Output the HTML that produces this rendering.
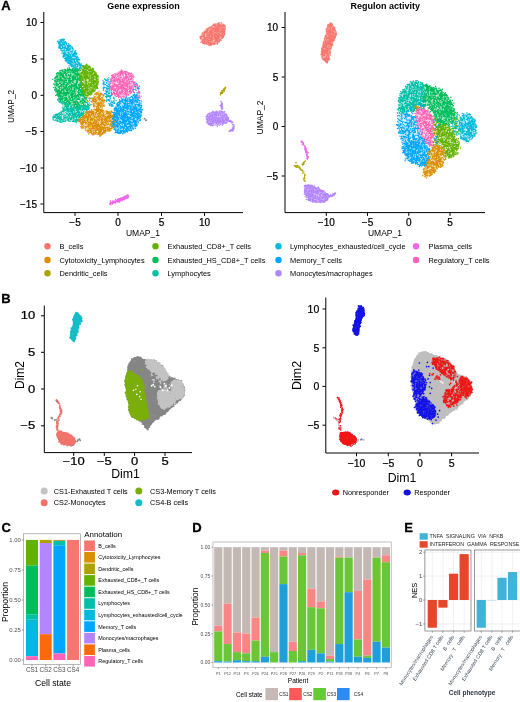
<!DOCTYPE html>
<html><head><meta charset="utf-8"><title>Figure</title>
<style>
html,body{margin:0;padding:0;background:#fff}
svg{display:block;font-family:"Liberation Sans",Arial,sans-serif}
svg text{white-space:pre}
</style></head><body>
<svg width="520" height="702" viewBox="0 0 520 702">
<rect width="520" height="702" fill="#fff"/>
<!-- Panel A -->
<text x="1.2" y="10.4" font-size="13" font-weight="bold" stroke="#000" stroke-width="0.3">A</text>
<text x="143.5" y="8.7" font-size="9" text-anchor="middle" font-weight="bold">Gene expression</text>
<text x="385.3" y="8.7" font-size="9" text-anchor="middle" font-weight="bold">Regulon activity</text>
<path d="M43.8 12V212.6H243" stroke="#000" stroke-width="1" fill="none"/>
<path d="M40.5 22.5h3M40.5 59h3M40.5 95.3h3M40.5 131.5h3M40.5 168h3M40.5 204h3M75 212.6v3.3M118 212.6v3.3M161.5 212.6v3.3M204.5 212.6v3.3" stroke="#000" stroke-width="1" fill="none"/>
<g stroke="#000" stroke-width="0.22">
<text x="37.0" y="26.1" font-size="10" text-anchor="end">10</text>
<text x="37.0" y="62.6" font-size="10" text-anchor="end">5</text>
<text x="37.0" y="98.9" font-size="10" text-anchor="end">0</text>
<text x="37.0" y="135.1" font-size="10" text-anchor="end">−5</text>
<text x="37.0" y="171.6" font-size="10" text-anchor="end">−10</text>
<text x="37.0" y="207.6" font-size="10" text-anchor="end">−15</text>
<text x="75" y="226.1" font-size="10" text-anchor="middle">−5</text>
<text x="118" y="226.1" font-size="10" text-anchor="middle">0</text>
<text x="161.5" y="226.1" font-size="10" text-anchor="middle">5</text>
<text x="204.5" y="226.1" font-size="10" text-anchor="middle">10</text>
</g>
<text font-size="8.3" text-anchor="middle" transform="translate(14.3 106.5) rotate(-90)">UMAP_2</text>
<text x="143" y="235.5" font-size="8.5" text-anchor="middle">UMAP_1</text>
<path d="M58.1 39.7L60.0 38.8L62.3 39.1L64.8 40.7L67.1 42.6L69.0 44.7L71.3 46.7L74.0 48.7L76.0 51.7L77.3 55.7L78.6 59.3L79.8 62.5L81.4 64.8L83.4 66.1L83.3 67.9L81.3 69.9L78.7 70.6L75.5 70.0L72.2 68.0L69.0 64.7L66.3 61.0L64.3 57.0L62.3 53.4L60.5 50.1L59.0 46.4L57.8 42.2Z" fill="#00BADE" fill-opacity="0.38"/>
<path d="M57.5 72.5L60.7 70.5L64.5 69.2L69.0 68.6L73.3 68.6L77.4 69.2L79.8 71.4L80.5 75.2L81.2 79.7L81.9 84.9L82.9 89.4L84.1 93.3L85.3 96.5L86.5 99.1L86.5 102.0L85.2 105.5L82.2 107.5L77.4 108.2L72.5 107.5L67.4 105.7L62.9 102.7L59.0 98.5L56.1 93.9L54.2 88.8L53.9 83.0L55.2 76.6Z" fill="#00BD5C" fill-opacity="0.38"/>
<path d="M59.1 98.7L62.9 101.7L67.5 104.3L72.8 106.2L77.6 106.9L82.0 106.4L85.4 105.5L87.8 104.2L88.7 105.5L88.2 109.3L86.9 112.9L84.6 116.1L81.7 119.1L78.3 121.8L75.3 122.6L72.7 121.3L69.1 121.0L64.5 121.6L60.3 121.9L56.5 121.8L53.8 120.8L52.1 118.7L52.0 116.6L53.3 114.6L56.0 113.3L60.0 112.6L62.3 110.9L63.0 108.1L62.1 105.2L59.7 102.3L58.1 99.9L57.5 98.1Z" fill="#00C1A7" fill-opacity="0.38"/>
<path d="M81.1 67.2L84.5 64.9L88.2 65.2L92.2 68.1L95.5 71.5L98.2 75.4L99.3 79.6L98.9 84.2L97.2 88.2L94.4 91.5L91.2 94.2L87.9 96.1L85.1 95.7L83.0 93.0L81.5 88.7L80.5 82.9L79.9 77.1L79.6 71.3Z" fill="#64B200" fill-opacity="0.38"/>
<path d="M94.2 94.4L96.8 92.1L99.2 91.8L101.8 93.4L103.6 95.8L104.7 98.9L104.9 101.9L104.3 104.8L103.1 107.2L101.4 109.1L99.1 109.9L96.4 109.6L94.2 108.1L92.8 105.4L92.2 101.9L92.8 97.6Z" fill="#DB8E00" fill-opacity="0.38"/>
<path d="M80.9 118.0L84.2 114.1L88.1 111.3L92.7 109.6L97.5 109.0L102.7 109.6L107.3 110.7L111.2 112.4L113.7 116.2L114.7 122.1L113.8 126.8L110.9 130.1L106.4 132.9L100.5 135.1L95.2 135.3L90.7 133.5L86.5 131.1L82.5 128.0L80.2 124.8L79.6 121.6Z" fill="#DB8E00" fill-opacity="0.38"/>
<path d="M116.1 104.1L119.4 100.6L124.6 98.3L131.7 97.3L136.9 98.1L140.2 100.8L141.7 106.0L141.4 113.7L140.1 119.9L137.9 124.5L134.5 128.1L129.9 130.7L125.0 132.6L119.9 133.8L116.2 132.8L114.2 129.5L113.0 124.6L112.7 118.2L113.0 112.7L113.9 108.2Z" fill="#00A6FF" fill-opacity="0.38"/>
<path d="M108.0 99.7h0M105.7 93.7h0M106.7 83.1h0M109.7 85.1h0M107.4 91.4h0M106.5 94.9h0M109.9 97.3h0M103.6 90.3h0M109.3 100.2h0M110.2 85.2h0M103.9 83.8h0M110.4 102.9h0M111.0 92.1h0M108.9 99.4h0M111.3 104.2h0M103.0 83.8h0M106.5 80.7h0M103.2 87.9h0M106.8 97.5h0M107.0 89.0h0M106.8 82.7h0M103.5 83.0h0M110.3 85.8h0M112.4 105.0h0M112.0 105.7h0M106.7 91.7h0M106.7 85.8h0M106.3 100.4h0M104.3 82.1h0M107.9 86.0h0M110.3 83.2h0M111.3 90.2h0M107.0 94.2h0M106.2 80.1h0M103.4 88.8h0M113.9 103.5h0M112.0 102.8h0M109.2 92.0h0M108.9 88.5h0M110.5 96.4h0M109.8 101.3h0M107.8 96.0h0M107.3 88.4h0M110.3 81.2h0M108.9 84.4h0M110.0 95.4h0M109.2 90.3h0M111.4 93.8h0M111.6 94.8h0M111.7 95.2h0M104.4 93.8h0M108.9 103.6h0M105.5 84.5h0M108.1 84.0h0M111.1 105.5h0M114.0 98.6h0M107.8 88.5h0M106.8 94.4h0M105.2 87.6h0M108.2 100.6h0M108.6 93.8h0M104.8 87.4h0" stroke="#00A6FF" stroke-width="1.45" stroke-linecap="round" fill="none"/>
<path d="M106.6 92.5h0M108.1 79.5h0M106.5 82.6h0M106.2 91.0h0M103.7 82.1h0M106.9 87.8h0M108.0 80.4h0M105.5 91.0h0M108.1 81.7h0M107.3 78.9h0M112.3 102.5h0M111.5 101.0h0M112.8 102.4h0M113.1 105.9h0M108.8 96.0h0M113.5 98.0h0M104.3 87.7h0M111.1 95.4h0M107.7 91.2h0M110.7 84.0h0M110.9 87.2h0M109.3 87.7h0M110.8 105.1h0M107.4 96.2h0M114.5 103.2h0M107.8 80.8h0M110.3 98.7h0M106.4 92.5h0M104.6 84.6h0M105.5 96.4h0M105.7 80.6h0M103.0 80.8h0M111.5 92.2h0M108.6 95.5h0M109.6 96.4h0M106.6 99.1h0M113.3 101.1h0M113.9 97.3h0M103.8 86.9h0M112.2 105.2h0M103.9 84.7h0" stroke="#00BADE" stroke-width="1.45" stroke-linecap="round" fill="none"/>
<path d="M106.3 96.4h0M105.5 79.4h0M103.6 95.2h0M110.6 83.1h0M116.0 100.5h0M114.3 102.3h0M109.3 89.3h0M107.5 90.1h0M108.3 86.7h0M109.5 105.5h0M108.0 88.6h0M107.6 86.2h0M108.0 92.2h0M108.6 96.0h0M106.8 101.3h0M113.9 101.7h0M109.5 93.4h0M109.5 104.4h0M108.5 96.5h0M108.8 77.6h0M106.4 88.9h0M109.3 86.6h0M104.6 79.0h0M111.8 106.2h0M114.2 100.0h0" stroke="#00C1A7" stroke-width="1.45" stroke-linecap="round" fill="none"/>
<path d="M133.2 91.1h0M134.8 100.2h0M139.3 86.3h0M139.1 92.6h0M139.2 88.6h0M133.2 95.2h0M134.2 95.9h0M136.1 99.2h0M136.4 83.4h0M135.5 97.0h0M137.5 88.7h0M134.4 92.8h0M138.3 87.6h0M137.1 92.7h0M138.2 92.8h0M133.0 98.5h0M134.5 97.5h0M137.0 85.0h0M137.2 99.2h0M133.0 89.2h0M132.1 87.4h0M137.3 95.9h0M139.0 91.5h0M135.3 95.1h0M134.8 86.4h0M134.8 94.8h0M138.5 89.0h0M133.3 94.9h0M139.2 91.9h0M139.2 97.3h0M131.6 89.3h0M134.1 84.2h0M132.2 90.3h0M139.0 95.9h0M137.1 85.7h0M134.5 84.8h0M136.2 90.6h0M134.0 89.6h0M132.7 87.2h0M137.3 87.6h0M136.1 95.5h0M135.5 86.8h0M133.8 92.3h0M137.2 98.7h0M136.9 94.5h0M135.2 82.1h0M134.5 96.2h0M134.5 94.5h0M132.7 97.2h0" stroke="#00A6FF" stroke-width="1.45" stroke-linecap="round" fill="none"/>
<path d="M141.2 96.3h0M138.0 93.0h0M140.0 97.6h0M137.9 86.4h0M137.8 97.2h0M136.4 99.0h0M137.3 84.2h0M136.1 90.1h0M136.0 88.0h0M135.5 83.9h0M139.4 97.0h0M133.2 87.7h0M138.4 97.9h0M139.5 92.7h0M133.3 87.2h0M135.5 89.2h0M137.1 84.9h0M138.7 90.9h0M134.3 92.5h0M138.9 91.9h0M139.8 93.3h0M135.5 84.9h0M136.2 85.8h0M137.6 86.0h0M133.1 84.3h0M139.2 95.2h0M137.7 94.7h0M139.8 97.9h0M136.5 96.5h0M139.2 92.0h0" stroke="#FF63B6" stroke-width="1.45" stroke-linecap="round" fill="none"/>
<path d="M111.0 77.9L113.5 74.2L117.3 71.8L122.5 70.8L127.1 71.4L131.1 73.6L133.5 77.3L134.3 82.4L133.8 87.4L132.0 92.0L128.6 95.3L123.7 97.3L119.3 97.6L115.4 96.3L112.4 93.7L110.3 89.6L109.4 85.7L109.7 81.8Z" fill="#FF63B6" fill-opacity="0.38"/>
<path d="M88.4 104.9h0M89.1 94.4h0M87.8 104.7h0M87.0 102.9h0M86.3 98.6h0M83.4 96.2h0M90.3 98.1h0M88.6 104.9h0M90.0 105.1h0M84.4 100.5h0M84.4 101.2h0M91.1 104.4h0M89.1 98.6h0M87.5 103.0h0M84.7 97.9h0M89.7 100.3h0M88.7 106.7h0M85.1 97.2h0M91.3 101.5h0" stroke="#00C1A7" stroke-width="1.45" stroke-linecap="round" fill="none"/>
<path d="M85.5 101.6h0M84.8 99.2h0M87.9 96.9h0M86.4 97.4h0M88.0 101.5h0M88.3 105.2h0M87.6 100.7h0M86.9 95.5h0M89.5 103.0h0M89.5 98.0h0M89.6 103.1h0M87.5 97.1h0M90.9 98.6h0" stroke="#DB8E00" stroke-width="1.45" stroke-linecap="round" fill="none"/>
<path d="M144.2 119.0h0M145.6 120.2h0M146.0 120.1h0M146.5 120.3h0M145.9 120.0h0M145.9 120.5h0M144.7 118.4h0M144.8 118.8h0" stroke="#7f8f7a" stroke-width="1.45" stroke-linecap="round" fill="none"/>
<path d="M201.5 35.1L202.5 33.4L203.7 31.8L205.1 30.3L206.6 28.8L208.4 27.2L210.2 26.0L212.2 24.9L214.4 24.0L216.6 23.3L218.7 23.0L220.6 23.0L222.2 23.3L223.8 24.0L224.8 25.1L225.4 26.5L225.6 28.4L225.4 30.6L224.9 32.8L224.3 34.8L223.5 36.6L222.5 38.4L221.3 40.0L219.9 41.5L218.4 42.8L216.6 44.0L214.8 44.8L212.8 45.3L210.6 45.4L208.4 45.2L206.4 44.7L204.7 44.1L203.2 43.4L202.1 42.4L201.2 41.5L200.5 40.6L200.2 39.7L200.1 38.8L200.3 37.8L200.8 36.5Z" fill="#F8766D" fill-opacity="0.5"/>
<path d="M222.9 92.2h0M221.4 93.4h0M224.5 89.2h0M221.0 92.9h0M221.8 93.5h0M223.9 89.9h0M224.8 89.3h0M225.0 87.8h0M225.3 88.4h0M223.4 89.3h0M224.5 88.7h0M220.7 92.8h0M223.0 90.7h0M224.6 90.9h0M223.9 89.0h0M220.5 92.8h0M224.0 88.8h0M223.6 89.6h0M224.0 89.7h0M222.1 91.4h0M221.7 93.4h0M224.3 89.4h0M222.7 92.2h0M223.6 89.8h0M223.5 90.7h0M222.3 93.3h0M220.3 94.6h0M221.9 91.9h0M222.2 92.1h0M223.5 89.9h0M224.6 89.6h0M220.7 93.3h0M223.0 90.5h0M225.4 87.9h0M220.5 94.0h0M221.8 92.1h0M225.7 87.6h0M225.2 87.1h0M221.7 92.4h0M224.9 88.4h0M221.8 92.5h0M221.8 90.8h0M221.6 92.5h0M220.5 94.7h0M223.9 90.0h0" stroke="#AEA200" stroke-width="1.45" stroke-linecap="round" fill="none"/>
<path d="M220.9 104.6h0M221.7 107.1h0M222.5 108.8h0M222.5 106.3h0M221.4 101.9h0M222.0 107.8h0M221.6 102.1h0M221.3 103.6h0M221.7 103.7h0M221.6 109.0h0M222.2 109.1h0M221.3 101.9h0M221.9 106.5h0M221.6 107.4h0M221.7 107.6h0M222.3 107.8h0M222.4 104.3h0M222.3 108.6h0M221.2 106.3h0M221.0 104.9h0M221.3 105.7h0M221.2 107.9h0M220.2 105.8h0M221.3 104.6h0M221.7 105.3h0M220.9 101.4h0M221.8 108.8h0M222.8 108.3h0M222.2 103.4h0M221.4 104.2h0" stroke="#B385FF" stroke-width="1.45" stroke-linecap="round" fill="none"/>
<path d="M207.2 114.5L208.8 113.5L210.4 112.6L212.3 111.9L214.4 111.2L216.6 110.8L218.6 110.5L220.4 110.5L221.9 110.8L223.1 111.2L224.3 112.0L225.4 113.0L226.5 114.2L227.5 115.8L228.2 117.2L228.6 118.6L228.6 119.9L228.4 121.1L227.8 122.2L226.9 123.1L225.8 123.8L224.2 124.2L222.6 124.7L220.9 125.2L219.0 125.6L217.0 125.9L215.1 126.1L213.2 125.9L211.4 125.6L209.6 124.9L208.2 124.0L207.1 122.7L206.2 121.0L205.8 119.0L205.8 117.2L206.2 115.8Z" fill="#B385FF" fill-opacity="0.5"/>
<path d="M232.9 124.8h0M230.3 121.0h0M232.6 131.0h0M229.8 121.4h0M233.3 127.8h0M227.9 120.0h0M232.3 129.5h0M234.0 128.3h0M232.3 130.7h0M228.1 119.7h0M230.9 121.0h0M232.5 122.7h0M232.8 125.0h0M228.1 118.9h0M227.4 119.9h0M230.1 130.6h0M233.7 128.1h0M229.3 121.5h0M234.1 126.6h0M228.5 119.8h0M232.6 127.9h0M230.8 129.5h0M230.3 120.8h0M234.0 126.8h0M231.7 121.4h0M231.0 121.7h0M232.6 128.8h0M233.4 124.7h0M233.3 128.8h0M231.8 130.0h0M233.9 124.8h0M232.5 122.2h0M225.7 119.0h0M233.4 128.0h0M232.5 122.7h0M227.9 118.3h0M232.7 129.4h0M233.2 124.7h0M233.5 126.8h0M233.0 125.1h0M230.6 131.2h0M229.9 130.6h0M232.9 122.6h0M229.3 120.7h0M233.1 127.0h0M231.8 123.1h0M229.1 131.1h0M231.1 121.2h0M228.9 131.5h0M230.5 130.5h0M232.1 122.3h0M233.0 128.4h0M230.2 120.4h0M234.4 126.1h0M230.4 121.4h0M233.6 130.0h0M231.2 130.7h0M231.0 121.3h0M233.1 129.4h0M230.8 121.5h0" stroke="#B385FF" stroke-width="1.45" stroke-linecap="round" fill="none"/>
<path d="M123.2 198.8h0M116.0 201.3h0M124.5 196.8h0M121.0 198.9h0M119.0 198.7h0M121.0 200.7h0M113.7 202.8h0M120.6 199.6h0M118.6 200.6h0M118.7 199.8h0M118.1 199.8h0M114.5 202.1h0M124.4 196.8h0M126.0 198.2h0M125.9 197.6h0M119.8 199.2h0M118.0 200.4h0M126.3 196.7h0M123.5 197.2h0M109.7 203.4h0M115.0 201.7h0M112.7 203.4h0M124.8 197.7h0M122.9 199.8h0M123.2 199.2h0M122.3 198.9h0M115.1 201.5h0M112.5 202.6h0M124.1 198.2h0M124.8 199.5h0M118.9 201.9h0M128.3 196.8h0M127.0 196.8h0M118.2 200.5h0M123.6 198.5h0M122.2 198.0h0M121.9 198.5h0M115.6 203.0h0M111.8 202.8h0M112.7 201.3h0M123.2 197.5h0M121.0 198.7h0M118.4 201.4h0M121.9 198.0h0M122.9 199.5h0M109.9 204.2h0M118.0 200.7h0M126.3 197.3h0M115.2 201.5h0M123.5 199.6h0M122.6 198.3h0M120.6 198.6h0M120.7 199.4h0M116.3 200.4h0M114.3 202.6h0M115.7 199.3h0M117.6 199.5h0M119.0 199.8h0M115.2 201.7h0M111.0 203.5h0M126.1 198.1h0M110.9 204.7h0M127.0 196.5h0M127.9 196.0h0M117.4 200.1h0M127.0 195.0h0M112.6 203.9h0M117.5 200.8h0M110.8 203.0h0M127.6 197.4h0M128.0 194.9h0M123.3 198.4h0M124.6 197.2h0M110.9 203.2h0M110.4 201.0h0M119.4 198.8h0M122.1 200.7h0M114.9 201.1h0M117.7 201.8h0M117.4 199.9h0M112.4 201.2h0M120.7 198.9h0M123.2 198.2h0M118.9 202.0h0M128.4 196.9h0M121.0 200.2h0M121.9 199.6h0M127.3 198.0h0M114.4 202.6h0M121.8 199.3h0M112.8 201.9h0M123.7 198.1h0M118.4 198.9h0M112.2 202.4h0M126.6 195.9h0M127.3 197.6h0M123.5 197.2h0M117.4 200.1h0M122.9 198.5h0M116.4 201.5h0M124.0 198.6h0M120.3 199.1h0M112.3 202.9h0M116.4 201.5h0M119.8 202.1h0M126.1 198.0h0M120.7 198.0h0M117.8 201.9h0M124.3 198.6h0M127.1 195.8h0M119.5 200.4h0M128.0 197.9h0M128.8 196.3h0M111.9 202.4h0M122.5 197.5h0M121.6 200.2h0M121.2 198.7h0M114.4 202.4h0M124.4 199.8h0M127.0 197.4h0M118.1 201.2h0M125.3 196.0h0M113.1 202.1h0M113.7 200.9h0M115.4 201.2h0M116.2 200.9h0M121.4 198.9h0M123.7 198.9h0M122.0 199.7h0M115.8 201.3h0M121.7 199.9h0M118.8 201.8h0M114.5 201.9h0M119.2 201.1h0M110.6 201.9h0M115.5 201.9h0M124.5 197.5h0M122.0 198.3h0M114.9 202.0h0M120.4 200.7h0M126.5 196.8h0M120.6 200.7h0M118.8 199.9h0M120.8 199.0h0M126.3 198.4h0M124.9 199.0h0M121.3 200.3h0M122.2 200.3h0M111.2 202.4h0M125.3 196.9h0" stroke="#EF67EB" stroke-width="1.45" stroke-linecap="round" fill="none"/>
<path d="M72.7 66.4h0M65.2 47.3h0M64.3 53.7h0M70.4 56.8h0M63.7 43.1h0M74.0 54.5h0M71.2 47.0h0M70.8 64.8h0M74.2 61.9h0M71.3 66.4h0M66.4 58.5h0M66.5 43.1h0M74.1 58.9h0M68.8 46.5h0M81.4 67.3h0M72.2 51.8h0M69.3 46.2h0M70.9 56.2h0M58.8 43.3h0M68.9 57.1h0M73.1 59.7h0M67.8 55.0h0M77.1 65.6h0M63.5 50.9h0M62.9 50.5h0M67.7 47.4h0M77.4 56.7h0M74.8 62.4h0M66.6 50.5h0M63.2 40.3h0M72.7 54.3h0M72.7 58.7h0M68.9 60.0h0M76.3 64.9h0M64.7 47.1h0M77.7 59.5h0M78.4 69.9h0M66.0 48.1h0M80.6 64.9h0M72.7 58.7h0M75.0 59.0h0M79.4 63.5h0M80.1 67.1h0M61.1 39.8h0M67.5 46.5h0M69.7 58.7h0M67.2 56.3h0M63.5 47.4h0M65.4 52.3h0M72.8 48.6h0M62.6 43.4h0M60.5 41.9h0M66.8 60.4h0M79.5 65.3h0M75.5 51.0h0M65.8 56.1h0M77.8 66.6h0M60.0 45.6h0M79.3 59.7h0M82.0 65.7h0M76.7 64.0h0M76.7 53.3h0M67.7 52.9h0M72.0 51.6h0M71.0 62.1h0M77.5 64.7h0M60.7 45.0h0M73.2 53.4h0M64.7 49.1h0M75.4 52.7h0M80.9 67.8h0M64.6 53.5h0M64.1 43.3h0M60.3 43.9h0M63.8 55.2h0M64.2 54.8h0M73.7 55.2h0M60.3 41.4h0M64.1 53.6h0M79.7 63.7h0M75.6 66.3h0M74.2 63.8h0M66.3 44.0h0M71.7 64.6h0M74.5 58.7h0M68.9 60.9h0M71.5 63.9h0M69.0 52.0h0M75.9 54.8h0M72.5 55.9h0M70.7 58.5h0M64.2 52.5h0M77.4 60.5h0M71.0 64.6h0M70.2 57.6h0M79.6 59.8h0M74.3 52.0h0M72.5 50.1h0M70.8 63.2h0M70.4 48.8h0M78.2 62.8h0M69.6 61.2h0M71.3 59.6h0M76.2 57.1h0M68.1 45.6h0M65.6 48.1h0M66.4 51.9h0M66.5 57.0h0M81.9 67.3h0M67.8 47.4h0M67.5 55.5h0M61.4 48.5h0M75.2 62.9h0M67.2 58.2h0M63.6 53.9h0M71.3 58.4h0M65.5 48.4h0M63.6 40.9h0M69.9 62.9h0M62.1 50.0h0M74.7 62.7h0M65.8 52.8h0M68.9 59.0h0M61.7 43.2h0M62.1 48.7h0M62.0 43.3h0M68.7 52.6h0M82.2 66.5h0M75.5 58.2h0M83.4 66.1h0M60.8 48.6h0M72.3 59.5h0M75.9 56.6h0M65.9 55.7h0M76.2 52.9h0M79.0 62.8h0M61.9 44.2h0M65.0 53.6h0M65.1 42.5h0M76.4 59.6h0M62.5 47.2h0M72.3 65.6h0M59.4 47.6h0M76.7 58.1h0M65.3 60.7h0M74.6 61.8h0M66.8 61.6h0M68.1 47.4h0M62.9 48.0h0M61.9 40.2h0M68.8 44.8h0M76.6 68.0h0M65.5 56.6h0M70.6 64.6h0M79.9 65.0h0M58.7 47.7h0M68.8 43.8h0M72.9 62.5h0M72.6 63.9h0M73.4 54.7h0M71.6 61.9h0M68.5 47.6h0M66.7 57.2h0M75.5 56.6h0M65.2 45.0h0M79.4 68.1h0M61.9 53.3h0M69.6 63.4h0M68.1 60.3h0M60.7 47.2h0M59.0 45.9h0M67.3 58.7h0M64.6 52.3h0M80.1 68.5h0M64.4 42.9h0M68.9 57.9h0M76.1 54.2h0M69.2 56.2h0M77.2 59.2h0M77.4 68.3h0M67.9 52.6h0M68.1 51.4h0M63.2 38.9h0M78.1 57.8h0M75.6 64.2h0M63.9 45.6h0M65.4 47.7h0M65.8 59.7h0M61.8 41.9h0M75.7 61.9h0M66.2 59.3h0M65.6 58.2h0M63.7 44.7h0M71.2 57.4h0M60.4 44.7h0M69.6 45.3h0M60.7 48.5h0M58.1 42.0h0M66.8 50.0h0M76.6 57.1h0M74.3 55.2h0M59.7 42.9h0M76.5 65.3h0M61.7 39.4h0M80.5 70.1h0M67.9 49.5h0M68.8 44.9h0M75.7 53.4h0M80.6 66.5h0M65.5 47.2h0M60.7 40.2h0M70.7 51.5h0M82.1 68.0h0M61.2 43.9h0M73.7 63.5h0M69.1 60.2h0M59.3 46.7h0M68.2 55.6h0M65.4 58.7h0M67.8 50.6h0M59.9 46.1h0M74.1 70.7h0M83.1 66.1h0M80.3 66.5h0M72.4 53.8h0M64.1 43.0h0M61.2 44.6h0M72.9 52.6h0M67.3 45.1h0M67.4 52.7h0M61.5 45.5h0M72.7 47.9h0M73.5 53.8h0M71.5 62.0h0M68.8 52.4h0M74.5 60.9h0M71.7 66.0h0M69.0 53.2h0M62.4 51.0h0M66.0 57.9h0M79.5 68.7h0M66.8 55.9h0M58.8 43.1h0M64.4 56.1h0M76.7 65.7h0M80.2 64.8h0M62.8 49.7h0M74.5 58.8h0M62.7 50.8h0M72.2 62.2h0M67.7 57.2h0M66.8 51.9h0M73.9 66.7h0M75.9 53.3h0M72.9 54.9h0M70.4 45.8h0M69.3 59.1h0M63.5 57.3h0M59.4 45.7h0M80.6 68.8h0M75.9 67.6h0M79.9 67.0h0M70.5 55.4h0M67.4 48.5h0M74.0 63.6h0M58.6 43.2h0M71.1 62.3h0M74.9 58.9h0M59.8 46.6h0M68.4 56.3h0M77.1 69.2h0M68.8 55.0h0M75.6 50.8h0M75.8 53.0h0M68.2 50.7h0M71.1 47.7h0M65.4 43.4h0M71.3 48.8h0M79.5 65.4h0M64.6 58.4h0M72.1 54.2h0M73.5 70.7h0M74.6 64.6h0M72.3 66.6h0M64.3 55.5h0M78.5 59.2h0M66.7 60.2h0M72.9 59.1h0M70.0 45.9h0M75.4 52.6h0M74.7 68.6h0M66.1 54.0h0M71.4 60.9h0M73.9 59.9h0M69.1 60.5h0M66.2 57.2h0M69.0 57.2h0M63.9 50.9h0M60.9 50.1h0M65.2 48.5h0M69.1 49.7h0M78.3 62.5h0M61.8 47.9h0M77.8 69.7h0M73.5 66.8h0M67.2 59.3h0M76.3 53.1h0M74.7 60.0h0M68.5 63.2h0M62.7 42.0h0M69.4 45.3h0M77.6 65.3h0M82.3 66.6h0M78.9 62.6h0M77.8 61.7h0M74.6 55.1h0M66.5 48.5h0M67.5 52.9h0M63.0 56.3h0M77.0 66.2h0M70.6 63.7h0M69.4 50.0h0M66.8 48.9h0M69.1 44.9h0M59.5 42.0h0M66.1 52.4h0M61.8 41.2h0M63.1 42.6h0M74.6 53.6h0M70.7 56.5h0M69.0 60.7h0M65.6 42.0h0M62.6 46.2h0M64.8 52.1h0M69.1 48.3h0M69.8 65.1h0M59.1 48.3h0M70.5 60.6h0M74.6 61.9h0M61.6 45.0h0M65.9 48.6h0M67.3 50.4h0M74.2 67.5h0M66.9 44.8h0M67.4 58.8h0M74.6 53.2h0M69.9 60.2h0M63.8 41.2h0M62.8 44.5h0M69.3 48.5h0M57.5 41.3h0M69.0 48.0h0M80.6 65.2h0M73.8 65.7h0M77.6 66.1h0M69.0 65.7h0M70.0 47.1h0M70.4 48.8h0M76.4 64.8h0M62.2 44.7h0M67.3 54.4h0M82.0 69.8h0M81.1 65.7h0M74.4 56.0h0M61.2 44.6h0M67.7 49.3h0M69.2 47.6h0M68.6 49.1h0M66.9 59.4h0M70.5 61.7h0M75.8 65.4h0M79.0 60.1h0M65.5 41.6h0M75.1 62.2h0M75.1 65.4h0M59.4 44.5h0M63.6 52.7h0M66.1 58.9h0M72.2 61.6h0M76.8 61.0h0M68.8 54.8h0M72.0 46.9h0M64.9 50.1h0M70.1 49.6h0M67.7 50.9h0M77.9 62.4h0M63.4 56.3h0M62.9 39.6h0M68.3 59.0h0M70.2 54.4h0M71.7 53.0h0M69.4 51.7h0M61.8 48.0h0M64.3 47.4h0M65.4 46.3h0M67.3 54.8h0M74.9 70.4h0M69.3 52.1h0M59.5 44.6h0M74.1 56.8h0M68.4 57.3h0M79.7 69.0h0M81.3 63.9h0M67.3 45.3h0M79.2 64.9h0M72.3 48.2h0M64.3 39.4h0M63.3 54.0h0M72.2 56.4h0M67.9 48.1h0M64.6 44.3h0M81.4 67.1h0M66.1 61.1h0M70.4 48.0h0M67.3 57.9h0M76.8 64.7h0M78.4 69.7h0M76.1 69.6h0M65.0 54.8h0M64.3 42.9h0M68.7 62.0h0M66.1 54.4h0M78.7 63.7h0M67.5 62.8h0M73.4 49.8h0" stroke="#00BADE" stroke-width="1.45" stroke-linecap="round" fill="none"/>
<path d="M74.3 78.5h0M62.5 87.1h0M74.6 85.1h0M78.0 105.9h0M59.8 77.9h0M74.3 84.8h0M65.1 89.0h0M77.1 105.7h0M84.1 102.0h0M65.3 102.5h0M77.4 75.3h0M77.4 95.7h0M83.6 95.1h0M71.3 85.7h0M55.9 77.6h0M74.0 84.5h0M77.7 87.2h0M82.7 99.1h0M69.8 81.9h0M60.8 79.5h0M66.8 82.4h0M59.3 87.3h0M71.0 72.0h0M64.5 78.3h0M58.8 88.5h0M60.2 73.6h0M76.5 86.1h0M75.4 87.2h0M70.3 81.3h0M67.7 87.5h0M64.5 101.5h0M61.3 78.5h0M65.1 99.5h0M82.1 90.9h0M65.7 94.2h0M80.3 77.5h0M75.2 97.5h0M66.2 74.0h0M73.4 77.4h0M67.3 89.5h0M56.7 90.0h0M74.6 70.0h0M71.0 73.9h0M75.6 82.1h0M76.4 79.4h0M57.2 74.7h0M62.6 74.7h0M60.8 91.1h0M66.8 101.3h0M70.0 90.6h0M77.0 101.4h0M72.8 69.3h0M68.3 69.9h0M73.3 71.3h0M70.4 76.2h0M76.3 97.0h0M62.0 90.5h0M64.1 78.7h0M77.5 72.4h0M60.0 72.9h0M81.0 89.5h0M70.0 91.9h0M79.8 92.4h0M70.6 81.7h0M71.5 86.3h0M73.1 72.1h0M73.5 94.5h0M62.7 91.8h0M64.4 81.4h0M69.5 78.9h0M65.5 75.2h0M65.6 97.2h0M82.3 92.7h0M57.3 94.7h0M77.9 104.1h0M71.5 80.3h0M64.7 77.9h0M75.5 106.1h0M56.0 83.4h0M65.3 72.0h0M73.1 106.4h0M62.4 97.7h0M84.5 97.2h0M74.7 75.1h0M62.6 75.1h0M83.2 100.4h0M56.3 88.7h0M59.5 98.9h0M72.4 107.1h0M76.5 72.9h0M67.0 90.0h0M60.5 78.6h0M62.4 75.7h0M65.1 78.6h0M70.1 104.2h0M73.3 95.1h0M58.8 89.9h0M61.0 81.8h0M64.5 100.3h0M61.9 90.7h0M73.2 82.6h0M63.8 95.7h0M69.1 97.3h0M59.0 74.3h0M77.0 83.9h0M65.4 73.4h0M60.9 99.9h0M62.7 89.2h0M81.0 91.7h0M79.2 108.3h0M71.9 76.9h0M57.2 79.9h0M71.7 70.1h0M81.5 92.2h0M68.6 74.6h0M70.3 105.5h0M72.7 86.8h0M74.2 89.6h0M75.2 77.1h0M62.1 91.3h0M72.9 104.9h0M61.5 74.4h0M59.8 88.4h0M63.9 86.0h0M76.9 80.2h0M75.9 69.8h0M70.6 105.9h0M62.8 87.1h0M70.1 101.2h0M68.0 72.3h0M77.5 78.7h0M64.1 74.5h0M63.9 92.2h0M63.1 70.6h0M72.9 96.7h0M57.3 85.8h0M65.8 80.2h0M74.9 96.9h0M66.9 87.9h0M61.8 78.4h0M78.3 85.9h0M69.2 80.7h0M57.6 80.2h0M80.3 81.4h0M71.6 90.6h0M70.3 99.9h0M55.0 89.7h0M71.4 87.2h0M68.2 89.4h0M75.1 96.3h0M84.0 94.4h0M63.4 74.3h0M56.0 79.2h0M57.9 95.2h0M75.4 94.0h0M66.1 85.7h0M52.8 79.3h0M72.2 76.7h0M80.6 87.4h0M64.7 71.9h0M63.4 92.2h0M64.1 71.6h0M73.6 80.2h0M80.6 95.2h0M76.2 105.1h0M80.2 81.7h0M72.6 80.3h0M60.1 77.6h0M57.8 78.0h0M59.9 95.9h0M61.6 70.1h0M67.9 76.6h0M77.2 76.9h0M72.2 75.8h0M69.7 103.4h0M63.6 90.3h0M67.7 70.3h0M65.0 96.6h0M67.0 101.3h0M60.0 87.9h0M71.7 100.2h0M53.7 84.0h0M69.9 91.3h0M59.5 90.4h0M77.6 96.8h0M62.5 86.1h0M62.2 84.5h0M60.4 79.2h0M81.8 100.5h0M78.2 88.0h0M83.4 104.3h0M55.5 87.8h0M61.1 86.0h0M56.9 82.5h0M68.7 104.7h0M69.9 76.9h0M69.7 82.6h0M60.9 78.5h0M69.7 92.8h0M63.8 88.7h0M70.9 81.0h0M61.4 84.5h0M77.9 74.5h0M63.1 72.1h0M67.8 84.0h0M75.9 104.5h0M62.4 102.0h0M63.5 83.8h0M64.6 96.1h0M60.2 86.4h0M76.2 75.0h0M70.5 102.5h0M59.1 87.3h0M60.6 73.3h0M69.3 88.5h0M74.8 101.8h0M76.8 81.5h0M68.9 95.0h0M81.3 95.6h0M70.7 72.6h0M66.1 104.2h0M61.1 72.9h0M70.9 99.1h0M67.4 101.2h0M67.1 101.8h0M59.1 79.8h0M69.8 94.8h0M62.3 95.9h0M64.1 103.2h0M82.1 102.6h0M61.9 91.7h0M56.8 85.5h0M72.5 78.9h0M68.6 84.2h0M85.8 99.0h0M63.8 76.5h0M83.8 99.2h0M81.0 81.7h0M58.0 73.2h0M66.8 101.6h0M56.7 85.3h0M65.2 104.9h0M58.6 94.7h0M64.2 93.6h0M79.7 100.9h0M62.3 74.1h0M61.4 73.0h0M79.5 107.1h0M66.8 71.0h0M79.1 79.6h0M75.6 91.8h0M71.2 92.6h0M66.5 90.0h0M62.1 76.0h0M68.3 85.7h0M70.2 78.7h0M64.9 69.5h0M57.8 94.0h0M78.9 79.5h0M77.1 106.3h0M57.4 90.8h0M69.3 81.1h0M64.6 71.4h0M75.3 76.9h0M67.8 105.2h0M64.6 80.7h0M73.0 78.4h0M74.4 83.9h0M72.0 85.1h0M76.7 106.9h0M64.6 78.9h0M58.4 79.4h0M63.1 75.3h0M61.5 80.6h0M82.6 86.1h0M70.7 79.9h0M60.1 92.8h0M74.0 75.7h0M71.0 86.2h0M62.1 90.7h0M80.2 78.3h0M69.9 69.3h0M72.0 93.7h0M67.9 103.6h0M78.6 85.7h0M63.4 73.9h0M65.4 83.2h0M62.6 88.8h0M56.3 90.1h0M75.3 72.4h0M62.0 97.9h0M65.5 103.4h0M61.5 80.3h0M76.0 101.8h0M71.9 84.9h0M75.1 77.6h0M80.4 94.5h0M60.5 81.9h0M67.8 92.5h0M76.7 83.4h0M80.5 89.3h0M76.1 82.2h0M73.2 96.1h0M65.7 88.0h0M80.3 106.4h0M64.1 71.2h0M81.6 86.6h0M85.7 99.7h0M65.1 102.2h0M71.9 96.5h0M82.4 92.5h0M65.8 93.6h0M66.9 96.5h0M71.4 97.8h0M81.1 91.2h0M84.1 100.5h0M64.2 104.3h0M66.4 98.5h0M62.1 93.3h0M81.9 103.8h0M65.3 87.1h0M72.1 82.3h0M77.6 107.3h0M66.2 102.4h0M80.5 102.8h0M74.7 72.3h0M73.2 96.8h0M77.2 103.1h0M64.4 72.3h0M61.6 79.0h0M79.5 85.4h0M80.6 95.6h0M82.7 99.0h0M65.5 92.9h0M72.7 99.6h0M80.3 80.2h0M77.8 79.4h0M61.9 80.2h0M60.7 70.4h0M60.1 81.7h0M57.5 77.5h0M68.7 102.0h0M58.0 78.1h0M75.8 84.9h0M73.1 97.9h0M75.1 102.0h0M56.7 80.4h0M55.9 89.2h0M73.6 78.6h0M55.4 86.8h0M57.9 75.2h0M64.8 97.0h0M66.0 84.7h0M59.3 75.2h0M79.8 85.8h0M67.6 92.1h0M58.4 84.7h0M63.0 100.9h0M61.5 80.2h0M70.9 84.0h0M75.4 82.8h0M80.8 78.4h0M75.3 84.7h0M71.2 89.5h0M74.1 71.4h0M61.9 82.3h0M62.8 94.5h0M64.2 81.9h0M55.6 81.8h0M72.4 77.8h0M58.4 73.2h0M82.0 79.0h0M64.5 91.9h0M63.0 81.8h0M84.0 105.3h0M58.8 97.0h0M59.5 80.9h0M77.3 99.4h0M78.3 84.5h0M68.1 105.9h0M68.4 92.4h0M84.0 101.8h0M78.4 91.8h0M62.1 97.9h0M67.1 96.8h0M83.0 92.7h0M73.7 79.1h0M63.6 77.3h0M68.8 93.7h0M77.2 97.7h0M64.6 81.3h0M77.2 106.4h0M60.3 86.1h0M79.8 80.8h0M77.5 83.7h0M74.6 86.0h0M80.7 90.9h0M84.7 101.6h0M73.8 93.0h0M80.3 99.9h0M81.2 86.6h0M74.9 72.3h0M77.1 82.6h0M67.0 76.1h0M79.4 77.8h0M82.5 87.8h0M67.8 93.2h0M70.3 94.4h0M77.5 80.2h0M74.0 91.1h0M70.5 105.7h0M58.2 95.5h0M79.8 80.2h0M56.0 85.4h0M76.4 79.4h0M62.0 80.8h0M66.1 80.1h0M62.3 96.4h0M66.6 96.7h0M68.7 81.0h0M59.8 77.8h0M64.0 77.6h0M83.5 96.1h0M75.9 101.9h0M61.8 98.6h0M64.0 95.0h0M60.9 83.0h0M75.6 105.3h0M66.1 75.5h0M56.6 95.0h0M64.5 74.4h0M86.1 98.9h0M57.7 84.2h0M69.6 103.8h0M79.1 70.0h0M69.1 99.7h0M71.3 95.2h0M80.7 90.9h0M63.2 75.2h0M60.3 93.5h0M79.9 101.1h0M64.2 75.6h0M72.8 105.6h0M79.2 84.4h0M83.2 99.4h0M63.4 82.1h0M73.1 105.5h0M62.7 85.5h0M60.7 100.5h0M76.6 86.9h0M67.7 78.7h0M79.0 88.4h0M55.7 95.4h0M77.5 93.1h0M66.4 99.6h0M74.4 76.5h0M68.8 96.9h0M74.1 88.2h0M76.5 73.7h0M74.1 86.2h0M80.3 107.4h0M57.3 83.2h0M67.5 90.9h0M84.0 92.9h0M63.4 94.6h0M63.8 90.2h0M56.8 90.6h0M70.0 94.4h0M72.9 91.3h0M78.7 73.9h0M79.1 93.6h0M76.9 84.3h0M80.0 106.2h0M70.3 103.9h0M82.6 90.2h0M83.0 102.8h0M56.5 73.8h0M67.2 88.9h0M74.3 90.4h0M82.2 99.9h0M57.8 81.2h0M83.1 99.5h0M58.7 87.7h0M78.7 88.3h0M86.2 102.2h0M77.8 78.4h0M60.7 81.0h0M61.8 85.1h0M69.4 96.7h0M75.6 74.4h0M82.8 92.7h0M70.4 87.5h0M70.7 102.6h0M66.2 90.3h0M73.9 102.7h0M62.7 98.7h0M73.6 85.6h0M79.7 105.5h0M74.1 95.2h0M59.7 81.3h0M70.9 73.9h0M68.2 84.1h0M57.5 92.8h0M68.6 75.3h0M80.5 85.4h0M68.0 72.4h0M63.9 79.5h0M55.2 80.8h0M60.6 77.4h0M75.6 75.0h0M63.4 73.9h0M73.3 102.4h0M81.1 87.1h0M80.3 99.8h0M74.9 100.1h0M66.0 97.2h0M71.6 97.9h0M77.6 71.3h0M67.6 91.5h0M76.0 83.1h0M55.1 80.7h0M74.4 73.1h0M61.1 82.5h0M85.3 104.9h0M64.8 78.9h0M76.1 73.4h0M65.4 100.4h0M67.6 72.2h0M69.6 75.7h0M68.5 78.8h0M80.8 96.1h0M60.9 97.1h0M77.1 88.2h0M62.7 77.4h0M67.4 78.7h0M76.0 104.1h0M75.0 74.4h0M55.1 77.3h0M73.9 102.0h0M79.5 96.4h0M76.3 83.2h0M73.6 72.6h0M77.5 102.3h0M79.8 89.4h0M82.8 95.2h0M72.5 76.3h0M79.7 98.1h0M62.6 77.0h0M78.0 105.8h0M56.2 81.3h0M63.1 101.5h0M69.3 102.3h0M73.8 99.1h0M65.9 103.0h0M83.9 96.3h0M72.5 70.0h0M84.3 94.8h0M74.7 100.7h0M61.5 93.4h0M75.5 98.7h0M83.1 92.7h0M58.0 76.7h0M82.5 91.6h0M64.2 99.8h0M74.5 72.7h0M61.7 99.4h0M71.8 97.4h0M65.5 70.4h0M65.9 105.2h0M77.6 77.2h0M81.1 94.9h0M63.5 78.1h0M61.0 83.8h0M65.8 80.6h0M81.9 98.7h0M77.0 106.1h0M81.5 93.9h0M76.7 99.8h0M78.5 103.0h0M65.7 83.2h0M67.3 73.0h0M70.7 99.1h0M83.5 102.3h0M64.8 88.2h0M80.4 90.4h0M68.2 84.0h0M70.3 102.7h0M65.3 99.3h0M64.0 79.0h0M64.1 84.5h0M69.6 89.1h0M76.8 100.7h0M61.7 92.0h0M69.2 77.6h0M64.6 77.8h0M71.1 71.0h0M72.2 85.0h0M56.0 91.1h0M77.9 73.5h0M67.1 76.3h0M71.2 101.2h0M61.5 74.5h0M58.5 91.9h0M54.6 90.1h0M79.9 100.0h0M75.8 68.5h0M68.4 78.0h0M70.7 73.9h0M77.3 84.5h0M60.3 75.5h0M74.1 90.8h0M79.0 104.6h0M79.7 74.1h0M59.7 70.9h0M65.0 98.9h0M58.7 86.6h0M73.3 76.0h0M75.9 82.2h0M71.3 90.1h0M62.6 84.8h0M79.6 103.5h0M81.8 91.4h0M82.2 99.7h0M67.2 99.3h0M75.3 70.3h0M76.6 69.3h0M66.6 103.3h0M70.1 76.1h0M74.0 106.1h0M60.7 88.1h0M63.1 80.6h0M64.5 76.5h0M66.0 94.7h0M72.8 86.6h0M78.7 90.4h0M81.9 91.8h0M81.7 101.9h0M76.2 82.2h0M69.6 72.4h0M77.5 93.9h0M58.5 94.6h0M77.9 70.8h0M54.6 80.6h0M64.8 70.7h0M58.1 77.6h0M55.2 83.9h0M78.5 96.7h0M74.7 88.9h0M80.7 91.4h0M74.6 98.2h0M80.9 77.4h0M80.7 94.3h0M63.5 79.8h0M58.3 90.6h0M86.3 98.9h0M58.7 73.1h0M62.9 73.9h0M59.8 98.3h0M63.7 89.7h0M73.5 75.5h0M79.8 80.9h0M68.1 80.1h0M68.8 82.1h0M64.8 73.3h0M61.8 85.2h0M57.8 77.4h0M67.6 93.1h0M71.7 81.9h0M75.9 97.2h0M62.0 78.3h0M74.2 84.1h0M71.6 81.8h0M61.4 99.6h0M82.0 106.7h0M58.2 74.7h0M56.6 80.9h0M83.6 92.8h0M60.8 72.3h0M78.4 92.9h0M59.8 80.5h0M68.4 92.7h0M59.6 82.8h0M74.2 99.4h0M60.8 83.8h0M64.1 102.0h0M64.8 82.3h0M70.4 91.1h0M76.9 71.8h0M61.6 90.3h0M69.5 85.5h0M57.5 79.9h0M84.2 105.7h0M54.9 84.8h0M66.9 86.1h0M78.2 73.1h0M56.3 76.7h0M58.7 94.1h0M66.8 92.2h0M69.8 85.4h0M81.1 105.8h0M76.5 82.2h0M67.6 69.5h0M62.7 99.8h0M69.5 103.2h0M75.3 90.7h0M79.4 89.1h0M76.4 87.6h0M65.2 98.9h0M85.4 102.0h0M69.2 86.6h0M66.0 86.5h0M59.9 101.4h0M82.9 107.6h0M76.5 108.1h0M78.2 94.9h0M69.2 69.3h0M59.2 94.9h0M59.1 98.7h0M68.8 102.6h0M58.9 79.6h0M83.7 100.0h0M75.6 106.0h0M75.6 71.0h0M66.2 93.1h0M73.8 90.2h0M70.8 69.8h0M65.1 98.9h0M60.3 98.9h0M61.2 85.3h0M63.6 72.0h0M78.6 103.8h0M70.1 78.8h0M77.2 69.4h0M61.8 75.2h0M81.3 91.2h0M75.7 72.4h0M73.4 97.4h0M70.0 75.9h0M59.5 94.4h0M76.8 83.8h0M71.4 89.0h0M59.6 83.5h0M74.2 88.2h0M60.4 98.9h0M79.9 95.0h0M76.2 77.8h0M82.5 92.3h0M59.9 96.3h0M75.2 90.9h0M69.7 98.7h0M78.1 91.7h0M57.8 77.5h0M74.9 74.1h0M72.3 93.3h0M78.7 106.6h0M68.8 80.4h0M59.9 82.2h0M71.2 94.3h0M61.7 89.4h0M78.5 96.1h0M58.6 73.1h0M82.2 88.0h0M65.5 95.7h0M75.9 107.6h0M68.3 78.4h0M69.3 67.8h0M57.3 72.7h0M77.8 96.1h0M61.0 79.3h0M78.8 83.7h0M71.7 88.8h0M73.3 68.6h0M67.0 98.7h0M73.2 104.6h0M64.4 87.6h0M61.8 75.2h0M57.6 75.7h0M60.6 86.1h0M66.0 99.4h0M80.6 89.8h0M76.0 86.9h0M63.6 86.7h0M75.3 106.0h0M75.0 71.3h0M73.5 103.0h0M76.4 73.0h0M66.8 76.4h0M76.0 96.4h0M77.8 81.8h0M74.4 76.4h0M84.1 106.9h0M77.1 76.6h0M65.8 99.9h0M69.2 84.1h0M69.5 83.1h0M82.9 94.5h0M67.5 73.9h0M65.8 85.5h0M67.2 74.0h0M59.8 91.4h0M77.5 96.2h0M76.2 95.4h0M65.5 78.5h0M67.5 84.0h0M82.2 105.6h0M73.4 79.5h0M68.1 104.4h0M73.3 96.3h0M77.3 107.9h0M76.0 73.0h0M70.0 103.9h0M73.2 97.0h0M70.8 83.7h0M78.2 75.5h0M66.0 84.8h0M77.9 98.7h0M71.8 93.9h0M62.5 91.0h0M80.7 85.5h0M78.4 88.9h0M69.5 92.9h0M60.0 76.6h0M59.5 90.2h0M76.6 96.1h0M60.0 81.1h0M59.4 95.1h0M66.1 77.8h0M63.5 76.0h0M77.5 104.8h0M74.4 104.9h0M68.5 86.9h0M61.3 86.7h0M78.5 73.5h0M68.4 90.0h0M60.9 93.6h0M62.3 91.0h0M72.6 98.8h0M83.8 106.0h0M70.9 79.6h0M60.4 98.4h0M79.2 99.6h0M80.6 90.4h0M82.2 94.4h0M74.0 101.2h0M75.5 98.1h0M79.2 78.8h0M71.5 102.2h0M79.0 102.8h0M82.7 93.2h0M78.6 97.4h0M78.0 92.3h0M75.0 95.8h0M70.8 94.9h0M61.4 90.5h0M74.8 91.4h0M60.9 75.2h0M75.3 73.6h0M79.5 75.7h0M79.1 83.8h0M60.1 95.7h0M80.5 82.1h0M69.7 94.4h0M64.4 84.0h0M73.1 81.8h0M80.0 87.8h0M72.5 82.3h0M61.8 89.2h0M82.4 100.2h0M57.0 81.9h0M69.6 97.7h0M82.2 107.9h0M60.3 77.5h0M80.0 88.1h0M60.8 95.3h0M76.9 82.3h0M71.3 83.9h0M66.9 82.1h0M81.8 87.3h0M61.6 85.7h0M85.3 94.2h0M56.8 84.2h0M68.7 70.7h0M84.8 106.9h0M57.2 90.3h0M65.0 76.8h0M63.1 69.9h0M75.5 82.6h0M76.9 100.4h0M71.2 82.5h0M58.4 94.2h0M75.5 97.9h0M83.7 92.2h0M72.4 97.9h0M79.7 81.1h0M77.3 95.0h0M75.7 77.7h0M65.9 74.6h0M66.7 84.7h0M58.3 93.8h0M80.7 91.5h0M56.6 76.3h0M70.9 106.2h0M75.6 97.1h0M73.3 81.1h0M73.4 69.9h0M67.5 100.4h0M61.1 93.3h0M77.5 74.7h0M73.8 105.3h0M81.4 89.0h0M59.3 93.0h0M73.5 72.7h0M70.8 75.1h0M74.9 88.0h0M65.7 82.6h0M75.5 104.6h0M67.7 79.2h0M77.3 77.3h0M60.1 79.4h0M58.3 96.4h0M62.7 83.8h0M62.9 83.5h0M65.1 83.0h0M75.9 75.8h0M77.3 82.5h0M57.3 76.9h0M63.2 101.0h0M58.4 90.0h0M80.1 89.6h0M68.9 86.3h0M67.0 94.0h0M73.2 106.6h0M61.2 74.9h0M75.1 93.7h0M80.9 101.2h0M79.2 94.3h0M72.5 72.5h0M82.1 92.7h0M68.8 106.4h0M60.0 75.9h0M80.1 76.3h0M80.5 84.8h0M75.1 91.4h0M67.1 90.3h0M76.1 73.7h0M83.3 100.8h0M60.9 77.6h0M67.0 99.6h0M70.0 80.2h0M78.1 75.4h0M76.9 98.6h0M59.1 91.5h0M73.3 108.0h0M63.1 87.0h0M67.3 78.9h0M61.0 95.9h0M73.8 77.9h0M69.6 80.4h0M81.1 83.1h0M72.8 105.4h0M69.1 92.8h0M61.8 95.6h0M78.3 92.5h0M81.2 87.3h0M72.4 91.8h0M72.7 68.7h0M62.7 70.2h0M74.5 101.7h0M74.9 100.2h0M65.6 69.6h0M67.4 75.8h0M64.5 78.5h0M59.4 95.0h0M72.8 100.8h0M84.5 98.9h0M73.1 107.0h0M71.9 70.4h0M57.6 81.6h0M74.6 92.0h0M76.5 69.6h0M60.8 92.3h0M75.1 85.6h0M61.8 80.7h0M78.1 97.5h0M54.6 78.4h0M68.3 101.2h0M71.5 96.2h0M60.0 86.2h0M71.8 75.2h0M66.7 87.1h0M80.4 108.0h0M77.2 73.8h0M67.8 68.1h0M68.2 89.4h0M80.6 81.9h0M75.2 95.0h0M70.7 93.7h0M69.0 92.9h0M67.9 104.9h0M76.9 82.6h0M71.2 88.3h0M77.7 88.3h0M75.5 76.9h0M75.4 79.3h0M75.6 84.3h0M78.5 80.0h0M64.8 92.4h0M73.3 106.8h0M59.5 96.6h0M62.1 71.3h0M68.5 86.7h0M71.7 86.4h0M60.1 95.2h0M62.8 80.2h0M78.8 96.9h0M76.8 105.3h0M73.7 79.1h0M67.5 91.7h0M65.5 94.6h0M78.8 93.1h0M56.0 91.8h0M64.9 97.6h0M76.7 88.9h0M77.0 74.0h0M79.9 106.4h0M83.4 100.6h0M72.4 78.0h0M71.5 100.9h0M75.8 101.6h0M66.5 76.0h0M76.4 104.7h0M79.4 89.7h0M72.1 70.5h0M66.5 95.3h0M73.3 71.5h0M78.8 94.1h0M71.1 86.3h0M62.1 79.9h0M56.9 79.3h0M75.3 90.3h0M71.6 88.7h0M84.3 102.0h0M61.7 89.8h0M76.6 94.7h0M75.6 91.1h0M78.8 84.0h0M64.6 93.6h0M74.9 104.5h0M75.0 88.5h0M66.4 86.4h0M63.0 93.8h0M81.0 91.3h0M76.1 106.0h0M84.5 94.8h0M60.3 90.2h0M66.3 103.7h0M63.0 96.9h0M76.8 70.7h0M80.4 101.8h0M67.0 80.2h0M59.6 83.1h0M69.0 89.1h0M74.5 102.2h0M67.6 83.0h0M81.9 86.9h0M75.0 79.4h0M77.0 83.7h0M79.4 86.9h0M82.4 86.6h0M75.7 78.2h0M73.3 95.6h0M58.8 90.5h0M68.5 101.8h0M69.1 69.8h0M71.4 86.6h0M84.2 96.5h0M80.2 82.9h0M82.9 101.4h0M58.4 94.9h0M84.2 94.1h0M72.2 90.6h0M63.5 98.9h0M67.5 93.8h0M79.0 96.3h0M81.5 94.6h0M59.4 73.5h0M70.4 75.7h0M85.5 97.5h0M72.3 94.7h0M75.6 79.3h0M69.4 70.8h0M80.8 99.6h0M57.5 91.8h0M76.5 84.7h0M66.4 98.1h0M53.5 87.6h0M62.1 87.0h0M72.9 85.4h0M83.0 103.5h0M78.4 99.2h0M70.5 79.3h0M73.0 93.6h0M57.3 75.9h0M75.5 103.3h0M66.5 90.6h0M76.2 90.6h0M69.1 94.4h0M76.6 100.7h0M72.9 95.5h0M60.2 74.9h0" stroke="#00BD5C" stroke-width="1.45" stroke-linecap="round" fill="none"/>
<path d="M81.9 118.0h0M84.3 107.5h0M71.8 117.5h0M78.3 111.7h0M69.1 115.7h0M71.1 117.4h0M74.1 118.7h0M72.1 109.1h0M64.9 114.9h0M73.3 111.9h0M77.4 109.9h0M78.5 109.8h0M65.8 105.9h0M83.6 111.7h0M86.4 111.9h0M89.4 105.4h0M80.8 113.8h0M71.7 111.3h0M79.7 119.7h0M69.1 116.7h0M77.5 120.3h0M61.4 102.2h0M87.4 106.3h0M57.0 118.0h0M59.6 100.0h0M70.2 107.9h0M63.2 111.3h0M61.3 114.6h0M67.4 105.3h0M65.8 106.5h0M83.3 113.7h0M82.3 114.3h0M83.2 107.8h0M63.0 114.4h0M76.6 116.9h0M79.0 113.1h0M69.0 114.9h0M64.6 117.2h0M69.7 113.4h0M76.4 110.3h0M63.0 109.1h0M81.2 108.0h0M76.5 122.6h0M60.6 119.1h0M78.0 114.4h0M77.3 120.8h0M57.6 121.1h0M82.1 108.0h0M78.8 107.9h0M65.2 107.3h0M85.6 108.6h0M64.4 109.8h0M68.1 108.1h0M70.4 114.7h0M87.2 106.6h0M67.8 110.4h0M83.1 114.7h0M72.5 106.4h0M72.2 114.8h0M68.5 120.5h0M72.8 109.8h0M85.2 109.0h0M57.0 115.0h0M77.3 109.2h0M75.8 114.8h0M71.1 110.0h0M79.2 114.1h0M76.2 116.7h0M60.0 116.9h0M63.1 118.4h0M67.4 119.5h0M69.3 113.0h0M81.1 117.8h0M75.2 121.1h0M64.0 119.1h0M62.7 119.2h0M58.2 99.1h0M66.5 117.8h0M67.0 119.4h0M65.8 102.5h0M70.5 108.4h0M81.8 107.3h0M66.5 113.4h0M62.7 112.4h0M61.8 122.3h0M55.5 114.9h0M71.7 118.5h0M74.1 111.6h0M67.3 117.2h0M77.3 110.9h0M53.2 119.7h0M78.3 109.2h0M88.1 107.3h0M65.0 106.6h0M73.3 120.3h0M71.6 106.6h0M58.3 119.3h0M82.0 110.3h0M75.6 120.0h0M67.7 111.6h0M68.1 106.4h0M88.8 109.5h0M57.7 114.1h0M71.9 116.0h0M66.6 103.3h0M69.3 113.9h0M77.8 108.9h0M72.6 107.4h0M77.7 112.1h0M86.2 114.1h0M70.8 108.6h0M84.6 107.3h0M61.7 120.5h0M59.1 119.2h0M66.7 107.5h0M64.6 103.4h0M68.9 109.1h0M83.0 115.9h0M75.3 113.4h0M70.8 114.3h0M73.0 113.9h0M58.1 120.2h0M57.4 115.9h0M55.8 119.9h0M68.7 111.3h0M85.6 106.6h0M84.1 107.9h0M82.9 109.6h0M74.4 113.7h0M78.8 111.8h0M73.7 110.9h0M75.5 116.5h0M55.4 116.4h0M69.9 114.1h0M80.0 115.9h0M72.5 111.2h0M67.3 110.2h0M80.1 117.7h0M86.3 110.3h0M70.3 119.3h0M74.1 117.4h0M74.5 110.3h0M70.9 117.5h0M55.4 114.6h0M67.8 119.9h0M65.5 119.9h0M63.7 120.5h0M75.0 114.1h0M69.0 109.2h0M69.5 116.2h0M59.3 119.0h0M78.6 107.2h0M71.4 110.9h0M65.2 110.5h0M64.9 115.1h0M71.4 109.6h0M79.4 121.4h0M80.9 109.1h0M61.4 119.3h0M78.6 115.6h0M74.5 108.2h0M60.6 101.7h0M75.6 121.3h0M60.2 122.3h0M62.2 112.2h0M82.1 114.2h0M71.4 111.3h0M69.9 114.7h0M62.1 119.2h0M55.5 117.4h0M83.8 115.9h0M68.4 118.7h0M66.5 110.5h0M57.7 117.8h0M62.8 119.9h0M86.6 108.8h0M54.4 120.1h0M65.3 121.1h0M77.0 118.7h0M63.7 116.1h0M83.0 114.7h0M72.3 121.6h0M76.8 120.5h0M76.0 122.1h0M74.1 121.7h0M81.5 112.9h0M85.5 106.2h0M79.2 112.1h0M82.3 110.6h0M70.1 121.4h0M81.6 107.4h0M61.2 121.2h0M83.4 113.2h0M69.1 111.3h0M75.7 108.4h0M66.9 104.0h0M68.1 104.8h0M86.7 111.5h0M69.1 109.4h0M76.7 118.8h0M73.3 109.5h0M82.2 113.7h0M60.1 117.7h0M56.6 114.1h0M67.4 108.9h0M88.0 109.1h0M79.7 112.7h0M78.9 117.8h0M66.5 109.1h0M66.3 117.8h0M71.5 113.1h0M76.9 112.7h0M80.3 106.4h0M71.3 107.9h0M65.3 108.7h0M73.3 121.2h0M77.8 112.2h0M77.8 119.8h0M60.6 112.0h0M76.3 111.1h0M77.7 112.6h0M73.0 112.8h0M63.6 103.5h0M65.8 106.2h0M62.3 107.6h0M82.3 107.2h0M88.8 107.6h0M75.7 114.2h0M79.1 108.8h0M72.4 113.1h0M64.2 121.2h0M61.0 115.8h0M73.4 116.0h0M75.6 107.8h0M68.0 104.7h0M58.1 118.8h0M71.3 108.5h0M82.9 116.7h0M83.0 117.3h0M78.0 111.0h0M71.3 105.1h0M58.0 120.1h0M57.7 99.4h0M88.0 104.7h0M60.5 118.3h0M83.1 108.5h0M56.0 118.3h0M60.7 119.8h0M62.0 111.3h0M71.8 115.4h0M89.3 108.0h0M64.5 107.4h0M67.4 113.9h0M78.8 115.7h0M62.1 121.9h0M75.3 116.7h0M77.4 114.9h0M84.7 108.9h0M81.5 115.6h0M63.3 110.6h0M79.7 116.1h0M79.9 115.1h0M62.1 121.6h0M69.9 113.6h0M76.4 113.1h0M83.2 115.6h0M57.7 118.5h0M76.5 112.6h0M77.3 114.1h0M76.4 119.1h0M81.0 119.2h0M61.1 117.7h0M61.5 120.2h0M68.1 109.9h0M58.8 119.4h0M80.4 107.5h0M73.1 106.6h0M86.6 109.6h0M68.4 117.1h0M70.0 114.7h0M79.0 109.4h0M72.2 110.7h0M54.1 116.2h0M81.1 115.4h0M69.2 109.2h0M73.7 114.9h0M82.7 105.3h0M58.5 116.7h0M82.6 116.6h0M78.5 119.9h0M57.4 121.2h0M83.8 108.4h0M66.5 116.7h0M77.2 105.9h0M80.1 110.5h0M62.9 110.9h0M64.6 110.8h0M72.4 114.4h0M57.2 120.6h0M57.9 114.4h0M81.3 110.7h0M73.5 115.7h0M63.4 108.4h0M58.1 119.5h0M67.3 119.2h0M84.0 107.3h0M69.1 105.3h0M74.1 114.9h0M68.9 121.1h0M63.8 109.6h0M68.1 116.2h0M79.6 106.5h0M61.4 114.2h0M86.8 107.3h0M68.0 111.8h0M56.9 114.1h0M62.6 103.8h0M63.8 120.7h0M77.7 113.0h0M88.1 107.8h0M79.8 111.8h0M64.4 117.5h0M78.2 120.0h0M58.8 113.4h0M78.6 108.9h0M84.7 109.5h0M61.4 113.3h0M79.4 109.8h0M77.4 116.4h0M57.5 116.1h0M76.9 109.0h0M68.4 111.6h0M73.9 120.1h0M55.8 115.3h0M64.7 109.4h0M87.1 106.5h0M86.0 109.7h0M73.5 113.9h0M84.9 109.4h0M87.9 103.1h0M77.6 119.9h0M86.8 110.9h0M59.5 113.0h0M80.3 105.9h0M82.4 113.5h0M79.8 109.8h0M59.4 102.1h0M60.1 114.4h0M63.6 120.4h0M70.7 106.4h0M80.1 117.3h0M60.5 119.1h0M81.0 111.8h0M78.4 113.0h0M80.6 117.7h0M68.4 111.0h0M55.1 116.5h0M67.0 106.4h0M61.3 102.9h0M74.5 111.9h0M79.6 111.0h0M85.0 114.1h0M80.4 117.9h0M73.4 115.2h0M78.7 117.6h0M76.1 117.8h0M80.5 114.8h0M56.3 116.1h0M69.4 116.2h0M63.2 109.4h0M55.4 116.2h0M79.9 117.1h0M70.5 109.3h0M63.2 116.4h0M78.2 114.0h0M75.4 114.7h0M66.7 116.4h0M85.0 108.2h0M82.4 119.5h0M77.2 109.0h0M81.7 114.6h0M72.2 112.3h0M74.1 106.4h0M85.2 108.6h0M73.2 110.4h0M57.6 100.0h0M54.4 117.2h0M60.0 117.3h0M68.4 111.9h0M87.7 107.1h0M67.1 114.1h0M75.5 120.0h0M74.5 114.3h0M67.7 106.1h0M77.8 116.0h0M72.8 108.6h0M79.4 108.8h0M85.9 108.6h0M60.2 119.9h0M68.6 114.9h0M59.8 115.2h0M63.7 111.2h0M82.4 109.5h0M73.5 118.2h0M80.1 107.3h0M87.5 109.1h0M69.3 111.7h0M66.6 108.6h0M83.1 117.0h0M77.4 118.4h0M67.8 108.0h0M80.9 106.4h0M69.3 117.9h0M82.7 114.2h0M81.4 110.6h0M87.9 106.6h0M87.3 106.1h0M56.7 118.3h0M77.4 114.0h0M65.7 111.9h0M79.5 114.8h0M79.6 116.7h0M70.6 110.6h0M66.7 114.0h0M79.9 115.8h0M73.9 116.7h0M81.3 111.7h0M55.8 118.7h0M53.3 118.0h0M76.2 116.1h0M65.1 115.3h0M71.7 118.7h0M59.9 102.0h0M66.9 117.7h0M60.6 118.8h0M55.7 119.7h0M68.4 119.0h0M70.0 111.4h0M82.1 112.0h0M64.0 120.0h0M80.4 108.8h0M86.4 106.0h0M60.9 118.4h0M84.3 108.0h0M65.3 111.7h0M66.8 119.5h0M63.2 121.0h0M84.2 109.2h0M60.9 116.8h0M81.4 114.7h0M79.3 115.4h0M78.2 110.6h0M60.3 121.8h0M79.3 105.6h0M74.1 108.3h0M84.7 105.6h0M67.6 110.1h0M70.3 118.1h0M59.3 121.6h0M58.7 101.1h0M73.2 117.3h0M71.0 118.4h0M58.7 117.4h0M68.3 119.0h0M64.6 111.4h0M83.3 115.0h0M67.8 119.3h0M62.3 120.2h0M66.3 110.1h0M74.6 111.9h0M64.7 120.4h0M65.8 117.3h0M69.5 109.6h0M65.7 115.1h0M53.3 117.2h0M74.9 115.3h0M56.1 114.5h0M71.5 115.2h0M71.3 119.3h0M82.1 112.0h0M64.9 117.9h0M59.3 115.7h0M85.7 112.6h0M59.6 115.6h0M70.2 112.1h0M57.8 99.4h0M86.0 114.0h0M87.0 110.3h0M71.9 117.2h0" stroke="#00C1A7" stroke-width="1.45" stroke-linecap="round" fill="none"/>
<path d="M95.5 88.2h0M93.0 88.5h0M82.3 76.3h0M86.6 70.4h0M83.5 74.7h0M95.6 88.3h0M94.4 81.1h0M89.4 70.1h0M98.1 77.0h0M93.6 91.5h0M92.0 76.1h0M94.0 74.9h0M92.4 71.7h0M97.6 79.5h0M86.1 68.3h0M82.9 70.8h0M88.1 94.5h0M86.0 77.8h0M82.1 86.2h0M88.9 67.2h0M93.5 89.1h0M85.3 72.8h0M88.3 92.1h0M96.3 85.4h0M86.6 74.3h0M87.1 77.7h0M88.4 77.6h0M86.9 89.1h0M82.9 83.2h0M83.4 92.1h0M95.9 85.7h0M91.2 75.5h0M87.8 91.0h0M95.7 78.1h0M96.1 74.7h0M95.5 74.5h0M96.0 74.2h0M88.8 70.2h0M80.8 76.5h0M80.4 70.1h0M87.4 88.6h0M87.8 65.5h0M89.3 78.1h0M84.1 76.2h0M89.3 81.1h0M86.8 64.2h0M86.8 73.5h0M92.5 71.0h0M91.6 72.1h0M81.9 66.6h0M89.6 69.3h0M84.2 72.9h0M81.9 88.2h0M87.2 85.7h0M93.3 83.7h0M91.4 91.6h0M80.9 73.1h0M97.2 81.9h0M96.8 84.3h0M93.5 70.1h0M85.1 91.3h0M95.9 86.2h0M97.3 76.5h0M86.9 75.0h0M84.6 72.3h0M83.2 84.4h0M87.9 93.5h0M89.8 66.6h0M89.9 74.0h0M85.6 66.0h0M89.0 91.0h0M84.6 68.7h0M94.9 82.5h0M96.9 83.0h0M88.3 88.3h0M85.6 89.0h0M86.2 68.0h0M90.1 74.1h0M81.2 82.8h0M86.3 68.3h0M84.5 78.3h0M83.3 87.5h0M80.7 78.0h0M85.5 95.3h0M82.8 67.7h0M86.2 95.5h0M87.7 92.7h0M82.8 66.8h0M90.5 92.4h0M96.1 82.4h0M88.5 66.8h0M93.1 88.4h0M90.1 89.1h0M88.6 72.6h0M84.2 71.6h0M92.0 78.3h0M91.1 78.8h0M92.5 68.5h0M86.9 84.1h0M92.1 78.3h0M90.1 95.1h0M87.3 85.4h0M82.3 83.7h0M91.8 86.6h0M89.2 81.3h0M82.1 72.0h0M86.1 81.8h0M85.9 73.5h0M91.9 94.0h0M81.8 72.9h0M89.4 67.4h0M97.2 79.8h0M85.5 71.8h0M95.3 82.6h0M81.2 73.4h0M81.8 83.0h0M97.2 76.4h0M84.9 77.5h0M88.2 77.2h0M94.2 74.9h0M86.3 90.9h0M85.0 90.5h0M86.9 87.0h0M88.8 90.0h0M90.6 84.7h0M83.4 90.3h0M95.5 80.9h0M92.8 74.0h0M85.2 81.5h0M87.6 69.1h0M97.3 87.5h0M91.0 79.6h0M81.0 78.9h0M90.1 93.3h0M95.2 86.6h0M90.6 89.0h0M93.5 69.1h0M93.0 89.0h0M91.7 72.8h0M87.3 71.7h0M85.8 76.2h0M94.2 89.3h0M83.8 89.2h0M93.5 75.4h0M90.4 67.9h0M83.5 73.7h0M85.7 81.2h0M87.9 71.8h0M89.5 93.0h0M89.5 78.9h0M95.6 86.3h0M92.0 92.6h0M81.2 69.2h0M90.5 85.5h0M92.7 91.2h0M82.1 68.6h0M86.9 86.0h0M85.6 86.9h0M91.3 74.0h0M90.9 80.6h0M82.6 72.0h0M96.8 76.3h0M82.1 82.8h0M97.9 82.8h0M88.9 71.1h0M81.6 72.3h0M85.4 80.3h0M91.6 82.0h0M86.3 68.6h0M89.3 93.1h0M97.1 83.3h0M90.0 72.5h0M94.4 83.0h0M87.9 67.5h0M82.9 85.8h0M90.7 88.8h0M82.2 85.7h0M94.1 82.5h0M86.9 75.0h0M81.1 82.0h0M96.0 78.6h0M88.2 89.5h0M80.6 76.0h0M85.0 83.0h0M91.8 86.3h0M91.5 71.9h0M84.2 83.4h0M90.0 93.9h0M85.3 67.5h0M87.0 74.9h0M85.1 89.4h0M87.2 67.6h0M83.1 91.1h0M87.6 72.8h0M88.7 68.2h0M88.9 71.8h0M88.3 92.7h0M89.5 87.5h0M86.9 71.5h0M86.5 70.5h0M90.2 86.6h0M85.3 86.6h0M90.1 89.1h0M86.6 77.6h0M83.7 92.2h0M87.6 85.3h0M92.0 79.1h0M90.6 79.3h0M92.7 91.0h0M90.1 91.8h0M89.7 66.7h0M90.7 74.3h0M95.0 73.6h0M93.1 71.3h0M92.3 83.5h0M89.6 87.7h0M88.1 73.5h0M94.3 85.4h0M88.4 90.3h0M94.5 79.2h0M88.2 91.4h0M91.3 86.0h0M92.1 78.3h0M88.0 95.2h0M82.3 68.9h0M91.7 72.9h0M95.8 81.7h0M83.9 84.1h0M93.6 91.7h0M95.2 72.6h0M91.7 82.0h0M91.7 72.5h0M96.5 87.1h0M91.3 94.6h0M87.0 82.1h0M92.7 83.5h0M86.2 83.8h0M88.2 86.9h0M85.4 79.2h0M91.7 71.9h0M90.7 91.7h0M93.6 80.4h0M81.7 81.8h0M86.5 76.1h0M89.5 70.8h0M93.0 79.1h0M97.7 88.4h0M87.6 90.0h0M89.6 86.6h0M79.6 74.7h0M82.3 77.1h0M82.0 84.4h0M93.7 84.5h0M96.7 75.1h0M81.3 87.1h0M91.6 93.0h0M84.1 70.6h0M88.9 90.7h0M87.1 92.0h0M98.2 81.4h0M83.7 74.4h0M82.9 77.8h0M86.4 74.8h0M86.7 72.3h0M89.8 67.9h0M84.4 85.5h0M81.4 75.2h0M80.8 80.8h0M86.9 78.8h0M85.2 68.7h0M95.4 73.6h0M79.8 70.6h0M94.9 71.6h0M89.1 70.4h0M91.0 84.4h0M83.7 80.0h0M88.9 77.4h0M86.1 92.8h0M93.3 76.9h0M90.9 84.6h0M96.4 80.6h0M93.0 88.6h0M89.8 69.4h0M94.2 74.2h0M81.4 82.1h0M95.1 88.0h0M96.5 86.6h0M88.0 72.1h0M86.4 90.0h0M89.6 93.1h0M87.9 87.7h0M92.0 83.4h0M86.1 85.0h0M93.9 91.1h0M93.5 81.5h0M93.7 88.5h0M91.6 91.7h0M84.0 77.0h0M97.2 83.0h0M82.6 89.3h0M86.2 91.1h0M85.3 67.0h0M90.4 84.6h0M85.1 87.6h0M87.4 91.8h0M90.5 77.7h0M89.5 75.9h0M89.6 87.3h0M86.0 65.0h0M93.9 78.4h0M95.6 74.1h0M95.1 74.8h0M81.5 84.9h0M84.1 89.6h0M90.2 91.4h0M93.1 79.0h0M81.9 73.1h0M89.9 93.3h0M79.8 73.9h0M97.3 82.7h0M83.8 89.7h0M85.8 84.2h0M95.5 75.4h0M84.8 66.2h0M86.6 69.0h0M92.7 71.1h0M88.7 77.1h0M93.0 87.5h0M91.7 79.7h0M93.6 71.4h0M83.5 70.3h0M84.1 77.8h0M95.3 82.1h0M90.1 89.0h0M85.7 90.2h0M88.6 89.4h0M92.1 83.5h0M86.9 96.0h0M84.1 66.8h0M85.9 88.9h0M88.6 78.4h0M82.8 69.4h0M86.1 77.4h0M91.7 84.9h0M91.4 77.5h0M82.4 68.1h0M81.9 88.3h0M82.5 79.7h0M83.6 73.7h0M94.5 90.3h0M90.5 83.7h0M92.1 89.3h0M93.0 89.9h0M83.0 66.1h0M85.2 86.4h0M89.6 91.2h0M84.3 70.2h0M92.3 86.1h0M84.7 71.6h0M94.2 89.3h0M85.3 74.9h0M95.0 89.8h0M82.9 73.5h0M94.6 86.6h0M87.1 90.7h0M92.5 78.9h0M89.2 73.9h0M88.0 68.5h0M89.7 66.2h0M81.9 76.2h0M91.2 80.3h0M91.1 85.3h0M88.7 93.1h0M92.6 68.8h0M84.6 91.2h0M79.6 76.1h0M81.5 83.7h0M87.8 92.3h0M88.0 94.0h0M86.1 71.6h0M91.8 71.1h0M95.1 81.9h0M88.6 83.3h0M87.1 93.1h0M93.9 84.1h0M85.5 85.3h0M87.7 93.3h0M85.8 91.9h0M88.6 83.6h0M93.3 79.7h0M83.9 71.2h0M91.2 76.6h0M82.6 73.4h0M90.8 73.3h0M81.7 81.5h0M86.7 77.3h0M92.5 70.1h0M88.5 94.2h0M86.6 88.4h0M86.5 71.9h0M87.3 67.8h0M84.4 74.2h0M94.3 80.2h0M89.2 90.8h0M89.5 66.3h0M90.4 69.5h0M87.7 68.7h0M96.5 78.2h0M84.8 77.3h0M90.7 83.6h0M86.2 66.8h0M91.9 90.6h0M87.7 77.0h0M85.1 72.2h0M94.0 82.0h0M82.8 73.2h0M92.2 76.9h0M93.3 86.1h0M96.4 84.7h0M89.4 80.7h0M84.8 71.3h0M95.5 84.9h0M91.1 89.5h0M82.4 84.8h0M95.2 82.1h0M91.1 74.6h0M93.8 83.3h0M88.5 90.7h0M94.5 90.9h0M80.4 75.9h0M91.2 80.7h0M89.0 93.7h0M87.0 90.3h0M89.1 94.6h0M84.0 73.2h0M83.3 73.2h0M89.5 80.5h0M84.2 80.5h0M85.7 70.8h0M85.3 78.0h0M96.6 88.1h0M93.8 75.2h0M87.7 68.9h0M82.4 85.3h0M84.3 84.5h0M86.5 84.0h0M93.1 72.6h0M96.9 86.3h0M90.7 84.6h0M93.2 75.9h0M90.8 70.0h0M94.9 87.1h0M96.2 79.1h0M83.9 66.0h0M90.4 70.4h0M88.1 66.4h0M95.3 75.8h0M85.4 91.3h0M85.7 79.1h0M87.2 76.9h0M84.2 83.6h0M85.1 85.9h0M84.2 93.5h0M86.7 64.9h0M85.8 86.7h0M94.8 74.0h0M84.3 67.8h0M91.0 77.9h0M96.5 77.1h0M89.2 76.0h0M85.4 66.6h0M91.4 72.9h0M96.6 84.6h0M91.9 91.8h0M84.2 93.7h0M84.0 66.3h0M89.6 68.6h0M96.3 73.2h0M84.0 93.2h0M85.2 75.6h0M90.0 81.6h0M85.8 85.6h0M82.6 85.8h0M86.2 71.7h0M86.9 73.4h0M95.6 88.3h0M89.2 81.1h0M97.0 78.4h0M93.3 81.4h0M92.5 75.6h0M80.0 79.4h0M94.0 77.3h0M94.5 87.9h0M84.3 77.6h0M97.6 82.0h0M97.5 76.3h0M84.6 92.2h0M93.5 82.5h0M94.8 91.0h0M91.7 84.0h0M80.6 77.3h0M91.3 72.6h0M82.3 80.6h0M92.3 81.1h0M90.5 77.7h0M97.1 79.9h0M82.3 71.6h0M96.0 78.3h0M89.6 84.4h0M82.8 77.9h0M87.1 83.2h0M88.0 71.0h0M95.2 82.8h0M89.1 67.8h0M85.8 68.6h0M87.2 78.2h0M92.4 68.6h0M82.2 69.1h0M95.0 75.6h0M84.6 74.5h0M82.3 93.7h0M92.0 71.8h0M94.1 87.8h0M88.2 85.3h0M84.3 87.2h0M83.6 69.4h0M88.1 85.7h0M93.9 73.3h0M82.4 79.4h0M84.0 77.1h0M83.1 87.8h0M97.0 86.5h0M83.2 84.3h0M87.1 75.3h0M82.7 72.3h0M96.0 77.2h0M97.9 75.6h0M84.2 94.4h0M81.8 80.7h0M91.7 72.2h0M97.5 79.9h0M88.7 69.9h0M86.7 82.6h0M90.6 78.8h0M88.4 94.3h0M82.5 73.0h0M87.6 75.4h0M97.3 88.5h0M93.1 68.5h0M86.1 89.2h0M90.3 70.2h0M93.9 83.0h0M81.7 76.0h0M88.3 83.4h0M91.5 69.7h0M90.8 90.2h0M83.9 67.1h0M86.6 77.3h0M94.0 90.5h0M90.7 90.1h0M95.5 81.5h0M96.0 74.7h0M86.5 82.6h0M87.0 71.6h0M95.1 90.1h0M80.6 86.5h0M82.9 67.0h0M88.0 92.3h0M97.6 84.7h0M92.0 72.5h0" stroke="#64B200" stroke-width="1.45" stroke-linecap="round" fill="none"/>
<path d="M103.0 101.8h0M96.3 100.9h0M100.1 103.9h0M97.9 92.6h0M94.0 95.6h0M97.8 102.4h0M103.5 95.2h0M94.6 106.5h0M100.1 98.5h0M102.9 101.3h0M92.2 99.7h0M98.5 104.5h0M93.0 100.2h0M104.1 105.0h0M100.6 99.3h0M95.2 93.7h0M96.0 98.2h0M98.1 107.4h0M98.0 104.1h0M95.7 99.7h0M97.5 103.7h0M103.4 102.3h0M94.1 106.4h0M101.3 106.0h0M102.0 94.5h0M97.8 105.6h0M96.2 94.6h0M101.4 109.4h0M94.0 101.2h0M97.0 108.7h0M99.3 99.2h0M94.8 109.5h0M95.4 96.1h0M98.0 105.6h0M99.7 102.2h0M99.0 91.3h0M97.0 94.5h0M94.9 106.7h0M96.4 107.2h0M103.4 104.0h0M97.9 92.7h0M96.3 107.0h0M101.5 102.8h0M99.9 108.1h0M102.0 101.1h0M98.9 94.9h0M102.8 105.0h0M100.1 107.3h0M103.5 101.9h0M93.3 101.4h0M99.6 105.0h0M99.0 104.8h0M95.2 99.5h0M99.6 99.3h0M99.7 95.9h0M100.3 109.3h0M100.6 102.5h0M92.9 98.2h0M98.5 104.3h0M98.7 96.6h0M98.4 98.3h0M102.9 99.4h0M99.1 106.2h0M97.5 100.3h0M93.0 100.6h0M103.6 100.7h0M101.7 103.2h0M99.6 95.9h0M95.8 98.1h0M102.0 94.1h0M99.8 103.3h0M100.7 94.6h0M99.1 96.5h0M96.2 98.5h0M93.7 99.0h0M102.7 101.6h0M95.4 101.4h0M104.6 100.0h0M98.4 105.8h0M91.7 98.0h0M97.8 96.8h0M98.8 106.1h0M97.9 106.0h0M97.6 108.3h0M96.5 99.2h0M103.3 99.6h0M97.4 93.0h0M93.0 100.1h0M102.7 104.4h0M98.7 96.0h0M99.9 96.4h0M104.6 106.1h0M98.3 107.3h0M102.0 104.7h0M101.7 109.6h0M97.8 103.9h0M96.8 104.1h0M99.6 106.0h0M98.6 101.6h0M102.8 100.2h0M105.1 100.4h0M93.8 104.9h0M96.2 103.7h0M94.3 97.7h0M95.8 101.4h0M96.4 98.6h0M100.9 97.5h0M101.5 99.9h0M94.2 100.0h0M97.7 97.8h0M99.0 95.2h0M95.6 102.2h0M96.2 99.3h0M100.5 93.3h0M103.6 102.5h0M94.8 96.3h0M101.4 100.6h0M96.3 100.5h0M98.0 104.1h0M98.3 98.6h0M91.8 101.8h0M103.8 95.8h0M95.9 106.1h0M95.0 101.8h0M100.6 106.0h0M94.3 105.7h0M99.3 98.0h0M91.9 102.0h0M97.9 104.7h0M100.3 93.8h0M101.2 93.3h0M93.2 104.6h0M103.7 106.1h0M93.9 100.1h0M95.1 95.4h0M95.5 97.8h0M104.1 100.6h0M98.8 93.9h0M99.1 104.1h0M96.6 100.7h0M95.9 94.0h0M93.6 106.4h0M98.6 106.3h0M99.3 100.3h0M95.5 98.0h0M102.2 97.8h0M96.3 92.8h0M95.1 106.3h0M102.3 107.1h0M97.3 96.3h0M100.3 95.5h0M99.2 103.3h0M94.8 94.9h0M96.8 108.4h0M102.2 97.5h0M93.8 103.5h0M100.3 108.8h0M101.6 97.7h0M99.9 105.4h0M94.2 109.3h0M97.3 106.1h0M99.8 96.8h0" stroke="#DB8E00" stroke-width="1.45" stroke-linecap="round" fill="none"/>
<path d="M88.5 118.5h0M97.6 114.5h0M109.4 117.0h0M100.3 120.5h0M94.6 119.8h0M80.3 119.6h0M105.4 132.7h0M86.5 121.2h0M112.3 117.3h0M85.4 126.9h0M88.1 121.8h0M89.8 119.1h0M93.7 132.5h0M103.6 133.0h0M87.0 117.4h0M88.1 116.6h0M95.0 115.7h0M107.7 127.5h0M112.5 119.2h0M87.7 130.3h0M103.8 119.8h0M101.7 111.5h0M99.6 109.4h0M99.0 131.2h0M83.0 117.2h0M90.8 111.7h0M100.3 129.8h0M100.3 112.8h0M87.3 121.4h0M105.1 118.3h0M114.8 121.4h0M94.1 133.7h0M93.7 130.6h0M105.4 116.6h0M94.1 133.2h0M98.4 133.0h0M98.5 126.4h0M101.9 134.6h0M108.9 123.9h0M101.2 123.3h0M103.7 130.9h0M103.7 112.9h0M85.4 127.8h0M92.4 128.8h0M98.8 110.4h0M108.2 128.9h0M87.8 131.7h0M109.6 130.8h0M94.1 126.6h0M100.0 114.6h0M86.9 116.3h0M103.8 132.8h0M92.9 115.4h0M94.3 126.1h0M110.6 121.3h0M93.4 112.2h0M101.8 118.4h0M111.6 122.3h0M99.4 125.6h0M91.9 114.4h0M99.2 112.5h0M100.4 124.3h0M88.0 115.1h0M111.3 121.8h0M114.7 124.2h0M102.0 133.8h0M96.8 133.0h0M111.0 120.5h0M93.7 113.0h0M91.8 123.6h0M93.8 131.6h0M101.8 115.3h0M86.9 114.1h0M85.3 114.8h0M91.6 109.7h0M88.1 126.0h0M96.7 125.6h0M102.6 129.2h0M85.5 127.5h0M107.7 127.9h0M98.7 110.3h0M86.8 122.5h0M91.2 118.9h0M88.4 120.8h0M107.0 111.4h0M108.6 116.1h0M111.3 123.9h0M105.0 116.9h0M82.2 118.2h0M91.4 117.8h0M101.3 113.9h0M92.8 124.9h0M113.7 124.1h0M103.3 121.9h0M94.5 114.3h0M91.6 116.6h0M105.0 125.4h0M103.0 120.0h0M84.5 115.6h0M98.3 116.1h0M95.4 133.0h0M89.4 112.4h0M99.1 112.3h0M106.9 119.7h0M96.8 112.0h0M95.0 116.9h0M103.9 128.2h0M92.4 127.2h0M90.5 112.5h0M98.4 134.2h0M108.0 112.2h0M82.3 127.1h0M94.5 114.8h0M82.9 116.8h0M95.1 109.6h0M93.5 114.1h0M109.4 129.3h0M86.4 111.7h0M107.0 128.1h0M100.1 131.8h0M96.2 116.8h0M84.8 115.3h0M92.7 125.7h0M84.6 115.8h0M95.0 109.6h0M90.4 123.8h0M93.4 123.2h0M101.8 115.1h0M99.9 135.8h0M100.9 120.0h0M113.9 125.3h0M100.0 130.7h0M91.7 124.1h0M107.8 116.0h0M89.5 128.6h0M109.2 126.9h0M102.5 112.5h0M111.4 122.1h0M84.1 120.3h0M111.9 126.6h0M101.3 129.6h0M83.4 125.0h0M107.3 112.6h0M89.2 132.4h0M99.4 129.6h0M106.2 123.6h0M94.3 128.3h0M92.7 127.2h0M105.6 130.9h0M97.2 130.2h0M111.9 111.3h0M87.6 116.5h0M93.8 114.5h0M88.3 114.4h0M97.8 110.1h0M98.2 113.6h0M105.9 120.5h0M91.5 131.8h0M85.5 122.6h0M105.6 121.6h0M106.5 117.7h0M88.4 122.3h0M113.1 117.1h0M94.7 121.7h0M102.1 110.8h0M87.8 122.9h0M92.1 123.0h0M95.1 115.6h0M82.1 124.0h0M94.1 128.2h0M103.2 111.2h0M83.6 121.3h0M95.0 119.6h0M98.2 120.6h0M109.5 124.8h0M91.3 120.3h0M89.2 124.7h0M110.5 126.6h0M101.3 130.3h0M101.4 128.4h0M107.3 116.3h0M87.5 114.1h0M90.3 111.4h0M87.4 119.2h0M100.8 122.4h0M97.2 134.5h0M110.6 125.2h0M91.0 130.8h0M112.2 122.3h0M85.4 121.9h0M90.9 111.5h0M101.4 125.0h0M100.4 110.5h0M103.3 119.7h0M90.4 116.7h0M95.3 122.7h0M107.4 125.1h0M78.7 121.2h0M106.1 118.7h0M97.6 113.7h0M87.0 126.4h0M111.8 116.5h0M112.0 116.1h0M90.8 123.1h0M107.5 127.2h0M92.4 116.8h0M91.3 131.4h0M89.3 114.5h0M88.8 119.6h0M114.1 121.9h0M100.4 126.6h0M85.1 120.6h0M96.0 129.9h0M109.2 120.7h0M99.8 127.9h0M90.8 125.0h0M99.2 113.9h0M89.0 111.6h0M99.1 125.0h0M88.2 123.5h0M82.1 118.6h0M82.3 124.0h0M91.4 133.0h0M84.2 122.6h0M112.6 116.0h0M82.0 122.7h0M94.0 121.4h0M108.9 131.1h0M88.4 125.3h0M86.7 122.2h0M93.8 115.6h0M89.1 111.9h0M96.6 124.0h0M98.1 125.4h0M100.2 126.5h0M91.7 125.9h0M94.3 133.6h0M97.7 124.1h0M86.1 127.7h0M94.0 113.1h0M97.6 115.0h0M91.8 116.0h0M97.1 124.0h0M106.9 121.6h0M81.3 118.1h0M100.5 111.9h0M112.5 115.4h0M93.8 122.3h0M102.1 111.4h0M86.0 116.7h0M90.7 118.4h0M84.9 128.4h0M85.2 123.5h0M112.6 117.0h0M109.5 124.9h0M103.8 127.4h0M93.2 111.6h0M95.8 123.1h0M99.1 124.0h0M113.4 123.1h0M106.4 128.0h0M99.3 125.7h0M110.4 115.0h0M105.8 119.9h0M95.2 129.7h0M94.6 114.6h0M92.0 133.8h0M96.6 120.9h0M105.7 120.3h0M108.1 118.1h0M85.5 124.3h0M101.5 119.9h0M92.5 134.5h0M85.3 126.1h0M98.7 122.7h0M85.3 123.7h0M110.8 130.5h0M93.3 113.0h0M96.5 110.7h0M101.0 127.3h0M92.4 125.4h0M103.3 132.4h0M95.0 128.4h0M104.8 119.1h0M111.8 112.0h0M92.7 113.3h0M82.1 126.7h0M98.5 124.6h0M92.4 116.2h0M103.9 120.4h0M99.7 133.0h0M104.7 127.6h0M97.1 127.4h0M94.4 121.3h0M109.3 124.3h0M107.9 124.5h0M98.4 130.3h0M90.5 131.4h0M101.2 115.9h0M101.6 131.4h0M87.1 118.7h0M98.8 115.7h0M103.7 130.8h0M95.9 109.1h0M90.7 127.7h0M100.7 122.5h0M97.1 116.9h0M107.6 113.1h0M85.1 127.2h0M88.3 130.2h0M87.8 121.9h0M92.3 113.0h0M88.7 127.1h0M86.8 128.9h0M98.2 116.4h0M108.9 116.2h0M113.7 125.3h0M96.7 126.8h0M84.0 115.2h0M107.7 127.3h0M91.8 111.7h0M89.3 116.3h0M81.5 119.4h0M92.0 111.9h0M107.7 117.9h0M108.1 117.3h0M87.8 117.7h0M102.6 118.9h0M107.8 121.7h0M105.0 119.8h0M104.6 122.1h0M112.6 125.9h0M94.3 125.5h0M90.3 126.2h0M109.2 114.7h0M87.8 123.7h0M102.0 115.8h0M110.9 111.0h0M100.5 120.2h0M85.5 117.4h0M91.2 111.9h0M109.3 130.1h0M83.0 117.3h0M102.0 120.5h0M87.1 128.7h0M105.5 114.0h0M95.7 130.5h0M97.8 109.0h0M115.5 119.7h0M93.1 129.0h0M101.5 124.0h0M90.6 129.4h0M102.2 119.6h0M91.1 112.8h0M80.6 120.9h0M101.9 123.2h0M99.3 116.7h0M103.4 110.6h0M88.1 113.9h0M89.7 130.5h0M96.4 127.3h0M108.6 120.6h0M89.4 110.9h0M95.8 131.9h0M111.9 127.8h0M98.5 132.4h0M90.0 117.3h0M80.8 126.6h0M92.2 116.2h0M104.5 131.1h0M107.4 130.0h0M86.1 121.3h0M100.6 110.3h0M98.2 110.7h0M96.2 117.3h0M101.4 121.0h0M87.4 112.6h0M100.0 122.2h0M82.7 117.7h0M93.3 125.3h0M84.7 123.5h0M102.1 118.5h0M95.0 128.2h0M89.6 118.3h0M100.4 133.7h0M103.2 116.1h0M112.6 115.4h0M96.7 116.0h0M92.0 130.9h0M107.5 121.5h0M101.9 119.5h0M99.5 126.4h0M81.0 122.7h0M97.5 126.4h0M96.8 110.0h0M105.2 131.5h0M99.1 132.5h0M114.1 118.9h0M99.9 136.2h0M95.6 124.2h0M103.8 125.2h0M106.4 119.0h0M99.1 126.0h0M83.2 117.0h0M80.6 118.2h0M97.8 111.4h0M87.0 113.3h0M82.4 119.3h0M93.0 128.8h0M90.0 130.2h0M91.9 125.8h0M96.1 132.4h0M80.4 123.0h0M106.2 129.5h0M106.4 117.5h0M106.9 124.7h0M98.2 109.9h0M100.3 109.5h0M95.1 109.7h0M110.4 114.1h0M80.8 121.2h0M106.4 127.7h0M89.0 125.6h0M100.4 110.1h0M90.1 132.1h0M93.5 123.0h0M94.7 116.6h0M81.3 119.2h0M109.3 129.7h0M109.8 121.8h0M98.3 134.6h0M108.7 112.1h0M108.5 116.3h0M101.2 110.7h0M93.7 117.8h0M99.0 119.7h0M93.0 111.8h0M105.1 128.2h0M100.8 135.7h0M91.3 114.3h0M110.9 115.1h0M100.3 110.5h0M107.8 111.4h0M111.6 122.2h0M101.2 114.3h0M91.9 128.4h0M112.5 123.7h0M96.5 126.3h0M98.0 120.0h0M90.4 123.0h0M98.6 120.2h0M110.7 112.9h0M89.3 124.9h0M106.2 123.5h0M85.0 118.6h0M97.7 126.2h0M95.4 126.2h0M105.5 130.0h0M106.1 121.4h0M109.5 112.0h0M99.5 113.3h0M83.6 122.2h0M100.6 133.0h0M107.0 129.7h0M95.9 120.6h0M106.0 131.1h0M88.1 111.7h0M90.5 119.5h0M109.7 114.8h0M88.8 130.4h0M113.2 119.4h0M91.7 112.4h0M111.1 115.6h0M93.7 118.2h0M104.5 115.5h0M89.3 120.5h0M85.8 130.7h0M100.3 126.5h0M105.7 119.1h0M97.1 121.6h0M96.4 123.4h0M103.3 115.7h0M98.2 118.0h0M90.9 128.1h0M114.0 122.0h0M100.8 122.8h0M99.0 111.6h0M107.9 120.8h0M99.6 118.5h0M86.4 114.9h0M96.2 113.0h0M102.8 116.5h0M111.9 126.0h0M100.7 117.0h0M101.7 117.3h0M100.5 131.6h0M93.7 115.8h0M82.7 118.1h0M105.5 122.6h0M105.9 128.4h0M97.2 125.1h0M109.2 117.4h0M97.5 111.8h0M110.0 113.4h0M107.4 111.4h0M96.6 132.8h0M85.3 113.9h0M95.7 126.0h0M80.3 120.1h0M88.1 115.3h0M87.7 126.3h0M103.1 114.1h0M87.6 130.2h0M113.9 123.5h0M113.2 127.1h0M110.8 117.3h0M95.9 116.8h0M100.4 132.6h0M105.0 125.6h0M107.2 124.9h0M94.7 133.2h0M96.9 125.1h0M89.3 128.7h0M112.8 118.7h0M101.6 120.1h0M92.1 111.4h0M92.0 118.3h0M91.6 119.4h0M88.1 130.8h0M96.7 128.4h0M86.8 116.7h0M103.5 129.7h0M103.8 123.6h0M88.8 111.5h0M89.1 115.6h0M99.5 128.3h0M103.8 116.1h0M98.7 133.2h0M99.7 114.0h0M109.4 118.6h0M112.0 128.7h0M115.8 124.1h0M85.3 122.4h0M110.1 123.9h0M83.1 122.1h0M89.6 131.7h0M84.3 122.4h0M100.5 124.3h0M84.5 127.3h0M112.1 116.2h0M112.8 122.6h0M106.5 127.7h0M97.2 115.1h0M88.0 114.2h0M102.4 116.2h0M92.1 115.0h0M93.2 135.0h0M82.2 128.3h0M83.8 117.1h0M106.2 113.8h0M103.0 127.6h0M85.2 113.8h0M90.9 123.8h0M113.0 116.8h0M99.2 134.3h0M98.1 128.4h0M108.3 115.8h0M103.0 118.6h0M98.8 133.3h0M90.8 131.8h0M85.1 121.5h0M104.8 131.7h0M92.8 119.8h0M98.7 129.5h0M89.7 132.4h0M102.6 115.7h0M104.5 126.1h0M107.2 119.7h0M86.4 125.4h0M105.2 120.1h0M95.0 121.0h0M104.1 126.1h0M93.0 115.4h0M83.3 123.8h0M101.8 127.9h0M103.5 128.7h0M113.1 122.9h0M84.8 120.0h0M104.7 115.0h0M110.4 130.6h0M100.6 116.2h0M102.1 131.4h0M104.2 115.1h0M112.8 123.0h0M109.2 128.7h0M110.0 117.0h0M103.2 116.7h0M89.4 122.6h0M111.7 119.9h0M110.5 115.8h0M105.2 124.9h0M103.1 129.5h0M91.6 115.2h0M103.5 113.0h0M87.8 124.0h0M102.6 122.2h0M84.4 124.0h0M106.6 121.3h0M84.2 114.3h0M107.6 114.0h0M87.7 116.1h0M96.8 118.8h0M83.6 127.1h0M105.3 128.4h0M91.4 128.6h0M104.3 120.2h0M101.9 124.8h0M81.4 124.8h0M99.9 120.2h0M103.8 131.6h0M83.6 119.0h0M103.7 113.3h0M86.2 116.1h0M98.2 133.5h0M102.3 123.6h0M99.3 126.6h0M107.4 121.1h0M100.2 129.0h0M91.7 119.4h0M101.6 131.4h0M94.3 123.5h0M103.1 121.7h0M106.7 112.9h0M96.2 131.4h0M93.4 111.6h0M85.2 117.0h0M90.8 119.3h0M109.1 118.2h0M97.8 130.0h0M96.6 122.7h0M104.2 130.4h0M110.6 126.2h0M96.5 122.5h0M90.9 118.9h0M110.4 115.7h0M99.9 113.7h0M107.1 129.9h0M86.3 121.9h0M97.9 125.6h0M104.8 124.8h0M92.1 125.0h0M99.8 116.7h0M94.7 133.2h0M90.9 122.2h0M91.1 128.7h0M93.4 134.1h0M84.9 117.2h0M114.3 126.4h0M105.3 121.9h0M97.2 129.5h0M91.8 127.6h0M88.1 119.3h0M106.2 121.3h0M98.6 108.7h0M89.2 116.1h0M95.4 114.3h0M106.9 120.3h0M101.6 118.3h0M105.0 130.9h0M102.1 126.6h0M114.5 121.4h0M90.1 115.1h0M113.4 114.1h0M82.4 124.5h0M82.8 121.6h0M90.7 118.4h0M106.1 117.9h0M108.7 115.9h0M91.7 116.4h0M94.2 117.3h0M93.1 124.9h0M99.4 130.0h0M110.4 119.4h0M111.7 119.1h0M87.4 120.3h0M89.7 114.8h0M107.2 129.9h0M112.3 124.1h0M109.6 118.0h0M110.9 128.2h0M84.8 116.9h0M96.4 133.8h0M108.7 115.5h0M105.6 128.3h0M94.2 133.3h0M96.1 133.9h0M95.7 125.1h0M95.7 123.0h0M88.9 113.1h0M97.0 121.6h0M103.4 111.3h0M89.2 111.5h0M99.4 124.7h0M90.4 126.1h0M83.7 125.0h0M86.4 122.8h0M89.4 131.2h0M90.4 126.3h0M88.7 134.0h0M83.5 114.8h0M102.4 109.1h0M105.8 118.4h0M110.0 117.0h0M101.8 122.7h0M107.6 117.4h0M88.8 130.7h0M91.2 118.8h0M88.2 130.4h0M85.8 126.6h0M96.7 122.4h0M103.8 125.0h0M110.7 124.9h0M93.7 126.1h0M96.9 124.3h0M84.1 116.1h0M92.1 118.3h0M110.6 116.1h0M95.6 112.0h0M109.7 124.4h0M108.3 113.4h0M95.4 125.4h0M95.2 131.0h0M92.2 120.5h0M99.3 113.3h0M101.7 129.5h0M101.6 127.8h0M84.5 128.5h0M87.6 121.3h0M110.4 127.5h0M93.5 133.2h0M107.9 119.8h0M82.5 119.9h0M93.7 127.0h0M99.0 133.0h0M102.6 111.8h0M110.5 128.4h0M95.4 126.2h0M90.6 121.1h0M86.3 129.6h0M91.5 127.6h0M110.8 112.9h0M106.1 121.2h0M102.6 133.9h0M108.5 130.8h0M108.0 130.0h0M99.3 134.1h0M106.3 111.2h0M91.6 111.5h0M95.8 127.0h0M94.2 133.6h0M92.8 119.3h0M87.4 131.9h0M101.3 129.2h0M101.5 119.1h0M102.2 127.2h0M82.2 123.4h0M101.0 131.2h0M98.7 109.1h0M98.7 134.2h0M98.8 126.0h0M92.3 111.9h0M110.0 116.5h0M109.9 117.9h0M79.7 120.5h0M101.4 134.4h0M97.7 119.4h0M88.7 116.7h0M90.3 121.6h0M110.3 119.5h0M107.7 122.2h0M82.6 121.1h0M83.3 122.7h0M104.3 125.9h0M85.7 127.2h0M95.9 131.2h0M102.2 126.8h0M81.0 121.9h0M105.5 130.7h0M89.1 112.8h0M108.9 123.7h0M78.7 119.5h0M96.7 128.6h0M103.7 115.3h0M102.7 124.3h0M81.4 127.8h0M102.6 132.4h0M100.7 130.1h0M92.9 127.0h0M97.8 111.3h0M94.4 114.7h0M107.2 120.5h0M97.1 110.7h0M101.8 114.7h0M99.9 128.4h0M85.7 112.7h0M83.1 124.2h0" stroke="#DB8E00" stroke-width="1.45" stroke-linecap="round" fill="none"/>
<path d="M127.3 103.1h0M121.0 101.0h0M132.5 113.9h0M121.7 119.8h0M126.6 107.2h0M127.5 118.0h0M135.2 107.3h0M127.0 128.5h0M129.9 105.9h0M122.8 117.1h0M137.9 110.0h0M118.6 106.1h0M137.2 100.9h0M128.3 124.4h0M133.2 128.5h0M130.4 110.2h0M123.0 128.1h0M125.6 117.6h0M134.6 112.0h0M130.4 115.3h0M140.0 114.1h0M127.8 100.2h0M129.3 122.8h0M130.4 119.6h0M141.6 105.8h0M124.0 116.8h0M119.5 115.2h0M117.9 122.4h0M126.2 97.8h0M114.4 116.1h0M113.4 124.3h0M116.1 115.7h0M123.7 102.1h0M130.3 106.3h0M124.8 119.9h0M140.6 117.2h0M135.1 102.2h0M125.5 120.9h0M135.0 126.0h0M125.7 113.1h0M122.9 102.2h0M115.4 126.1h0M117.8 104.6h0M131.0 116.4h0M123.0 122.5h0M126.7 114.7h0M126.9 101.4h0M121.0 122.0h0M127.2 111.1h0M119.6 123.8h0M132.8 113.3h0M124.7 132.3h0M135.9 99.2h0M120.7 129.5h0M116.5 125.6h0M130.6 100.5h0M140.1 105.4h0M124.8 123.6h0M130.9 126.7h0M118.1 132.7h0M115.2 132.8h0M129.5 101.6h0M112.5 121.8h0M131.5 122.3h0M116.1 109.3h0M117.1 127.4h0M135.3 118.2h0M131.5 116.0h0M114.7 112.5h0M138.2 122.4h0M125.5 117.8h0M128.5 109.0h0M116.2 107.8h0M120.1 129.4h0M128.2 113.7h0M119.6 126.9h0M127.6 131.9h0M124.2 105.2h0M141.5 105.2h0M117.4 105.9h0M124.2 116.0h0M118.5 118.7h0M139.6 118.6h0M130.1 108.0h0M123.9 112.7h0M133.9 123.7h0M138.3 117.8h0M126.5 118.6h0M141.2 112.7h0M125.5 101.8h0M140.1 110.9h0M115.1 113.8h0M123.4 111.7h0M136.3 119.1h0M117.3 131.8h0M130.0 124.2h0M134.5 103.1h0M131.4 98.5h0M133.7 99.5h0M112.7 112.6h0M119.6 113.0h0M134.1 103.6h0M125.8 108.7h0M115.0 112.6h0M134.2 122.6h0M118.4 131.1h0M115.5 130.9h0M130.9 100.1h0M120.1 115.5h0M119.6 119.9h0M134.4 101.2h0M124.7 99.8h0M130.8 97.4h0M120.1 131.1h0M114.4 124.0h0M121.2 110.4h0M121.5 123.7h0M113.3 121.2h0M133.1 123.8h0M129.8 130.4h0M131.6 110.1h0M134.9 101.2h0M131.2 112.4h0M128.5 100.8h0M138.0 106.1h0M133.0 115.8h0M119.7 126.8h0M137.7 113.4h0M132.6 112.2h0M112.4 117.9h0M123.0 119.6h0M131.5 112.7h0M136.9 107.8h0M124.2 122.6h0M115.8 121.0h0M129.2 128.2h0M132.8 123.2h0M135.5 122.7h0M123.8 101.8h0M124.2 120.7h0M141.5 101.1h0M117.0 127.5h0M130.8 102.2h0M125.7 126.1h0M120.9 117.4h0M124.0 103.7h0M138.4 104.9h0M128.9 118.5h0M132.8 119.6h0M123.5 128.9h0M122.4 99.1h0M126.1 113.3h0M133.6 105.6h0M119.6 114.5h0M123.1 120.0h0M122.7 101.8h0M117.6 117.6h0M133.1 116.9h0M124.9 115.0h0M121.6 117.5h0M139.1 111.2h0M123.1 110.1h0M127.5 104.7h0M138.2 109.3h0M113.9 127.8h0M129.3 99.0h0M128.5 118.4h0M123.7 103.8h0M118.8 113.6h0M126.4 115.0h0M123.6 119.5h0M131.8 126.8h0M120.2 111.9h0M117.4 104.7h0M123.3 107.5h0M119.0 133.4h0M121.7 117.1h0M114.3 109.2h0M136.6 125.1h0M137.5 110.7h0M114.6 123.1h0M125.1 120.9h0M118.9 110.4h0M124.5 115.8h0M123.8 106.4h0M125.2 111.8h0M124.7 127.1h0M135.1 107.6h0M139.0 118.4h0M131.9 106.5h0M127.8 105.6h0M129.9 121.4h0M130.9 110.4h0M115.4 127.6h0M135.9 107.2h0M132.6 124.0h0M115.8 109.3h0M131.9 99.8h0M113.9 120.4h0M124.5 124.7h0M128.6 121.4h0M122.8 133.7h0M119.4 101.9h0M112.3 125.9h0M134.7 105.2h0M122.3 124.3h0M135.8 121.2h0M121.9 107.3h0M131.4 110.3h0M135.1 117.3h0M127.9 130.7h0M122.1 100.4h0M130.9 128.3h0M124.5 125.5h0M123.6 114.9h0M130.8 121.8h0M124.9 133.0h0M127.1 126.7h0M136.2 105.6h0M131.9 110.4h0M113.8 115.8h0M126.3 122.0h0M127.0 100.8h0M115.6 130.6h0M131.4 126.3h0M120.7 109.8h0M117.6 113.1h0M135.7 122.6h0M134.5 124.2h0M126.0 101.9h0M129.9 112.6h0M131.3 125.7h0M127.1 108.5h0M134.6 118.1h0M117.3 103.8h0M137.7 117.9h0M134.2 118.4h0M118.3 117.5h0M126.3 115.2h0M124.9 100.2h0M126.7 129.7h0M126.8 108.3h0M121.7 130.7h0M113.4 112.6h0M132.5 101.7h0M126.3 121.8h0M133.3 120.1h0M123.0 118.0h0M135.6 107.1h0M135.9 117.0h0M123.5 109.3h0M131.8 112.1h0M134.0 108.4h0M125.8 128.2h0M118.9 105.0h0M126.6 113.8h0M138.1 97.7h0M116.2 115.0h0M116.9 104.2h0M122.8 100.6h0M113.8 114.4h0M119.4 124.3h0M128.9 127.4h0M132.2 127.7h0M119.8 107.9h0M133.8 115.9h0M117.8 124.6h0M133.4 123.5h0M115.8 116.7h0M135.6 121.1h0M115.7 110.0h0M123.2 99.1h0M122.2 123.6h0M132.0 118.5h0M119.6 123.7h0M130.0 117.6h0M139.8 100.6h0M122.6 121.7h0M131.9 98.8h0M131.0 116.9h0M125.2 104.6h0M124.1 121.5h0M114.6 114.9h0M119.6 102.9h0M124.7 110.1h0M129.5 110.6h0M115.0 124.8h0M117.1 129.9h0M122.7 122.4h0M128.5 101.8h0M132.0 124.7h0M130.8 128.5h0M122.2 117.2h0M124.6 126.1h0M127.9 123.8h0M135.5 124.0h0M121.0 111.0h0M126.3 130.7h0M114.5 120.2h0M135.3 128.2h0M140.5 109.9h0M114.7 110.6h0M127.5 100.1h0M123.6 115.1h0M127.0 116.1h0M137.9 116.3h0M122.3 111.6h0M130.6 111.9h0M117.4 120.3h0M115.5 117.4h0M121.3 130.1h0M140.7 112.2h0M118.9 126.2h0M139.0 117.6h0M122.6 100.5h0M118.2 109.0h0M135.9 125.0h0M126.7 113.1h0M123.3 131.1h0M121.9 123.5h0M131.7 104.3h0M133.3 98.6h0M124.2 119.1h0M129.5 122.1h0M135.6 97.0h0M136.3 109.8h0M121.0 108.9h0M116.0 107.1h0M116.9 111.3h0M128.9 103.0h0M140.9 116.1h0M135.1 121.8h0M119.7 132.5h0M123.1 113.0h0M140.2 108.0h0M127.2 124.0h0M134.8 109.8h0M125.5 115.9h0M121.0 119.5h0M131.5 103.1h0M122.1 109.4h0M119.3 115.2h0M137.8 103.9h0M136.3 97.8h0M127.7 117.5h0M140.8 108.0h0M126.8 109.8h0M117.8 117.7h0M114.8 113.1h0M124.7 121.7h0M117.7 126.0h0M128.6 102.7h0M128.7 123.3h0M126.4 118.7h0M117.5 103.2h0M121.7 109.4h0M132.3 100.8h0M125.7 118.2h0M119.0 128.8h0M135.6 104.2h0M127.1 120.6h0M119.1 120.1h0M115.7 113.1h0M124.9 107.0h0M130.3 125.5h0M125.8 100.7h0M122.9 122.7h0M122.3 124.0h0M136.9 110.5h0M121.7 122.7h0M121.6 129.1h0M133.2 105.8h0M117.4 106.3h0M123.9 119.3h0M133.7 110.9h0M128.3 129.3h0M128.7 117.0h0M134.3 111.4h0M130.5 118.2h0M136.1 120.6h0M118.4 104.8h0M132.4 102.7h0M128.5 126.7h0M115.0 129.4h0M119.7 103.8h0M120.6 111.1h0M126.4 108.2h0M124.7 105.1h0M128.1 104.9h0M121.4 112.9h0M113.8 125.6h0M126.5 125.8h0M125.6 115.1h0M113.6 117.8h0M123.9 114.5h0M119.9 104.3h0M122.7 105.1h0M125.7 102.6h0M139.2 102.7h0M128.8 121.5h0M118.4 102.6h0M140.7 115.6h0M140.1 104.3h0M126.6 130.9h0M132.7 115.4h0M136.5 97.2h0M123.5 127.8h0M131.8 100.8h0M119.7 127.6h0M128.8 124.0h0M126.7 114.0h0M128.3 108.9h0M132.2 100.5h0M134.3 121.0h0M135.5 97.4h0M131.2 111.3h0M137.3 119.6h0M134.3 123.5h0M118.7 113.6h0M132.2 96.8h0M118.4 111.9h0M128.1 111.8h0M123.4 111.8h0M120.6 118.6h0M130.5 101.1h0M130.0 124.9h0M127.7 103.5h0M117.5 123.2h0M132.1 126.0h0M133.9 107.5h0M117.8 109.0h0M119.9 125.3h0M115.8 109.5h0M113.5 118.4h0M133.7 124.6h0M141.4 115.3h0M120.2 103.2h0M127.1 114.8h0M122.1 130.2h0M127.7 100.3h0M124.3 111.0h0M131.7 118.3h0M134.9 106.2h0M131.2 104.4h0M124.1 108.8h0M138.0 106.8h0M130.5 127.3h0M113.8 125.9h0M117.4 116.3h0M116.7 108.8h0M120.1 113.7h0M137.3 102.2h0M127.3 117.3h0M116.1 119.0h0M137.2 117.0h0M114.6 117.8h0M125.4 123.3h0M131.5 111.5h0M139.0 109.7h0M134.2 116.0h0M129.2 104.1h0M126.4 108.4h0M128.6 119.7h0M121.5 125.4h0M138.3 117.0h0M130.1 118.2h0M141.3 111.1h0M135.4 125.6h0M124.5 106.1h0M124.4 130.7h0M129.3 130.1h0M133.2 120.4h0M133.7 106.2h0M137.3 125.6h0M135.4 105.7h0M116.5 121.1h0M132.5 105.7h0M122.5 110.9h0M117.3 113.7h0M116.3 132.5h0M139.7 106.0h0M121.3 131.2h0M136.8 123.8h0M116.2 127.6h0M136.1 101.8h0M125.9 120.2h0M124.3 124.4h0M115.9 114.2h0M129.9 117.7h0M121.4 116.7h0M126.6 126.4h0M122.4 126.1h0M123.2 109.7h0M119.5 123.2h0M116.8 110.2h0M131.6 112.7h0M130.6 126.0h0M128.0 118.4h0M124.8 127.2h0M125.9 120.3h0M119.7 101.1h0M136.6 108.4h0M131.3 109.2h0M126.1 125.2h0M134.0 114.5h0M136.6 110.2h0M128.0 98.2h0M117.2 132.2h0M138.4 102.8h0M137.3 113.3h0M123.7 123.5h0M127.4 107.7h0M125.6 102.9h0M132.6 104.9h0M121.9 118.6h0M125.7 129.5h0M125.7 107.6h0M131.6 130.4h0M116.3 122.4h0M120.9 120.8h0M121.2 130.2h0M129.4 116.3h0M120.9 125.4h0M120.4 120.7h0M127.4 106.5h0M134.7 120.1h0M136.2 107.5h0M117.4 116.6h0M138.0 122.3h0M131.4 122.3h0M121.8 123.5h0M117.8 111.5h0M123.1 112.2h0M115.9 109.7h0M126.6 112.9h0M125.6 114.3h0M120.5 128.4h0M127.2 102.9h0M131.7 104.7h0M120.4 106.4h0M121.7 123.4h0M120.1 114.5h0M136.5 108.7h0M114.0 116.6h0M131.4 114.4h0M118.0 114.4h0M119.5 118.8h0M121.6 132.2h0M121.3 108.6h0M127.3 107.4h0M117.8 110.5h0M130.2 117.8h0M121.6 129.5h0M116.9 122.1h0M136.0 121.9h0M137.7 99.8h0M140.5 107.8h0M137.6 102.4h0M123.8 111.2h0M116.9 124.8h0M129.6 121.1h0M123.4 116.1h0M120.7 122.5h0M125.5 116.2h0M128.8 108.9h0M138.6 113.2h0M127.1 128.6h0M117.9 132.9h0M136.2 100.1h0M126.6 129.7h0M130.2 123.6h0M131.7 118.9h0M128.9 109.6h0M123.9 99.6h0M133.6 112.0h0M125.8 108.1h0M116.8 125.0h0M126.7 114.1h0M135.6 98.7h0M132.5 103.3h0M135.0 115.4h0M134.6 106.3h0M121.3 98.8h0M135.0 99.5h0M139.5 100.7h0M124.9 110.4h0M125.6 104.9h0M125.0 103.0h0M123.1 115.7h0M133.5 128.9h0M120.0 124.0h0M119.5 110.8h0M113.5 125.7h0M122.3 110.4h0M141.2 103.1h0M117.1 120.7h0M117.8 122.4h0M117.6 111.5h0M138.4 100.0h0M122.9 106.7h0M125.3 131.4h0M117.2 118.0h0M138.4 109.7h0M135.5 113.4h0M127.7 117.6h0M129.9 128.1h0M133.8 119.4h0M123.1 130.8h0M137.7 114.1h0M127.1 121.0h0M125.7 102.4h0M127.8 123.9h0M122.4 102.0h0M133.8 113.3h0M118.9 133.1h0M120.0 119.8h0M117.3 130.2h0M139.7 120.6h0M122.8 113.6h0M133.3 105.5h0M121.3 116.7h0M135.3 104.2h0M131.9 128.9h0M118.1 123.7h0M117.7 119.6h0M118.2 113.3h0M129.5 117.6h0M126.2 126.8h0M123.1 110.0h0M120.7 110.7h0M130.6 126.0h0M118.6 132.5h0M140.3 120.6h0M119.6 121.4h0M136.6 110.0h0M130.4 123.9h0M117.2 105.6h0M130.6 110.8h0M128.9 120.7h0M136.4 102.1h0M126.1 107.2h0M125.2 100.7h0M136.9 99.2h0M133.7 119.2h0M138.8 115.2h0M128.6 105.4h0M137.4 110.5h0M124.6 116.6h0M120.8 122.3h0M133.6 110.8h0M126.5 126.2h0M115.0 129.6h0M123.4 131.5h0M137.3 106.3h0M120.0 129.8h0M123.5 112.7h0M120.7 132.0h0M130.7 100.0h0M119.2 132.7h0M122.5 112.4h0M117.1 118.3h0M126.3 113.9h0M132.4 103.1h0M140.0 114.3h0M135.6 98.3h0M137.0 104.5h0M137.0 111.4h0M116.1 107.4h0M122.7 127.7h0M119.2 132.0h0M119.6 119.8h0M130.5 113.0h0M116.0 126.3h0M133.8 104.4h0M123.3 132.9h0M116.6 116.5h0M120.9 132.4h0M135.3 104.5h0M127.4 103.5h0M136.2 121.1h0M116.6 113.0h0M136.5 116.6h0M121.8 119.6h0M118.6 108.1h0M121.6 129.5h0M114.9 122.6h0M125.6 97.9h0M132.7 99.5h0M137.3 115.0h0M120.3 124.0h0M123.0 110.2h0M128.6 106.8h0M122.7 131.4h0M119.2 117.2h0M134.0 102.6h0M122.4 110.5h0M124.5 111.8h0M128.4 98.3h0M139.5 105.2h0M118.2 129.8h0M130.0 99.4h0M120.5 133.6h0M127.3 119.6h0M118.0 123.0h0M124.3 116.4h0M130.0 126.5h0M139.8 109.1h0M121.2 127.2h0M119.8 101.7h0M121.4 101.4h0M132.5 113.8h0M133.8 109.8h0M130.0 103.6h0M136.7 98.3h0M125.7 112.0h0M129.0 114.3h0M128.9 119.9h0M125.8 104.1h0M141.6 110.4h0M119.3 105.6h0M119.8 132.0h0M116.5 115.3h0M128.1 119.5h0M115.2 116.6h0M132.0 116.8h0M127.4 100.5h0M122.2 115.4h0M132.6 121.6h0M127.4 124.5h0M139.4 115.9h0M116.2 116.7h0M138.0 113.0h0M122.9 105.5h0M141.4 109.4h0M114.7 108.2h0M142.3 109.7h0M135.0 121.5h0M121.5 114.7h0M123.9 121.3h0M133.5 118.3h0M125.0 124.9h0M131.1 96.3h0M118.0 114.8h0M123.1 109.5h0M114.0 116.0h0M128.8 122.1h0M115.0 108.1h0M120.3 107.4h0M120.3 118.3h0M124.9 104.5h0M136.8 99.4h0M126.0 108.8h0M128.8 123.9h0M117.7 122.4h0M130.4 110.7h0M125.3 99.4h0M130.9 105.0h0M117.1 126.4h0M123.8 118.5h0M134.4 123.3h0M133.0 106.7h0M129.0 117.2h0M113.7 123.2h0M127.4 100.0h0M128.3 108.4h0M130.6 114.3h0M137.7 118.1h0M122.8 120.5h0M133.6 112.1h0M136.4 110.6h0M118.0 126.8h0M124.9 106.6h0M139.8 105.3h0M133.6 99.7h0M132.4 124.8h0M117.9 124.8h0M119.5 99.8h0M135.0 115.7h0M113.7 119.4h0M126.0 112.7h0M122.4 100.5h0M119.9 108.2h0M118.5 106.3h0M137.7 119.6h0M127.8 117.0h0M125.7 123.6h0M138.9 104.3h0M133.4 121.7h0M118.4 113.6h0M140.3 119.8h0M133.2 119.9h0M134.4 112.8h0M134.4 105.5h0M122.8 100.8h0M134.8 120.1h0M116.6 111.5h0M127.3 108.9h0M120.5 114.6h0M130.2 109.0h0M129.9 122.5h0M123.1 109.3h0M135.2 117.6h0M135.9 111.1h0M137.9 113.4h0M125.3 123.9h0M134.2 118.7h0M122.6 132.1h0M132.9 108.6h0M119.3 132.4h0M132.6 109.2h0M127.6 112.1h0M136.9 118.1h0M123.8 114.4h0M141.5 112.8h0M123.6 113.5h0M121.4 126.2h0M119.2 117.9h0M141.7 111.9h0M137.7 110.3h0M127.6 117.9h0M117.5 113.8h0M126.3 131.6h0M112.3 123.7h0M118.0 105.2h0M126.1 100.1h0M114.4 129.3h0M136.8 114.5h0M129.0 100.4h0M139.6 116.5h0M136.8 119.3h0M136.8 122.8h0M120.9 126.6h0M133.4 100.5h0M123.7 128.1h0M128.4 114.1h0M114.2 129.2h0M135.3 108.7h0M124.7 113.9h0M124.4 131.1h0M126.9 127.2h0M120.0 131.0h0M129.7 101.0h0M121.5 108.8h0M135.0 124.5h0M126.1 117.8h0M136.0 107.8h0M127.6 128.1h0M125.4 120.1h0M130.2 100.8h0M133.3 121.6h0M117.5 132.7h0M113.9 124.5h0M128.6 124.4h0M115.5 119.9h0M116.0 110.3h0M130.2 105.5h0M119.3 121.0h0M129.0 97.8h0M113.2 124.3h0M131.6 115.0h0M131.0 107.9h0M116.6 108.2h0M137.4 112.8h0M130.1 106.1h0M141.3 107.1h0M120.1 118.4h0M122.2 122.5h0M122.1 118.8h0M131.8 101.6h0M122.3 100.4h0M126.5 101.9h0M133.2 118.7h0M124.8 106.5h0M126.9 119.2h0M119.7 103.1h0M135.6 123.9h0M126.6 103.6h0M118.2 105.9h0M136.5 101.3h0M116.8 115.6h0M115.1 114.4h0M122.3 118.8h0M135.3 105.0h0M128.9 111.4h0M126.2 118.6h0M126.4 110.5h0M130.8 116.1h0M124.0 100.5h0M135.6 100.7h0M135.3 126.3h0M136.2 114.8h0M136.5 97.8h0M122.5 127.3h0M126.5 96.8h0M129.8 128.5h0M141.0 105.3h0M127.0 105.5h0M136.9 102.1h0M131.0 106.9h0M124.9 105.8h0M132.0 97.8h0M134.0 99.1h0M135.3 117.8h0M127.0 104.9h0M122.8 105.8h0M125.3 131.2h0M139.2 113.9h0M123.7 108.3h0M112.7 119.1h0M134.7 108.5h0M126.7 130.9h0M131.5 116.2h0M128.8 126.6h0M130.3 98.5h0M115.9 120.3h0M116.2 122.2h0M134.3 121.7h0M136.0 113.4h0M115.7 130.7h0M132.3 115.2h0M136.2 126.0h0M130.7 126.7h0M128.2 104.4h0M132.6 102.4h0M136.0 111.2h0M125.2 99.1h0M124.6 127.8h0M131.5 102.4h0M123.0 126.7h0M133.6 107.6h0M122.5 116.2h0M130.8 130.6h0M134.0 112.7h0M121.4 130.4h0M112.9 118.9h0M124.0 107.4h0M122.1 116.3h0M122.9 109.9h0M126.4 119.5h0M122.7 117.5h0M121.4 109.1h0M125.4 110.4h0M124.8 117.8h0M136.7 118.4h0M119.5 112.3h0M138.9 101.3h0M121.3 131.2h0M121.2 120.3h0M128.4 100.6h0M135.0 119.7h0M120.0 102.0h0M137.8 121.1h0M121.1 107.9h0M132.0 122.8h0M117.9 109.8h0M128.9 100.7h0M120.0 121.3h0M127.9 127.5h0M121.8 108.9h0M117.8 132.0h0M136.7 118.9h0M128.9 102.9h0M117.8 112.4h0M124.5 113.3h0M133.4 125.0h0M117.5 124.6h0" stroke="#00A6FF" stroke-width="1.45" stroke-linecap="round" fill="none"/>
<path d="M134.2 84.2h0M117.3 92.0h0M120.6 84.6h0M110.3 86.0h0M124.9 78.5h0M123.6 72.5h0M129.9 77.0h0M122.5 87.1h0M130.4 86.8h0M116.5 95.5h0M112.0 78.4h0M127.6 87.4h0M120.0 93.3h0M125.9 82.7h0M124.1 84.5h0M114.0 77.5h0M116.9 89.4h0M113.8 85.3h0M112.1 83.3h0M118.5 78.1h0M113.6 86.6h0M113.0 87.1h0M131.0 89.0h0M127.9 91.3h0M127.3 80.6h0M122.9 72.8h0M130.2 73.7h0M126.2 78.9h0M129.4 87.3h0M119.3 79.8h0M115.7 90.7h0M121.1 81.2h0M124.5 74.0h0M117.6 78.6h0M112.8 78.7h0M130.5 75.1h0M118.7 81.7h0M121.7 71.3h0M121.1 75.7h0M117.0 75.8h0M129.0 85.7h0M116.7 90.2h0M126.2 78.9h0M119.4 84.6h0M114.7 77.3h0M128.2 74.3h0M123.0 93.9h0M115.7 84.8h0M126.6 91.0h0M124.6 72.0h0M115.5 95.7h0M121.3 86.0h0M123.0 75.0h0M117.9 91.1h0M112.7 78.6h0M119.5 95.5h0M122.5 76.0h0M121.5 73.5h0M124.6 88.4h0M120.2 94.1h0M125.7 88.6h0M119.8 93.1h0M129.8 88.7h0M114.5 75.8h0M125.5 77.8h0M125.7 91.5h0M115.7 82.1h0M125.7 92.8h0M122.7 90.1h0M114.6 80.0h0M120.8 94.7h0M111.7 78.6h0M122.8 80.7h0M121.6 90.0h0M111.5 84.7h0M117.6 89.7h0M129.2 88.3h0M129.3 82.4h0M122.3 87.7h0M121.4 91.4h0M123.6 80.8h0M123.2 73.7h0M126.1 83.1h0M123.7 85.1h0M125.1 90.4h0M109.8 84.7h0M117.5 95.8h0M127.7 75.5h0M125.5 73.6h0M116.6 96.3h0M122.2 79.8h0M121.8 75.8h0M121.6 91.1h0M123.4 84.5h0M113.5 91.7h0M123.4 72.8h0M116.3 93.9h0M121.4 93.7h0M127.7 93.7h0M124.0 81.9h0M116.4 85.5h0M133.3 91.0h0M114.7 93.0h0M120.1 71.4h0M122.6 91.1h0M112.5 87.9h0M117.6 80.4h0M127.1 89.5h0M123.1 88.7h0M128.5 94.4h0M121.9 90.3h0M115.3 83.5h0M131.9 79.0h0M127.9 73.6h0M115.7 82.3h0M113.4 78.0h0M121.5 71.5h0M115.0 83.1h0M116.2 83.2h0M131.0 83.3h0M128.5 91.1h0M119.1 82.8h0M113.1 86.5h0M131.0 89.3h0M119.0 89.4h0M122.5 86.9h0M127.0 83.9h0M129.5 76.2h0M123.7 88.1h0M125.9 86.2h0M118.2 74.6h0M130.5 76.4h0M117.3 78.2h0M116.6 80.0h0M121.3 77.1h0M125.9 89.8h0M112.8 88.9h0M112.6 92.2h0M125.7 94.5h0M114.5 76.9h0M120.7 80.9h0M123.9 83.2h0M117.1 86.7h0M119.9 87.4h0M132.1 78.5h0M127.0 89.1h0M131.7 88.4h0M128.0 74.1h0M110.5 84.8h0M124.3 78.1h0M116.4 83.6h0M127.1 83.0h0M119.1 77.9h0M129.1 86.0h0M122.4 93.8h0M129.2 86.0h0M125.0 78.8h0M134.3 82.7h0M128.2 89.0h0M128.3 88.2h0M129.4 81.9h0M124.1 97.1h0M119.2 93.8h0M116.4 85.3h0M127.7 90.9h0M118.2 92.8h0M124.0 84.1h0M132.0 90.4h0M118.2 89.1h0M114.7 92.7h0M113.2 88.3h0M134.5 82.8h0M125.0 95.9h0M132.3 85.7h0M113.5 74.4h0M120.9 81.1h0M128.1 80.1h0M131.4 81.4h0M119.9 78.1h0M122.1 72.6h0M122.2 93.0h0M131.2 88.2h0M120.4 71.8h0M128.6 87.3h0M119.7 83.5h0M129.3 91.2h0M124.5 72.7h0M114.1 77.2h0M118.7 96.0h0M124.9 95.2h0M128.2 94.3h0M115.8 93.5h0M118.5 87.9h0M127.8 72.2h0M121.2 82.3h0M120.1 80.1h0M121.5 74.5h0M131.5 74.7h0M117.5 83.2h0M122.0 75.8h0M117.1 80.4h0M124.1 80.3h0M123.6 91.8h0M113.8 90.4h0M133.8 76.9h0M130.2 87.0h0M114.2 89.5h0M127.3 81.4h0M132.4 88.5h0M128.2 74.9h0M123.6 92.0h0M118.6 73.3h0M118.1 82.6h0M119.0 88.4h0M122.0 94.3h0M125.5 74.4h0M122.8 78.2h0M123.4 81.2h0M116.2 83.8h0M118.9 92.6h0M112.8 74.9h0M126.3 84.2h0M118.1 84.7h0M120.2 88.0h0M121.1 71.4h0M126.1 85.1h0M112.2 77.0h0M115.9 74.8h0M115.5 88.7h0M119.6 91.8h0M117.3 78.7h0M113.8 85.8h0M114.4 81.0h0M116.7 84.2h0M125.6 77.2h0M118.2 74.5h0M112.2 86.8h0M117.1 81.1h0M128.1 73.0h0M126.1 90.8h0M112.1 77.5h0M119.9 86.7h0M124.9 76.3h0M116.6 84.2h0M122.9 84.4h0M120.9 93.4h0M117.3 78.4h0M112.3 89.3h0M124.4 79.7h0M115.7 74.1h0M123.0 94.0h0M127.9 80.1h0M126.8 77.7h0M125.7 89.4h0M131.3 89.4h0M118.5 86.4h0M114.1 91.3h0M119.2 82.9h0M112.3 87.9h0M123.9 76.9h0M116.4 92.9h0M120.7 85.1h0M127.1 85.9h0M129.2 83.9h0M133.5 81.8h0M130.6 77.0h0M116.8 84.8h0M131.1 81.7h0M133.9 87.1h0M126.2 83.5h0M120.0 74.4h0M115.1 95.4h0M114.9 76.5h0M117.5 95.4h0M128.3 87.7h0M118.4 78.9h0M122.2 86.5h0M130.5 89.5h0M117.0 83.4h0M115.7 96.1h0M123.3 76.3h0M132.6 87.9h0M112.2 78.1h0M122.4 96.3h0M131.7 88.1h0M126.0 73.9h0M122.7 80.2h0M128.1 86.7h0M132.0 78.2h0M111.5 90.6h0M111.0 89.5h0M115.5 80.2h0M117.8 74.7h0M119.3 92.3h0M125.5 73.0h0M123.1 86.4h0M128.1 84.6h0M117.9 73.9h0M128.4 81.6h0M120.9 77.4h0M123.0 96.1h0M126.6 75.9h0M126.3 88.6h0M133.5 82.9h0M114.7 92.1h0M121.4 97.4h0M115.6 91.3h0M125.7 71.4h0M130.4 77.7h0M115.2 86.2h0M122.0 84.5h0M120.9 74.2h0M130.0 88.7h0M122.9 77.8h0M117.0 95.9h0M122.0 84.2h0M125.5 82.6h0M125.8 92.6h0M113.4 92.8h0M128.4 84.1h0M128.2 83.2h0M131.6 92.5h0M112.8 83.0h0M131.5 76.7h0M118.0 95.4h0M123.6 86.7h0M132.9 81.7h0M129.8 88.4h0M121.0 76.0h0M121.9 87.4h0M114.5 92.8h0M119.9 79.8h0M123.7 87.6h0M121.8 92.6h0M117.1 94.5h0M133.4 86.8h0M115.0 88.7h0M131.4 75.5h0M124.0 92.8h0M123.9 77.2h0M111.3 87.7h0M111.1 86.0h0M128.1 76.9h0M129.3 87.2h0M111.0 79.6h0M112.5 84.1h0M119.8 75.8h0M122.5 88.0h0M131.5 77.8h0M112.9 80.6h0M131.4 86.7h0M118.3 86.8h0M128.1 90.2h0M115.1 84.1h0M120.0 80.4h0M129.6 87.6h0M116.0 88.4h0M124.5 89.3h0M129.0 83.0h0M133.6 81.8h0M131.3 88.1h0M115.7 87.7h0M119.7 72.6h0M129.4 72.9h0M113.9 89.5h0M113.8 77.8h0M127.3 89.5h0M116.6 74.4h0M114.2 84.1h0M132.3 87.9h0M131.8 86.4h0M118.8 94.8h0M116.9 78.3h0M127.1 73.7h0M117.9 94.1h0M118.0 95.7h0M123.5 77.0h0M120.8 81.6h0M122.5 92.4h0M132.2 81.5h0M129.3 73.2h0M121.1 86.5h0M114.3 79.0h0M115.5 93.3h0M124.9 81.9h0M126.7 86.3h0M132.0 85.9h0M109.3 81.7h0M124.5 94.3h0M126.0 77.3h0M115.2 85.1h0M127.5 90.1h0M118.6 97.4h0M111.1 85.9h0M115.3 75.9h0M122.0 76.6h0M126.7 95.8h0M121.4 70.0h0M122.7 85.5h0M128.7 94.9h0M116.5 77.5h0M124.9 88.9h0M131.8 76.1h0M125.1 83.0h0M119.5 81.5h0M112.0 87.2h0M126.9 77.0h0M115.1 90.2h0M118.5 95.9h0M111.7 87.5h0M127.2 76.9h0M115.5 79.9h0M126.6 93.9h0M119.0 96.5h0M118.8 79.7h0M125.7 94.1h0M125.5 91.2h0M123.6 97.3h0M121.2 76.9h0M117.6 86.1h0M129.7 90.6h0M111.5 80.4h0M124.0 87.1h0M121.4 87.1h0M121.3 72.4h0M125.7 92.7h0M112.2 78.0h0M115.3 79.1h0M126.4 83.2h0M121.5 76.5h0M128.0 77.5h0M120.3 96.9h0M112.4 87.7h0M112.8 75.1h0M124.0 77.4h0M127.2 92.9h0M132.1 89.4h0M113.9 91.0h0M121.8 92.1h0M126.7 85.5h0M117.6 84.8h0M122.9 92.6h0M134.3 85.2h0M128.9 87.0h0M110.4 84.4h0M117.1 90.4h0M120.3 72.9h0M126.3 80.6h0M116.1 93.2h0M111.6 75.4h0M123.5 74.0h0M126.8 74.8h0M120.3 75.0h0M113.0 80.8h0M121.0 94.3h0M129.1 92.0h0M119.1 73.8h0M114.8 80.3h0M130.3 91.6h0M117.2 76.5h0M131.9 78.3h0M110.6 85.3h0M130.3 81.6h0M119.2 92.7h0M120.4 77.0h0M115.1 79.6h0M111.6 89.2h0M131.4 73.2h0M131.6 88.5h0M116.0 74.7h0M125.0 85.5h0M112.5 93.5h0M114.8 94.2h0M116.7 83.7h0M116.3 86.2h0M128.4 74.2h0M123.3 81.5h0M121.7 85.1h0M110.8 88.6h0M120.8 92.4h0M123.3 77.2h0M122.0 81.7h0M130.5 74.5h0M122.9 82.2h0M112.9 75.9h0M119.6 83.1h0M128.2 76.7h0M133.0 76.4h0M113.3 75.0h0M112.5 86.6h0M124.0 94.7h0M113.7 87.0h0M123.6 95.0h0M129.9 73.2h0M114.3 93.6h0M133.2 86.6h0M118.8 77.2h0M130.5 78.3h0M123.1 93.9h0M122.0 87.3h0M128.5 85.0h0M117.5 76.9h0M109.8 83.1h0M121.2 88.0h0M113.2 76.2h0M117.7 79.7h0M125.3 92.7h0M118.2 75.3h0M123.8 76.7h0M132.8 74.1h0M117.6 81.6h0M109.7 85.7h0M122.4 90.8h0M118.7 95.3h0M114.1 79.8h0M110.0 79.0h0M119.4 81.8h0M133.2 75.3h0M111.7 89.5h0M120.7 82.7h0M132.6 79.3h0M129.7 84.0h0M126.9 84.2h0M123.8 84.6h0M127.7 91.7h0M125.5 78.4h0M113.5 81.2h0M120.6 81.9h0M114.6 83.3h0M116.0 90.3h0M118.9 77.7h0M119.9 72.9h0M129.5 81.3h0M125.2 92.8h0M124.8 75.6h0M118.6 79.6h0M116.9 85.7h0M125.6 75.1h0M113.5 85.1h0M124.9 78.0h0M117.3 82.5h0M112.2 85.4h0M128.9 79.4h0M132.3 87.9h0M114.0 92.4h0M133.4 83.3h0M117.2 92.1h0M117.0 78.1h0M128.1 85.3h0M128.4 78.8h0M122.9 74.4h0M122.4 74.7h0M111.3 88.3h0M115.4 82.8h0M121.6 90.0h0M112.7 94.5h0M129.0 82.3h0M130.5 93.2h0M111.6 82.0h0M117.1 90.6h0M126.4 71.8h0M116.1 83.7h0M129.6 90.5h0M120.3 71.5h0M129.2 77.5h0M122.2 71.0h0M125.4 88.2h0M133.9 87.1h0M127.9 75.7h0M116.5 90.6h0M124.1 73.3h0M127.7 75.6h0M128.8 83.6h0M132.1 89.1h0M113.8 79.9h0M121.3 97.0h0M115.0 73.6h0M121.4 93.2h0M131.2 92.2h0M111.2 80.1h0M111.9 85.1h0M128.2 76.5h0M124.9 71.4h0M116.8 95.5h0M115.1 81.3h0M120.7 96.8h0M126.8 93.2h0M114.1 84.7h0M115.2 82.7h0M132.6 79.7h0M123.8 89.3h0M122.7 71.3h0M121.3 88.8h0M110.2 83.6h0M123.2 79.9h0M120.8 88.0h0M117.3 89.1h0M130.4 90.9h0M122.1 76.8h0M113.1 79.4h0M130.6 79.4h0M117.1 87.8h0M118.0 75.2h0M125.1 90.9h0M124.2 84.3h0M131.8 91.3h0M117.1 91.6h0M110.1 84.6h0" stroke="#FF63B6" stroke-width="1.45" stroke-linecap="round" fill="none"/>
<path d="M222.6 28.4h0M213.8 32.1h0M205.2 32.4h0M217.5 40.1h0M222.8 25.1h0M214.5 38.7h0M224.9 28.9h0M204.5 37.5h0M212.4 41.0h0M216.1 30.2h0M211.2 44.0h0M216.8 39.8h0M211.3 33.9h0M217.9 26.9h0M213.9 43.7h0M215.2 29.3h0M222.7 27.5h0M224.9 31.8h0M219.5 34.6h0M217.9 25.3h0M216.3 28.3h0M210.6 38.5h0M218.3 36.4h0M202.8 43.3h0M206.4 37.7h0M218.0 37.3h0M206.8 42.8h0M210.7 39.9h0M217.9 33.3h0M208.8 40.5h0M217.7 42.7h0M206.2 37.6h0M211.9 37.1h0M219.5 33.3h0M217.0 43.8h0M223.6 35.6h0M219.0 22.8h0M205.3 40.9h0M223.2 26.6h0M204.6 39.6h0M223.4 37.2h0M216.2 32.5h0M204.4 35.9h0M219.4 34.1h0M206.2 39.3h0M210.2 30.3h0M213.8 36.3h0M207.3 31.9h0M206.9 43.8h0M215.4 40.0h0M218.6 24.9h0M202.2 33.6h0M222.7 37.7h0M219.5 40.3h0M216.7 29.5h0M215.8 30.2h0M223.4 29.2h0M217.3 44.0h0M215.0 26.2h0M220.3 39.4h0M223.5 36.7h0M217.8 28.9h0M218.9 33.1h0M212.7 32.6h0M224.4 34.9h0M220.8 32.2h0M202.1 36.5h0M210.4 30.1h0M216.8 39.4h0M212.4 33.0h0M211.4 34.0h0M216.4 37.5h0M208.6 43.4h0M204.5 37.4h0M203.3 35.7h0M215.3 33.7h0M203.3 35.1h0M214.2 43.0h0M213.6 32.3h0M217.0 38.5h0M214.5 31.4h0M224.5 30.6h0M210.3 32.7h0M204.9 37.8h0M216.9 30.7h0M203.5 36.4h0M207.5 41.6h0M212.1 35.8h0M211.1 43.5h0M216.0 24.9h0M208.7 41.8h0M215.2 26.7h0M210.5 43.1h0M204.7 42.8h0M215.7 35.8h0M212.9 25.4h0M214.4 37.0h0M206.7 30.1h0M211.0 45.1h0M221.4 25.3h0M221.8 29.9h0M218.5 38.3h0M208.0 28.9h0M201.4 36.1h0M220.3 39.2h0M221.6 31.2h0M210.0 30.7h0M211.2 42.2h0M213.1 29.0h0M208.5 38.3h0M208.3 34.8h0M219.9 28.4h0M208.1 35.3h0M208.3 28.3h0M216.1 37.3h0M215.4 31.2h0M215.5 26.3h0M214.8 31.0h0M210.1 30.4h0M212.2 27.7h0M211.7 30.1h0M218.1 35.2h0M210.6 34.2h0M211.5 30.6h0M223.3 28.4h0M222.3 37.3h0M218.3 26.9h0M222.0 36.6h0M214.2 42.7h0M215.6 26.5h0M212.8 34.5h0M217.6 40.0h0M203.3 36.2h0M220.9 34.8h0M221.5 28.8h0M211.6 28.9h0M210.4 43.8h0M204.0 33.0h0M208.3 29.6h0M219.2 31.8h0M222.3 28.4h0M205.0 31.2h0M224.8 33.5h0M205.0 41.8h0M209.3 28.0h0M201.0 38.4h0M215.5 38.5h0M207.1 43.9h0M209.5 38.0h0M222.9 34.4h0M208.3 34.6h0M205.1 38.5h0M224.2 33.4h0M222.7 33.0h0M219.3 40.6h0M209.8 37.3h0M213.4 43.5h0M216.0 38.4h0M222.6 31.4h0M219.4 34.1h0M217.7 23.9h0M211.4 36.1h0M203.9 32.9h0M212.9 39.5h0M206.3 28.9h0M215.1 43.3h0M209.7 31.4h0M210.5 31.7h0M224.5 34.0h0M210.5 31.1h0M217.7 35.4h0M221.6 30.1h0M223.1 24.9h0M205.9 31.9h0M207.7 37.4h0M209.5 42.7h0M218.6 24.1h0M217.6 36.3h0M220.8 25.3h0M214.7 38.6h0M204.6 39.1h0M224.6 30.6h0M222.2 35.4h0M217.0 39.6h0M202.5 41.7h0M209.3 32.3h0M204.3 36.5h0M210.6 41.3h0M215.1 36.4h0M209.9 39.8h0M220.9 40.4h0M218.3 27.8h0M213.4 30.3h0M209.1 34.1h0M216.3 38.4h0M221.7 32.9h0M204.5 38.3h0M211.6 36.0h0M220.5 31.1h0M212.2 43.6h0M224.3 26.2h0M211.2 26.9h0M206.6 40.4h0M212.8 38.5h0M200.1 37.6h0M216.0 40.0h0M218.7 25.6h0M219.2 36.1h0M211.4 32.0h0M209.1 43.2h0M203.7 34.9h0M210.4 40.8h0M209.8 43.0h0M217.9 37.8h0M218.9 28.2h0M215.3 41.5h0M201.0 37.3h0M221.7 38.5h0M209.3 42.5h0M210.4 45.0h0M218.6 33.0h0M205.0 39.8h0M221.1 26.8h0M222.6 36.8h0M221.6 35.3h0M222.6 34.2h0M208.6 38.6h0M215.7 29.8h0M202.1 34.3h0M215.2 37.2h0M219.2 35.5h0M212.0 44.3h0M207.7 29.0h0M214.5 25.4h0M206.3 31.5h0M210.0 35.5h0M212.3 32.0h0M214.7 44.3h0M201.1 38.4h0M219.9 26.0h0M219.1 31.6h0M212.6 35.9h0M206.2 33.3h0M207.9 30.1h0M223.5 28.8h0M212.8 32.6h0M208.0 32.5h0M217.3 31.4h0M213.9 25.1h0M222.4 36.0h0M207.9 40.2h0M215.3 26.9h0M221.8 26.6h0M205.2 31.9h0M216.9 34.0h0M213.4 27.9h0M223.9 31.9h0M218.0 23.4h0M220.5 26.7h0M225.3 29.0h0M204.0 39.2h0M215.8 34.5h0M204.5 32.1h0M214.7 28.4h0M210.9 33.6h0M215.1 27.1h0M214.9 28.8h0M223.2 30.4h0M205.9 37.6h0M217.7 31.6h0M221.8 35.2h0M209.6 32.4h0M212.0 38.1h0M219.3 34.3h0M216.2 41.2h0M212.1 30.0h0M207.6 31.1h0M220.2 35.1h0M209.6 42.4h0M221.2 35.2h0M215.4 37.5h0M208.0 41.0h0M202.0 36.5h0M207.9 36.7h0M207.9 36.4h0M218.4 41.4h0M207.7 29.0h0M221.4 35.6h0M212.1 39.2h0M221.7 26.0h0M223.2 24.5h0M208.0 35.7h0M208.0 33.9h0M217.2 30.0h0M205.0 31.1h0M215.4 23.9h0M223.6 25.8h0M217.7 39.9h0M204.5 36.4h0M214.7 37.7h0M214.1 35.1h0M204.4 40.7h0M213.9 30.7h0M221.0 34.6h0M219.4 24.5h0M206.0 37.7h0M203.5 42.8h0M223.6 28.4h0M221.7 32.8h0M224.9 25.2h0M206.6 43.7h0M210.3 27.2h0M218.9 37.9h0M214.8 29.2h0M220.9 36.6h0M209.0 36.0h0M210.4 43.8h0M215.3 36.8h0M216.1 28.3h0M216.2 35.7h0M217.1 28.2h0M204.5 34.6h0M217.9 28.1h0M221.7 30.7h0M208.6 42.0h0M214.9 41.4h0M207.5 30.0h0M214.3 33.7h0M221.5 25.7h0M211.2 37.5h0M207.3 34.5h0M204.9 44.0h0M212.2 44.0h0M218.2 35.0h0M220.1 29.1h0M223.2 30.3h0M211.9 35.0h0M207.7 39.1h0M206.6 39.5h0M211.3 32.0h0M206.9 40.2h0M221.1 26.4h0M219.3 34.8h0M217.1 40.9h0M210.5 33.4h0M216.9 35.0h0M213.8 25.0h0M211.2 32.9h0M204.4 43.3h0M222.9 27.7h0M211.8 31.9h0M221.6 26.0h0M223.4 32.6h0M221.6 31.4h0M219.2 26.4h0M213.4 24.3h0M210.2 28.1h0M211.4 31.5h0M219.5 41.7h0M217.0 31.1h0M212.0 28.5h0M213.7 25.2h0M215.9 29.7h0M221.4 30.1h0M211.2 30.2h0M221.8 35.3h0M216.9 26.8h0M218.0 35.1h0M210.8 37.3h0M207.2 40.8h0M222.5 31.3h0M213.4 29.0h0M204.3 37.0h0M220.0 27.9h0M207.1 43.6h0M200.8 36.1h0M211.0 38.2h0M215.8 29.4h0M223.8 33.3h0M222.2 32.0h0M212.6 36.3h0M216.7 38.0h0M213.6 43.0h0M203.7 43.4h0M209.7 44.6h0M203.4 40.9h0M204.6 40.1h0M200.5 38.2h0M218.1 28.6h0M209.8 44.4h0M219.1 25.1h0M208.9 45.3h0M211.0 40.6h0M209.7 34.4h0M215.5 33.4h0M204.4 35.2h0M223.2 24.5h0M225.2 26.8h0M222.4 31.6h0M224.9 27.0h0M215.1 25.8h0M207.8 39.6h0M204.2 31.9h0M209.9 31.3h0M216.7 39.0h0M201.0 42.2h0M217.7 41.7h0M218.2 24.5h0M207.2 39.8h0M216.6 32.0h0M219.5 37.3h0M200.6 36.9h0M202.5 40.7h0M211.6 39.8h0M218.5 29.8h0M218.9 28.9h0M209.5 45.5h0M224.1 29.4h0M216.9 31.3h0M222.8 28.4h0M200.1 36.7h0M201.4 38.8h0M223.4 30.2h0M202.4 33.0h0M207.6 28.9h0M204.9 31.4h0M204.9 42.8h0M203.7 39.2h0M219.6 33.6h0M215.0 34.9h0M203.0 39.4h0M204.3 33.6h0M217.3 40.0h0M207.0 35.4h0M218.4 39.3h0M219.4 30.1h0M201.4 36.2h0M217.6 39.6h0M210.4 42.8h0M218.3 34.9h0M223.1 32.2h0M202.1 41.8h0M216.5 26.4h0M217.5 39.4h0M213.7 30.4h0M212.6 38.4h0M211.2 26.9h0M218.5 27.8h0M208.2 42.3h0M218.5 37.2h0M208.4 34.3h0M222.7 29.6h0M221.3 22.7h0M206.0 42.2h0M222.9 26.7h0M208.2 41.4h0M215.4 37.8h0M218.4 30.4h0M215.7 24.3h0M206.4 37.5h0M209.6 45.6h0M215.2 24.1h0M223.7 30.9h0M211.3 31.3h0" stroke="#F8766D" stroke-width="1.45" stroke-linecap="round" fill="none"/>
<path d="M212.9 118.2h0M217.4 122.4h0M226.4 115.2h0M209.7 123.9h0M216.1 116.5h0M210.9 116.5h0M213.6 113.1h0M216.5 121.4h0M208.2 121.6h0M212.9 116.9h0M207.9 122.6h0M212.7 122.5h0M226.3 118.4h0M217.9 122.4h0M215.8 116.1h0M227.0 116.5h0M219.8 121.3h0M210.7 121.6h0M219.9 113.8h0M209.6 124.4h0M216.5 114.0h0M215.7 119.8h0M213.5 122.1h0M211.5 125.2h0M215.1 114.4h0M220.6 114.0h0M218.5 115.7h0M223.7 123.3h0M220.9 114.9h0M226.8 122.0h0M226.7 115.8h0M212.7 123.6h0M222.5 113.6h0M215.8 122.8h0M209.4 118.5h0M211.7 120.7h0M216.0 113.5h0M227.0 118.3h0M206.1 116.4h0M226.7 114.7h0M212.8 123.1h0M216.0 122.7h0M210.4 124.2h0M207.2 114.6h0M207.6 116.2h0M225.8 122.6h0M213.1 116.6h0M216.1 122.6h0M218.6 113.3h0M215.3 120.0h0M212.7 125.8h0M228.4 119.2h0M209.2 120.5h0M206.6 122.5h0M222.8 124.0h0M225.4 117.7h0M210.0 122.4h0M210.5 125.6h0M215.5 115.2h0M228.5 118.0h0M209.5 117.8h0M222.7 111.5h0M226.4 123.1h0M224.4 114.4h0M222.2 118.5h0M214.2 115.5h0M213.7 118.9h0M217.4 118.2h0M214.4 118.7h0M211.7 121.3h0M222.4 125.1h0M223.9 112.4h0M222.0 118.0h0M212.7 120.3h0M221.4 111.6h0M224.9 116.3h0M222.1 122.5h0M218.4 118.2h0M211.5 115.0h0M218.6 115.0h0M212.8 111.1h0M211.0 125.3h0M227.3 117.2h0M215.9 114.6h0M220.1 120.2h0M212.5 121.4h0M219.9 117.6h0M211.3 119.8h0M222.6 118.8h0M217.6 122.4h0M208.6 124.4h0M224.6 121.2h0M216.2 111.4h0M225.2 122.9h0M211.9 113.3h0M223.2 116.7h0M209.4 120.0h0M219.0 113.5h0M209.9 118.4h0M219.3 118.2h0M225.5 113.9h0M208.3 113.8h0M210.2 119.2h0M219.5 125.1h0M217.2 115.1h0M222.7 113.7h0M216.0 112.6h0M216.0 123.1h0M216.8 113.8h0M224.7 111.8h0M216.9 117.6h0M216.2 122.5h0M222.6 119.4h0M224.1 116.4h0M227.2 119.8h0M220.2 120.1h0M225.9 119.3h0M210.7 122.9h0M213.8 112.0h0M213.8 113.4h0M223.4 121.1h0M214.9 117.4h0M209.9 117.0h0M211.5 119.1h0M226.0 120.0h0M209.2 118.5h0M216.1 120.7h0M226.2 114.1h0M225.5 119.6h0M216.0 120.5h0M217.7 121.7h0M209.9 124.8h0M215.3 112.7h0M215.4 114.2h0M218.4 113.9h0M209.7 116.9h0M224.9 121.1h0M207.7 121.0h0M208.1 116.3h0M218.2 121.1h0M217.0 121.2h0M215.1 115.6h0M219.1 120.3h0M216.8 111.5h0M215.3 114.3h0M224.0 122.2h0M221.1 112.6h0M223.8 116.7h0M222.6 113.1h0M218.1 123.4h0M214.0 115.2h0M227.9 119.2h0M225.4 115.1h0M212.5 112.1h0M216.7 113.9h0M223.0 122.9h0M219.6 112.3h0M210.1 119.4h0M222.7 122.3h0M214.7 120.9h0M224.2 117.0h0M211.3 120.5h0M211.7 118.5h0M209.7 118.2h0M216.8 115.6h0M222.7 120.5h0M209.4 113.4h0M218.7 122.9h0M217.2 118.1h0M212.8 117.9h0M211.5 112.5h0M211.7 125.4h0M222.9 117.5h0M224.2 120.4h0M216.6 122.3h0M217.9 124.7h0M209.6 117.1h0M212.6 118.7h0M219.2 122.8h0M214.5 120.2h0M214.4 112.4h0M212.2 117.1h0M223.9 119.3h0M215.3 117.2h0M220.4 124.3h0M211.8 116.9h0M221.4 121.0h0M213.3 121.0h0M213.5 123.8h0M207.7 120.8h0M227.1 117.6h0M207.6 118.6h0M215.7 119.2h0M208.8 116.9h0M219.9 111.1h0M218.6 120.7h0M221.0 118.9h0M217.5 122.3h0M217.5 120.4h0M212.8 122.6h0M210.7 115.0h0M216.6 115.8h0M208.1 117.7h0M220.6 122.6h0M227.1 122.1h0M212.5 116.9h0M217.2 120.6h0M217.3 112.6h0M221.2 115.5h0M208.4 124.2h0M212.1 112.7h0M216.2 120.8h0M214.1 118.0h0M216.3 121.5h0M212.1 123.4h0M214.5 115.4h0M220.1 121.2h0M207.8 119.3h0M211.8 116.0h0M223.4 116.0h0M210.8 122.6h0M210.9 123.9h0M212.3 116.4h0M207.4 115.5h0M218.7 118.6h0M214.1 120.6h0M216.3 113.0h0M209.5 119.8h0M227.2 120.4h0M220.4 115.2h0M209.4 123.5h0M219.3 122.1h0M213.4 121.3h0M214.7 114.5h0M217.0 122.5h0M214.6 115.3h0M206.8 122.1h0M218.7 120.7h0M221.9 120.7h0M207.1 116.7h0M223.7 119.7h0M212.1 117.5h0M224.2 116.1h0M227.1 119.8h0M219.0 119.1h0M219.4 122.4h0M222.2 111.9h0M216.4 118.3h0M221.8 118.1h0M217.4 126.5h0M213.3 117.7h0M219.0 117.6h0M219.6 121.9h0M220.1 117.5h0M221.1 121.2h0M210.5 119.5h0M216.2 123.7h0M215.0 121.1h0M226.9 117.4h0M223.4 123.4h0M212.1 120.8h0M218.8 118.4h0M209.1 123.6h0M215.9 116.5h0M214.9 122.0h0M216.2 116.4h0M209.7 112.9h0M227.3 120.8h0M210.0 116.2h0M226.7 117.7h0M210.2 122.9h0M218.6 119.3h0M228.3 121.1h0M218.0 119.2h0M212.8 115.4h0M221.9 116.6h0M219.2 118.7h0M211.7 116.8h0M213.0 122.0h0M218.2 119.6h0M208.0 123.4h0M219.0 119.5h0M219.9 111.6h0M221.2 111.1h0M218.4 123.2h0M225.9 120.2h0M222.7 120.9h0M225.2 114.5h0M221.5 118.5h0M206.5 118.9h0M221.5 118.0h0M208.1 120.6h0M207.3 119.4h0M209.9 114.2h0M215.3 120.3h0M217.3 119.2h0M219.6 118.4h0M219.0 120.9h0M212.5 114.1h0M211.7 124.5h0M209.6 115.0h0M223.7 120.4h0M223.1 122.9h0M223.0 115.2h0" stroke="#B385FF" stroke-width="1.45" stroke-linecap="round" fill="none"/>
<path d="M78.2 67.3h0M67.4 44.4h0M67.0 53.6h0M73.2 49.8h0M65.6 44.0h0M73.0 63.1h0M71.1 48.0h0M73.7 52.0h0M63.8 51.7h0M80.9 69.2h0M76.6 65.6h0M63.8 46.0h0M62.3 49.5h0M74.9 57.7h0M67.5 51.8h0M71.6 49.4h0M65.2 49.6h0M69.8 47.8h0M66.1 52.3h0M66.9 51.9h0M69.7 65.1h0M66.2 46.1h0M81.3 66.8h0M72.6 53.2h0M75.5 60.7h0M61.4 47.4h0M61.7 43.4h0M69.2 51.6h0M62.9 41.6h0M74.3 63.9h0M66.0 56.3h0M73.3 51.9h0M79.0 66.3h0" stroke="#fff" stroke-width="1.0" stroke-linecap="round" fill="none"/>
<path d="M81.3 97.8h0M63.3 100.6h0M65.1 101.6h0M62.0 83.1h0M62.4 91.7h0M62.3 95.0h0M76.1 98.7h0M68.7 85.5h0M62.4 87.9h0M71.1 79.5h0M72.0 75.6h0M67.7 81.8h0M71.5 99.1h0M55.4 86.0h0M57.6 82.7h0M77.7 93.4h0M77.1 100.5h0M65.5 83.6h0M60.3 81.9h0M73.9 95.1h0M77.1 90.4h0M81.1 102.7h0M55.1 83.7h0M70.1 93.0h0M84.9 99.6h0M69.3 73.0h0M60.4 90.0h0M78.6 81.3h0M77.5 84.0h0M71.3 82.8h0M70.4 101.6h0M78.9 100.8h0M67.4 80.4h0M73.1 105.9h0M76.7 78.0h0M79.8 103.3h0M77.7 97.3h0M75.8 90.9h0M66.9 96.7h0M67.7 75.9h0M82.5 104.4h0M74.1 81.9h0M64.9 75.1h0M68.7 77.2h0M75.7 105.6h0M63.9 79.0h0M71.2 73.3h0M59.0 76.0h0M80.5 88.6h0M79.5 101.1h0M64.4 76.0h0M71.4 101.9h0M75.0 75.7h0M69.8 84.5h0M58.0 74.4h0M76.7 94.5h0M67.6 74.0h0M62.7 86.0h0M77.4 85.1h0M78.4 83.1h0M73.5 98.0h0M67.4 86.7h0M76.1 72.7h0M60.4 87.7h0M78.9 83.3h0M59.8 84.8h0M56.2 80.1h0M76.9 93.1h0M67.6 97.2h0M62.4 78.5h0M83.1 101.5h0M63.8 70.8h0M75.4 82.2h0M65.0 96.5h0M67.6 79.9h0M81.5 99.9h0M79.8 81.7h0M64.3 74.5h0M79.9 96.4h0M62.0 81.8h0M58.3 88.7h0M61.0 71.3h0M65.9 76.8h0M80.4 99.7h0M78.8 100.4h0M69.5 94.6h0M63.9 99.7h0M74.4 100.3h0M78.0 86.1h0M58.1 77.8h0M70.0 105.5h0" stroke="#fff" stroke-width="1.0" stroke-linecap="round" fill="none"/>
<path d="M62.4 118.0h0M65.6 113.9h0M63.8 104.1h0M77.8 113.6h0M54.8 119.3h0M85.8 110.5h0M79.5 110.8h0M66.7 116.0h0M81.9 108.0h0M65.7 111.4h0M65.1 111.1h0M69.2 112.3h0M64.7 120.2h0M61.6 121.1h0M69.5 106.7h0M81.2 118.2h0M54.8 119.1h0M62.5 118.2h0M62.4 112.8h0M81.0 110.5h0M77.4 118.2h0M84.7 114.5h0M66.8 119.3h0M65.2 107.8h0M71.5 114.7h0M72.5 106.8h0M76.2 111.6h0M56.1 113.3h0M85.8 113.2h0M58.7 119.8h0M80.5 111.9h0M75.1 118.2h0M62.5 116.4h0M82.2 111.8h0M73.4 111.8h0M60.3 115.5h0M55.6 118.3h0M68.3 117.1h0M64.1 112.1h0M70.6 116.7h0M62.9 115.8h0M63.0 120.0h0M82.1 111.4h0" stroke="#fff" stroke-width="1.0" stroke-linecap="round" fill="none"/>
<path d="M88.7 90.9h0M87.7 80.0h0M82.8 81.5h0M93.6 73.3h0M82.4 67.8h0M89.1 68.5h0M87.6 83.7h0M81.7 69.2h0M82.4 86.6h0M88.7 71.7h0M90.7 78.1h0M86.8 91.7h0M90.2 90.0h0M84.7 80.9h0M81.0 71.6h0M88.8 88.1h0M94.7 79.4h0M84.6 83.6h0M87.2 70.5h0M94.2 89.1h0" stroke="#fff" stroke-width="1.0" stroke-linecap="round" fill="none"/>
<path d="M104.0 99.3h0M99.2 92.3h0M94.9 108.1h0M95.8 107.8h0M94.6 95.4h0M96.7 99.1h0M97.5 100.7h0M100.3 97.4h0M99.5 101.8h0M99.4 106.9h0M103.1 102.1h0M96.2 105.1h0M97.1 96.5h0M103.2 104.4h0M95.4 95.3h0M104.2 104.0h0M94.2 95.6h0M95.9 95.6h0M97.6 95.6h0M95.7 107.8h0M100.7 108.6h0M101.5 96.7h0M95.1 106.3h0M95.7 97.4h0M101.2 95.8h0M98.5 101.3h0" stroke="#fff" stroke-width="1.0" stroke-linecap="round" fill="none"/>
<path d="M110.4 127.5h0M109.7 122.7h0M110.1 126.5h0M107.7 114.8h0M106.4 129.1h0M87.3 122.8h0M103.0 125.8h0M91.1 127.4h0M91.8 116.7h0M103.2 112.0h0M92.0 117.1h0M93.1 117.1h0M97.9 118.2h0M87.7 129.1h0M97.0 131.4h0M97.0 135.0h0M106.2 132.6h0M100.5 123.0h0M101.8 116.3h0M97.4 112.7h0M89.2 119.8h0M105.7 113.5h0M109.0 125.4h0M107.3 120.1h0M102.5 131.4h0M96.8 133.8h0M107.1 125.9h0M95.3 111.5h0M94.1 131.8h0M101.3 114.0h0M84.7 128.6h0M105.2 115.4h0M96.1 116.2h0M109.4 123.7h0M99.4 122.6h0M99.8 123.8h0M97.7 131.7h0M84.6 124.1h0M86.1 125.3h0M86.9 128.6h0M97.5 131.4h0M89.8 118.3h0M91.3 125.8h0M85.1 125.2h0M91.6 121.2h0M87.4 114.9h0M108.3 125.9h0M84.4 123.4h0M86.6 128.9h0M86.2 121.3h0M110.8 119.1h0M84.8 127.4h0M100.6 120.8h0M86.2 125.7h0M86.8 129.7h0M111.9 120.1h0M92.2 115.3h0M89.0 120.8h0M103.6 120.2h0M94.4 114.8h0M84.7 124.2h0M89.7 131.7h0M83.8 124.4h0M97.0 115.2h0M104.7 113.9h0" stroke="#fff" stroke-width="1.0" stroke-linecap="round" fill="none"/>
<path d="M119.4 126.3h0M128.8 104.7h0M128.3 125.2h0M132.0 105.8h0M140.8 104.6h0M121.4 125.5h0M121.4 120.7h0M128.8 98.3h0M119.0 131.4h0M130.9 116.6h0M132.5 117.9h0M132.4 111.7h0M137.7 103.4h0M131.7 98.6h0M123.8 100.2h0M122.9 112.8h0M120.5 124.7h0M131.8 118.1h0M123.6 105.0h0M133.6 105.1h0M128.9 109.7h0M131.8 128.1h0M127.0 112.7h0M126.7 110.1h0M135.5 103.1h0M121.4 106.9h0M133.8 104.5h0M122.4 132.1h0M120.0 119.9h0M122.2 105.0h0M132.1 121.3h0M120.8 119.9h0M119.9 120.2h0M130.8 104.8h0M129.3 115.8h0M134.1 99.9h0M122.1 129.3h0M131.6 98.0h0M133.7 124.0h0M136.5 105.7h0M130.8 98.5h0M119.6 128.1h0M120.9 104.8h0M138.9 101.4h0M123.5 124.6h0M126.1 119.0h0M131.2 98.2h0M128.8 100.7h0M125.6 109.3h0M130.0 113.5h0M116.2 127.4h0M135.3 119.5h0M141.1 110.2h0M137.2 122.4h0M127.6 125.7h0M137.4 107.0h0M134.3 106.0h0M134.4 103.0h0M128.4 102.6h0M136.2 99.2h0M121.9 123.9h0M120.6 114.2h0M124.5 111.6h0M135.3 118.4h0M125.4 127.6h0M138.5 102.9h0M136.1 119.1h0M121.1 129.6h0M122.8 103.9h0M129.1 128.0h0M126.7 102.8h0M119.9 129.3h0M128.4 115.8h0M123.8 101.6h0M120.2 112.9h0M132.3 124.0h0M119.4 118.2h0M133.7 123.2h0M129.8 110.7h0" stroke="#fff" stroke-width="1.0" stroke-linecap="round" fill="none"/>
<path d="M130.6 77.3h0M115.4 92.7h0M119.1 74.3h0M121.1 76.5h0M117.0 75.3h0M127.2 74.0h0M116.6 82.4h0M115.6 82.9h0M132.4 88.0h0M128.4 85.1h0M110.9 84.8h0M127.8 75.6h0M128.3 90.7h0M131.0 74.6h0M118.9 77.8h0M133.2 86.8h0M130.8 82.1h0M122.5 77.3h0M114.2 75.1h0M124.8 95.4h0M132.8 84.6h0M128.6 90.7h0M115.5 92.3h0M128.0 93.2h0M112.6 91.1h0M112.5 84.3h0M122.0 94.1h0M110.9 84.9h0M123.9 76.8h0M121.1 95.8h0M113.0 79.4h0M117.0 83.5h0M116.7 89.8h0M115.5 87.4h0M121.3 75.4h0M116.4 76.4h0M117.4 77.8h0M111.1 84.8h0M132.6 79.8h0M118.3 92.8h0M123.5 92.5h0M128.7 86.9h0M124.7 75.4h0M117.0 83.8h0M131.4 90.1h0M111.3 82.9h0M116.9 83.2h0M121.8 96.9h0M119.7 94.8h0M124.5 75.9h0M123.7 95.0h0M121.8 76.1h0M128.2 88.7h0M124.1 73.0h0M128.3 81.9h0M111.7 84.8h0M121.8 75.0h0M115.8 83.6h0M114.1 91.5h0M128.9 77.1h0M122.4 76.9h0M116.5 95.3h0M124.5 75.2h0M118.2 81.9h0M112.6 92.3h0M122.2 94.1h0M128.5 90.6h0M124.0 74.3h0" stroke="#fff" stroke-width="1.0" stroke-linecap="round" fill="none"/>
<path d="M285 12V212.6H485" stroke="#000" stroke-width="1" fill="none"/>
<path d="M281.7 27.5h3M281.7 77h3M281.7 126.5h3M281.7 176h3M326.3 212.6v3.3M367.5 212.6v3.3M408.8 212.6v3.3M450 212.6v3.3" stroke="#000" stroke-width="1" fill="none"/>
<g stroke="#000" stroke-width="0.22">
<text x="278.2" y="31.1" font-size="10" text-anchor="end">10</text>
<text x="278.2" y="80.6" font-size="10" text-anchor="end">5</text>
<text x="278.2" y="130.1" font-size="10" text-anchor="end">0</text>
<text x="278.2" y="179.6" font-size="10" text-anchor="end">−5</text>
<text x="326.3" y="226.1" font-size="10" text-anchor="middle">−10</text>
<text x="367.5" y="226.1" font-size="10" text-anchor="middle">−5</text>
<text x="408.8" y="226.1" font-size="10" text-anchor="middle">0</text>
<text x="450" y="226.1" font-size="10" text-anchor="middle">5</text>
</g>
<text font-size="8.5" text-anchor="middle" transform="translate(263 117.5) rotate(-90)">UMAP_2</text>
<text x="385" y="235.5" font-size="8.5" text-anchor="middle">UMAP_1</text>
<path d="M328.8 23.7L329.7 22.8L330.6 22.6L331.6 23.1L332.7 24.3L333.8 26.2L334.8 28.0L335.6 29.7L336.2 31.2L336.6 32.8L336.7 34.3L336.4 36.0L335.7 37.8L334.6 39.7L333.6 41.7L332.8 43.9L332.1 46.2L331.4 48.8L330.8 51.4L330.1 54.1L329.5 57.0L328.8 60.0L328.1 62.0L327.3 63.1L326.4 63.2L325.4 62.3L324.5 61.3L323.5 60.1L322.6 58.8L321.7 57.2L321.2 55.3L321.0 53.0L321.3 50.3L322.0 47.2L322.7 44.2L323.4 41.4L324.1 38.8L324.9 36.2L325.5 33.9L326.1 31.7L326.6 29.7L326.9 27.8L327.4 26.2L328.1 24.8Z" fill="#F8766D" fill-opacity="0.5"/>
<path d="M302.4 142.4h0M307.5 158.9h0M305.4 147.2h0M306.2 149.0h0M308.3 152.8h0M307.8 158.2h0M305.5 151.9h0M306.6 155.1h0M302.3 142.7h0M304.4 145.7h0M307.1 151.3h0M305.6 148.5h0M307.9 156.4h0M305.5 148.3h0M308.1 157.8h0M305.6 147.1h0M302.7 144.2h0M307.2 152.4h0M306.2 148.6h0M307.1 154.4h0M306.0 152.1h0M305.0 146.5h0M305.7 151.3h0M307.1 157.3h0M303.4 142.8h0M307.1 151.7h0M306.0 149.5h0M306.8 158.4h0M307.8 157.9h0M306.1 152.5h0M306.2 151.3h0M306.0 150.2h0M301.7 141.9h0M302.5 144.5h0M308.3 156.8h0M306.9 155.9h0M306.0 148.8h0M302.0 141.7h0M303.6 143.6h0M301.1 141.3h0M302.4 142.0h0M304.8 149.2h0M306.4 154.3h0M306.8 153.7h0M307.4 159.2h0M305.1 146.5h0M303.2 143.7h0M303.7 145.1h0M307.8 158.2h0M302.8 144.2h0M304.7 146.2h0M303.2 144.4h0M306.4 154.3h0M301.5 140.9h0M305.3 150.4h0M307.1 151.6h0M301.5 142.3h0M305.8 151.4h0M307.3 154.8h0M307.1 153.7h0M305.8 150.6h0M304.9 147.3h0M306.0 151.0h0M305.4 149.0h0M307.3 154.6h0M305.7 151.1h0M308.2 156.4h0M307.0 152.1h0M304.8 147.8h0M305.7 148.9h0" stroke="#EF67EB" stroke-width="1.45" stroke-linecap="round" fill="none"/>
<path d="M296.3 167.3h0M304.1 178.2h0M301.5 169.7h0M304.7 178.6h0M303.9 171.9h0M302.9 173.3h0M295.9 166.3h0M304.8 175.3h0M296.3 166.6h0M303.7 178.9h0M305.0 181.3h0M295.7 166.8h0M304.3 178.9h0M304.8 174.5h0M302.7 170.9h0M302.7 173.1h0M304.4 178.1h0M295.4 165.8h0M300.8 169.1h0M302.5 170.3h0M300.1 168.8h0M299.6 166.9h0M302.4 171.0h0M304.0 180.6h0M304.8 175.0h0M301.2 169.8h0M297.6 167.3h0M304.5 176.9h0M304.7 180.7h0M302.4 170.5h0M294.2 165.6h0M300.3 168.3h0M304.9 174.1h0M304.5 176.1h0M304.8 178.1h0M294.6 166.0h0M296.3 165.9h0M295.5 166.5h0M296.1 166.5h0M303.5 178.7h0M299.0 167.7h0M301.4 170.1h0M304.6 180.8h0M300.1 169.8h0M305.1 175.3h0" stroke="#AEA200" stroke-width="1.45" stroke-linecap="round" fill="none"/>
<path d="M303.0 163.6h0M302.8 165.0h0M305.4 161.0h0M302.1 164.3h0M302.8 164.8h0M303.6 164.2h0M302.6 164.9h0M303.3 162.5h0M304.2 163.0h0M304.4 161.6h0" stroke="#AEA200" stroke-width="1.45" stroke-linecap="round" fill="none"/>
<path d="M296.8 165.6h0M297.0 165.9h0M296.0 162.5h0M297.5 165.5h0M296.0 163.1h0M298.4 166.2h0" stroke="#AEA200" stroke-width="1.45" stroke-linecap="round" fill="none"/>
<path d="M306.6 184.5L308.4 184.5L310.1 184.7L311.8 185.1L313.4 185.6L315.1 186.4L316.7 187.2L318.3 188.0L319.9 188.8L321.6 189.7L323.1 190.6L324.5 191.5L325.9 192.5L327.1 193.5L328.1 194.5L328.7 195.5L329.0 196.5L329.0 197.5L328.8 198.5L328.2 199.4L327.5 200.3L326.5 201.2L325.3 201.9L323.8 202.4L322.2 202.8L320.3 203.0L318.4 203.0L316.4 202.9L314.3 202.6L312.2 202.2L310.3 201.5L308.8 200.6L307.5 199.4L306.5 198.1L305.7 196.7L305.0 195.2L304.5 193.8L304.2 192.2L304.0 190.8L303.9 189.3L303.9 187.9L303.9 186.6L304.4 185.5L305.3 184.8Z" fill="#B385FF" fill-opacity="0.5"/>
<path d="M334.9 193.8h0M332.3 196.1h0M331.4 196.3h0M334.7 193.2h0M329.1 196.6h0M329.9 196.5h0M329.1 196.8h0M335.5 193.7h0M333.9 193.8h0M330.7 194.6h0M334.4 193.6h0M328.4 196.2h0M330.5 195.7h0M331.3 195.5h0M327.0 197.6h0M334.1 195.2h0M332.8 195.3h0M329.8 197.1h0M333.6 195.2h0M332.5 196.2h0M327.4 195.4h0M333.2 194.5h0M328.3 195.9h0M332.3 195.2h0M332.6 193.9h0M331.1 196.3h0M335.5 192.9h0M334.1 195.4h0" stroke="#B385FF" stroke-width="1.45" stroke-linecap="round" fill="none"/>
<path d="M398.0 106.3L399.3 99.2L401.5 93.0L404.7 87.6L408.4 83.9L412.5 82.1L416.7 81.8L421.2 83.2L425.0 84.8L428.1 86.8L429.2 89.4L428.1 92.7L426.4 95.7L424.3 98.4L421.6 100.7L418.4 102.6L415.4 104.9L412.7 107.5L410.0 109.9L407.3 112.0L404.4 113.3L401.2 113.7L399.0 112.9L397.9 110.9Z" fill="#00C1A7" fill-opacity="0.32"/>
<path d="M425.1 84.7L429.5 86.4L434.3 88.1L439.6 89.8L444.1 92.3L447.8 95.5L450.5 99.4L452.3 103.9L453.8 107.7L455.1 110.8L455.0 114.3L453.7 118.3L451.7 121.6L449.1 124.4L446.4 125.7L443.6 125.7L440.9 124.4L438.2 121.7L435.9 118.7L434.1 115.2L432.0 111.6L429.8 108.0L427.6 104.8L425.4 102.2L423.7 100.4L422.5 99.5L423.0 97.7L425.2 95.1L425.5 91.3L423.8 86.3Z" fill="#00BD5C" fill-opacity="0.32"/>
<path d="M449.5 121.9h0M455.9 119.3h0M449.3 126.8h0M454.0 115.8h0M459.7 124.8h0M452.1 117.6h0M455.5 124.0h0M452.6 124.0h0M455.7 126.4h0M455.7 128.8h0M462.5 126.4h0M456.0 117.9h0M451.4 117.4h0M458.0 132.0h0M457.0 121.4h0M452.8 126.7h0M460.1 119.1h0M456.8 113.2h0M457.2 119.0h0M455.4 126.8h0M458.9 126.9h0M457.3 112.8h0M455.8 127.3h0M458.8 134.0h0M452.8 122.4h0M456.5 128.2h0M452.7 117.4h0M457.0 116.0h0M453.7 115.6h0M453.2 128.4h0M455.9 125.3h0M452.8 134.2h0M453.4 119.9h0M461.4 123.0h0M459.4 115.1h0M454.3 128.1h0M460.4 131.3h0M452.3 132.5h0M453.1 120.3h0M459.9 130.0h0M460.1 117.3h0M454.9 133.1h0M453.8 120.8h0M451.4 118.9h0M459.1 133.4h0M449.1 121.4h0M451.5 118.7h0M460.0 122.4h0M457.0 131.7h0M451.9 128.7h0M457.0 135.0h0M455.2 117.4h0M457.1 117.9h0M453.2 131.9h0M459.4 121.7h0M457.2 114.9h0M459.3 126.3h0M453.3 131.3h0M452.2 118.4h0" stroke="#00BD5C" stroke-width="1.45" stroke-linecap="round" fill="none"/>
<path d="M454.4 124.6h0M454.6 131.2h0M459.4 129.4h0M458.6 130.2h0M455.5 123.3h0M456.2 126.0h0M457.7 114.5h0M459.7 128.0h0M454.3 123.0h0M451.4 121.1h0M455.1 115.1h0M457.0 122.2h0M453.7 115.5h0M457.4 126.8h0M454.0 131.0h0M454.9 127.2h0M456.9 133.3h0M460.6 118.6h0M454.5 118.0h0M456.1 134.4h0M456.7 126.5h0M459.6 125.4h0M453.2 114.3h0M455.1 131.9h0M456.9 127.1h0M455.8 128.0h0M459.7 122.7h0M454.1 127.1h0M454.8 114.9h0M455.4 121.1h0M451.2 126.5h0M459.7 123.5h0M456.8 116.8h0M453.0 125.7h0M453.5 121.2h0M449.7 118.6h0M453.9 119.4h0M455.5 121.6h0M453.2 133.1h0M458.3 120.8h0M458.5 129.6h0M454.5 123.0h0M454.4 127.3h0" stroke="#00BADE" stroke-width="1.45" stroke-linecap="round" fill="none"/>
<path d="M458.8 130.8h0M453.9 122.7h0M459.5 129.0h0M456.7 125.5h0M454.2 128.0h0M454.0 123.1h0M459.3 120.9h0M456.9 132.5h0M456.7 123.7h0M453.2 130.0h0M455.1 125.7h0M457.8 119.2h0M456.0 119.9h0M455.9 122.9h0M454.1 114.1h0M454.5 117.0h0M457.4 126.0h0M454.4 119.8h0M455.6 131.0h0" stroke="#64B200" stroke-width="1.45" stroke-linecap="round" fill="none"/>
<path d="M462.7 114.3L466.4 113.7L469.8 115.0L473.0 118.1L475.1 121.9L476.0 126.4L475.8 130.9L474.4 135.5L472.4 138.9L469.6 141.2L466.8 141.9L464.0 140.9L462.0 138.9L460.6 135.7L459.6 131.8L459.2 127.3L459.4 122.4L460.4 117.2Z" fill="#00BADE" fill-opacity="0.32"/>
<path d="M440.3 124.8L443.8 124.7L447.2 126.0L450.4 128.7L453.4 132.2L456.1 136.7L457.9 141.2L458.7 145.6L458.3 149.7L456.5 153.3L454.2 156.3L451.4 158.5L448.7 159.0L445.9 157.6L443.8 154.7L442.4 150.2L441.3 145.7L440.4 141.2L439.3 137.1L438.0 133.6L437.7 130.1L438.3 126.6Z" fill="#64B200" fill-opacity="0.32"/>
<path d="M434.3 146.4L437.9 144.6L440.7 145.5L442.5 149.1L443.7 152.6L444.2 156.2L444.0 159.5L443.2 162.8L441.4 165.5L438.7 167.8L435.8 170.5L432.6 173.7L429.7 176.1L426.9 177.8L424.9 177.5L423.4 175.1L422.9 172.2L423.3 168.7L424.4 164.6L426.1 160.1L428.3 155.2L431.1 149.9Z" fill="#DB8E00" fill-opacity="0.32"/>
<path d="M421.7 106.1h0M423.3 102.1h0M413.5 110.2h0M419.7 103.8h0M423.3 105.6h0M420.8 106.7h0M411.5 110.8h0M424.6 105.3h0M411.1 108.1h0M414.6 106.0h0M423.8 107.7h0M419.4 104.4h0M416.5 103.8h0M413.3 105.0h0M410.5 108.7h0M421.7 103.8h0M415.6 100.4h0M424.1 104.8h0M411.5 109.1h0M417.5 104.0h0M413.4 106.3h0M423.1 102.1h0M419.3 107.6h0M412.0 104.4h0M423.4 101.0h0M425.2 105.6h0M413.3 111.5h0M426.9 105.5h0M414.8 104.8h0M416.5 108.4h0M419.2 104.5h0M414.7 102.9h0M411.2 108.5h0M412.2 105.7h0M422.7 106.4h0M414.8 106.6h0M416.6 101.7h0M420.3 102.0h0M414.5 104.0h0M417.3 104.4h0M421.2 105.3h0M417.4 108.4h0M415.1 108.2h0M412.3 104.7h0M418.4 109.4h0M413.4 102.8h0M421.5 100.8h0M419.9 102.8h0M420.7 104.9h0M415.0 110.8h0M413.3 109.7h0M419.0 109.2h0M427.4 104.1h0M421.7 105.3h0M422.8 100.6h0M419.0 104.0h0M412.9 102.8h0M420.5 107.6h0M420.6 106.9h0M425.5 100.6h0M425.3 103.9h0" stroke="#00C1A7" stroke-width="1.45" stroke-linecap="round" fill="none"/>
<path d="M412.6 111.0h0M421.9 104.0h0M425.1 102.1h0M416.9 107.2h0M422.8 106.0h0M414.9 108.7h0M423.6 101.0h0M424.7 105.0h0M415.5 105.2h0M414.4 109.8h0M410.1 111.2h0M408.7 104.7h0M415.6 105.5h0M412.9 104.9h0M416.0 107.8h0M414.8 105.9h0M416.6 101.5h0M423.1 108.4h0M420.1 109.6h0M410.9 110.4h0M425.3 105.9h0M417.5 109.3h0M423.5 104.5h0M419.2 103.8h0M413.3 106.5h0M423.2 101.2h0M415.6 106.8h0M416.4 107.3h0M414.0 108.1h0M421.6 108.4h0M416.9 109.8h0M420.8 107.2h0M412.6 104.3h0M418.0 109.0h0M420.5 104.7h0M414.3 105.5h0M423.7 107.0h0M413.3 106.5h0M420.7 102.8h0M425.7 104.3h0M416.1 107.1h0" stroke="#00BD5C" stroke-width="1.45" stroke-linecap="round" fill="none"/>
<path d="M418.9 110.2h0M410.5 108.7h0M412.2 106.9h0M419.0 109.3h0M419.0 100.8h0M415.4 105.2h0M416.9 107.7h0M412.6 105.2h0M421.9 105.6h0M412.1 106.9h0M411.7 112.3h0M413.3 111.3h0M415.8 107.6h0M413.7 110.9h0M422.4 105.2h0M424.5 106.6h0M420.2 105.5h0M415.1 107.9h0M413.3 109.0h0M420.4 102.8h0M411.8 109.7h0M421.0 103.8h0M411.4 108.4h0M420.6 100.4h0M415.0 105.9h0M422.4 101.4h0M423.6 102.4h0" stroke="#00A6FF" stroke-width="1.45" stroke-linecap="round" fill="none"/>
<path d="M416.7 106.4h0M418.0 107.6h0M415.0 104.2h0M415.9 107.5h0M416.9 110.5h0M414.6 105.8h0M417.3 107.3h0M416.8 109.0h0M413.1 101.4h0M414.4 102.3h0M415.7 106.2h0M415.9 105.4h0M416.0 106.6h0M418.0 109.1h0M413.0 102.0h0M416.7 110.0h0M414.6 102.1h0M412.7 101.4h0M413.6 103.6h0M414.7 106.3h0M414.7 104.1h0M416.0 106.2h0M418.4 106.6h0M414.5 103.0h0M414.0 105.8h0" stroke="#DB8E00" stroke-width="1.45" stroke-linecap="round" fill="none"/>
<path d="M430.1 135.0h0M437.5 136.8h0M435.6 140.5h0M434.7 140.1h0M422.6 112.5h0M429.2 131.5h0M428.5 115.8h0M430.0 130.7h0M426.7 130.0h0M425.5 125.8h0M426.0 128.0h0M432.7 121.9h0M433.4 132.3h0M425.8 121.7h0M434.4 134.6h0M425.0 123.2h0M437.8 139.4h0M440.7 131.9h0M438.4 137.4h0M437.5 136.5h0M435.5 140.7h0M432.4 129.1h0M431.8 131.4h0M423.3 112.2h0M429.2 129.2h0M427.7 119.1h0M426.9 117.8h0M422.0 117.4h0M436.8 136.9h0M426.0 119.0h0M432.0 136.9h0M435.4 144.6h0M424.1 121.3h0M430.8 135.1h0M423.8 119.7h0M425.2 122.4h0M433.8 132.9h0M427.7 117.8h0M434.3 133.0h0M428.9 114.3h0M433.2 120.7h0M428.4 125.7h0M432.3 128.1h0M430.7 131.4h0M432.1 127.4h0M438.2 130.4h0M436.1 134.1h0M436.1 123.5h0M434.8 124.2h0M431.6 116.7h0M435.8 136.5h0M436.0 126.0h0M434.1 128.4h0M428.2 138.2h0M433.8 135.5h0M427.5 124.9h0M434.7 118.4h0M420.4 113.9h0M424.5 125.2h0" stroke="#DB8E00" stroke-width="1.45" stroke-linecap="round" fill="none"/>
<path d="M417.4 108.8L420.6 107.8L424.0 108.4L427.7 110.6L430.4 113.7L432.2 117.7L433.4 122.0L433.9 126.5L433.8 131.0L433.3 135.4L432.6 139.9L431.7 144.3L430.0 146.1L427.7 145.2L425.3 143.0L423.1 139.5L421.1 135.5L419.2 131.0L417.6 126.5L416.4 122.0L415.8 117.1L415.8 111.9Z" fill="#FF63B6" fill-opacity="0.32"/>
<path d="M397.1 120.9L398.0 116.1L400.3 113.1L403.9 112.1L407.5 112.1L411.1 112.9L413.8 115.0L415.6 118.1L417.2 122.0L418.5 126.5L420.1 130.9L421.8 135.3L420.6 138.9L416.6 141.5L411.5 143.3L405.3 144.2L401.7 142.0L400.7 136.7L399.3 131.4L397.5 126.0Z" fill="#00A6FF" fill-opacity="0.2"/>
<path d="M405.1 143.5L411.3 142.3L416.4 140.6L420.4 138.1L423.5 138.7L425.8 142.2L427.6 145.3L429.1 148.0L429.3 151.6L428.4 156.0L427.1 160.5L425.3 165.0L422.8 166.6L419.6 165.3L415.7 164.0L411.3 162.7L407.7 160.2L404.9 156.5L403.2 152.0L402.4 146.7Z" fill="#00A6FF" fill-opacity="0.32"/>
<path d="M437.1 141.3h0M438.5 132.9h0M433.9 144.7h0M435.4 128.4h0M432.4 122.1h0M436.2 139.9h0M433.3 121.9h0M439.4 133.6h0M435.9 124.4h0M439.1 124.3h0M438.1 145.0h0M438.5 127.1h0M435.6 142.8h0M434.4 122.1h0M434.0 122.4h0M439.7 139.8h0M433.6 142.3h0M438.1 122.6h0M435.4 129.6h0M436.3 127.4h0M438.8 142.6h0M434.9 119.0h0M439.8 123.4h0M435.1 139.0h0M440.2 122.5h0M432.2 123.8h0M438.5 130.0h0M436.3 126.7h0M439.5 130.3h0M438.6 139.7h0M437.5 119.1h0M442.3 124.3h0M433.8 129.0h0M438.2 125.2h0M433.5 127.2h0M436.7 141.5h0M434.4 140.0h0M434.0 122.4h0M437.4 137.5h0M433.0 130.6h0M437.9 128.3h0M435.0 138.4h0M437.5 127.8h0M433.0 120.1h0M435.7 130.6h0M436.6 142.6h0M437.9 141.6h0M439.1 125.3h0M439.7 123.7h0M436.2 133.1h0M436.0 129.4h0M436.8 145.0h0M438.9 141.8h0" stroke="#00BD5C" stroke-width="1.45" stroke-linecap="round" fill="none"/>
<path d="M435.4 139.0h0M438.3 126.8h0M440.2 123.5h0M436.8 129.5h0M441.3 128.0h0M434.4 132.3h0M438.1 127.6h0M434.3 133.7h0M438.5 127.0h0M435.8 136.0h0M437.5 135.1h0M436.8 141.6h0M433.0 127.9h0M438.3 133.2h0M435.7 120.9h0M440.5 136.3h0M436.1 132.2h0M437.9 142.1h0M437.0 141.3h0M432.2 120.2h0M435.7 129.7h0M435.4 125.5h0M438.2 132.5h0M436.4 119.3h0M435.0 141.8h0M432.6 126.4h0M438.1 142.2h0M437.5 133.6h0M438.3 127.7h0M435.5 142.2h0M433.6 119.2h0M438.5 132.8h0M436.6 119.7h0M437.7 128.9h0M434.2 117.1h0" stroke="#DB8E00" stroke-width="1.45" stroke-linecap="round" fill="none"/>
<path d="M438.2 139.8h0M436.5 122.5h0M436.9 142.7h0M434.7 130.5h0M438.4 137.9h0M436.6 143.7h0M434.8 124.6h0M432.9 132.8h0M438.3 123.9h0M435.0 145.1h0M432.9 120.2h0M437.1 129.8h0M436.4 133.9h0M439.9 127.3h0M438.6 130.3h0M437.7 134.3h0M433.8 124.9h0M433.5 133.7h0M440.2 127.9h0M437.6 141.2h0M432.9 141.7h0M439.1 128.4h0M434.8 125.2h0M435.5 120.1h0M436.7 137.1h0M434.8 132.9h0" stroke="#64B200" stroke-width="1.45" stroke-linecap="round" fill="none"/>
<path d="M439.2 125.0h0M434.6 120.1h0M433.2 136.1h0M437.3 136.1h0M437.4 143.3h0M436.3 137.0h0M440.6 126.9h0M438.6 125.3h0M439.8 126.2h0M434.3 138.1h0M436.4 138.2h0M435.9 126.0h0M437.6 121.5h0M438.8 126.2h0M431.7 133.6h0M436.1 142.3h0M439.2 132.8h0" stroke="#00A6FF" stroke-width="1.45" stroke-linecap="round" fill="none"/>
<path d="M328.8 56.6h0M328.1 43.5h0M329.5 26.3h0M326.0 57.7h0M330.8 26.7h0M328.0 30.0h0M322.2 49.9h0M324.8 59.7h0M333.8 34.5h0M323.4 53.5h0M323.1 55.4h0M330.6 25.0h0M326.1 48.2h0M329.7 36.5h0M327.3 40.3h0M328.6 37.2h0M331.8 45.8h0M330.1 28.4h0M330.4 42.2h0M321.9 49.3h0M333.4 30.6h0M329.0 37.0h0M325.9 50.5h0M328.9 35.1h0M329.1 38.0h0M320.9 54.5h0M328.0 43.1h0M331.4 39.6h0M332.3 39.3h0M329.6 37.5h0M325.1 49.2h0M324.2 42.1h0M330.3 23.5h0M327.1 31.0h0M328.6 50.8h0M329.7 39.5h0M322.5 54.4h0M332.5 24.2h0M331.1 26.8h0M328.7 41.4h0M330.9 48.4h0M323.8 58.4h0M331.6 44.9h0M334.7 35.7h0M334.0 37.2h0M328.9 43.0h0M327.3 28.0h0M336.1 31.9h0M322.8 51.6h0M327.3 49.9h0M325.7 61.4h0M325.6 42.5h0M325.6 40.6h0M329.5 33.9h0M330.3 32.6h0M330.4 42.1h0M324.8 47.3h0M330.7 39.2h0M327.9 59.8h0M330.4 35.6h0M327.6 52.0h0M328.0 48.3h0M331.1 39.9h0M333.6 29.0h0M327.3 53.5h0M326.9 33.0h0M335.2 37.9h0M327.3 38.6h0M328.0 44.6h0M326.9 28.7h0M334.9 31.1h0M322.2 55.9h0M327.1 43.8h0M324.2 51.5h0M326.8 60.9h0M327.9 27.5h0M330.5 29.5h0M321.6 53.3h0M324.5 46.9h0M330.4 39.1h0M329.8 52.2h0M330.4 45.4h0M327.5 42.5h0M326.2 29.3h0M326.8 37.3h0M329.6 38.2h0M324.1 52.1h0M334.6 29.9h0M324.7 58.1h0M332.9 30.9h0M324.0 41.8h0M330.6 52.3h0M330.7 44.4h0M327.0 48.3h0M325.9 47.4h0M323.7 60.1h0M334.9 38.0h0M322.2 57.8h0M329.0 25.0h0M327.8 31.1h0M326.5 49.9h0M330.7 28.0h0M332.2 28.1h0M333.2 28.7h0M323.7 46.0h0M331.8 39.0h0M330.4 41.6h0M330.2 23.0h0M326.8 33.4h0M329.0 36.4h0M335.1 36.2h0M331.2 24.7h0M329.8 53.5h0M324.5 54.5h0M324.0 54.8h0M329.5 26.2h0M327.4 43.2h0M326.8 47.7h0M328.8 47.7h0M327.8 61.3h0M326.9 44.2h0M325.2 37.0h0M326.6 38.5h0M328.3 34.1h0M324.9 55.0h0M323.9 44.5h0M331.4 32.3h0M328.3 57.0h0M328.0 58.8h0M328.7 44.8h0M325.1 37.1h0M328.7 32.2h0M328.9 34.0h0M328.9 38.5h0M323.9 53.5h0M328.3 35.0h0M327.4 50.6h0M326.5 43.0h0M327.7 43.7h0M328.0 24.7h0M326.5 45.0h0M334.1 35.1h0M327.3 51.6h0M324.9 39.7h0M326.7 35.9h0M331.1 26.6h0M329.5 39.1h0M322.3 56.2h0M333.4 29.9h0M324.2 59.9h0M332.8 32.5h0M329.9 38.4h0M327.9 60.1h0M324.1 41.4h0M324.5 53.9h0M328.8 53.3h0M328.4 30.5h0M324.3 45.7h0M332.0 40.8h0M334.8 29.8h0M326.7 31.3h0M332.6 32.2h0M330.0 40.8h0M326.4 62.1h0M330.5 42.2h0M335.5 33.6h0M330.5 43.3h0M336.6 34.3h0M330.4 42.2h0M327.3 54.1h0M324.4 60.6h0M332.6 30.0h0M327.3 42.0h0M331.1 47.2h0M329.1 49.2h0M328.4 32.1h0M331.0 39.1h0M328.9 57.3h0M327.9 27.3h0M334.3 36.8h0M328.9 26.3h0M326.3 50.3h0M323.1 46.6h0M323.4 47.2h0M328.6 55.1h0M334.6 27.7h0M321.9 56.7h0M329.2 30.1h0M331.8 31.9h0M325.3 53.0h0M325.3 49.6h0M332.7 31.1h0M335.0 37.0h0M331.1 25.1h0M322.9 48.5h0M327.1 50.7h0M323.0 51.0h0M323.8 42.1h0M322.9 45.1h0M327.4 52.6h0M324.1 55.3h0M331.7 25.7h0M332.1 34.9h0M330.3 41.9h0M330.3 25.8h0M330.2 27.4h0M321.6 48.2h0M334.9 35.2h0M330.1 45.9h0M322.3 47.9h0M323.1 45.4h0M326.4 56.7h0M327.1 55.0h0M324.2 54.2h0M329.8 25.7h0M324.4 51.9h0M334.9 27.7h0M330.0 43.4h0M335.6 33.2h0M324.0 43.2h0M327.5 49.0h0M326.9 61.4h0M325.3 60.4h0M322.8 59.3h0M330.7 35.8h0M326.9 52.0h0M334.3 34.2h0M335.3 30.1h0M329.5 36.3h0M329.0 32.4h0M330.8 34.0h0M329.8 32.1h0M332.6 29.8h0M326.6 57.4h0M328.7 32.6h0M329.1 25.9h0M328.0 30.4h0M332.2 28.9h0M331.8 41.0h0M330.5 42.1h0M327.2 42.3h0M325.3 44.8h0M323.4 52.5h0M329.1 59.7h0M333.2 40.8h0M322.2 55.2h0M332.9 33.4h0M330.1 51.9h0M326.9 50.7h0M327.0 58.7h0M332.4 39.2h0M333.2 26.4h0M324.7 51.5h0M334.0 39.5h0M330.2 48.8h0M327.6 27.7h0M336.1 34.9h0M329.2 31.1h0M325.3 45.2h0M326.6 59.7h0M333.0 38.2h0M328.1 56.0h0M325.0 46.3h0M326.2 45.7h0M325.3 52.0h0M328.2 32.9h0M330.7 32.8h0M326.5 50.8h0M331.3 43.5h0M327.6 60.3h0M322.8 51.7h0M331.7 38.4h0M331.4 23.6h0M331.6 23.7h0M329.6 36.0h0M333.8 36.5h0M329.1 48.4h0M324.6 46.7h0M334.0 27.9h0M329.1 59.1h0M332.1 25.4h0M324.4 55.8h0M324.6 49.6h0M327.7 34.8h0M330.5 31.7h0M325.5 40.8h0M333.5 32.9h0M326.2 30.9h0M331.0 30.4h0M321.9 50.4h0M328.8 47.6h0M327.6 42.7h0M325.7 44.0h0M331.1 47.4h0M324.8 37.9h0M331.1 43.6h0M327.0 54.1h0M328.2 34.1h0M328.7 41.0h0M328.9 46.5h0M325.8 42.1h0M329.8 30.1h0M327.0 31.7h0M329.5 59.0h0M326.1 57.0h0M322.8 52.9h0M327.8 37.7h0M325.1 49.6h0M323.9 50.3h0M332.1 44.5h0M330.7 40.5h0M333.6 33.0h0M329.6 40.4h0M331.6 34.3h0M324.3 54.5h0M333.9 39.4h0M331.3 36.9h0M330.3 25.3h0M324.9 46.6h0M332.1 40.9h0M326.9 58.6h0M330.1 32.5h0M326.0 41.2h0M328.3 33.3h0M333.9 33.0h0M334.8 28.0h0M322.5 55.3h0M330.0 24.5h0M327.6 54.2h0M330.5 31.4h0M327.3 50.2h0M333.6 27.3h0M327.1 46.8h0M326.1 52.9h0M329.5 42.6h0M330.3 54.9h0M334.4 40.0h0M325.0 50.1h0M326.6 62.2h0M333.1 27.7h0M322.7 50.9h0M329.5 50.6h0M330.3 41.9h0M328.8 29.9h0M325.5 35.4h0M326.8 38.9h0M324.0 58.9h0M331.2 37.9h0M323.2 58.8h0M330.0 39.8h0M324.9 51.9h0M327.7 42.1h0M325.8 47.7h0M330.2 36.0h0M323.3 46.5h0M330.9 41.1h0M332.9 40.1h0M321.9 52.5h0M329.1 29.9h0M329.8 54.0h0M323.2 49.8h0M335.8 35.5h0M328.9 56.8h0M330.7 38.8h0M325.5 47.2h0M331.7 36.2h0M331.2 36.0h0M327.7 58.7h0M327.6 25.8h0M328.6 28.1h0M329.0 40.8h0M323.1 43.1h0M327.3 62.7h0M326.4 36.5h0M327.2 55.8h0M332.8 33.3h0M330.1 36.6h0M324.2 59.4h0M329.0 44.4h0M332.5 43.9h0M327.5 44.7h0M331.8 24.3h0M332.6 36.0h0M331.0 31.9h0M324.4 38.8h0M332.7 44.9h0M328.8 58.5h0M323.7 44.3h0M332.9 33.2h0M332.8 37.3h0M325.5 58.8h0M326.6 33.6h0M325.4 51.1h0M332.5 36.4h0M327.7 51.7h0M325.9 40.7h0M321.4 51.8h0M328.8 39.1h0M325.2 46.2h0M332.9 41.7h0" stroke="#F8766D" stroke-width="1.45" stroke-linecap="round" fill="none"/>
<path d="M317.7 192.6h0M306.1 193.6h0M325.0 197.6h0M312.8 195.1h0M314.2 201.2h0M312.1 187.1h0M309.4 197.0h0M329.2 196.8h0M304.6 191.2h0M320.5 202.6h0M325.7 194.9h0M316.4 202.5h0M312.7 193.8h0M304.7 188.9h0M318.8 199.6h0M310.1 195.3h0M318.5 188.9h0M310.4 189.5h0M308.1 193.2h0M324.2 195.2h0M309.5 187.0h0M320.4 194.4h0M317.0 190.2h0M307.1 193.6h0M319.1 189.1h0M312.9 198.4h0M316.6 189.7h0M315.5 189.3h0M305.4 187.0h0M310.4 186.3h0M323.1 197.3h0M309.9 194.6h0M312.7 191.9h0M306.9 185.7h0M324.6 201.9h0M307.2 186.8h0M306.7 190.4h0M315.6 201.1h0M305.2 189.8h0M323.5 201.1h0M317.1 193.7h0M311.3 185.3h0M316.0 200.5h0M319.7 200.3h0M318.6 190.3h0M315.1 192.7h0M313.4 192.4h0M314.5 186.0h0M315.5 200.7h0M308.3 193.9h0M320.1 200.5h0M316.3 192.6h0M306.8 193.5h0M305.6 191.3h0M323.6 201.9h0M305.8 185.8h0M307.2 195.5h0M308.0 195.5h0M315.9 195.5h0M319.5 201.7h0M317.2 196.1h0M304.6 185.8h0M310.5 189.9h0M319.1 190.8h0M310.6 201.0h0M311.4 196.4h0M326.3 197.9h0M308.4 196.3h0M317.4 191.2h0M306.6 195.5h0M318.1 198.5h0M319.3 198.7h0M321.4 196.8h0M321.9 193.7h0M318.5 191.3h0M323.6 195.8h0M313.9 200.7h0M316.1 188.7h0M310.2 196.9h0M310.3 199.9h0M310.1 189.6h0M321.2 201.6h0M327.0 194.2h0M309.6 190.4h0M312.3 196.5h0M324.7 200.7h0M311.5 194.4h0M312.3 194.7h0M309.0 186.5h0M323.4 195.2h0M313.1 187.1h0M325.8 193.8h0M314.9 198.2h0M325.3 196.5h0M321.7 197.3h0M322.5 197.3h0M316.3 198.6h0M306.7 193.8h0M327.7 194.5h0M313.7 197.4h0M326.3 195.0h0M316.9 188.1h0M313.4 196.9h0M313.2 188.3h0M310.8 194.1h0M313.9 201.6h0M318.3 193.4h0M316.4 198.2h0M312.4 189.8h0M317.7 201.2h0M309.1 193.1h0M325.0 194.4h0M317.8 192.5h0M328.1 194.0h0M320.4 198.7h0M309.9 200.2h0M322.3 191.6h0M327.3 193.6h0M312.0 185.6h0M308.8 190.9h0M307.2 193.0h0M313.4 190.8h0M327.8 197.4h0M310.7 186.4h0M308.9 186.7h0M311.2 190.2h0M322.9 194.7h0M308.5 196.5h0M306.9 190.1h0M313.4 198.5h0M325.1 198.1h0M326.7 200.4h0M313.9 187.2h0M325.2 195.6h0M313.0 188.0h0M324.1 195.2h0M313.2 189.8h0M307.9 188.6h0M312.0 189.0h0M320.0 193.1h0M305.3 185.3h0M313.8 192.2h0M310.5 201.2h0M304.3 193.9h0M305.1 192.3h0M311.5 195.0h0M318.9 199.3h0M327.2 199.6h0M310.8 188.4h0M326.2 193.7h0M323.0 194.9h0M309.4 200.3h0M314.7 200.7h0M309.6 193.4h0M308.4 193.5h0M306.6 194.6h0M318.4 190.3h0M311.5 194.8h0M324.4 199.6h0M317.7 201.2h0M304.4 185.9h0M308.4 198.7h0M322.3 194.0h0M310.5 187.6h0M318.8 189.3h0M305.6 194.3h0M319.8 196.5h0M318.1 190.0h0M308.7 188.7h0M315.4 202.0h0M319.5 189.0h0M305.1 196.6h0M310.5 201.2h0M316.7 191.9h0M325.9 193.5h0M318.3 192.2h0M310.0 187.6h0M318.0 197.3h0M310.6 195.6h0M310.1 185.4h0M325.4 195.7h0M317.9 187.7h0M310.5 198.6h0M311.3 194.1h0M317.6 187.7h0M313.4 191.4h0M324.9 194.3h0M305.0 190.4h0M308.7 197.9h0M306.2 199.4h0M314.2 201.3h0M319.4 197.7h0M306.6 188.9h0M319.0 188.8h0M308.9 199.5h0M322.4 198.4h0M308.5 199.0h0M321.0 201.1h0M320.3 191.2h0M313.7 190.4h0M310.1 198.8h0M323.4 191.0h0M309.4 187.8h0M329.3 195.5h0M308.6 199.4h0M326.6 196.8h0M309.8 199.8h0M327.8 198.7h0M323.9 191.0h0M313.6 199.5h0M314.7 187.7h0M322.4 191.8h0M318.2 199.1h0M311.3 197.0h0M322.2 201.7h0M317.8 201.8h0M325.7 199.4h0M315.9 191.1h0M310.0 191.5h0M313.7 188.7h0M315.4 189.7h0M323.9 194.4h0M312.1 193.7h0M324.1 197.5h0M306.7 190.9h0M315.2 196.7h0M307.4 186.9h0M320.8 190.0h0M313.0 195.0h0M324.4 194.0h0M308.9 187.9h0M316.0 193.1h0M305.4 192.2h0M313.3 187.0h0M312.9 199.8h0M315.8 198.4h0M322.9 195.1h0M305.8 190.2h0M304.6 192.2h0M320.5 194.7h0M312.1 186.2h0M310.7 191.6h0M311.7 193.6h0M308.1 188.4h0M308.2 191.3h0M315.3 187.7h0M308.8 185.6h0M322.3 197.4h0M311.7 191.3h0M324.2 196.3h0M305.6 185.7h0M327.5 199.8h0M324.6 199.9h0M319.7 195.0h0M313.0 190.2h0M319.8 195.4h0M307.8 195.9h0M321.8 190.8h0M308.2 184.7h0M314.1 200.3h0M322.3 190.6h0M315.8 192.2h0M320.6 193.6h0M321.2 190.8h0M304.4 191.0h0M310.3 188.6h0M309.5 194.9h0M314.9 191.5h0M306.5 197.3h0M319.9 190.3h0M315.3 196.6h0M312.1 195.1h0M311.0 199.4h0M322.9 194.9h0M310.1 195.9h0M312.4 198.9h0M307.1 192.3h0M315.8 196.3h0M314.3 196.6h0M305.3 191.6h0M310.2 187.5h0M324.8 192.3h0M312.7 200.1h0M308.4 199.7h0M312.6 200.8h0M315.2 198.2h0M326.8 193.7h0M312.4 196.7h0M326.8 200.2h0M324.2 195.2h0M321.6 192.6h0M314.1 197.6h0M317.4 196.7h0M326.4 193.7h0M323.0 192.0h0M308.8 191.4h0M312.4 185.7h0M307.9 199.6h0M315.1 195.3h0M308.8 195.1h0M324.3 196.1h0M313.8 188.7h0M308.5 192.0h0M307.5 185.5h0M310.7 191.9h0M320.3 195.5h0M322.4 201.3h0M310.7 192.3h0M316.3 200.3h0M313.3 187.7h0M315.3 187.7h0M317.8 197.2h0M306.2 188.2h0M324.0 202.1h0M306.3 186.6h0M311.3 190.7h0M328.5 196.1h0M320.2 200.8h0M312.7 190.3h0M324.3 196.0h0M325.0 193.2h0M318.5 187.2h0M323.6 194.2h0M314.2 200.1h0M323.0 198.2h0M320.7 191.5h0M324.4 201.5h0M314.2 191.8h0M326.6 199.0h0M307.4 193.6h0M322.8 200.6h0M308.4 200.3h0M321.3 200.0h0M325.7 200.7h0M311.7 185.8h0M318.1 194.0h0M320.0 197.2h0M313.5 191.2h0M317.4 198.8h0M313.5 187.5h0M312.8 196.4h0M328.3 194.9h0M327.0 197.7h0M309.7 187.5h0M309.0 185.3h0M311.8 193.6h0M310.1 186.6h0M326.2 199.0h0M327.4 194.9h0M312.8 201.9h0M315.1 197.9h0M311.6 193.5h0M312.7 201.8h0M306.3 195.2h0M313.7 194.8h0M308.5 198.6h0M321.9 199.8h0M311.8 186.9h0M307.2 188.6h0M311.6 192.4h0" stroke="#B385FF" stroke-width="1.45" stroke-linecap="round" fill="none"/>
<path d="M406.3 94.4h0M401.5 94.1h0M409.4 91.7h0M402.7 92.6h0M421.0 90.0h0M423.1 89.8h0M415.8 98.6h0M412.3 103.6h0M407.3 105.3h0M421.3 89.7h0M401.9 104.7h0M405.7 99.2h0M403.9 97.0h0M399.7 112.2h0M411.0 88.3h0M421.7 91.2h0M408.6 95.9h0M414.2 91.8h0M418.0 96.8h0M404.1 97.8h0M409.5 85.7h0M400.2 110.2h0M411.0 89.8h0M406.4 104.3h0M404.9 95.7h0M417.7 100.8h0M409.6 102.7h0M400.9 91.7h0M413.6 84.7h0M410.1 92.6h0M413.0 90.0h0M415.6 85.0h0M412.0 84.8h0M411.6 107.5h0M413.2 90.5h0M411.1 97.6h0M409.5 89.2h0M421.3 88.3h0M402.1 97.4h0M413.0 97.2h0M416.0 90.3h0M408.6 104.5h0M425.2 87.0h0M404.0 89.8h0M418.9 93.3h0M421.5 97.8h0M420.3 95.9h0M428.2 87.6h0M401.2 102.7h0M419.8 90.5h0M405.1 104.1h0M416.1 104.5h0M422.9 86.9h0M416.9 91.6h0M406.7 97.7h0M413.8 92.9h0M426.1 90.4h0M421.3 93.8h0M402.4 101.1h0M411.7 82.9h0M424.5 86.3h0M420.5 95.4h0M405.0 94.5h0M417.5 83.3h0M414.4 93.8h0M405.4 95.7h0M400.8 102.0h0M400.0 93.6h0M413.5 86.1h0M407.4 95.7h0M407.8 108.5h0M411.3 88.9h0M397.9 109.6h0M401.5 108.6h0M415.8 95.2h0M409.7 88.8h0M401.9 100.3h0M420.3 84.5h0M407.0 93.6h0M419.1 87.7h0M405.3 93.0h0M405.0 109.5h0M405.8 90.1h0M415.3 95.1h0M422.7 85.7h0M400.9 108.7h0M413.1 103.6h0M405.2 98.2h0M399.5 113.2h0M402.5 111.8h0M401.5 97.5h0M424.4 94.7h0M418.3 88.1h0M412.7 95.1h0M402.4 104.2h0M422.9 90.6h0M422.5 100.5h0M412.8 91.4h0M414.6 99.9h0M401.9 113.5h0M409.4 84.1h0M398.9 97.8h0M398.6 99.9h0M407.1 86.6h0M408.1 95.8h0M405.9 109.2h0M401.2 106.9h0M425.5 89.0h0M411.2 100.2h0M412.0 82.3h0M426.6 89.9h0M410.9 99.6h0M426.0 97.9h0M420.5 100.1h0M416.3 96.1h0M408.5 104.1h0M415.8 82.6h0M414.3 103.3h0M404.8 99.1h0M406.3 101.6h0M418.3 89.4h0M401.5 96.7h0M410.4 103.3h0M416.9 90.3h0M412.5 98.7h0M427.0 88.1h0M412.7 106.3h0M407.1 97.6h0M403.8 91.8h0M407.5 86.8h0M416.1 101.5h0M408.3 105.9h0M415.8 93.9h0M420.0 90.1h0M405.3 101.9h0M417.8 95.4h0M402.5 112.7h0M416.7 100.1h0M425.0 94.1h0M408.8 88.9h0M409.4 87.8h0M403.8 100.5h0M399.9 97.4h0M402.2 98.0h0M421.9 83.8h0M410.0 89.0h0M404.1 91.6h0M406.7 103.6h0M403.4 107.9h0M403.6 97.5h0M403.0 104.6h0M419.1 104.6h0M403.9 100.4h0M406.7 88.1h0M410.9 102.4h0M410.8 84.7h0M411.6 96.5h0M408.2 95.9h0M400.9 108.1h0M414.8 92.7h0M402.4 110.0h0M414.7 87.5h0M422.7 85.1h0M403.7 92.4h0M400.0 95.4h0M411.7 88.0h0M401.3 109.0h0M412.4 83.5h0M412.6 94.7h0M402.8 110.7h0M423.6 96.4h0M412.8 84.4h0M411.0 91.2h0M409.6 108.3h0M424.7 97.3h0M407.7 101.8h0M422.0 94.1h0M407.1 96.9h0M411.5 98.4h0M402.9 91.5h0M404.5 98.1h0M420.7 82.4h0M413.0 93.4h0M417.2 85.9h0M409.8 105.5h0M398.4 109.1h0M412.2 100.2h0M407.9 106.1h0M403.6 101.0h0M409.9 84.9h0M397.4 112.9h0M412.0 93.5h0M407.0 105.7h0M407.2 101.3h0M409.4 94.0h0M418.8 90.5h0M400.2 110.4h0M413.8 99.8h0M413.5 102.6h0M410.8 105.6h0M415.3 86.0h0M424.5 88.6h0M413.3 88.3h0M411.1 96.1h0M410.6 109.8h0M407.5 104.3h0M421.8 95.8h0M407.0 84.6h0M402.8 100.8h0M424.8 93.8h0M427.1 94.1h0M418.2 99.2h0M402.8 98.4h0M420.6 91.6h0M418.5 102.8h0M422.1 100.6h0M408.5 108.0h0M401.1 101.8h0M403.7 95.2h0M417.1 85.9h0M410.2 102.8h0M410.1 81.8h0M423.3 97.0h0M418.8 90.2h0M401.2 100.2h0M428.0 87.7h0M423.5 91.9h0M423.2 97.3h0M411.0 105.2h0M404.5 91.5h0M407.4 96.2h0M417.9 88.4h0M406.6 98.6h0M415.9 96.5h0M404.0 95.1h0M406.2 95.9h0M405.9 95.2h0M415.3 93.5h0M399.7 102.6h0M412.4 108.0h0M404.5 108.1h0M415.0 95.8h0M418.3 83.3h0M413.0 91.9h0M417.4 80.6h0M402.0 104.8h0M415.1 97.4h0M421.6 95.2h0M423.0 96.8h0M409.6 107.5h0M406.6 94.1h0M422.1 87.3h0M412.2 85.1h0M413.1 81.7h0M416.7 99.9h0M401.9 93.3h0M415.6 99.5h0M405.9 100.4h0M414.5 93.9h0M424.3 88.7h0M411.6 83.2h0M422.2 86.1h0M399.1 110.7h0M415.3 92.7h0M409.1 92.8h0M399.7 108.9h0M406.7 98.7h0M411.2 90.2h0M404.1 94.6h0M421.0 95.2h0M416.7 97.2h0M409.7 105.3h0M411.6 93.2h0M403.2 105.7h0M424.7 90.5h0M401.6 97.6h0M405.6 91.8h0M404.5 89.8h0M424.3 89.5h0M414.1 98.8h0M408.3 98.0h0M403.5 91.4h0M422.2 97.7h0M416.6 87.9h0M424.9 87.6h0M414.1 106.3h0M413.6 101.7h0M408.0 84.9h0M422.8 93.6h0M413.0 88.2h0M424.7 92.6h0M404.2 111.8h0M404.6 97.2h0M413.4 94.9h0M422.6 88.9h0M404.9 111.0h0M412.4 99.7h0M400.3 108.1h0M411.7 97.5h0M418.2 86.7h0M415.3 90.4h0M400.6 110.9h0M414.6 103.9h0M416.7 88.7h0M420.8 95.3h0M418.0 88.3h0M401.7 99.1h0M419.9 88.6h0M426.1 93.7h0M416.0 88.6h0M403.4 106.9h0M423.4 98.2h0M409.1 84.4h0M426.3 95.2h0M425.7 89.0h0M427.3 93.6h0M416.9 94.6h0M408.4 89.5h0M406.3 101.5h0M425.8 87.1h0M409.3 93.3h0M403.2 109.0h0M411.3 95.8h0M404.2 92.7h0M408.7 104.0h0M428.3 91.8h0M406.7 103.4h0M417.0 88.8h0M405.2 109.2h0M410.6 86.9h0M410.9 100.2h0M403.8 99.4h0M409.8 101.2h0M419.6 94.2h0M408.4 110.6h0M425.4 93.6h0M405.0 100.2h0M408.1 94.1h0M420.2 96.5h0M421.0 93.3h0M423.2 86.7h0M424.9 88.7h0M412.6 91.0h0M411.6 106.8h0M412.0 104.0h0M398.8 105.0h0M418.7 99.5h0M414.0 95.6h0M416.3 80.9h0M415.5 95.4h0M416.8 85.9h0M425.7 87.2h0M409.4 94.1h0M416.1 86.1h0M415.6 81.0h0M414.5 101.6h0M410.7 85.9h0M400.0 99.6h0M398.9 100.8h0M411.6 102.5h0M409.1 108.3h0M414.9 104.6h0M411.8 99.8h0M411.2 94.3h0M404.4 96.8h0M416.4 90.0h0M408.9 105.7h0M405.6 105.0h0M427.0 85.2h0M400.8 101.4h0M413.7 102.9h0M403.9 108.8h0M406.1 99.3h0M400.6 100.4h0M422.9 88.5h0M424.3 86.8h0M427.6 86.7h0M415.9 103.1h0M426.5 93.2h0M409.4 91.0h0M417.8 91.6h0M419.0 97.0h0M413.6 86.2h0M422.2 93.8h0M407.8 99.6h0M407.3 105.7h0M421.5 87.1h0M409.7 85.2h0M406.7 113.3h0M417.1 83.3h0M407.5 99.3h0M414.8 97.2h0M404.5 91.7h0M404.1 109.8h0M410.5 85.5h0M419.1 92.5h0M410.3 100.2h0M399.4 105.3h0M400.8 97.2h0M423.2 99.8h0M411.7 103.2h0M410.1 106.0h0M401.2 112.1h0M424.0 95.3h0M417.9 85.7h0M409.6 104.7h0M425.7 94.8h0M415.6 92.1h0M411.4 104.2h0M400.6 104.9h0M407.3 95.5h0M422.8 97.7h0M412.0 85.2h0M405.7 107.3h0M399.7 98.4h0M399.8 107.8h0M413.1 101.8h0M409.4 101.8h0M404.3 114.1h0M413.5 95.4h0M414.3 101.3h0M417.3 87.4h0M413.2 84.8h0M416.0 105.1h0M400.6 102.5h0M400.9 96.1h0M422.7 93.7h0M419.5 94.9h0M397.7 109.5h0M406.5 91.9h0M404.5 103.6h0M423.0 90.1h0M421.2 93.8h0M401.1 101.0h0M411.1 98.9h0M408.3 96.5h0M413.6 81.3h0M426.5 93.1h0M416.4 98.5h0M412.7 107.5h0M415.9 100.3h0M401.4 103.4h0M412.8 107.8h0M414.3 83.0h0M413.5 99.5h0M428.3 90.9h0M407.4 112.8h0M413.3 88.1h0M415.4 103.7h0M421.9 88.5h0M418.0 84.8h0M405.0 98.2h0M423.4 85.6h0M420.6 99.8h0M405.6 103.4h0M426.1 90.7h0M413.9 107.0h0M419.9 102.8h0M410.7 93.4h0M416.8 94.7h0M406.9 101.3h0M406.2 87.1h0M406.9 107.2h0M401.0 112.4h0M411.0 84.4h0M419.7 87.8h0M424.4 94.6h0M406.2 88.8h0M406.4 98.7h0M408.3 96.2h0M429.0 90.7h0M404.3 99.7h0M418.4 83.0h0M421.7 92.4h0M407.9 99.2h0M401.6 93.4h0M423.0 94.2h0M403.9 106.4h0M404.0 94.2h0M413.2 85.4h0M424.7 87.3h0M414.8 90.3h0M421.9 98.8h0M417.2 86.4h0M417.4 96.3h0M402.3 107.0h0M403.6 96.3h0M412.0 106.8h0M402.7 108.5h0M406.3 104.6h0M416.2 91.5h0M404.2 107.4h0M420.7 97.0h0M425.9 96.1h0M418.6 94.1h0M405.0 89.1h0M410.0 90.3h0M407.1 107.7h0M401.2 112.5h0M420.4 86.9h0M418.0 90.2h0M403.9 107.7h0M405.3 95.5h0M413.5 97.6h0M404.9 96.4h0M411.6 90.0h0M414.3 101.7h0M411.2 108.0h0M418.5 81.7h0M410.4 104.9h0M416.0 86.3h0M413.9 102.4h0M422.0 89.3h0M423.4 94.6h0M411.4 94.4h0M407.0 106.5h0M409.4 90.6h0M417.8 99.9h0M422.7 92.1h0M405.4 86.2h0M422.4 83.9h0M408.3 91.6h0M406.4 108.0h0M409.0 93.6h0M410.4 98.0h0M406.0 103.8h0M400.5 109.0h0M417.0 101.7h0M407.0 110.7h0M413.3 84.7h0M411.4 100.2h0M418.4 104.2h0M425.7 91.1h0M421.4 100.9h0M407.0 96.4h0M410.1 106.4h0M413.7 85.1h0M411.5 104.4h0M405.9 88.9h0M418.3 100.7h0M418.8 89.9h0M420.9 97.5h0M413.2 98.0h0M413.1 99.4h0M423.9 84.9h0M407.0 88.5h0M414.9 94.6h0M402.4 105.8h0M397.7 112.8h0M415.1 100.5h0M411.1 105.4h0M416.5 88.4h0M404.2 106.1h0M402.2 106.2h0M410.4 87.1h0M415.7 84.5h0M417.2 88.7h0M421.0 92.2h0M401.7 112.0h0M409.0 96.9h0M420.5 100.2h0M414.4 91.3h0M410.5 107.3h0M398.7 108.2h0M405.0 109.9h0M410.2 100.3h0M405.0 101.7h0M420.6 90.9h0M405.7 90.9h0M402.5 101.5h0M408.7 98.8h0M418.6 89.7h0M420.6 89.1h0M406.5 98.3h0M421.0 95.9h0M400.6 99.3h0M402.8 107.9h0M409.6 86.0h0M417.5 99.5h0M400.0 93.6h0M404.4 110.8h0M416.6 96.9h0M424.7 88.4h0M426.6 94.6h0M421.3 92.4h0M406.0 93.4h0M417.0 93.5h0M424.4 97.0h0M408.0 84.1h0M408.2 103.9h0M398.3 101.3h0M423.6 86.9h0M408.4 110.9h0M420.8 86.6h0M415.1 99.3h0M402.8 89.8h0M412.0 85.8h0M414.8 84.8h0M410.1 98.0h0M415.8 96.9h0M416.9 92.3h0M401.9 109.1h0M400.6 108.9h0M408.4 108.0h0M416.3 83.1h0M408.5 110.3h0M407.1 107.5h0M402.0 92.6h0M407.4 98.5h0M424.2 100.4h0M414.2 86.6h0M415.0 97.8h0M420.4 98.5h0M420.2 86.6h0M423.9 90.6h0M409.7 86.3h0M409.1 95.0h0M411.1 82.2h0M412.5 101.7h0M407.8 98.9h0M418.8 97.5h0M420.2 84.9h0M416.6 92.9h0M407.8 104.4h0M411.6 92.4h0M426.8 87.3h0M421.4 87.2h0M403.5 93.0h0M401.4 104.8h0M415.3 104.4h0M416.2 96.4h0M408.4 105.9h0M407.6 97.5h0M407.0 88.1h0M408.4 106.1h0M407.6 108.8h0M413.9 102.3h0M415.9 102.1h0M416.9 88.7h0M411.7 99.5h0M417.9 83.4h0M400.9 93.4h0M400.5 102.4h0M415.7 95.3h0M413.5 98.6h0M413.1 105.1h0M408.4 93.9h0M419.4 87.9h0M406.3 109.1h0M422.9 93.9h0M408.3 94.5h0M418.3 87.5h0M405.9 102.6h0M414.0 101.7h0M403.3 109.8h0M421.9 83.1h0M422.6 82.9h0M414.7 82.7h0M404.8 110.2h0M422.0 83.9h0M406.5 112.0h0M407.5 110.5h0M404.7 91.2h0M405.3 105.6h0M402.8 99.0h0M399.5 107.5h0M402.0 101.9h0M418.3 91.3h0M425.0 92.6h0M399.3 102.0h0M414.2 88.6h0M413.3 101.1h0M406.4 105.8h0M415.5 85.3h0M409.1 93.8h0M416.9 83.9h0M420.9 84.1h0M406.3 94.5h0M428.1 88.4h0M405.2 109.2h0M415.1 88.6h0M416.2 90.0h0M402.0 107.7h0M415.0 83.2h0M425.5 87.3h0M409.0 107.6h0M404.5 103.0h0M413.7 105.1h0M405.2 105.9h0M421.3 98.4h0M415.4 97.6h0M425.7 84.9h0M400.9 101.1h0M417.2 90.3h0M417.5 88.2h0M416.8 91.8h0M418.2 105.1h0M427.9 91.4h0M409.1 109.2h0M413.8 92.9h0M415.6 99.8h0M416.4 82.4h0" stroke="#00C1A7" stroke-width="1.45" stroke-linecap="round" fill="none"/>
<path d="M440.7 100.8h0M433.3 91.2h0M426.3 90.2h0M438.0 119.0h0M434.3 112.9h0M441.7 96.7h0M446.3 107.0h0M432.0 105.8h0M447.1 115.9h0M450.0 119.5h0M445.8 94.7h0M443.1 104.6h0M424.5 98.9h0M445.6 115.1h0M430.1 98.9h0M441.4 93.0h0M446.4 94.9h0M438.1 102.2h0M453.4 110.3h0M439.2 113.5h0M445.4 124.2h0M434.7 94.5h0M439.6 98.5h0M442.4 117.9h0M440.2 95.6h0M452.7 111.3h0M430.6 103.6h0M445.9 109.2h0M424.8 87.7h0M449.3 105.3h0M426.0 85.7h0M434.3 92.6h0M451.1 110.8h0M435.1 114.8h0M424.6 101.5h0M440.2 113.5h0M430.7 94.5h0M451.0 113.5h0M441.2 110.5h0M437.6 122.2h0M443.1 104.8h0M436.4 107.7h0M427.5 99.9h0M440.0 99.7h0M446.6 103.9h0M439.5 90.7h0M446.3 116.0h0M453.8 113.8h0M444.7 115.0h0M449.7 101.1h0M435.2 96.5h0M434.9 89.0h0M455.3 112.6h0M443.4 122.8h0M451.1 102.6h0M436.7 106.3h0M449.6 121.2h0M441.9 117.1h0M430.9 99.6h0M448.2 103.9h0M437.9 120.9h0M422.8 97.9h0M446.7 96.3h0M441.1 92.6h0M436.6 117.5h0M430.2 106.9h0M440.9 96.9h0M453.8 103.0h0M429.3 93.6h0M449.1 116.1h0M435.7 110.8h0M446.1 123.4h0M454.1 108.9h0M443.6 102.1h0M440.6 93.9h0M432.0 109.2h0M447.0 106.8h0M424.0 87.2h0M444.1 94.8h0M425.7 89.8h0M430.6 102.9h0M435.0 106.7h0M445.6 115.6h0M442.3 106.4h0M426.9 96.6h0M424.7 85.8h0M447.9 113.3h0M434.4 105.4h0M452.2 120.9h0M430.2 102.8h0M435.8 97.2h0M433.8 93.1h0M449.9 103.0h0M429.7 101.9h0M446.5 123.0h0M434.0 115.8h0M438.1 119.9h0M432.1 103.9h0M428.8 103.9h0M430.0 85.8h0M443.7 111.7h0M430.3 90.8h0M452.0 110.0h0M448.5 99.0h0M429.4 101.2h0M446.3 102.7h0M444.0 122.8h0M444.5 117.0h0M446.8 97.7h0M449.4 101.2h0M447.3 106.4h0M444.3 99.7h0M442.8 120.4h0M432.4 99.2h0M433.1 89.3h0M429.0 108.4h0M439.2 112.7h0M452.0 118.3h0M424.2 101.1h0M425.8 93.7h0M435.2 106.7h0M433.3 104.0h0M445.6 110.5h0M442.6 106.4h0M434.3 100.3h0M442.2 114.3h0M446.4 109.4h0M443.2 94.5h0M444.2 108.6h0M435.8 101.5h0M440.8 122.0h0M443.9 108.0h0M442.0 91.6h0M434.9 114.7h0M439.5 118.7h0M445.2 107.9h0M445.0 94.4h0M428.6 98.0h0M428.2 99.3h0M439.2 96.1h0M443.6 92.9h0M428.0 92.8h0M434.7 91.0h0M451.7 115.0h0M433.8 98.2h0M429.0 104.5h0M429.3 105.0h0M432.3 89.6h0M452.8 113.5h0M424.6 85.9h0M444.0 111.2h0M447.8 121.2h0M432.5 98.4h0M440.4 110.0h0M440.5 90.1h0M452.9 113.1h0M432.9 90.4h0M438.4 102.3h0M440.8 99.4h0M448.8 113.9h0M451.2 112.3h0M452.0 104.0h0M426.3 89.1h0M431.7 88.2h0M433.6 89.8h0M430.7 90.9h0M447.1 95.5h0M444.5 98.3h0M445.7 108.6h0M427.4 88.8h0M443.6 116.2h0M439.6 96.3h0M443.2 115.1h0M428.2 88.7h0M448.6 102.9h0M439.5 99.1h0M427.2 89.3h0M436.7 101.2h0M443.4 103.6h0M449.6 104.2h0M450.5 111.7h0M430.1 102.7h0M426.3 91.5h0M442.0 120.5h0M441.9 115.5h0M449.8 119.8h0M449.6 106.4h0M435.4 95.5h0M438.9 121.5h0M448.1 99.6h0M450.8 121.9h0M441.7 105.3h0M450.4 101.1h0M443.2 95.5h0M426.9 100.8h0M442.4 119.9h0M439.0 99.6h0M446.3 100.8h0M440.7 125.6h0M427.0 91.4h0M437.7 120.6h0M450.0 110.3h0M451.1 123.2h0M430.2 106.6h0M449.4 109.3h0M434.2 93.4h0M440.0 111.3h0M446.9 104.6h0M449.1 113.2h0M440.9 117.7h0M445.8 98.9h0M449.5 116.2h0M428.8 98.2h0M432.3 93.7h0M442.6 104.1h0M445.8 118.1h0M435.5 93.5h0M442.7 126.4h0M451.7 102.7h0M438.5 101.4h0M427.8 96.6h0M434.1 94.3h0M448.7 115.8h0M438.7 92.3h0M430.6 90.3h0M431.2 107.9h0M440.5 100.3h0M446.9 105.5h0M428.6 89.6h0M430.7 109.3h0M441.6 113.5h0M428.7 104.9h0M448.0 99.9h0M432.4 98.1h0M444.4 101.0h0M454.4 112.9h0M438.6 97.5h0M438.7 99.1h0M445.4 97.4h0M426.0 101.6h0M451.7 115.2h0M451.8 117.8h0M434.4 108.0h0M449.3 101.3h0M426.5 86.5h0M427.9 87.7h0M440.3 121.7h0M426.4 94.4h0M441.5 107.4h0M443.3 112.7h0M434.6 98.6h0M431.2 98.1h0M439.1 98.7h0M446.5 107.6h0M444.7 103.2h0M436.7 105.8h0M436.4 103.3h0M450.9 107.0h0M444.3 123.3h0M449.2 112.8h0M450.6 121.1h0M438.2 112.5h0M425.0 97.2h0M430.9 107.1h0M444.3 109.9h0M449.4 119.5h0M427.5 93.1h0M441.8 114.0h0M450.1 114.7h0M446.7 108.8h0M436.4 89.6h0M430.1 87.0h0M427.2 93.7h0M447.7 111.9h0M454.6 115.3h0M445.4 105.6h0M437.2 91.9h0M437.6 104.1h0M448.1 108.8h0M446.0 116.4h0M433.2 93.0h0M430.5 101.3h0M434.7 113.2h0M433.1 94.1h0M441.5 116.9h0M424.1 99.2h0M441.5 97.4h0M446.2 102.8h0M425.1 99.4h0M427.4 99.3h0M433.1 107.1h0M441.0 110.5h0M450.6 121.9h0M427.3 85.8h0M438.9 103.9h0M424.8 85.4h0M435.9 114.5h0M431.4 102.8h0M437.7 119.3h0M427.7 86.6h0M445.6 112.7h0M439.1 97.6h0M433.4 88.2h0M429.8 104.0h0M453.4 105.8h0M437.2 99.3h0M445.2 96.3h0M436.6 107.4h0M444.0 104.4h0M434.1 100.5h0M427.0 96.9h0M438.1 91.7h0M448.2 103.3h0M431.7 99.6h0M435.5 112.7h0M447.9 102.2h0M441.4 120.7h0M442.4 110.3h0M428.9 99.6h0M444.1 115.8h0M432.6 94.1h0M448.1 114.8h0M428.7 95.1h0M449.0 115.4h0M446.0 114.5h0M440.8 124.7h0M438.5 109.7h0M428.0 86.1h0M445.1 97.1h0M440.4 90.5h0M445.5 95.0h0M452.1 108.5h0M448.4 120.0h0M435.5 96.1h0M439.1 91.2h0M425.3 100.7h0M442.5 111.4h0M450.4 121.5h0M441.4 92.2h0M423.7 99.7h0M438.9 96.0h0M454.2 118.5h0M438.8 99.8h0M443.6 106.3h0M428.9 97.2h0M440.6 96.5h0M434.7 112.5h0M451.4 119.6h0M448.1 97.5h0M434.9 107.2h0M442.3 115.0h0M451.0 108.6h0M431.5 103.1h0M450.0 102.5h0M432.8 90.5h0M439.0 118.9h0M439.6 100.5h0M432.0 104.4h0M425.4 100.7h0M435.4 94.5h0M432.9 106.4h0M443.2 118.9h0M438.7 103.1h0M446.5 103.0h0M432.0 91.5h0M426.9 95.5h0M436.3 120.9h0M434.9 106.4h0M434.6 93.6h0M445.4 104.1h0M433.6 96.8h0M436.6 110.0h0M439.3 95.1h0M430.7 111.8h0M427.6 105.1h0M441.4 116.3h0M447.5 105.1h0M439.3 93.4h0M442.4 113.0h0M425.0 94.7h0M443.4 114.5h0M432.6 110.8h0M443.8 111.7h0M439.1 107.5h0M444.7 99.3h0M447.9 114.4h0M442.0 108.0h0M450.9 104.9h0M440.0 114.0h0M436.2 115.0h0M440.7 116.1h0M434.9 92.2h0M433.6 100.4h0M427.2 89.4h0M451.6 113.4h0M430.5 94.1h0M451.0 108.2h0M435.2 104.7h0M447.4 103.0h0M446.5 113.2h0M450.9 113.0h0M440.8 89.4h0M449.3 108.3h0M428.6 97.9h0M435.8 116.6h0M427.4 87.5h0M436.2 94.1h0M454.0 110.6h0M435.5 101.8h0M429.4 90.8h0M431.5 110.3h0M432.6 96.1h0M445.1 121.4h0M445.0 93.5h0M451.2 104.8h0M446.0 105.6h0M444.6 109.9h0M438.9 111.1h0M442.7 107.6h0M447.0 115.2h0M436.5 111.2h0M441.0 114.4h0M443.3 101.1h0M445.2 108.2h0M447.6 111.9h0M444.3 113.1h0M442.5 96.7h0M427.7 89.9h0M431.5 99.1h0M442.0 92.7h0M440.5 114.9h0M439.3 103.0h0M439.1 115.5h0M429.9 97.2h0M439.4 91.9h0M436.2 103.7h0M447.0 109.6h0M452.3 100.4h0M442.9 108.5h0M435.3 94.9h0M439.4 92.6h0M439.0 115.4h0M455.7 117.7h0M432.3 93.6h0M440.5 94.7h0M446.6 94.9h0M451.2 107.1h0M437.0 91.1h0M439.0 117.2h0M428.6 94.0h0M450.5 104.7h0M445.6 106.8h0M440.8 104.7h0M450.2 105.8h0M448.3 99.3h0M431.0 94.2h0M439.6 118.0h0M444.9 121.1h0M423.7 102.4h0M440.6 96.6h0M450.2 111.0h0M453.6 115.7h0M449.2 116.2h0M440.0 114.4h0M450.9 97.2h0M449.4 109.4h0M446.9 124.0h0M440.3 105.6h0M452.4 115.1h0M435.3 112.3h0M431.2 88.7h0M428.0 87.6h0M425.9 101.6h0M437.3 98.2h0M434.0 116.7h0M449.2 111.3h0M451.1 104.4h0M444.6 108.4h0M431.5 105.8h0M426.5 95.4h0M442.3 119.1h0M439.4 120.7h0M438.4 113.7h0M449.9 112.7h0M442.2 98.3h0M453.0 120.7h0M425.5 86.8h0M425.6 98.2h0M447.6 116.6h0M440.6 98.0h0M439.0 116.2h0M440.1 93.2h0M443.0 107.4h0M449.6 101.8h0M450.2 100.3h0M447.2 110.5h0M434.9 114.5h0M436.0 114.9h0M447.4 115.8h0M428.8 102.4h0M448.2 98.8h0M428.8 98.4h0M435.7 114.7h0M449.8 106.0h0M445.6 123.3h0M435.7 113.1h0M438.1 110.0h0M452.4 111.0h0M438.8 105.6h0M436.0 88.1h0M448.6 107.5h0M439.4 91.1h0M433.8 111.7h0M434.4 104.5h0M449.8 118.0h0M448.3 118.9h0M439.0 88.1h0M452.5 104.7h0M426.2 88.6h0M451.3 116.9h0M441.9 109.9h0M426.4 93.7h0M445.6 98.3h0M431.4 89.6h0M436.6 94.3h0M438.5 114.0h0M442.3 108.5h0M449.6 116.1h0M430.6 104.0h0M449.7 117.4h0M436.6 113.8h0M431.0 98.9h0M443.5 123.7h0M429.9 91.1h0M430.8 97.2h0M440.9 118.9h0M429.1 100.3h0M424.3 100.3h0M435.0 88.1h0M449.0 125.9h0M429.8 98.1h0M424.7 96.4h0M444.8 111.8h0M438.1 104.8h0M449.7 120.5h0M429.2 96.7h0M449.7 112.6h0M425.6 91.0h0M454.4 114.9h0M444.2 119.5h0M443.5 105.5h0M443.6 93.8h0M447.7 99.8h0M439.9 116.8h0M442.6 106.1h0M446.4 119.9h0M448.0 113.4h0M430.3 97.8h0M446.0 120.7h0M437.1 110.6h0M433.8 100.3h0M449.5 117.5h0M435.3 98.4h0M434.1 99.2h0M448.2 112.2h0M446.0 103.8h0M438.5 120.3h0M442.0 121.9h0M446.4 111.7h0M431.8 90.4h0M440.7 124.1h0M436.6 99.4h0M446.3 120.6h0M433.5 112.6h0M430.4 107.0h0M433.1 88.2h0M442.3 96.1h0M441.0 107.1h0M440.2 119.0h0M450.3 105.6h0M426.9 87.6h0M448.2 114.3h0M436.7 99.9h0M442.7 115.6h0M432.8 110.3h0M443.6 101.8h0M446.3 120.4h0M435.2 99.1h0M433.0 106.2h0M428.4 94.5h0M432.5 106.7h0M431.7 87.3h0M443.1 114.3h0M443.2 125.1h0M426.7 94.8h0M436.4 107.2h0M441.9 117.4h0M440.6 109.6h0M429.6 93.9h0M430.8 93.6h0M437.1 116.2h0M454.6 113.5h0M434.0 96.3h0M445.6 119.1h0M442.0 115.4h0M432.6 108.0h0M434.0 89.6h0M439.1 121.6h0M447.0 117.6h0M448.8 125.0h0M439.0 117.3h0M439.9 108.4h0M438.3 119.1h0M448.2 104.0h0M436.1 100.0h0M426.8 84.3h0M448.1 113.8h0M438.1 91.6h0M447.3 106.0h0M430.7 92.9h0M439.0 88.8h0M437.0 100.9h0M446.3 110.2h0M438.8 93.1h0M450.9 110.6h0M448.3 101.0h0M439.6 93.7h0M440.3 97.4h0M440.9 103.1h0M448.0 112.6h0M437.4 97.6h0M422.2 96.4h0M442.0 96.9h0M443.4 121.5h0M450.3 104.0h0M436.9 109.2h0M436.0 100.4h0M435.9 117.6h0M445.3 98.1h0M442.4 122.6h0M443.4 107.4h0M447.4 113.7h0M440.6 112.1h0M437.9 101.8h0M446.5 111.1h0M439.1 99.4h0M433.4 101.4h0M440.6 120.9h0M439.5 116.3h0M433.3 92.8h0M433.0 109.4h0M429.1 88.2h0M440.8 102.1h0M446.5 116.6h0M437.8 90.7h0M436.5 113.2h0M439.8 106.8h0M450.0 104.0h0M449.0 113.1h0M433.4 87.7h0M433.4 109.6h0M442.5 119.6h0M431.3 105.7h0M438.2 92.8h0M437.9 102.9h0M436.3 116.1h0M433.3 94.1h0M437.3 112.5h0M432.0 105.4h0M440.1 117.1h0M433.3 102.3h0M442.0 95.6h0M429.5 108.3h0M445.7 119.7h0M433.2 91.2h0M437.4 93.9h0M441.3 102.2h0M454.1 111.3h0M427.8 92.1h0M442.9 114.9h0M439.8 120.1h0M427.0 85.1h0M441.6 98.6h0M448.5 106.2h0M435.0 98.7h0M436.6 88.3h0M431.8 103.3h0M435.5 117.9h0M426.7 85.2h0M450.5 105.6h0M449.8 117.5h0M434.5 110.4h0M452.5 112.9h0M450.9 101.1h0M445.7 106.0h0M440.1 97.5h0M442.5 117.7h0M450.2 101.0h0M442.3 94.7h0M441.8 103.6h0M433.4 100.1h0M448.5 123.3h0M438.3 112.1h0M439.5 96.1h0M448.3 118.0h0M447.3 97.1h0M444.5 95.8h0M437.4 111.4h0M447.6 114.2h0M447.9 124.9h0M432.2 91.0h0M439.5 121.6h0M453.3 117.5h0M450.2 112.7h0M436.6 110.4h0M425.8 89.6h0M452.0 107.3h0M441.2 112.3h0M440.6 98.9h0M430.3 98.4h0M436.6 90.7h0M441.8 111.9h0M449.0 116.1h0M441.2 104.8h0M448.6 101.6h0M433.7 87.8h0M444.8 121.6h0M441.2 96.1h0M444.8 102.2h0M435.9 119.4h0M436.0 94.3h0M442.7 93.9h0M446.0 113.3h0M442.1 117.2h0M425.5 97.5h0M452.6 121.9h0M432.0 105.5h0M437.4 102.6h0M434.5 107.4h0M432.5 89.0h0M451.9 117.6h0M441.9 99.9h0M433.7 90.4h0M442.0 122.6h0M445.8 102.2h0M426.1 98.2h0M429.1 86.4h0M451.3 117.0h0M445.4 111.9h0M438.4 97.9h0M440.4 97.4h0M448.4 122.5h0M437.3 111.5h0M453.6 108.7h0M447.6 111.5h0M449.4 119.7h0M448.5 123.3h0M445.9 99.3h0M443.7 102.6h0M442.3 122.6h0M433.5 108.6h0M452.7 113.8h0M443.9 98.3h0M441.4 93.9h0M436.2 108.5h0M436.6 102.1h0M442.5 89.2h0M431.4 102.9h0M445.0 94.4h0M425.5 87.3h0M451.8 123.2h0M439.0 99.7h0M436.6 110.5h0M436.3 109.6h0M429.1 90.9h0M447.4 101.2h0M453.5 113.7h0M439.2 90.4h0M436.5 108.2h0M440.1 110.4h0M423.0 96.7h0M430.3 98.3h0M446.8 108.5h0M447.3 116.2h0M440.2 124.2h0M449.6 124.5h0M426.1 84.4h0M432.3 105.5h0M447.9 110.5h0M440.1 104.9h0M439.2 102.4h0M429.9 97.5h0M425.9 88.6h0M442.5 100.2h0M451.7 109.1h0M445.5 92.6h0M450.5 113.9h0M450.4 109.8h0M428.4 95.0h0M445.4 107.7h0M437.1 92.0h0M451.1 122.6h0M441.0 105.2h0M435.6 86.5h0M446.1 110.5h0M432.4 90.2h0M428.2 90.3h0M443.5 121.6h0M434.0 101.1h0M442.4 102.1h0M431.7 90.7h0M438.8 97.4h0M441.7 95.7h0M443.8 125.0h0M429.2 112.0h0M430.2 96.2h0M442.0 93.2h0M432.7 95.9h0M436.4 115.4h0M441.4 112.0h0M431.5 95.9h0M433.7 105.4h0M426.6 89.0h0M438.2 114.1h0M434.0 104.3h0M453.2 111.3h0M445.3 116.3h0M437.4 91.1h0M451.3 112.6h0M430.4 94.2h0M440.6 103.6h0M446.1 118.6h0M438.3 106.9h0M433.6 97.6h0M434.7 102.9h0M443.3 103.1h0M431.6 108.2h0M441.2 120.1h0M435.7 109.1h0M447.6 107.1h0M435.9 94.0h0M424.5 88.9h0M437.5 97.0h0M430.3 104.8h0M441.7 90.7h0M440.2 124.6h0M436.8 90.4h0M428.3 88.6h0M444.8 105.0h0M424.8 88.4h0M448.1 101.7h0M442.8 113.8h0M437.0 106.4h0M430.7 88.1h0M428.3 87.4h0M454.4 108.9h0M432.9 98.0h0M426.8 100.0h0M448.5 115.8h0M430.4 89.5h0M439.1 112.8h0M434.5 101.4h0M430.5 93.0h0M436.3 120.7h0M434.8 104.7h0M442.8 107.7h0M449.0 117.2h0M451.1 111.5h0M431.9 88.2h0M435.1 111.6h0M428.7 86.2h0M429.5 100.8h0M430.0 90.2h0M431.5 103.1h0M442.5 103.9h0M448.8 112.4h0M450.1 119.2h0M433.2 104.0h0M431.1 89.4h0M437.0 102.6h0M441.0 105.1h0M446.9 104.6h0M441.2 95.6h0M428.9 91.3h0M437.4 112.8h0M451.1 117.0h0M430.9 90.6h0M440.5 101.3h0M430.3 97.7h0M449.5 102.5h0M429.6 107.0h0M446.0 115.1h0M444.6 112.8h0M440.6 113.0h0M428.1 107.7h0M428.4 101.3h0M432.4 104.8h0M445.9 113.3h0M427.9 92.8h0" stroke="#00BD5C" stroke-width="1.45" stroke-linecap="round" fill="none"/>
<path d="M469.8 139.4h0M469.4 130.4h0M461.9 132.0h0M466.6 128.0h0M466.7 141.6h0M469.4 129.1h0M462.9 123.8h0M476.5 127.5h0M470.4 117.4h0M462.9 119.6h0M463.6 131.8h0M474.8 135.5h0M464.7 123.3h0M460.6 119.9h0M466.7 131.5h0M470.4 125.6h0M471.2 126.2h0M467.6 124.7h0M467.2 119.4h0M471.8 126.6h0M468.2 139.1h0M460.1 129.9h0M467.3 140.9h0M473.6 134.9h0M467.5 127.2h0M461.4 138.1h0M472.8 123.0h0M464.6 119.9h0M470.8 128.6h0M465.6 125.3h0M466.3 141.5h0M470.1 134.3h0M463.0 128.3h0M466.0 119.2h0M467.3 134.8h0M470.6 121.9h0M473.4 123.3h0M469.3 126.6h0M476.6 133.0h0M465.5 123.7h0M473.9 120.9h0M467.9 120.7h0M463.4 132.1h0M465.5 124.7h0M465.1 134.5h0M466.3 140.3h0M472.5 137.8h0M461.6 128.3h0M466.2 141.1h0M458.0 128.6h0M474.5 126.5h0M458.8 125.1h0M462.2 127.2h0M468.7 130.6h0M462.6 129.0h0M460.6 137.7h0M460.9 135.1h0M471.6 121.3h0M466.2 139.7h0M470.8 128.4h0M469.1 113.5h0M476.1 130.7h0M460.9 129.8h0M473.3 124.4h0M472.5 120.0h0M460.1 131.0h0M462.6 132.2h0M466.9 116.8h0M470.1 137.7h0M473.2 136.7h0M464.2 139.6h0M462.4 130.9h0M468.8 134.4h0M462.0 127.7h0M470.9 122.7h0M464.1 126.1h0M468.7 124.3h0M471.1 128.2h0M466.5 117.1h0M464.3 128.0h0M468.3 126.4h0M460.7 136.3h0M472.0 125.0h0M472.4 135.8h0M472.4 120.5h0M469.1 139.8h0M461.0 138.9h0M472.0 124.4h0M474.7 133.2h0M473.2 119.2h0M463.7 136.3h0M462.8 117.0h0M473.7 134.0h0M466.9 138.0h0M469.6 118.6h0M459.4 126.1h0M473.4 127.0h0M471.7 124.9h0M468.7 129.8h0M468.1 136.4h0M473.0 118.1h0M464.7 117.9h0M468.2 134.4h0M469.2 123.5h0M464.8 139.4h0M470.6 128.3h0M466.6 138.4h0M463.5 118.0h0M470.0 132.6h0M469.0 133.8h0M471.3 129.4h0M473.5 129.6h0M463.6 137.1h0M463.4 137.1h0M466.0 126.5h0M466.8 115.8h0M470.7 125.8h0M468.3 122.4h0M465.7 125.3h0M472.7 126.8h0M464.1 117.9h0M471.6 121.5h0M470.3 138.2h0M464.8 134.0h0M467.4 117.9h0M475.1 123.6h0M462.9 126.7h0M467.7 129.5h0M467.6 119.3h0M469.1 133.9h0M470.2 122.8h0M471.5 120.1h0M462.1 138.1h0M460.8 120.2h0M475.2 124.5h0M460.1 129.3h0M470.6 126.6h0M464.0 136.2h0M466.6 135.0h0M464.7 130.1h0M462.1 128.7h0M464.2 126.2h0M461.5 124.1h0M467.0 128.8h0M473.3 125.4h0M471.7 125.8h0M463.2 125.0h0M472.6 130.1h0M464.6 127.9h0M465.9 115.8h0M465.4 125.6h0M469.4 137.5h0M465.2 139.9h0M462.5 115.8h0M472.2 123.9h0M474.2 128.2h0M469.3 131.6h0M472.3 123.6h0M462.6 129.3h0M474.8 134.0h0M472.0 130.4h0M469.8 129.6h0M471.1 121.0h0M468.1 139.4h0M462.4 133.3h0M466.9 123.9h0M460.0 125.2h0M462.4 125.0h0M465.3 124.4h0M468.1 123.0h0M462.5 119.0h0M467.7 141.2h0M464.7 118.2h0M464.6 131.0h0M463.5 131.3h0M461.7 132.9h0M470.9 118.1h0M471.7 132.3h0M466.4 116.8h0M465.1 116.5h0M469.3 119.3h0M465.8 125.7h0M465.2 122.9h0M461.1 117.7h0M475.6 127.8h0M472.9 124.5h0M475.2 129.9h0M468.5 133.7h0M475.3 131.4h0M468.0 123.2h0M472.9 127.8h0M461.0 128.8h0M462.2 113.4h0M461.5 118.8h0M463.8 135.2h0M471.1 130.3h0M466.0 138.5h0M472.9 121.4h0M463.2 129.3h0M469.0 116.6h0M472.5 134.8h0M462.3 131.8h0M462.5 126.5h0M456.9 123.6h0M461.9 119.2h0M469.7 127.8h0M471.2 117.7h0M475.3 129.6h0M469.8 125.2h0M475.0 119.1h0M474.5 129.0h0M474.9 121.7h0M462.8 120.6h0M471.6 136.1h0M474.1 128.5h0M464.8 114.4h0M463.6 114.0h0M464.7 124.1h0M468.3 133.0h0M463.6 115.4h0M471.4 117.2h0M463.0 139.1h0M472.2 127.1h0M463.7 124.2h0M475.5 130.0h0M470.2 124.9h0M469.9 135.5h0M471.5 123.6h0M472.4 127.2h0M469.0 129.9h0M465.4 122.0h0M460.2 134.2h0M470.5 124.3h0M467.9 119.9h0M464.3 134.0h0M463.5 118.4h0M470.5 114.7h0M472.3 126.5h0M471.9 127.6h0M467.7 124.5h0M471.6 128.6h0M476.4 126.9h0M459.7 122.0h0M466.1 137.9h0M463.5 137.9h0M473.6 127.5h0M467.8 130.4h0M473.1 126.1h0M475.2 133.9h0M463.5 139.5h0M464.1 138.4h0M470.4 125.5h0M468.5 141.4h0M464.9 115.3h0M464.5 122.3h0M470.1 136.4h0M462.3 130.4h0M469.8 138.3h0M469.7 121.9h0M467.0 113.0h0M469.0 114.4h0M475.1 126.7h0M461.0 128.4h0M475.5 126.5h0M468.3 130.0h0M470.2 138.1h0M462.8 119.2h0M468.4 131.3h0M463.6 136.6h0M469.2 130.0h0M464.2 138.1h0M474.9 136.6h0M468.2 117.7h0M467.4 132.0h0M468.7 136.7h0M466.4 132.7h0M461.9 117.5h0M464.9 138.8h0M461.9 123.1h0M471.8 138.9h0M467.8 125.1h0M467.3 118.5h0M466.3 123.8h0M472.1 122.3h0M468.3 129.2h0M461.5 136.9h0M465.1 121.9h0M464.9 130.8h0M467.7 137.3h0M473.5 129.6h0M468.7 132.9h0M462.0 128.3h0M472.0 129.7h0M472.9 128.9h0M465.9 133.5h0M469.3 120.8h0M463.5 138.5h0M474.9 119.7h0M461.4 117.3h0M467.6 128.8h0M476.2 125.2h0M465.4 124.7h0M471.2 127.0h0M470.6 132.7h0M468.9 136.0h0M466.2 125.8h0M467.1 134.5h0M460.5 125.8h0M462.9 126.0h0M466.2 126.8h0M471.4 134.9h0M462.9 130.2h0M463.3 135.7h0M469.9 129.2h0M469.6 132.8h0M459.5 123.5h0M466.9 124.0h0M471.6 116.8h0M469.7 128.6h0M471.8 123.8h0M466.8 134.3h0M462.0 136.7h0M463.7 118.6h0M463.1 139.4h0M472.1 117.9h0M466.2 123.5h0M474.1 135.2h0M465.6 125.7h0M469.1 128.5h0M466.5 127.8h0M462.0 126.5h0M465.1 125.4h0M467.6 119.8h0M474.6 127.1h0M466.8 137.6h0M462.3 118.8h0M463.2 118.0h0M469.4 122.4h0M466.5 140.8h0M474.3 126.0h0M468.2 125.8h0M462.1 120.7h0M472.9 129.7h0M475.1 133.3h0M473.2 127.1h0M466.5 137.5h0M462.4 116.6h0M463.4 136.0h0M471.4 133.8h0M468.4 118.7h0M473.4 131.7h0M475.3 120.5h0M461.3 118.8h0M464.9 124.5h0M465.7 138.1h0M470.2 133.5h0M463.1 116.3h0M473.8 124.3h0M466.3 133.0h0M460.4 133.5h0M467.5 114.5h0M460.8 138.5h0M474.1 122.4h0M467.8 120.6h0M461.4 118.4h0M472.2 129.7h0M462.4 117.5h0M461.2 125.3h0M470.7 126.0h0M475.3 127.0h0M461.4 125.2h0M468.4 122.1h0M465.6 137.2h0M460.7 117.6h0M473.2 119.0h0M467.9 126.8h0M464.4 134.1h0M469.2 114.7h0M472.5 122.9h0M468.1 119.6h0M475.3 133.3h0M467.2 134.2h0M463.9 137.5h0" stroke="#00BADE" stroke-width="1.45" stroke-linecap="round" fill="none"/>
<path d="M454.8 140.5h0M449.8 156.1h0M458.4 138.7h0M443.3 124.9h0M441.6 126.1h0M452.6 149.9h0M438.2 132.5h0M443.5 144.4h0M451.9 134.8h0M439.3 131.2h0M458.1 143.8h0M442.9 149.1h0M445.4 140.5h0M441.0 136.6h0M450.3 156.0h0M445.4 124.6h0M442.3 135.9h0M451.5 149.7h0M453.9 154.1h0M442.5 132.2h0M456.5 149.0h0M440.6 135.3h0M446.5 134.0h0M441.6 149.3h0M442.6 144.6h0M452.4 150.0h0M438.6 128.1h0M446.6 146.5h0M443.4 142.0h0M449.8 150.5h0M452.2 131.9h0M449.2 143.8h0M455.5 140.3h0M445.7 126.4h0M453.2 143.2h0M446.3 142.4h0M442.1 130.7h0M444.8 129.4h0M448.1 148.6h0M454.2 137.5h0M454.3 137.9h0M448.8 139.0h0M458.7 146.1h0M457.6 145.4h0M452.7 140.7h0M451.5 140.3h0M451.0 150.8h0M442.0 142.3h0M448.8 136.0h0M443.5 135.4h0M438.2 133.7h0M442.9 128.0h0M451.5 156.2h0M447.5 129.8h0M442.9 140.6h0M450.3 138.4h0M452.4 150.1h0M454.5 144.7h0M441.7 134.7h0M449.4 152.8h0M446.0 156.8h0M454.3 139.4h0M447.7 133.1h0M451.0 135.8h0M448.6 129.9h0M444.2 146.3h0M449.7 132.8h0M447.7 131.9h0M445.9 131.6h0M452.0 140.1h0M452.9 152.4h0M452.0 155.6h0M452.3 139.6h0M442.6 147.6h0M451.5 150.5h0M443.1 141.3h0M441.9 137.4h0M442.3 139.6h0M441.2 135.1h0M442.2 141.1h0M452.4 141.3h0M448.6 141.6h0M452.1 140.2h0M439.7 133.5h0M444.2 133.6h0M457.7 148.2h0M453.3 144.7h0M452.9 148.6h0M452.2 149.9h0M456.0 152.3h0M438.5 126.7h0M445.3 152.1h0M447.3 145.9h0M451.9 155.3h0M458.3 146.1h0M454.6 136.4h0M449.7 135.6h0M451.5 157.1h0M441.1 135.5h0M447.5 132.1h0M454.8 146.3h0M449.1 128.3h0M451.7 151.8h0M448.3 145.9h0M456.7 138.9h0M447.9 131.4h0M458.1 143.7h0M449.7 145.2h0M448.2 148.1h0M446.5 140.8h0M447.7 153.1h0M436.6 133.1h0M454.7 148.7h0M443.5 142.5h0M445.4 154.6h0M458.6 144.9h0M447.1 132.2h0M445.7 156.4h0M452.1 131.2h0M449.3 150.7h0M446.8 132.2h0M453.5 156.2h0M452.7 151.9h0M449.9 146.5h0M447.9 149.4h0M453.1 150.6h0M445.7 129.3h0M449.3 144.5h0M441.6 136.4h0M446.3 141.0h0M454.1 139.5h0M444.4 132.7h0M444.2 128.7h0M442.5 143.0h0M452.1 149.2h0M454.3 148.2h0M446.8 152.9h0M443.9 127.5h0M444.9 137.8h0M454.4 142.8h0M451.5 137.7h0M449.5 130.2h0M454.7 148.8h0M448.5 148.0h0M448.7 156.5h0M459.0 144.4h0M441.3 130.5h0M449.9 129.4h0M446.5 139.8h0M455.2 142.1h0M448.8 157.7h0M444.2 145.7h0M443.7 147.3h0M437.4 135.1h0M448.2 137.8h0M440.1 139.1h0M459.0 141.8h0M447.5 143.4h0M442.1 138.8h0M441.1 135.8h0M449.8 135.9h0M453.6 147.8h0M441.3 134.4h0M450.0 152.3h0M447.5 154.1h0M441.4 147.0h0M457.7 140.7h0M443.2 128.5h0M446.6 127.4h0M446.1 151.0h0M444.0 130.1h0M458.7 146.8h0M437.4 129.1h0M448.1 144.2h0M447.0 143.1h0M437.0 137.5h0M444.6 142.4h0M445.7 127.7h0M449.4 155.3h0M447.2 131.0h0M454.2 151.8h0M445.5 141.9h0M451.3 132.0h0M451.8 149.1h0M452.5 154.0h0M446.1 152.3h0M449.7 154.7h0M445.9 145.0h0M447.0 141.7h0M455.0 149.6h0M453.2 156.5h0M442.7 135.0h0M439.6 135.1h0M454.7 138.9h0M456.0 153.7h0M440.1 145.8h0M454.3 142.6h0M452.6 155.4h0M455.1 147.8h0M443.9 127.4h0M453.0 138.9h0M449.6 138.1h0M440.2 129.7h0M441.0 131.3h0M447.8 136.1h0M452.3 146.4h0M452.8 140.4h0M449.4 138.4h0M441.9 134.1h0M443.0 138.6h0M453.1 149.8h0M456.4 145.3h0M440.0 128.5h0M455.0 137.5h0M448.8 141.9h0M437.4 131.2h0M443.7 138.1h0M455.6 140.0h0M448.9 150.1h0M444.2 130.0h0M449.0 130.3h0M440.7 130.1h0M455.9 141.5h0M452.9 153.4h0M451.2 134.2h0M451.0 134.6h0M456.0 144.5h0M452.2 140.5h0M454.0 147.5h0M442.8 154.0h0M447.8 127.3h0M446.0 133.5h0M445.7 136.2h0M454.7 134.7h0M441.4 135.6h0M438.0 136.3h0M453.4 145.7h0M455.1 141.1h0M444.9 154.5h0M455.9 144.1h0M446.5 148.4h0M446.1 153.2h0M447.3 138.8h0M448.3 154.6h0M446.8 146.6h0M455.8 142.8h0M442.6 129.8h0M445.7 142.2h0M444.6 134.5h0M440.9 135.6h0M449.3 138.3h0M457.1 149.2h0M442.8 147.9h0M449.5 155.0h0M443.8 125.6h0M449.3 156.7h0M449.4 131.4h0M451.3 134.6h0M443.3 152.0h0M453.9 152.9h0M452.5 149.8h0M443.8 141.6h0M451.0 147.9h0M444.6 125.2h0M444.3 150.7h0M453.8 133.4h0M441.0 130.1h0M438.9 132.9h0M445.2 130.1h0M445.9 137.8h0M444.9 147.1h0M451.6 144.4h0M447.6 151.0h0M443.5 127.7h0M440.0 128.3h0M446.3 151.3h0M441.7 127.8h0M454.0 156.1h0M446.6 133.7h0M441.8 133.6h0M452.2 133.8h0M452.3 143.3h0M442.8 143.7h0M445.8 159.2h0M447.9 133.2h0M447.5 146.0h0M438.5 134.5h0M455.8 148.7h0M446.0 156.6h0M454.1 138.4h0M455.0 147.3h0M442.6 134.8h0M447.4 151.6h0M447.8 143.6h0M452.7 145.4h0M452.6 150.7h0M457.7 142.2h0M441.6 140.8h0M457.3 144.6h0M446.8 152.8h0M449.4 144.3h0M449.9 130.7h0M447.5 146.8h0M451.5 138.4h0M442.7 152.7h0M440.6 138.7h0M448.5 130.9h0M454.2 144.1h0M453.1 146.7h0M443.2 139.0h0M443.4 142.1h0M439.7 130.7h0M450.4 144.6h0M455.7 148.3h0M441.6 129.2h0M451.8 137.5h0M452.7 149.5h0M439.5 135.8h0M449.0 143.7h0M441.6 134.3h0M457.1 141.8h0M442.3 132.8h0M448.8 135.5h0M450.6 147.4h0M444.0 150.9h0M451.7 147.9h0M449.2 129.5h0M439.0 126.3h0M444.9 151.3h0M443.7 138.5h0M458.1 152.9h0M441.3 131.3h0M457.1 154.2h0M445.3 134.6h0M441.0 140.8h0M445.6 142.2h0M452.3 150.9h0M450.7 145.5h0M440.6 128.5h0M450.6 152.1h0M446.1 145.3h0M444.6 131.1h0M439.5 131.3h0M445.9 146.1h0M441.5 134.5h0M445.2 152.3h0M451.7 139.3h0M445.1 153.1h0M450.3 155.9h0M448.0 143.3h0M450.7 132.8h0M446.2 139.2h0M446.8 146.8h0M451.9 131.2h0M450.9 134.8h0M457.8 153.0h0M445.4 155.9h0M441.1 142.6h0M457.0 149.5h0M440.3 128.1h0M445.7 158.2h0M452.3 145.5h0M441.8 142.0h0M443.5 146.6h0M452.5 136.2h0M439.9 145.4h0M447.4 155.2h0M443.7 127.0h0M455.5 140.6h0M444.2 124.3h0M449.0 156.6h0M450.2 127.9h0M440.6 141.4h0M454.4 147.6h0M438.5 129.7h0M442.5 138.7h0M447.8 151.3h0M441.1 139.9h0M438.5 127.5h0M439.7 140.6h0M451.3 155.7h0M456.4 146.5h0M442.8 134.6h0M451.7 149.8h0M456.4 144.6h0M452.3 156.6h0M453.0 139.2h0M448.8 134.6h0M449.1 152.8h0M453.2 155.0h0M443.7 128.8h0M446.0 156.0h0M438.6 131.2h0M451.5 150.5h0M454.6 147.1h0M455.3 140.0h0M444.8 144.1h0M460.6 148.0h0M452.0 131.5h0M453.6 139.2h0M451.6 135.6h0M440.0 132.7h0M456.0 145.9h0M450.9 143.4h0M438.1 126.6h0M446.1 133.0h0M445.9 141.1h0M442.9 135.0h0M452.4 131.1h0M441.5 134.5h0M438.6 128.4h0M445.9 142.9h0M449.7 143.4h0M442.5 131.8h0M449.1 149.4h0M449.8 143.9h0M446.6 150.4h0M444.3 129.6h0M447.4 142.8h0M455.9 139.5h0M454.1 148.0h0M445.8 156.5h0M447.3 152.5h0M439.2 131.9h0M454.5 146.7h0M457.6 141.7h0M442.3 126.5h0M456.2 150.2h0M448.2 133.5h0M444.8 145.7h0M453.5 147.2h0M455.2 154.5h0M453.4 137.4h0M453.7 143.0h0M446.2 124.6h0M449.5 132.9h0M451.8 147.9h0M454.1 150.4h0M449.6 155.6h0M450.9 133.3h0M457.6 145.7h0M443.0 151.3h0M447.5 154.8h0M445.0 145.1h0M447.6 146.7h0M447.0 150.5h0M444.9 137.7h0M458.2 148.5h0M459.4 143.0h0M452.4 152.7h0M439.8 136.3h0M437.4 128.3h0M451.3 149.0h0M456.1 140.0h0M448.9 141.0h0M445.8 125.6h0M446.4 146.1h0M445.8 137.8h0M444.5 147.1h0M456.2 142.0h0M448.4 144.2h0M450.0 154.3h0M444.9 145.1h0M449.7 134.5h0M456.3 147.9h0M448.5 132.5h0M448.3 136.4h0M448.9 154.7h0M453.1 148.4h0M442.0 128.9h0M442.1 144.7h0M449.8 152.6h0M442.9 138.7h0M452.2 139.1h0M452.5 134.9h0M451.5 141.5h0M451.4 135.9h0M446.0 139.5h0M449.1 156.3h0M447.2 137.0h0M454.4 136.6h0M450.7 129.9h0M451.3 148.1h0M445.3 145.5h0M452.8 136.3h0M443.2 134.3h0M438.6 127.0h0M445.4 153.0h0M443.8 132.1h0M452.3 143.6h0M454.0 152.1h0M454.2 152.7h0M440.2 126.0h0M450.1 155.0h0M444.7 141.3h0M453.5 138.9h0M452.9 148.3h0M448.8 152.9h0M447.2 154.7h0M446.6 135.0h0M444.8 148.7h0M456.5 146.4h0M454.7 144.8h0M448.5 135.2h0M440.5 135.0h0M442.9 138.7h0M453.9 141.5h0M456.7 144.8h0M440.0 127.4h0M449.0 131.2h0M451.5 137.2h0M444.9 138.3h0M446.6 134.8h0M450.9 156.1h0M458.7 144.5h0M455.7 148.1h0M449.5 133.1h0M452.4 131.4h0M453.3 139.5h0M458.0 143.5h0M447.3 154.6h0M449.0 143.8h0M445.8 146.1h0M450.0 157.2h0M454.9 147.1h0M444.6 138.4h0M445.4 152.3h0M458.4 146.0h0M447.9 145.0h0M439.9 143.5h0M447.1 148.9h0M450.5 148.3h0M450.6 147.3h0M454.2 151.1h0M440.1 125.6h0M444.7 132.4h0M447.6 132.3h0M446.5 145.1h0M447.3 133.2h0M442.1 147.5h0M442.6 125.0h0M439.8 133.8h0M448.5 127.1h0M451.3 143.7h0M452.7 150.6h0M444.5 135.9h0M443.4 142.6h0M437.3 126.2h0M445.5 137.8h0M444.3 132.9h0M442.6 135.1h0M452.9 138.5h0M442.3 133.5h0M451.5 156.1h0M441.8 127.9h0M445.9 128.7h0" stroke="#64B200" stroke-width="1.45" stroke-linecap="round" fill="none"/>
<path d="M427.9 163.6h0M434.1 157.7h0M428.7 161.3h0M427.1 170.6h0M432.1 167.3h0M428.6 163.9h0M434.2 170.9h0M443.6 159.0h0M426.7 171.4h0M435.8 171.2h0M434.8 157.7h0M427.6 171.0h0M425.4 167.9h0M437.4 158.4h0M433.8 148.8h0M427.7 175.4h0M428.0 162.6h0M427.1 166.7h0M426.1 165.1h0M437.1 151.5h0M440.6 164.8h0M429.9 160.5h0M435.5 146.6h0M424.4 171.3h0M433.0 157.4h0M441.2 161.1h0M434.4 172.7h0M437.0 156.1h0M424.6 164.5h0M433.2 150.1h0M432.9 156.5h0M432.0 168.7h0M436.8 159.2h0M431.3 150.6h0M429.4 170.6h0M439.6 162.0h0M426.2 158.2h0M437.0 168.7h0M423.6 168.9h0M433.0 167.3h0M428.1 163.1h0M426.5 171.3h0M429.7 153.1h0M444.0 155.5h0M435.1 155.1h0M434.3 160.9h0M434.4 164.7h0M432.6 168.1h0M432.4 167.8h0M438.3 165.8h0M428.9 158.3h0M433.6 158.2h0M433.4 155.7h0M439.6 146.7h0M433.3 151.4h0M429.9 163.0h0M432.2 147.7h0M425.4 158.2h0M433.1 163.9h0M437.0 161.3h0M431.2 174.5h0M422.7 175.7h0M426.8 168.1h0M432.9 163.7h0M428.0 160.1h0M432.2 169.9h0M436.8 154.0h0M440.2 160.6h0M429.7 175.2h0M442.2 150.1h0M431.6 169.3h0M442.2 157.6h0M433.3 155.7h0M433.6 154.1h0M436.5 154.8h0M438.3 148.8h0M441.2 149.6h0M439.5 153.2h0M439.8 159.3h0M437.1 159.0h0M429.0 162.5h0M442.8 165.8h0M427.0 163.7h0M428.3 155.1h0M433.9 162.6h0M440.5 163.9h0M428.7 163.8h0M440.1 151.4h0M435.8 148.8h0M426.7 160.9h0M432.5 158.8h0M444.2 152.8h0M439.9 149.3h0M435.5 170.7h0M439.4 163.6h0M440.0 163.9h0M434.8 150.4h0M440.2 150.1h0M433.6 168.6h0M441.3 150.4h0M427.6 170.3h0M438.1 147.4h0M433.5 151.1h0M433.7 163.6h0M436.6 158.7h0M432.8 149.0h0M440.6 154.6h0M438.1 166.3h0M438.1 152.1h0M428.3 151.4h0M436.5 152.0h0M434.5 161.7h0M439.1 147.4h0M434.8 157.0h0M429.5 159.6h0M428.2 168.5h0M429.2 166.5h0M434.5 154.3h0M430.0 172.2h0M429.5 174.9h0M430.9 166.0h0M439.3 164.1h0M424.9 160.3h0M434.5 147.5h0M425.5 172.7h0M426.2 165.0h0M441.4 150.7h0M438.1 150.9h0M426.9 160.8h0M432.5 150.0h0M431.0 164.8h0M437.5 153.2h0M437.9 160.6h0M434.7 146.9h0M437.0 156.3h0M434.8 169.0h0M431.9 169.9h0M439.8 165.7h0M441.7 146.9h0M437.4 163.5h0M432.8 163.9h0M438.2 156.0h0M427.8 171.8h0M442.1 151.6h0M433.3 162.6h0M438.7 157.5h0M426.3 164.9h0M427.0 171.9h0M429.8 153.1h0M439.4 153.2h0M427.4 162.6h0M438.3 146.3h0M437.7 159.3h0M442.6 152.2h0M434.5 163.9h0M436.8 148.9h0M433.6 153.7h0M431.3 170.6h0M428.5 173.0h0M436.0 153.2h0M427.8 159.0h0M435.7 171.2h0M436.4 157.2h0M430.2 151.2h0M427.7 161.0h0M432.1 162.3h0M438.3 149.4h0M429.9 163.2h0M434.3 155.1h0M425.1 171.7h0M428.2 166.5h0M442.9 149.4h0M427.3 168.3h0M442.6 153.7h0M429.0 172.7h0M437.7 148.6h0M444.4 156.9h0M426.7 165.5h0M430.2 175.4h0M440.2 155.6h0M440.2 165.7h0M425.4 168.7h0M427.4 171.6h0M435.6 163.3h0M434.2 149.1h0M435.3 171.0h0M441.4 151.1h0M426.1 175.0h0M433.1 161.9h0M427.6 168.5h0M439.2 149.7h0M433.7 165.4h0M442.6 151.6h0M436.3 167.4h0M431.7 153.5h0M437.7 152.7h0M444.1 152.9h0M429.0 154.3h0M438.2 146.9h0M424.9 164.1h0M436.5 163.8h0M423.3 172.3h0M434.6 173.0h0M435.3 148.3h0M442.5 161.9h0M439.7 161.0h0M440.6 151.1h0M436.5 149.0h0M435.8 146.5h0M427.4 166.1h0M438.7 159.9h0M434.3 152.3h0M439.6 148.6h0M439.3 152.3h0M442.4 163.7h0M431.5 160.4h0M434.1 167.6h0M437.2 161.9h0M441.8 158.7h0M437.6 160.2h0M441.5 149.0h0M441.1 152.2h0M431.2 162.0h0M432.8 167.8h0M436.1 152.6h0M427.7 163.0h0M431.7 167.2h0M429.7 156.8h0M427.4 171.1h0M438.9 146.6h0M440.0 164.3h0M430.7 152.0h0M429.6 154.2h0M426.4 168.7h0M429.2 150.9h0M441.2 159.3h0M436.9 145.6h0M440.9 146.7h0M424.9 173.5h0M435.6 157.5h0M425.6 174.1h0M428.6 159.2h0M426.7 171.5h0M429.9 169.6h0M434.9 170.6h0M436.6 162.4h0M428.9 161.1h0M441.6 153.7h0M436.2 161.4h0M428.0 169.5h0M437.2 147.0h0M439.8 162.5h0M432.0 149.2h0M433.5 146.8h0M434.7 155.1h0M431.1 163.1h0M429.2 173.1h0M433.7 162.9h0M438.6 157.9h0M438.4 149.1h0M434.7 158.9h0M433.5 164.8h0M431.5 158.9h0M426.5 171.4h0M443.4 163.3h0M428.0 160.2h0M424.4 163.7h0M436.1 157.4h0M436.0 149.0h0M439.2 161.4h0M433.9 155.8h0M437.2 153.7h0M425.9 169.6h0M440.6 147.4h0M441.7 166.3h0M436.7 166.7h0M433.8 150.4h0M435.4 156.8h0M442.8 151.2h0M438.7 151.0h0M425.6 175.9h0M427.3 168.8h0M433.2 150.8h0M424.1 163.2h0M441.8 161.2h0M431.5 163.8h0M425.0 176.7h0M438.8 154.3h0M444.0 159.2h0M429.9 171.2h0M431.1 172.9h0M429.3 158.8h0M440.6 167.3h0M435.5 159.6h0M431.2 175.1h0M432.2 154.9h0M425.9 166.4h0M426.7 178.1h0M441.9 164.8h0M442.0 150.3h0M424.9 168.8h0M435.3 155.0h0M434.0 161.3h0M436.2 165.5h0M440.1 153.8h0M438.1 162.1h0M436.2 160.7h0M427.1 172.2h0M434.3 158.4h0M435.6 159.8h0M424.5 174.4h0M430.3 161.3h0M426.7 164.9h0M432.7 145.3h0M430.1 156.8h0M440.5 158.5h0M443.1 147.7h0M428.0 169.0h0M429.4 165.5h0M435.9 161.0h0M436.5 166.3h0M443.7 153.8h0M437.0 168.0h0M432.9 172.3h0M437.2 163.8h0M431.5 167.3h0M436.5 155.8h0M430.4 161.1h0M427.9 163.2h0M437.6 164.5h0M435.1 149.3h0M431.1 164.1h0M427.0 162.7h0M438.8 154.7h0M430.4 173.8h0M435.1 146.5h0M443.4 155.6h0M430.0 161.8h0M436.8 165.8h0M424.4 171.9h0M442.2 155.3h0M432.5 170.1h0M438.8 160.1h0M440.7 161.6h0M436.4 157.1h0M439.0 147.9h0M425.3 173.8h0M435.4 157.4h0M434.0 152.5h0M440.3 148.0h0M439.0 167.2h0M434.8 154.4h0M432.4 157.2h0M436.2 163.0h0M436.9 162.5h0M439.8 149.1h0M443.0 148.2h0M436.5 154.9h0M442.1 155.8h0M425.7 161.4h0M437.4 158.6h0M431.0 165.9h0M438.2 147.5h0M435.3 147.2h0M429.1 152.7h0M428.2 167.8h0M432.0 172.1h0M442.8 156.1h0M428.3 166.7h0M433.2 161.2h0M436.5 154.1h0M429.6 153.3h0M433.6 171.8h0M430.2 151.7h0M435.9 158.9h0M430.7 163.9h0M423.7 163.6h0M429.1 166.9h0M440.8 154.0h0M435.6 151.0h0M436.6 158.9h0M431.6 161.8h0M444.0 153.5h0M436.9 152.7h0M439.9 160.2h0M437.2 150.0h0M433.3 158.3h0M432.5 161.8h0M425.6 173.7h0M426.6 172.2h0M425.4 164.5h0M443.8 149.5h0M434.7 161.3h0M429.5 153.8h0M437.6 154.3h0M444.3 150.5h0M430.4 171.4h0M426.9 175.4h0M432.5 174.1h0M440.2 150.7h0M425.3 166.1h0M424.6 162.5h0M440.6 151.6h0M432.7 150.9h0M426.2 173.6h0M429.5 176.1h0M425.1 163.6h0M441.2 158.1h0M439.9 162.0h0M435.7 164.4h0M429.3 153.5h0M435.0 151.2h0M432.9 162.8h0M431.2 166.7h0M432.9 147.3h0M427.2 173.3h0M442.2 156.8h0M434.6 154.2h0M432.7 168.0h0M429.2 171.2h0M433.7 156.7h0M434.6 171.3h0M440.9 155.3h0M439.3 157.5h0M429.3 171.8h0M437.3 155.5h0M426.2 172.6h0M436.3 145.8h0M428.0 167.7h0M427.9 163.6h0M436.4 161.8h0M425.4 172.9h0M438.9 165.9h0M428.8 153.9h0M439.4 149.0h0M427.8 170.7h0M439.3 156.8h0M435.3 170.5h0M431.6 154.7h0M436.5 164.3h0M434.4 162.6h0M431.1 170.1h0M435.8 159.4h0M441.2 153.7h0M436.5 161.5h0M436.6 166.5h0M430.7 157.2h0M432.9 170.4h0M444.6 160.0h0M433.7 145.3h0M438.0 165.2h0M442.0 147.8h0M432.3 168.0h0M441.4 161.8h0M427.5 159.8h0M427.6 173.0h0M431.2 170.7h0M437.9 161.3h0M439.0 157.5h0M440.0 159.7h0M434.8 164.2h0M440.6 147.4h0M436.2 155.2h0M435.1 147.1h0M429.2 165.9h0M443.5 161.9h0M423.4 169.7h0M439.1 151.6h0M438.3 149.7h0M429.0 161.6h0M440.4 159.7h0M429.3 172.0h0M430.3 173.3h0M435.6 159.4h0M431.9 155.0h0M437.4 164.6h0M437.8 149.4h0M429.6 158.4h0M427.3 172.9h0M428.3 172.4h0M440.5 156.1h0M437.3 158.1h0M430.2 153.7h0M442.3 157.2h0M433.6 169.8h0M432.1 174.2h0M433.8 159.0h0M426.5 172.5h0M441.5 155.2h0M435.5 150.6h0M433.6 164.2h0M439.3 149.3h0" stroke="#DB8E00" stroke-width="1.45" stroke-linecap="round" fill="none"/>
<path d="M428.3 112.1h0M422.2 115.6h0M423.0 140.8h0M429.9 137.5h0M429.7 128.2h0M421.3 123.6h0M417.8 127.8h0M425.3 111.4h0M417.3 118.1h0M422.2 129.2h0M431.0 117.7h0M423.1 112.1h0M424.8 129.4h0M431.0 128.1h0M433.1 120.5h0M432.0 120.6h0M428.2 109.1h0M420.3 134.2h0M421.2 118.6h0M427.8 137.8h0M426.8 122.4h0M432.7 126.2h0M426.0 125.8h0M422.7 114.1h0M428.5 127.1h0M418.1 127.8h0M425.4 123.7h0M431.3 129.1h0M424.2 122.4h0M431.5 119.0h0M430.4 137.9h0M423.3 117.7h0M431.5 126.2h0M427.2 129.6h0M415.9 119.0h0M425.5 142.2h0M433.2 123.9h0M426.2 116.6h0M422.9 116.8h0M429.4 113.3h0M418.5 129.8h0M428.9 143.8h0M431.4 144.5h0M430.7 115.9h0M429.5 122.9h0M418.2 121.5h0M420.7 109.4h0M430.7 124.6h0M424.5 113.5h0M428.9 130.8h0M425.4 136.6h0M422.0 110.4h0M425.8 121.9h0M418.0 111.1h0M417.3 108.5h0M429.8 146.2h0M415.9 118.0h0M423.0 111.6h0M426.7 135.4h0M421.8 125.9h0M420.2 122.8h0M431.8 127.3h0M423.3 114.8h0M422.9 136.3h0M426.8 125.0h0M424.1 117.4h0M422.8 118.9h0M425.2 133.4h0M422.5 132.1h0M432.4 134.3h0M426.5 137.9h0M424.1 141.4h0M425.5 123.3h0M423.8 119.7h0M427.8 130.1h0M419.7 120.8h0M429.7 114.6h0M424.9 127.2h0M427.4 121.4h0M422.8 111.0h0M417.7 114.6h0M427.4 112.7h0M432.8 125.0h0M432.4 145.8h0M423.0 120.0h0M430.6 118.2h0M427.4 141.7h0M422.5 129.9h0M424.9 137.6h0M423.7 115.3h0M428.5 131.9h0M425.1 133.5h0M422.6 112.3h0M425.9 138.4h0M432.4 137.0h0M431.3 121.5h0M431.6 137.7h0M432.7 124.0h0M415.4 121.7h0M416.0 117.8h0M424.6 118.4h0M432.9 119.6h0M431.3 133.6h0M422.3 131.8h0M425.3 133.2h0M423.6 142.4h0M425.2 117.5h0M430.8 133.0h0M426.6 111.9h0M431.6 125.6h0M417.4 121.4h0M428.7 115.8h0M426.0 136.1h0M424.4 132.1h0M426.6 127.9h0M424.0 117.9h0M425.3 113.7h0M425.1 112.3h0M422.8 129.7h0M429.7 139.7h0M428.9 117.9h0M421.4 114.9h0M427.8 126.5h0M428.6 119.1h0M420.9 107.5h0M428.0 126.3h0M432.3 142.2h0M430.1 115.4h0M429.4 133.1h0M417.4 110.1h0M428.5 140.5h0M426.8 133.4h0M434.5 121.8h0M421.9 124.3h0M416.4 112.0h0M428.4 131.6h0M429.0 132.2h0M431.8 133.8h0M427.5 127.8h0M425.2 118.2h0M428.9 130.5h0M431.4 138.6h0M431.7 129.2h0M424.1 125.6h0M421.4 124.5h0M422.1 114.1h0M422.8 123.0h0M429.8 140.4h0M422.6 130.1h0M430.6 134.6h0M423.5 116.5h0M429.7 116.9h0M423.9 124.4h0M419.2 114.0h0M424.0 125.2h0M427.1 136.4h0M425.4 137.0h0M415.0 113.5h0M425.7 139.1h0M422.6 123.9h0M430.1 137.0h0M430.2 129.0h0M420.9 134.1h0M417.7 113.9h0M433.5 131.7h0M422.3 118.4h0M432.4 119.2h0M419.7 125.1h0M428.1 134.1h0M424.5 111.1h0M426.5 119.5h0M418.8 123.7h0M425.2 127.3h0M420.6 120.6h0M420.7 113.3h0M420.8 127.8h0M431.2 120.8h0M428.5 124.0h0M430.7 142.3h0M425.8 125.5h0M424.6 119.5h0M421.3 124.7h0M428.9 144.8h0M423.2 123.5h0M423.7 112.5h0M426.9 135.2h0M431.1 122.1h0M426.8 131.3h0M431.1 131.6h0M417.1 125.0h0M420.2 120.2h0M429.2 115.7h0M429.1 116.1h0M422.7 141.6h0M429.3 121.6h0M431.6 138.0h0M432.2 122.5h0M422.9 114.5h0M426.7 115.5h0M433.7 137.9h0M426.4 143.4h0M433.4 132.1h0M432.1 121.0h0M429.9 124.9h0M419.8 131.2h0M419.5 120.1h0M431.6 137.3h0M425.3 114.8h0M417.5 125.3h0M426.8 127.3h0M420.8 109.3h0M427.0 113.9h0M416.3 116.2h0M421.6 109.5h0M423.7 121.2h0M418.8 118.6h0M432.1 136.4h0M429.0 143.1h0M423.6 113.3h0M427.2 115.5h0M425.9 111.8h0M426.1 125.1h0M431.5 115.5h0M418.6 111.2h0M426.5 125.6h0M428.1 130.0h0M424.8 110.1h0M430.4 130.4h0M430.9 141.3h0M421.8 133.5h0M426.8 142.5h0M418.5 112.9h0M428.7 136.6h0M427.7 142.3h0M424.7 117.6h0M428.8 144.0h0M425.4 111.9h0M421.8 121.7h0M424.2 139.4h0M427.4 132.8h0M430.2 119.6h0M425.0 126.7h0M431.1 134.8h0M429.2 125.0h0M426.6 138.7h0M422.7 138.5h0M421.1 121.7h0M429.7 146.0h0M427.6 128.9h0M431.9 136.5h0M430.5 116.6h0M426.9 117.4h0M426.5 123.9h0M434.0 128.3h0M430.0 117.2h0M431.1 121.1h0M431.0 136.3h0M417.5 128.3h0M421.1 123.1h0M418.8 120.3h0M430.9 125.6h0M429.3 114.3h0M426.7 113.0h0M430.1 133.4h0M427.0 115.4h0M433.0 135.2h0M422.0 121.1h0M420.0 117.6h0M426.1 110.5h0M431.7 137.0h0M426.6 140.5h0M431.1 145.7h0M421.6 110.7h0M422.6 128.8h0M417.2 113.5h0M422.0 118.7h0M426.2 143.5h0M428.3 130.4h0M424.3 116.9h0M421.9 110.6h0M429.0 119.9h0M417.8 129.1h0M420.5 120.6h0M428.6 129.3h0M418.5 112.6h0M426.1 135.1h0M428.6 133.6h0M416.1 111.0h0M423.3 109.6h0M429.5 141.9h0M430.4 143.0h0M417.7 112.6h0M427.6 137.0h0M426.2 139.1h0M425.9 125.1h0M424.7 126.8h0M428.7 123.8h0M427.8 141.5h0M428.9 125.1h0M424.1 112.0h0M426.1 136.0h0M431.1 119.4h0M430.0 144.0h0M421.1 123.7h0M429.9 122.9h0M424.5 139.7h0M418.1 126.3h0M425.7 135.6h0M419.1 120.0h0M427.3 118.1h0M430.3 129.2h0M417.0 121.4h0M424.7 128.8h0M429.1 144.0h0M429.4 135.2h0M424.0 140.6h0M423.8 116.5h0M434.2 129.6h0M416.3 124.8h0M429.1 123.8h0M427.0 118.8h0M431.9 127.7h0M424.6 121.0h0M419.4 113.0h0M425.1 121.3h0M426.6 132.9h0M424.6 129.0h0M427.2 127.0h0M432.8 136.1h0M418.0 120.5h0M420.2 121.2h0M421.2 127.4h0M432.4 116.6h0M425.5 138.1h0M430.1 119.3h0M418.4 109.4h0M420.7 126.6h0M430.8 140.2h0M430.0 142.1h0M432.9 123.3h0M423.8 120.2h0M422.2 118.0h0M424.4 109.9h0M422.8 132.9h0M422.5 114.1h0M415.7 115.7h0M427.1 132.4h0M430.1 134.5h0M428.6 122.8h0M427.1 117.9h0M419.9 117.5h0M426.5 127.6h0M425.0 117.1h0M425.6 140.0h0M427.5 130.0h0M431.7 128.5h0M424.4 121.0h0M431.2 133.5h0M420.8 132.3h0M428.5 131.3h0M415.4 113.6h0M427.7 119.0h0M420.9 131.7h0M420.0 110.0h0M426.7 139.3h0M420.4 118.7h0M419.8 119.8h0M419.7 121.8h0M421.9 134.4h0M426.5 124.1h0M421.5 117.5h0M428.1 124.5h0M420.9 117.0h0M429.6 125.6h0M428.1 116.6h0M422.5 117.6h0M418.6 119.9h0M417.0 113.9h0M430.3 136.9h0M419.6 130.6h0M433.4 126.1h0M425.8 121.6h0M420.9 114.1h0M421.8 121.3h0M433.3 127.4h0M425.2 138.1h0M425.3 134.7h0M428.9 113.7h0M424.0 129.0h0M420.4 129.1h0M420.4 123.4h0M426.1 122.0h0M417.9 128.9h0M427.1 139.4h0M419.8 112.4h0M427.8 132.3h0M427.8 140.6h0M426.6 113.2h0M422.1 138.1h0M432.5 119.1h0M423.4 120.6h0M432.2 125.3h0M423.6 129.2h0M425.6 110.1h0M425.7 113.2h0M422.7 129.2h0M429.1 118.6h0M423.5 124.9h0M424.3 138.3h0M420.6 121.1h0M426.2 117.4h0M421.4 130.1h0M426.8 136.3h0M424.8 129.0h0M432.8 141.5h0M426.2 112.9h0M430.4 119.0h0M426.2 115.1h0M417.1 121.4h0M423.9 121.0h0M424.5 115.9h0M426.8 113.2h0M426.6 121.6h0M427.1 114.5h0M420.3 131.5h0M424.6 108.6h0M420.2 132.5h0M426.0 134.8h0M428.6 113.4h0M419.8 124.9h0M417.3 116.8h0M430.2 132.9h0M418.5 128.3h0M431.6 126.7h0M426.0 128.2h0M418.0 113.0h0M425.3 141.0h0M423.5 141.6h0M425.9 130.5h0M432.1 136.7h0M427.8 131.0h0M428.0 138.4h0M426.4 138.1h0M416.2 120.4h0M423.1 136.9h0M419.8 118.5h0M428.9 143.8h0M424.7 129.6h0M428.5 138.0h0M430.9 145.1h0M432.2 126.2h0M427.6 143.2h0M427.0 111.4h0M424.4 139.2h0M424.5 139.4h0M427.1 138.3h0M430.5 144.8h0M425.8 124.1h0M426.6 115.2h0M431.4 121.1h0M426.8 119.4h0M420.6 126.4h0M422.7 118.4h0M431.2 121.5h0M427.5 124.5h0M421.2 121.8h0M427.8 110.4h0M424.3 117.7h0M420.3 125.4h0M425.6 126.8h0M426.4 137.3h0M433.2 143.9h0M430.8 114.7h0" stroke="#FF63B6" stroke-width="1.45" stroke-linecap="round" fill="none"/>
<path d="M415.3 120.8h0M409.4 123.2h0M411.4 126.7h0M401.5 122.0h0M417.8 125.7h0M408.9 134.1h0M405.4 132.2h0M403.1 117.7h0M405.0 122.2h0M406.5 130.0h0M411.2 123.0h0M406.8 122.4h0M398.6 132.9h0M413.5 129.5h0M419.4 138.5h0M412.2 118.8h0M403.2 130.6h0M406.7 120.3h0M412.4 136.8h0M400.5 130.7h0M402.1 135.1h0M403.4 128.6h0M409.9 125.1h0M417.8 135.4h0M409.9 116.1h0M413.0 117.8h0M399.1 126.4h0M408.0 120.1h0M411.5 116.0h0M402.2 130.5h0M406.5 119.8h0M407.5 135.4h0M408.8 134.8h0M399.5 120.2h0M411.7 118.4h0M421.3 131.8h0M407.8 129.9h0M410.8 126.5h0M415.7 124.6h0M401.0 115.0h0M417.4 123.0h0M411.5 120.5h0M403.3 143.2h0M418.0 139.0h0M409.7 126.6h0M402.5 141.5h0M397.7 116.0h0M406.9 117.8h0M403.8 140.9h0M403.1 127.7h0M402.5 118.2h0M405.5 141.6h0M409.9 136.6h0M411.8 123.9h0M403.1 136.7h0M413.8 120.5h0M421.5 134.2h0M414.1 128.4h0M401.4 116.2h0M407.8 123.0h0M400.9 129.9h0M409.4 131.5h0M415.2 132.5h0M411.0 120.0h0M401.4 137.0h0M418.0 127.7h0M404.7 137.7h0M406.3 133.9h0M401.9 123.2h0M403.6 141.2h0M405.5 115.6h0M398.7 122.1h0M408.7 139.9h0M400.6 131.2h0M413.1 139.9h0M408.8 116.5h0M408.9 130.8h0M413.7 124.8h0M405.4 113.9h0M410.2 128.7h0M401.9 138.5h0M405.2 117.1h0M408.8 114.9h0M417.6 125.5h0M400.3 125.7h0M411.3 115.8h0M420.6 137.0h0M411.4 127.9h0M398.6 132.2h0M409.5 132.5h0M408.4 111.1h0M406.5 121.7h0M407.9 114.0h0M412.0 126.2h0M408.6 126.6h0M412.3 125.7h0M397.5 121.8h0M410.5 115.9h0M401.5 136.4h0M399.5 116.1h0M408.3 136.8h0M413.9 116.6h0M410.9 121.1h0M413.1 136.1h0M412.9 130.6h0M400.1 116.1h0M407.1 130.3h0M408.9 137.2h0M409.1 131.1h0M412.9 126.7h0M405.2 125.5h0M409.8 141.4h0M400.2 129.8h0M414.1 142.6h0M401.7 119.6h0M404.1 127.0h0M410.1 134.0h0M397.9 124.5h0M407.8 139.4h0M407.5 115.8h0M408.6 127.8h0M400.9 124.1h0M399.7 131.9h0M409.7 142.2h0M408.1 128.2h0M414.8 121.8h0M406.7 114.4h0M417.7 130.6h0M418.8 133.3h0M414.1 138.0h0M416.3 128.4h0M409.3 140.4h0M412.9 137.4h0M406.2 114.1h0M406.3 134.6h0M412.8 134.2h0M408.9 139.8h0M412.5 131.1h0M410.6 115.2h0M400.8 123.8h0M409.4 138.6h0M416.2 119.9h0M397.8 118.6h0M414.3 129.6h0M422.2 138.6h0M420.3 139.7h0M401.7 122.4h0M400.1 127.1h0M415.5 139.5h0M401.0 118.6h0M411.5 119.7h0M406.5 128.9h0M412.4 128.7h0M406.4 137.1h0M407.9 128.6h0M415.7 141.1h0M413.6 135.2h0M400.8 138.7h0M413.3 136.4h0M408.5 123.1h0M402.0 142.4h0M410.8 125.4h0M405.3 131.4h0M404.6 118.4h0M413.0 122.2h0M419.3 141.0h0M414.7 130.8h0M406.4 126.5h0M405.9 117.8h0M401.4 120.6h0M407.1 130.3h0M396.6 124.7h0M408.9 136.0h0M411.6 142.2h0M402.7 131.5h0M402.2 131.1h0M413.6 124.7h0M409.9 127.1h0M419.6 133.6h0M409.7 140.2h0M404.3 131.9h0M398.9 115.5h0M416.0 125.7h0M413.3 138.0h0M406.8 144.4h0M415.6 143.0h0M402.9 121.4h0M410.8 142.7h0M415.9 125.6h0M399.7 133.1h0M409.3 130.9h0M406.8 136.8h0M416.7 139.4h0M418.7 136.9h0M404.7 118.5h0M414.4 132.4h0M402.7 117.4h0M407.2 124.9h0M407.2 125.2h0M413.9 136.2h0M415.0 134.1h0M409.2 136.4h0M404.5 136.7h0M398.8 119.8h0M417.8 133.4h0M410.7 121.3h0M405.5 125.7h0M417.4 139.3h0M408.1 110.9h0M411.1 117.7h0M401.3 128.9h0M411.9 122.1h0M410.3 132.4h0M413.9 127.9h0M399.0 123.2h0M402.5 122.8h0M413.5 122.8h0M414.8 138.2h0M414.1 128.2h0M411.2 124.2h0M415.0 131.6h0M412.7 116.9h0M405.9 126.8h0M417.9 128.3h0M418.1 131.4h0M417.1 122.1h0M409.3 119.9h0M402.4 127.2h0M408.8 138.3h0M400.6 127.0h0M416.0 128.4h0M411.4 140.7h0M400.2 130.3h0M402.0 114.9h0M411.8 117.7h0M407.5 120.7h0M406.8 137.4h0M410.1 130.4h0M403.5 112.1h0M405.5 140.6h0M401.1 127.3h0M419.3 131.7h0M411.2 128.4h0M400.3 120.8h0M416.4 129.3h0M416.4 122.6h0M413.3 126.4h0M407.4 129.1h0M405.1 117.0h0M406.3 136.9h0M418.4 132.1h0M401.4 127.6h0M413.1 133.4h0M420.0 139.8h0M400.3 124.4h0M418.3 136.1h0M403.2 124.8h0M416.1 135.4h0M404.0 133.1h0M399.9 136.1h0M412.0 128.2h0M413.3 141.9h0M410.7 121.0h0M410.9 120.2h0M404.3 128.3h0M415.3 138.9h0M412.8 132.5h0M416.1 135.1h0M407.5 124.9h0M399.0 126.9h0M409.9 115.1h0M415.1 138.8h0M401.4 121.3h0M414.1 123.7h0M412.4 125.5h0M406.2 125.3h0M397.4 125.4h0M398.4 128.1h0M413.8 119.6h0M404.8 130.0h0M406.4 111.5h0M418.1 132.2h0M412.2 137.9h0M422.9 138.2h0M410.9 116.5h0M409.1 134.8h0M416.6 140.5h0M409.6 114.7h0M397.9 124.1h0M408.3 139.4h0M407.7 135.8h0M417.5 128.4h0M420.5 137.4h0M410.7 138.0h0M409.8 138.6h0M406.5 113.6h0M408.3 125.7h0M412.1 124.9h0M399.5 130.3h0M408.8 123.8h0M418.5 136.6h0M411.6 120.0h0M413.5 123.8h0M397.5 128.4h0M411.0 118.5h0M405.5 134.3h0M410.9 115.4h0M412.9 125.1h0M401.8 116.9h0M403.2 133.4h0M412.3 128.8h0M414.7 139.1h0M413.8 132.4h0M402.7 128.1h0M416.0 125.4h0M404.1 132.5h0M405.4 141.8h0M412.2 132.2h0M411.2 131.9h0M416.7 138.5h0M414.0 130.2h0M413.8 139.5h0M411.8 128.5h0M408.6 134.3h0M419.6 134.1h0M401.4 121.4h0M412.8 142.5h0M411.0 122.3h0M412.5 127.0h0M418.4 135.8h0M402.9 121.4h0M402.9 128.4h0M415.5 127.2h0M403.8 136.1h0M415.5 128.6h0M403.4 131.0h0M401.3 113.7h0M407.1 125.0h0M405.2 115.3h0M416.0 120.0h0M419.4 136.1h0M413.3 134.5h0M410.3 130.2h0M410.0 121.2h0M414.6 116.7h0M414.7 131.1h0M408.6 134.3h0M402.5 122.7h0M418.6 133.0h0M401.9 125.3h0M404.5 132.0h0M412.8 113.4h0M412.0 130.5h0M400.9 123.4h0M401.5 129.3h0M409.7 122.3h0M406.7 122.5h0M417.3 140.8h0M407.3 122.5h0M403.0 117.6h0M415.7 120.3h0M405.3 130.4h0M415.9 128.7h0M415.1 128.9h0M406.8 137.9h0M407.1 135.0h0M411.3 129.4h0M401.1 114.5h0M405.7 131.1h0M415.9 135.4h0M400.7 130.4h0M414.0 124.7h0M402.9 126.6h0M410.7 142.4h0M414.1 138.5h0M419.3 136.2h0M407.7 129.0h0M404.4 114.6h0M415.6 117.4h0M404.1 125.3h0M404.8 125.8h0M413.6 135.9h0M405.1 131.0h0M408.6 141.1h0M406.3 116.8h0M418.4 135.2h0M405.4 117.0h0M413.3 128.1h0M407.6 113.6h0M413.5 135.7h0M401.1 133.6h0M407.2 124.7h0M407.4 123.5h0M411.6 119.9h0M406.9 125.8h0M419.2 132.0h0M408.3 130.2h0M403.8 131.7h0M419.1 128.5h0M405.1 136.4h0M415.5 131.5h0M407.5 135.8h0M400.0 128.2h0M412.4 135.1h0M400.5 125.0h0M402.1 131.6h0M408.5 125.5h0M407.6 126.6h0M409.2 126.5h0M407.6 112.2h0M398.9 125.3h0M403.2 113.4h0M401.7 135.7h0M402.7 138.7h0M404.5 127.8h0M409.3 132.8h0M406.0 131.2h0M398.5 124.2h0M414.7 129.4h0M406.6 121.5h0M401.2 120.5h0M413.5 143.4h0M409.5 134.6h0M402.2 130.4h0M407.8 139.9h0M406.8 113.4h0M408.4 138.3h0M402.8 144.3h0M406.0 114.7h0M403.4 138.3h0M407.6 114.9h0M417.7 133.0h0M413.4 118.7h0M405.7 122.7h0M421.9 132.2h0M408.4 116.0h0M405.6 114.1h0M414.9 122.7h0M401.6 135.9h0M412.2 118.9h0M399.6 126.4h0M407.7 135.3h0M403.6 139.5h0M402.1 132.8h0M420.0 130.3h0M419.0 133.5h0M421.4 137.3h0M411.3 120.2h0M409.8 127.0h0M409.9 115.6h0M405.5 142.1h0M400.2 132.7h0M401.0 115.4h0M408.1 132.0h0M414.5 140.9h0M415.1 124.7h0M419.1 130.6h0M402.5 141.5h0M403.7 112.1h0M402.3 140.6h0M413.8 117.4h0M419.9 135.7h0M410.6 138.1h0M405.2 138.9h0M414.5 136.5h0" stroke="#00A6FF" stroke-width="1.45" stroke-linecap="round" fill="none"/>
<path d="M422.6 163.5h0M422.8 151.7h0M422.9 159.9h0M411.5 160.2h0M413.9 162.1h0M403.5 151.6h0M423.9 155.2h0M409.6 149.1h0M422.1 163.8h0M415.7 152.8h0M421.4 142.9h0M416.0 140.9h0M423.0 150.5h0M408.2 149.2h0M415.5 142.0h0M407.1 146.5h0M404.5 147.9h0M413.0 154.5h0M415.3 144.6h0M422.2 144.3h0M412.6 156.8h0M414.1 152.8h0M415.5 147.3h0M414.7 146.2h0M409.6 160.3h0M418.0 148.8h0M419.1 157.5h0M423.3 154.3h0M417.0 147.2h0M422.2 156.7h0M411.8 160.7h0M419.5 143.8h0M424.3 159.1h0M420.8 163.0h0M426.3 149.3h0M420.6 155.8h0M422.3 162.3h0M421.7 157.7h0M404.2 150.3h0M407.0 153.3h0M417.9 150.4h0M407.2 155.1h0M406.5 154.1h0M427.8 150.1h0M407.0 144.7h0M422.3 156.2h0M404.9 149.4h0M418.5 147.3h0M421.2 162.6h0M414.8 156.7h0M415.2 152.5h0M427.6 160.4h0M408.1 146.5h0M413.4 158.0h0M410.6 151.4h0M416.9 145.7h0M412.4 154.6h0M408.8 152.4h0M417.6 147.1h0M404.8 145.1h0M403.5 150.2h0M409.1 155.2h0M418.0 159.7h0M425.7 162.2h0M416.3 158.0h0M417.0 154.3h0M417.0 153.1h0M414.5 158.6h0M417.3 145.7h0M404.9 151.0h0M425.6 141.5h0M423.8 159.1h0M420.0 151.9h0M408.6 143.3h0M423.4 157.2h0M416.2 143.3h0M416.8 158.9h0M423.2 155.7h0M422.6 158.7h0M418.4 146.2h0M414.6 156.6h0M421.1 147.5h0M418.5 158.3h0M406.9 150.4h0M418.0 145.7h0M410.5 149.0h0M408.6 148.0h0M415.7 160.8h0M416.5 155.4h0M415.7 144.7h0M422.2 154.3h0M425.2 163.1h0M418.8 142.6h0M416.3 143.7h0M417.6 142.7h0M420.1 146.6h0M428.2 149.0h0M412.2 160.9h0M412.0 148.2h0M413.2 150.1h0M416.3 151.3h0M421.3 141.0h0M423.8 151.7h0M425.7 156.3h0M411.5 159.0h0M404.8 148.2h0M404.1 152.8h0M411.4 150.1h0M406.8 143.8h0M417.2 144.9h0M415.8 147.9h0M417.1 159.7h0M418.5 140.1h0M414.0 157.2h0M425.3 146.9h0M428.0 142.7h0M424.3 140.8h0M422.4 154.7h0M420.9 151.9h0M417.6 161.0h0M423.3 157.8h0M406.1 148.7h0M414.5 152.6h0M421.6 148.0h0M419.0 154.4h0M407.7 153.5h0M408.6 156.9h0M412.8 154.5h0M417.0 141.7h0M410.6 159.6h0M417.9 158.2h0M416.1 145.9h0M425.2 148.4h0M419.8 154.9h0M424.5 139.6h0M427.5 147.1h0M402.8 152.8h0M422.8 159.9h0M427.0 154.6h0M413.7 142.1h0M416.4 148.6h0M420.7 155.7h0M408.8 154.0h0M425.7 164.7h0M415.2 145.1h0M412.4 152.0h0M405.3 154.5h0M421.4 150.3h0M425.7 145.4h0M426.2 156.6h0M419.9 153.8h0M402.6 148.4h0M405.4 150.7h0M426.4 159.0h0M420.7 157.5h0M404.3 152.7h0M419.6 154.8h0M422.4 143.7h0M422.9 164.2h0M421.8 143.4h0M423.2 155.3h0M428.4 156.7h0M408.3 142.9h0M426.5 145.8h0M420.2 148.2h0M413.6 146.5h0M419.7 139.3h0M405.1 146.9h0M410.0 145.6h0M415.9 143.0h0M424.1 151.4h0M405.0 144.8h0M413.0 144.6h0M410.4 153.8h0M419.5 165.3h0M427.0 146.9h0M426.5 155.4h0M418.8 145.9h0M416.0 163.2h0M418.3 157.1h0M413.4 148.1h0M412.3 152.5h0M416.0 149.9h0M418.7 141.1h0M424.7 154.0h0M404.4 143.3h0M415.9 152.9h0M420.3 147.8h0M415.5 147.1h0M419.9 139.6h0M424.5 148.0h0M409.8 146.1h0M411.8 142.0h0M424.9 162.6h0M420.5 146.5h0M404.2 150.9h0M412.4 160.1h0M421.8 158.1h0M428.5 157.0h0M423.5 155.0h0M406.4 154.2h0M411.7 146.7h0M426.5 155.9h0M419.5 161.2h0M409.1 147.3h0M421.5 161.0h0M424.9 158.8h0M424.6 155.8h0M424.9 163.4h0M426.1 158.7h0M410.0 144.9h0M427.8 158.6h0M424.3 154.0h0M412.8 151.0h0M413.4 151.1h0M403.6 151.7h0M420.5 163.1h0M426.6 156.1h0M403.3 150.9h0M426.6 156.3h0M421.6 157.9h0M415.5 162.6h0M406.1 141.8h0M407.7 146.7h0M426.4 152.6h0M429.5 151.3h0M422.3 139.0h0M413.2 159.5h0M409.5 144.6h0M413.3 159.5h0M413.8 152.7h0M416.8 149.2h0M417.4 153.3h0M418.7 144.7h0M414.8 141.8h0M408.1 142.7h0M424.7 163.3h0M407.8 154.3h0M423.3 150.2h0M408.6 145.5h0M417.8 160.4h0M408.7 155.7h0M415.4 152.7h0M412.1 157.1h0M421.2 163.7h0M424.5 146.0h0M421.4 147.5h0M413.7 148.0h0M417.5 163.9h0M417.5 143.4h0M422.0 141.6h0M403.3 143.1h0M408.7 148.1h0M409.9 145.4h0M407.8 156.2h0M421.5 138.2h0M419.5 159.0h0M412.4 147.7h0M411.6 157.3h0M416.8 148.4h0M419.0 153.0h0M409.8 161.2h0M419.2 149.9h0M414.8 144.5h0M420.1 151.2h0M405.0 160.8h0M422.1 158.8h0M417.3 144.9h0M406.8 154.5h0M407.1 154.4h0M414.5 159.7h0M419.3 142.5h0M408.5 153.6h0M427.0 149.0h0M414.7 159.3h0M410.8 155.1h0M414.8 153.7h0M414.0 146.4h0M418.3 150.4h0M419.3 145.8h0M428.4 149.8h0M419.2 160.2h0M409.7 144.3h0M420.1 154.6h0M407.0 150.5h0M414.0 161.6h0M413.0 154.6h0M413.4 162.0h0M426.8 153.4h0M408.5 149.4h0M413.5 162.8h0M415.7 164.0h0M424.2 154.0h0M403.5 149.8h0M414.5 150.8h0M423.3 157.0h0M415.9 145.4h0M406.8 158.4h0M414.6 155.6h0M422.2 156.4h0M410.7 143.8h0M417.0 156.9h0M408.8 148.5h0M413.3 159.5h0M424.5 143.2h0M425.8 162.7h0M425.3 155.8h0M415.7 150.5h0M413.1 162.5h0M419.1 151.6h0M414.7 148.4h0M425.5 156.1h0M411.7 141.2h0M418.6 143.4h0M422.4 150.9h0M422.8 154.3h0M422.8 161.1h0M406.3 142.3h0M424.9 148.4h0M416.7 156.5h0M414.1 143.9h0M420.0 154.7h0M415.1 144.0h0M426.9 153.9h0M414.2 141.8h0M409.3 154.2h0M412.4 155.2h0M423.7 160.9h0M405.8 145.0h0M426.8 158.6h0M427.8 153.4h0M411.6 153.9h0M410.3 154.4h0M405.6 151.1h0M411.6 145.9h0M405.6 143.9h0M407.4 156.0h0M417.6 144.2h0M417.7 162.5h0M416.7 162.1h0M420.5 152.2h0M406.3 150.4h0M415.8 149.0h0M413.9 159.3h0M407.9 148.2h0M426.0 161.8h0M407.3 153.9h0M426.3 150.5h0M415.1 153.8h0M415.6 163.4h0M425.4 147.5h0M413.6 145.8h0M412.0 152.9h0M413.7 161.7h0M423.6 145.7h0M408.8 155.0h0M420.4 159.8h0M425.6 157.4h0M420.3 159.2h0M417.4 152.0h0M412.9 156.8h0M421.4 143.9h0M422.4 148.8h0M416.8 157.0h0M421.3 154.7h0M407.8 150.4h0M429.6 149.6h0M415.2 160.2h0M424.5 146.7h0M409.9 160.4h0M407.1 143.6h0M420.7 164.3h0M424.6 165.5h0M422.1 157.9h0M427.3 155.0h0M426.4 160.7h0M424.5 162.5h0M410.1 154.0h0M416.6 157.7h0M417.8 143.7h0M418.9 150.0h0M406.7 145.0h0M411.0 161.5h0M417.4 156.4h0M410.4 146.4h0M409.7 149.6h0M407.6 156.8h0M421.7 154.5h0M410.4 150.7h0M424.2 149.7h0M408.8 151.0h0M407.1 147.7h0M416.5 159.0h0M405.5 146.1h0M421.4 151.2h0M426.5 147.1h0M426.1 152.2h0M412.8 147.8h0M407.9 142.7h0M415.1 146.9h0M411.6 142.8h0M413.3 154.1h0M406.0 155.2h0M405.3 159.0h0M424.2 160.2h0M417.9 161.0h0M425.7 157.8h0M424.8 143.6h0M424.0 160.4h0M406.0 146.2h0M416.3 155.2h0M408.7 146.4h0M429.5 148.5h0M424.2 146.4h0M423.5 141.0h0M422.4 149.9h0M424.3 161.0h0M410.9 159.1h0M403.8 150.3h0M408.0 149.6h0M411.0 147.2h0M415.9 143.3h0M410.7 151.9h0M424.3 144.3h0M413.5 158.7h0M402.1 148.4h0M429.6 150.5h0M407.2 151.5h0M412.9 158.8h0M415.2 150.6h0M417.2 158.8h0M423.4 157.7h0M412.6 150.4h0M416.0 158.0h0M419.4 145.1h0M418.5 149.4h0M416.3 161.5h0M415.0 143.9h0M411.2 143.1h0M417.6 148.9h0M417.5 157.6h0M415.6 163.7h0M413.4 156.9h0M422.3 165.4h0M416.9 147.0h0M420.8 152.1h0M423.6 164.9h0M414.5 152.3h0M424.3 159.1h0M425.5 147.2h0M428.8 149.3h0M411.5 155.8h0M420.1 155.1h0M420.7 151.2h0M411.4 158.8h0M413.6 146.1h0M411.8 149.2h0M412.4 163.3h0M408.9 154.6h0M407.5 158.5h0M417.8 160.9h0M417.5 147.5h0M415.7 146.3h0M418.2 151.9h0M416.5 157.7h0M422.0 155.7h0M427.1 153.7h0M423.2 158.9h0M411.7 162.0h0M407.7 153.5h0M417.2 162.2h0M414.4 151.4h0M409.4 150.6h0M423.6 152.4h0M422.6 141.1h0M405.4 148.2h0M423.2 143.7h0M415.3 144.4h0M423.7 152.6h0M416.6 143.9h0M410.0 145.5h0M410.2 145.2h0M416.9 142.5h0M415.1 142.5h0M415.9 150.0h0M404.9 152.4h0M412.1 152.1h0M417.9 147.8h0M404.1 150.2h0M413.5 158.7h0M408.1 156.5h0M410.1 156.2h0M425.8 165.8h0M409.0 153.5h0M425.0 163.0h0M408.1 145.5h0M417.2 162.3h0M423.7 163.2h0M428.0 157.1h0M412.2 159.6h0M411.6 143.6h0M419.3 152.4h0M413.3 151.6h0M420.8 162.6h0M412.4 152.9h0M419.7 147.9h0M408.6 157.8h0M419.5 160.3h0M419.9 152.2h0M420.6 149.1h0M418.6 164.2h0M413.4 147.3h0M406.8 150.1h0M405.3 143.8h0M416.4 145.2h0M417.4 142.0h0M426.1 154.4h0M411.1 149.3h0M422.4 142.8h0M421.0 155.1h0M420.2 145.3h0M417.4 144.5h0M419.7 137.7h0M420.4 140.1h0M414.3 147.2h0M422.7 147.8h0M427.1 152.1h0M428.4 158.3h0M417.9 156.0h0M412.3 142.8h0M408.5 150.5h0M423.5 162.5h0M412.4 151.2h0M415.2 152.2h0M416.1 151.4h0M408.3 160.5h0M418.9 153.2h0M412.9 141.7h0M417.9 164.4h0M407.5 153.3h0M426.9 141.4h0M421.5 157.6h0M411.6 142.5h0M416.3 162.3h0M422.2 151.8h0M411.4 163.1h0M425.5 157.1h0M426.0 163.7h0M424.8 152.4h0M403.5 148.0h0M416.8 142.1h0M411.4 144.6h0M408.2 145.5h0M419.5 145.5h0M402.1 146.9h0M412.4 147.1h0M414.5 159.0h0M424.7 165.9h0M422.7 151.2h0M418.0 150.4h0M420.6 165.5h0M415.2 148.7h0M412.7 153.1h0M403.4 146.4h0M405.2 153.6h0M420.8 145.6h0M422.0 166.2h0M416.7 160.5h0M419.3 166.4h0M415.7 158.7h0M411.5 147.8h0M426.4 151.2h0M417.1 146.8h0M423.3 143.1h0M421.9 141.7h0M421.8 155.3h0M413.7 146.5h0M421.9 146.0h0M425.0 158.8h0M416.7 144.8h0M423.7 150.5h0M417.2 144.1h0" stroke="#00A6FF" stroke-width="1.45" stroke-linecap="round" fill="none"/>
<path d="M405.4 89.0h0M411.8 105.6h0M403.8 105.1h0M401.1 104.7h0M417.4 94.4h0M423.1 89.8h0M400.7 112.6h0M406.3 101.0h0M415.2 92.4h0M420.3 91.0h0M410.6 84.9h0M404.2 106.0h0M399.5 111.1h0M422.0 97.9h0M405.0 99.3h0M408.5 108.4h0M426.3 91.7h0M417.0 89.1h0M414.8 94.9h0M411.5 101.8h0M420.8 92.0h0M403.9 94.0h0M405.6 109.0h0M412.3 99.8h0M405.8 94.0h0M425.6 88.5h0M408.5 89.0h0M419.3 98.1h0M420.1 95.3h0M408.9 98.4h0M410.7 100.2h0M409.0 107.0h0M418.5 91.2h0M401.7 102.7h0M404.6 102.0h0M416.4 84.4h0M405.8 104.5h0M425.3 87.5h0M411.4 90.7h0M410.7 96.0h0M419.4 98.3h0M412.3 94.7h0M415.1 103.2h0M399.4 109.8h0M410.9 88.7h0M415.7 97.6h0" stroke="#fff" stroke-width="1.0" stroke-linecap="round" fill="none"/>
<path d="M439.5 92.1h0M441.1 102.7h0M439.7 97.3h0M435.0 109.1h0M441.1 108.1h0M445.8 96.7h0M449.0 122.2h0M438.4 101.1h0M440.3 117.2h0M443.1 119.7h0M426.8 98.2h0M426.1 92.9h0M443.7 105.8h0M435.9 101.6h0M430.3 105.1h0M439.9 112.1h0M435.4 106.4h0M436.0 95.8h0M436.6 109.9h0M429.2 99.3h0M429.0 103.2h0M441.1 109.9h0M449.1 118.3h0M442.1 115.2h0M425.2 89.1h0M436.3 113.1h0M452.8 109.1h0M443.5 93.7h0M431.9 103.0h0M429.7 94.7h0M441.1 107.0h0M435.5 100.6h0M441.7 104.1h0M433.1 104.5h0M451.1 105.8h0M443.3 109.1h0M442.9 118.4h0M438.3 96.0h0M445.9 115.7h0M450.6 120.7h0M437.1 108.5h0M427.6 94.3h0M441.1 102.1h0M429.7 91.3h0M442.9 117.7h0M448.4 100.5h0M438.9 117.6h0M437.1 107.5h0M439.4 92.8h0M432.8 99.5h0M446.8 98.1h0M449.4 105.3h0M429.7 93.3h0M440.3 100.7h0M424.5 86.9h0M453.0 117.4h0M445.3 104.9h0M442.4 119.2h0M425.0 88.2h0" stroke="#fff" stroke-width="1.0" stroke-linecap="round" fill="none"/>
<path d="M468.9 136.6h0M460.5 133.9h0M467.2 121.4h0M469.0 139.6h0M464.6 129.8h0M466.3 117.7h0M459.8 125.2h0M468.4 139.6h0M465.2 116.2h0M463.2 124.8h0M461.8 116.8h0M474.2 127.2h0M475.0 128.2h0M466.2 130.1h0M466.8 129.8h0M466.0 136.9h0M464.2 122.4h0M470.6 129.9h0M467.2 138.0h0M466.0 130.1h0M465.6 118.8h0M472.9 134.5h0M470.5 138.5h0M461.3 134.9h0M468.3 120.0h0M471.8 123.2h0M472.9 125.9h0M462.2 136.4h0M464.1 123.4h0M462.2 117.0h0M462.2 118.0h0M474.3 132.8h0M463.1 136.8h0M464.9 114.7h0" stroke="#fff" stroke-width="1.0" stroke-linecap="round" fill="none"/>
<path d="M450.3 149.5h0M455.0 138.1h0M450.9 144.2h0M444.2 151.7h0M446.5 149.4h0M454.3 146.4h0M455.7 137.7h0M443.7 138.8h0M456.8 141.6h0M451.4 131.6h0M440.4 137.6h0M445.4 138.0h0M455.4 150.6h0M448.3 132.0h0M448.3 131.3h0M444.3 137.2h0M445.0 154.7h0M452.5 142.9h0M442.3 137.1h0M457.5 143.5h0M447.7 147.7h0M449.9 147.5h0M446.2 126.7h0M440.3 135.0h0M451.8 152.9h0M451.2 131.0h0M445.2 147.9h0M446.9 157.7h0M452.5 156.3h0M457.1 141.6h0M439.8 128.5h0M451.5 138.3h0M442.5 145.6h0M446.0 131.0h0M454.2 143.4h0M442.0 131.5h0" stroke="#fff" stroke-width="1.0" stroke-linecap="round" fill="none"/>
<path d="M437.2 159.5h0M436.7 150.8h0M435.7 151.1h0M433.6 152.2h0M427.7 169.5h0M440.4 149.9h0M441.9 163.0h0M442.2 149.9h0M434.4 161.6h0M439.4 152.9h0M426.1 168.2h0M439.6 165.3h0M423.8 167.6h0M425.8 166.2h0M428.3 172.9h0M442.3 155.7h0M442.6 156.4h0M435.3 157.5h0M431.5 160.5h0M433.8 157.9h0M434.9 149.2h0M433.9 160.7h0M442.0 158.9h0M433.2 155.1h0M431.2 157.8h0M440.3 146.7h0M429.2 174.1h0M440.7 156.1h0M428.5 169.0h0M425.9 169.0h0M441.7 156.2h0M429.8 161.9h0" stroke="#fff" stroke-width="1.0" stroke-linecap="round" fill="none"/>
<path d="M425.4 113.9h0M422.0 117.7h0M424.3 115.6h0M427.9 132.8h0M426.0 137.9h0M423.2 119.1h0M433.6 131.4h0M421.4 131.1h0M427.7 126.2h0M427.1 136.8h0M430.7 120.9h0M422.9 126.0h0M428.5 113.1h0M429.4 134.5h0M429.6 129.6h0M420.1 113.3h0M426.8 112.4h0M424.6 129.1h0M424.0 134.5h0M426.2 134.3h0M422.2 124.7h0M431.7 124.5h0M430.0 136.6h0M417.9 114.5h0M426.7 137.0h0M432.2 124.5h0M430.8 125.8h0M426.7 131.4h0M430.5 122.3h0M430.0 123.0h0M422.1 112.9h0M428.3 121.0h0M423.9 120.1h0M429.1 120.3h0M423.2 115.5h0M429.5 134.8h0M421.3 122.0h0M432.0 122.0h0M424.4 124.5h0M427.9 119.4h0M433.0 132.5h0M427.7 141.7h0M421.7 128.1h0M421.0 132.6h0M425.0 132.2h0M424.4 135.2h0M425.5 132.9h0M433.3 126.2h0M420.6 122.4h0M427.9 133.9h0M426.8 141.9h0M425.5 140.7h0M428.4 116.8h0M427.2 121.2h0" stroke="#fff" stroke-width="1.0" stroke-linecap="round" fill="none"/>
<path d="M403.6 116.3h0M413.2 126.9h0M398.9 121.3h0M403.4 142.0h0M412.7 125.7h0M418.7 130.2h0M410.0 117.5h0M400.7 129.0h0M404.0 119.3h0M399.2 127.3h0M404.8 121.0h0M420.3 132.9h0M402.0 142.0h0M402.2 125.4h0M414.8 140.9h0M399.0 124.0h0M412.6 127.3h0M399.0 116.7h0M410.7 114.6h0M417.4 137.0h0M411.5 136.1h0M406.2 133.0h0M401.2 120.4h0M415.5 137.0h0M410.6 115.9h0M406.2 124.4h0M415.2 134.0h0M415.7 119.8h0M417.2 123.0h0M414.8 120.2h0M408.2 113.7h0M400.4 115.1h0M419.6 135.8h0M414.5 134.1h0M407.0 126.4h0M415.7 123.7h0M409.5 136.1h0M401.5 122.7h0M420.2 133.1h0M407.8 118.4h0M402.1 113.9h0M419.3 130.5h0M411.3 139.5h0M410.6 127.3h0M411.2 129.8h0M404.0 138.4h0M409.5 128.0h0M404.7 116.9h0M412.3 124.8h0M407.0 136.5h0M405.8 125.9h0M413.0 133.7h0M401.1 125.8h0M418.3 132.0h0M411.5 138.6h0M405.0 127.2h0M401.0 126.5h0M400.2 130.1h0M403.5 125.9h0M413.2 122.7h0M412.5 127.2h0M416.2 129.5h0M417.1 133.7h0M407.2 121.0h0M410.7 131.5h0M397.6 122.9h0M416.0 123.8h0M404.0 126.6h0M407.7 121.9h0M406.8 134.7h0M400.7 116.0h0M404.0 130.1h0M402.5 141.6h0M405.3 125.0h0M411.4 128.3h0M402.1 135.3h0M401.6 122.9h0M413.2 129.4h0M408.9 143.0h0M406.5 121.1h0M399.0 123.0h0M410.7 118.6h0M415.2 133.6h0M398.2 117.2h0M400.4 129.6h0M398.0 123.5h0M415.9 125.1h0M401.4 135.2h0M411.1 127.6h0M411.0 130.1h0M412.3 132.4h0M401.2 122.4h0M405.1 125.1h0M403.9 140.0h0M403.0 128.1h0M417.3 139.4h0M407.0 138.5h0M403.6 118.4h0M407.8 112.7h0M402.4 117.7h0M410.2 125.9h0M411.1 134.1h0M408.7 117.1h0M412.3 120.7h0M406.9 117.7h0M416.5 136.7h0M403.3 119.8h0M419.1 131.4h0M416.4 131.7h0" stroke="#fff" stroke-width="1.0" stroke-linecap="round" fill="none"/>
<path d="M417.7 161.4h0M403.2 149.5h0M423.5 156.5h0M421.7 159.7h0M426.6 144.5h0M421.1 154.3h0M421.1 152.8h0M425.9 146.0h0M426.4 153.4h0M417.4 150.1h0M426.3 153.2h0M425.7 158.2h0M421.6 141.5h0M423.0 149.9h0M409.5 143.8h0M422.5 158.3h0M407.0 152.0h0M422.5 166.4h0M426.0 152.7h0M421.8 150.7h0M405.2 145.7h0M416.5 140.9h0M424.0 149.3h0M420.2 140.5h0M419.6 153.8h0M423.5 161.1h0M427.4 156.2h0M423.3 144.7h0M416.5 150.8h0M418.4 163.0h0M420.7 158.8h0M406.7 150.2h0M409.2 155.2h0M423.4 151.8h0M415.2 156.7h0M414.0 148.5h0M419.8 144.9h0M417.3 154.7h0M410.8 148.3h0M417.2 143.6h0" stroke="#fff" stroke-width="1.0" stroke-linecap="round" fill="none"/>
<circle cx="47.5" cy="246.3" r="3.2" fill="#F8766D"/>
<text x="59.5" y="248.9" font-size="7.4">B_cells</text>
<circle cx="47.5" cy="260" r="3.2" fill="#DB8E00"/>
<text x="59.5" y="262.6" font-size="7.4">Cytotoxicity_Lymphocytes</text>
<circle cx="47.5" cy="273.3" r="3.2" fill="#AEA200"/>
<text x="59.5" y="275.9" font-size="7.4">Dendritic_cells</text>
<circle cx="155.5" cy="246.3" r="3.2" fill="#64B200"/>
<text x="167.5" y="248.9" font-size="7.4">Exhausted_CD8+_T cells</text>
<circle cx="155.5" cy="260" r="3.2" fill="#00BD5C"/>
<text x="167.5" y="262.6" font-size="7.4">Exhausted_HS_CD8+_T cells</text>
<circle cx="155.5" cy="273.3" r="3.2" fill="#00C1A7"/>
<text x="167.5" y="275.9" font-size="7.4">Lymphocytes</text>
<circle cx="278.5" cy="246.3" r="3.2" fill="#00BADE"/>
<text x="290" y="248.9" font-size="7.4">Lymphocytes_exhausted/cell_cycle</text>
<circle cx="278.5" cy="260" r="3.2" fill="#00A6FF"/>
<text x="290" y="262.6" font-size="7.4">Memory_T cells</text>
<circle cx="278.5" cy="273.3" r="3.2" fill="#B385FF"/>
<text x="290" y="275.9" font-size="7.4">Monocytes/macrophages</text>
<circle cx="416" cy="246.3" r="3.2" fill="#EF67EB"/>
<text x="428.5" y="248.9" font-size="7.4">Plasma_cells</text>
<circle cx="416" cy="260" r="3.2" fill="#FF63B6"/>
<text x="428.5" y="262.6" font-size="7.4">Regulatory_T cells</text>
<!-- Panel B -->
<text x="1.2" y="302.9" font-size="13" font-weight="bold" stroke="#000" stroke-width="0.3">B</text>
<path d="M44.3 305.5V452.6H192" stroke="#000" stroke-width="1" fill="none"/>
<path d="M41.0 315.8h3M41.0 352.3h3M41.0 389h3M41.0 425.8h3M73.7 452.6v3.3M104.3 452.6v3.3M134.6 452.6v3.3M165 452.6v3.3" stroke="#000" stroke-width="1" fill="none"/>
<g stroke="#000" stroke-width="0.22">
<text transform="translate(35.3 319.40000000000003) scale(1.3 1)" font-size="10" text-anchor="end">10</text>
<text transform="translate(35.3 355.90000000000003) scale(1.3 1)" font-size="10" text-anchor="end">5</text>
<text transform="translate(35.3 392.6) scale(1.3 1)" font-size="10" text-anchor="end">0</text>
<text transform="translate(35.3 429.40000000000003) scale(1.3 1)" font-size="10" text-anchor="end">−5</text>
<text transform="translate(73.7 464.90000000000003) scale(1.3 1)" font-size="10" text-anchor="middle">−10</text>
<text transform="translate(104.3 464.90000000000003) scale(1.3 1)" font-size="10" text-anchor="middle">−5</text>
<text transform="translate(134.6 464.90000000000003) scale(1.3 1)" font-size="10" text-anchor="middle">0</text>
<text transform="translate(165 464.90000000000003) scale(1.3 1)" font-size="10" text-anchor="middle">5</text>
</g>
<text font-size="12" text-anchor="middle" transform="translate(24 375) rotate(-90)">Dim2</text>
<text x="125.6" y="478.2" font-size="12.3" text-anchor="middle">Dim1</text>
<path d="M74.8 314.2L76.6 312.6L78.5 312.9L80.4 314.9L81.5 317.2L82.0 319.8L81.5 322.2L79.8 324.8L78.5 328.0L77.5 332.0L76.4 336.2L75.1 340.6L73.6 341.9L71.9 339.9L70.7 338.0L70.1 336.0L70.3 333.1L71.5 329.4L72.5 325.6L73.3 321.9L73.8 318.8L73.8 316.2Z" fill="#15BCC6" fill-opacity="0.9"/>
<path d="M60.8 408.5h0M61.3 412.9h0M56.9 425.2h0M59.5 403.7h0M60.7 414.4h0M56.8 421.3h0M57.8 424.9h0M60.6 412.5h0M61.1 412.0h0M60.6 410.4h0M58.1 423.4h0M59.9 408.3h0M56.9 422.4h0M57.0 401.2h0M57.5 425.4h0M57.7 430.7h0M61.3 412.1h0M59.8 414.8h0M57.4 424.3h0M59.0 419.8h0M58.8 416.4h0M57.6 402.1h0M56.4 426.5h0M57.4 427.2h0M57.0 400.8h0M60.8 413.6h0M57.6 426.1h0M56.8 423.3h0M57.4 421.4h0M60.6 412.5h0M57.5 422.6h0M60.7 413.5h0M57.6 422.1h0M60.3 410.8h0M59.6 407.4h0M58.3 402.3h0M58.3 417.7h0M56.9 429.5h0M61.5 411.6h0M60.7 410.2h0M61.0 411.5h0M59.6 415.4h0M57.7 422.1h0M58.1 420.8h0M57.5 425.3h0M58.3 402.4h0M57.0 428.8h0M56.6 426.3h0M58.4 418.1h0M58.6 418.8h0M57.3 425.2h0M58.9 402.8h0M56.1 400.3h0M59.9 416.5h0M56.7 399.9h0M58.5 417.4h0M59.9 406.2h0M59.6 416.4h0M57.7 426.2h0M56.9 401.3h0M60.2 414.4h0M60.4 413.9h0M60.6 408.3h0M57.7 402.5h0M61.7 411.5h0M56.5 400.2h0M60.5 411.6h0M60.3 413.9h0M57.6 401.9h0M61.5 410.1h0M59.8 407.3h0M61.5 410.1h0M57.5 429.9h0M60.0 414.3h0M60.5 408.3h0M59.7 414.5h0M59.4 416.5h0M57.4 428.5h0M57.6 429.7h0M57.0 428.0h0M61.5 410.4h0M60.0 407.3h0M58.0 418.2h0M58.2 401.5h0M60.1 408.8h0M56.6 427.0h0M58.7 403.3h0M61.5 412.9h0M60.5 409.6h0M59.8 405.6h0" stroke="#F0736A" stroke-width="1.7" stroke-linecap="round" fill="none"/>
<path d="M51.9 418.4h0M51.5 418.2h0M54.8 419.9h0M55.3 419.8h0M56.8 419.4h0M56.6 421.2h0M54.6 419.8h0M52.7 417.9h0M52.4 418.8h0M54.7 420.4h0M51.0 417.6h0M51.2 417.2h0" stroke="#858585" stroke-width="1.4" stroke-linecap="round" fill="none"/>
<path d="M57.4 400.7h0M57.5 401.9h0M57.3 401.4h0M56.5 401.3h0" stroke="#858585" stroke-width="1.2" stroke-linecap="round" fill="none"/>
<path d="M60.2 431.4L62.3 431.6L64.3 432.1L66.3 432.7L68.1 433.5L69.9 434.5L71.4 435.5L72.7 436.5L73.8 437.5L74.7 438.5L75.3 439.5L75.6 440.5L75.6 441.5L75.4 442.5L75.0 443.4L74.6 444.1L74.1 444.6L73.4 445.1L72.5 445.4L71.2 445.5L69.7 445.6L67.8 445.4L66.1 445.2L64.5 444.9L63.1 444.4L61.9 443.7L60.8 442.9L59.8 442.0L58.9 440.8L58.1 439.5L57.6 438.1L57.2 436.6L57.0 435.1L57.0 433.4L57.5 432.3L58.6 431.6Z" fill="#F0736A" fill-opacity="0.9"/>
<path d="M78.1 440.2h0M77.5 440.3h0M79.9 439.3h0M80.2 440.6h0M79.1 439.2h0M75.8 441.5h0M79.2 439.4h0M77.9 440.0h0M77.4 441.5h0M79.4 439.3h0" stroke="#858585" stroke-width="1.6" stroke-linecap="round" fill="none"/>
<path d="M71.4 445.4h0M73.8 445.1h0M70.5 445.3h0M71.9 445.5h0M72.6 445.3h0" stroke="#858585" stroke-width="1.4" stroke-linecap="round" fill="none"/>
<path d="M127.7 369.5L128.4 365.5L129.8 362.1L131.8 359.4L134.1 357.6L136.8 356.6L139.5 356.8L142.2 358.4L144.9 359.3L147.6 359.7L150.6 360.2L154.0 360.8L157.2 362.2L160.2 364.2L162.7 366.7L164.8 369.8L166.4 372.6L167.8 375.3L169.6 377.2L172.0 378.2L174.7 378.8L177.7 379.2L180.3 380.7L182.3 383.4L183.7 386.5L184.3 390.0L184.2 393.4L183.3 396.8L181.7 399.4L179.3 401.2L177.0 402.9L174.6 404.6L172.6 406.5L170.9 408.5L168.7 410.5L166.0 412.5L163.3 414.5L160.6 416.6L157.8 418.7L154.8 421.1L152.2 423.5L150.2 425.8L148.5 427.8L147.0 429.5L145.7 429.1L144.7 426.6L142.9 424.1L140.2 421.5L137.3 419.6L134.3 418.2L131.9 416.2L130.1 413.3L129.2 410.2L129.2 406.9L128.5 402.5L127.1 397.1L126.1 391.7L125.5 386.3L125.7 380.6L126.8 374.6Z" fill="#858585" fill-opacity="0.95"/>
<path d="M75.8 312.9h0M75.4 338.5h0M78.0 320.3h0M70.1 337.7h0M77.0 326.4h0M76.7 318.3h0M73.6 331.7h0M77.5 313.2h0M76.1 316.6h0M72.9 328.1h0M72.9 319.8h0M74.4 340.5h0M74.8 315.6h0M73.7 325.4h0M76.6 315.0h0M76.7 313.7h0M76.4 322.0h0M76.7 313.4h0M77.8 328.0h0M78.2 321.0h0M75.4 334.0h0M80.9 318.3h0M73.7 320.2h0M80.2 323.8h0M78.7 320.9h0M73.5 318.8h0M78.0 314.3h0M74.3 324.8h0M72.9 336.6h0M74.3 325.9h0M77.3 325.7h0M72.3 330.8h0M75.0 323.2h0M73.8 328.0h0M75.5 331.0h0M81.6 320.7h0M77.7 330.1h0M79.5 318.9h0M76.4 319.0h0M77.1 315.5h0M78.5 316.0h0M78.2 320.1h0M78.0 316.6h0M75.3 334.6h0M75.1 337.1h0M72.0 339.5h0M72.7 331.1h0M76.0 326.1h0M72.0 330.7h0M73.1 327.8h0M74.1 317.6h0M75.9 331.9h0M73.8 329.2h0M78.7 323.2h0M72.8 335.5h0M74.3 318.4h0M75.9 315.2h0M70.8 337.2h0M75.4 331.5h0M72.3 328.3h0M74.3 316.6h0M79.6 316.9h0M71.4 328.6h0M74.6 335.0h0M77.1 322.7h0M76.1 325.3h0M74.5 339.7h0M73.7 332.0h0M81.7 318.5h0M75.4 332.0h0M80.5 319.9h0M76.8 322.9h0M75.5 320.3h0M71.6 335.2h0M71.4 332.6h0M78.3 320.5h0M76.4 313.1h0M72.8 327.3h0M75.1 321.4h0M78.1 317.0h0M76.5 330.3h0M76.4 317.8h0M75.7 320.6h0M73.9 323.3h0M78.2 326.5h0M72.4 336.4h0M76.6 333.0h0M76.7 329.0h0M75.9 332.6h0M76.0 326.5h0M78.2 319.7h0M79.8 320.5h0M70.7 335.9h0M76.1 326.7h0M73.9 330.0h0M71.5 338.0h0M71.1 335.2h0M73.0 335.9h0M74.0 316.9h0M77.8 327.3h0M73.9 321.0h0M71.0 331.2h0M74.2 332.2h0M73.2 327.8h0M76.1 318.5h0M79.7 318.5h0M80.5 319.7h0M74.1 341.2h0M77.9 331.9h0M73.6 322.0h0M78.7 316.4h0M77.8 325.5h0M76.8 316.6h0M80.3 319.2h0M78.3 319.2h0M75.8 330.7h0M74.5 330.7h0M80.1 318.9h0M73.7 341.1h0M75.1 329.2h0M74.0 324.9h0M71.8 336.3h0M72.8 339.2h0M79.8 317.4h0M78.1 325.8h0M76.4 321.9h0M73.8 323.7h0M74.8 335.6h0M79.7 323.6h0M70.6 337.4h0M75.7 325.4h0M75.1 317.0h0M79.2 323.4h0M78.6 315.7h0M72.3 330.2h0M74.5 330.1h0M74.3 337.9h0M72.4 337.8h0M78.7 323.8h0M75.6 319.2h0M73.7 333.1h0M73.5 335.6h0M81.7 321.3h0M71.8 330.6h0M80.8 316.5h0M77.6 320.3h0M71.1 334.5h0M70.8 336.2h0M76.1 333.7h0M77.5 323.6h0M70.9 334.2h0M72.3 327.9h0M75.1 320.0h0M73.7 334.1h0M76.2 334.0h0M72.7 328.1h0M76.3 331.2h0M75.6 319.4h0M74.8 328.9h0M73.2 340.6h0M72.9 337.9h0M74.9 324.4h0M76.3 312.7h0M73.0 332.4h0M72.7 339.0h0M79.9 317.5h0M78.6 327.8h0M72.0 329.0h0M75.7 317.4h0M76.1 322.6h0M72.3 329.6h0M76.7 326.9h0M75.4 314.7h0M75.9 329.7h0M71.0 332.4h0M77.1 324.4h0M73.9 324.6h0M77.1 320.5h0M79.2 317.7h0M76.7 326.0h0M75.9 335.3h0M76.7 334.9h0M74.5 323.5h0M75.2 326.5h0" stroke="#15BCC6" stroke-width="2.0" stroke-linecap="round" fill="none"/>
<path d="M72.7 441.1h0M74.6 441.7h0M67.9 436.0h0M63.5 439.0h0M71.7 440.8h0M74.3 438.4h0M73.0 438.3h0M62.9 435.0h0M59.7 435.9h0M64.7 440.6h0M70.9 440.4h0M74.2 441.9h0M69.5 443.0h0M70.8 436.9h0M67.8 442.1h0M65.3 434.6h0M71.3 445.5h0M57.6 437.1h0M62.2 435.9h0M65.0 441.2h0M69.3 443.8h0M70.5 440.5h0M63.4 443.3h0M68.7 441.5h0M70.9 435.2h0M67.5 444.8h0M67.9 443.0h0M69.5 437.1h0M65.2 437.2h0M68.1 444.3h0M63.5 433.0h0M68.1 444.6h0M60.0 439.5h0M70.5 436.4h0M71.5 444.3h0M59.7 436.3h0M65.4 436.2h0M74.5 440.6h0M59.3 439.1h0M70.0 445.1h0M68.3 440.6h0M61.7 443.4h0M57.4 436.1h0M59.7 440.8h0M61.0 431.3h0M68.1 438.7h0M66.8 442.6h0M68.4 442.6h0M60.5 434.9h0M63.4 444.1h0M59.4 438.6h0M73.5 441.7h0M69.4 442.3h0M67.6 436.6h0M64.1 443.7h0M59.7 440.0h0M61.0 442.8h0M65.6 441.0h0M61.0 437.9h0M68.6 440.8h0M71.3 435.9h0M69.9 441.4h0M66.1 439.8h0M61.8 433.4h0M60.4 433.4h0M64.5 442.4h0M65.7 434.1h0M64.0 444.8h0M70.1 439.9h0M65.4 432.7h0M69.9 441.9h0M61.9 440.5h0M58.9 432.9h0M71.5 435.4h0M59.9 439.5h0M67.4 437.6h0M68.7 434.3h0M66.7 438.2h0M61.5 435.1h0M70.6 442.1h0M69.0 441.9h0M65.0 435.2h0M70.0 439.4h0M68.6 436.2h0M62.1 440.3h0M72.9 439.7h0M70.7 442.2h0M73.5 438.2h0M64.6 438.8h0M72.2 441.6h0M62.9 435.8h0M67.9 433.5h0M71.0 439.1h0M69.3 444.5h0M59.0 432.4h0M70.2 439.2h0M71.0 439.5h0M58.8 439.3h0M74.1 443.7h0M65.4 433.2h0M61.8 443.4h0M71.6 444.5h0M64.6 434.9h0M73.0 437.6h0M73.7 437.4h0M66.8 439.4h0M59.0 431.2h0M74.6 442.2h0M62.1 433.4h0M59.1 432.5h0M69.8 443.0h0M70.1 440.3h0M57.1 435.0h0M65.9 443.9h0M68.5 435.5h0M64.8 442.0h0M67.1 442.2h0M60.5 434.0h0M65.3 444.0h0M74.4 442.2h0M61.7 439.3h0M69.4 436.1h0M68.2 442.3h0M62.4 440.3h0M66.0 433.0h0M60.5 434.6h0M62.1 443.4h0M67.2 445.4h0M58.3 436.7h0M57.7 435.1h0M58.2 433.0h0M71.3 445.8h0M60.8 433.9h0M67.0 442.5h0M57.7 435.3h0M62.0 432.6h0M67.8 439.9h0M61.5 444.0h0M61.6 440.8h0M64.7 437.2h0M57.8 436.3h0M73.5 440.8h0M67.6 439.2h0M61.1 442.2h0M73.9 439.4h0M66.2 435.7h0M61.8 434.4h0M57.7 436.3h0M69.3 444.7h0M60.1 436.5h0M57.1 435.4h0M71.0 442.8h0M65.1 442.6h0M64.2 433.0h0M59.1 441.7h0M73.6 440.0h0M65.9 436.3h0M62.2 443.0h0M65.4 443.7h0M68.9 440.6h0M69.6 436.2h0M63.0 443.2h0M61.6 432.5h0M72.5 440.5h0M62.5 443.0h0M66.9 436.8h0M73.3 441.3h0M75.1 441.0h0M71.6 444.9h0M65.3 439.0h0M65.6 437.7h0M60.8 432.6h0M63.2 434.5h0M61.7 439.7h0M67.4 444.3h0M56.9 434.4h0M62.3 440.0h0M74.9 442.4h0M70.4 444.0h0M60.9 437.9h0M62.2 437.2h0M64.4 434.7h0M71.7 435.7h0M58.6 438.1h0M68.5 435.3h0M57.4 433.3h0M73.2 442.1h0M69.3 435.3h0M59.8 432.8h0" stroke="#F0736A" stroke-width="2.0" stroke-linecap="round" fill="none"/>
<path d="M134.8 370.4h0M152.7 364.9h0M162.2 397.0h0M142.5 377.0h0M153.5 368.7h0M171.6 380.1h0M154.2 394.6h0M139.8 384.2h0M156.1 401.7h0M129.3 395.2h0M134.8 391.3h0M172.4 395.5h0M155.1 377.9h0M141.2 364.0h0M136.8 406.4h0M171.2 398.4h0M135.6 386.5h0M182.0 395.7h0M145.0 425.1h0M131.5 384.4h0M148.4 359.9h0M152.7 390.2h0M146.9 410.0h0M174.1 388.6h0M156.4 387.0h0M170.1 389.4h0M165.3 375.7h0M174.7 382.5h0M136.8 412.4h0M132.6 392.5h0M151.3 422.8h0M158.9 416.6h0M149.7 424.1h0M154.2 387.6h0M156.3 366.6h0M157.5 393.6h0M134.1 370.8h0M177.2 402.5h0M159.9 406.5h0M140.1 381.5h0M167.3 385.1h0M144.7 412.8h0M142.4 394.1h0M158.2 367.6h0M152.0 374.9h0M155.7 363.0h0M143.2 406.1h0M144.0 373.1h0M148.2 395.9h0M144.9 414.7h0M136.5 374.2h0M155.6 411.9h0M147.8 418.9h0M143.9 378.0h0M143.8 397.3h0M140.1 416.7h0M145.4 420.5h0M148.8 414.5h0M137.7 368.6h0M129.3 410.4h0M172.0 378.3h0M159.4 402.7h0M140.5 399.5h0M144.1 361.3h0M162.3 388.7h0M136.1 358.7h0M142.0 420.2h0M129.8 405.6h0M144.3 418.0h0M168.9 380.0h0M157.8 399.5h0M158.5 411.4h0M135.5 398.7h0M179.7 398.4h0M130.4 369.5h0M138.8 405.6h0M155.6 375.5h0M150.9 392.8h0M176.2 383.8h0M155.7 410.8h0M148.9 421.2h0M136.2 378.8h0M132.6 387.7h0M160.1 371.6h0M131.9 396.9h0M153.9 382.4h0M163.3 378.1h0M130.5 367.6h0M136.5 381.4h0M152.8 378.4h0M159.1 380.0h0M160.6 390.4h0M132.5 408.2h0M134.1 364.4h0M129.5 399.8h0M130.1 405.9h0M163.7 395.0h0M144.0 362.3h0M153.4 394.2h0M128.4 367.1h0M145.0 424.6h0M143.5 409.8h0M144.6 378.3h0M147.8 387.9h0M156.8 381.0h0M147.1 425.8h0M150.5 416.8h0M154.3 377.3h0M152.4 399.1h0M146.4 369.5h0M130.9 373.4h0M148.4 404.2h0M166.5 390.5h0M155.0 370.0h0M158.8 377.3h0M143.7 403.8h0M149.8 380.4h0M166.6 374.4h0M133.9 365.3h0M155.0 399.3h0M147.3 422.7h0M135.8 389.7h0M142.2 420.8h0M181.2 391.1h0M161.3 404.1h0M132.0 414.2h0M164.4 387.2h0M146.4 361.1h0M144.4 424.3h0M132.7 359.9h0M140.6 375.0h0M133.0 368.2h0M141.5 392.8h0M131.0 384.3h0M151.4 376.7h0M167.8 377.6h0M125.8 381.9h0M151.0 397.5h0M141.3 391.9h0M125.4 385.1h0M146.7 399.6h0M138.5 398.6h0M167.9 404.9h0M142.8 416.7h0M137.4 390.5h0M150.9 367.5h0M141.6 383.2h0M158.0 398.8h0M151.9 406.6h0M128.9 378.2h0M164.8 408.9h0M132.3 403.1h0M148.8 365.7h0M149.4 409.3h0M134.4 358.0h0M131.7 369.7h0M135.0 407.6h0M169.5 385.8h0M168.6 377.6h0M148.9 383.1h0M137.4 417.4h0M147.0 389.3h0M165.4 396.0h0M168.1 380.6h0M149.9 363.3h0M131.6 373.0h0M165.8 398.7h0M172.7 380.2h0M165.7 383.1h0M150.8 409.3h0M159.4 404.1h0M155.6 369.3h0M142.9 389.2h0M138.2 400.3h0M156.6 375.4h0M174.9 382.5h0M156.5 388.7h0M160.1 371.8h0M135.3 386.0h0M165.9 386.1h0M162.5 405.7h0M142.1 395.8h0M179.6 384.8h0M162.4 408.1h0M157.1 381.3h0M140.7 358.4h0M148.0 428.0h0M153.9 412.3h0M165.6 390.7h0M139.0 369.0h0M153.3 363.8h0M161.1 372.4h0M140.7 418.9h0M133.0 396.1h0M136.2 392.7h0M134.5 374.0h0M129.5 372.4h0M139.6 407.6h0M132.8 397.0h0M129.9 367.3h0M127.5 377.1h0M143.6 396.3h0M134.9 393.7h0M127.4 387.8h0M139.2 409.9h0M155.0 375.0h0M161.5 399.8h0M150.1 368.0h0M159.7 366.0h0M161.6 403.2h0M166.0 409.3h0M162.3 402.4h0M148.6 422.7h0M134.6 393.0h0M132.0 360.6h0M150.5 401.4h0M134.9 398.1h0M129.6 386.5h0M169.7 379.9h0M175.3 389.2h0M181.8 396.5h0M131.5 395.9h0M132.1 392.8h0M172.2 381.7h0M183.3 395.6h0M153.2 406.2h0M171.7 386.2h0M158.1 377.2h0M129.5 394.5h0M130.6 374.6h0M131.5 399.1h0M148.8 412.0h0M162.6 399.6h0M161.7 382.2h0M157.2 418.2h0M139.2 410.6h0M157.4 380.2h0M154.7 361.2h0M147.3 397.7h0M162.3 402.7h0M157.1 413.2h0M151.0 389.4h0M143.1 391.8h0M171.1 380.6h0M165.1 408.5h0M133.1 409.3h0M144.5 380.8h0M135.0 390.4h0M125.9 380.2h0M153.7 367.1h0M141.7 404.5h0M130.8 376.9h0M174.1 399.1h0M138.2 408.0h0M134.7 380.8h0M167.0 383.5h0M149.4 361.0h0M141.8 380.8h0M153.4 404.0h0M129.0 378.8h0M173.2 390.3h0M166.9 400.1h0M129.1 371.1h0M142.5 386.8h0M139.6 364.9h0M162.5 384.1h0M160.1 371.8h0M173.0 402.8h0M160.1 395.4h0M148.0 363.4h0M134.7 375.2h0M142.1 365.0h0M162.7 409.1h0M153.7 404.7h0M161.3 373.4h0M159.6 406.4h0M130.4 377.9h0M138.6 415.9h0M157.8 400.3h0M157.0 415.9h0M154.0 390.8h0M158.8 417.9h0M128.6 398.5h0M140.9 416.9h0M141.8 404.3h0M153.4 361.7h0M148.2 426.4h0M127.5 383.6h0M159.7 399.0h0M135.4 404.4h0M159.8 371.3h0M156.5 408.4h0M144.6 391.5h0M146.2 366.5h0M139.9 374.3h0M146.2 363.4h0M150.8 404.0h0M129.9 404.1h0M133.6 406.4h0M168.3 402.9h0M151.7 366.0h0M166.9 386.3h0M167.7 377.3h0M164.4 376.9h0M148.2 418.3h0M179.6 391.6h0M139.7 358.6h0M145.3 368.0h0M127.5 377.7h0M170.6 407.7h0M136.6 360.3h0M154.6 418.2h0M129.3 407.0h0M142.7 408.6h0M154.5 405.2h0M147.3 407.8h0M151.0 423.8h0M134.3 379.4h0M157.4 376.5h0M182.6 385.6h0M136.8 370.5h0M169.0 387.9h0M163.9 404.1h0M143.5 422.7h0M161.1 402.6h0M148.2 383.8h0M132.0 394.7h0M158.6 372.4h0M144.2 363.0h0M162.7 376.2h0M132.8 403.7h0M133.2 379.6h0M142.3 410.2h0M178.9 399.8h0M142.7 413.3h0M131.4 395.9h0M181.3 381.1h0M138.9 411.3h0M149.2 375.6h0M176.5 389.3h0M141.0 392.0h0M160.4 414.0h0M142.1 383.8h0M168.7 387.6h0M154.5 369.3h0M144.8 364.8h0M147.6 377.5h0M146.0 373.0h0M146.6 402.0h0M149.5 366.6h0M137.4 403.6h0M149.7 362.3h0M169.2 406.0h0M137.8 356.9h0M149.4 412.5h0M156.2 406.9h0M133.3 388.6h0M158.9 363.8h0M157.5 381.6h0M171.0 405.2h0M127.6 383.2h0M146.6 399.0h0M151.7 374.6h0M146.0 397.8h0M152.1 401.3h0M171.5 405.4h0M167.1 389.1h0M141.1 379.9h0M142.1 405.5h0M131.0 368.0h0M143.0 393.6h0M148.0 415.6h0M130.5 385.7h0M150.5 386.2h0M134.3 407.4h0M142.6 391.1h0M179.1 397.0h0M144.9 391.6h0M159.6 412.5h0M135.2 363.2h0M167.5 380.3h0M152.8 416.9h0M147.5 409.8h0M153.5 381.1h0M139.0 362.5h0M161.7 374.3h0M137.5 383.3h0M172.3 380.1h0M132.4 395.5h0M151.9 372.8h0M128.3 375.9h0M158.1 418.9h0M170.4 382.5h0M173.3 399.2h0M129.3 383.2h0M128.5 365.4h0M146.7 421.8h0M170.4 387.6h0M131.0 380.0h0M168.9 408.1h0M139.4 378.1h0M143.3 408.9h0M140.9 391.2h0M133.6 407.8h0M154.4 409.0h0M150.6 388.4h0M149.9 375.2h0M172.1 382.6h0M150.5 386.2h0M141.7 361.4h0M148.8 386.1h0M159.9 402.8h0M134.2 394.0h0M141.4 366.3h0M141.3 412.0h0M162.4 380.4h0M143.9 367.4h0M146.9 376.7h0M138.9 361.9h0M166.1 408.9h0M138.8 418.9h0M143.5 422.2h0M137.8 398.1h0M161.0 400.6h0M142.9 363.0h0M154.9 399.3h0M164.5 385.7h0M154.7 384.6h0M164.4 368.8h0M155.5 404.0h0M167.9 408.5h0M133.7 367.1h0M144.4 408.5h0M174.5 396.4h0M130.7 382.8h0M179.8 391.2h0M135.4 364.1h0M153.1 381.2h0M136.2 404.4h0M127.4 383.6h0M139.7 416.3h0M156.0 405.9h0M135.3 371.2h0M148.7 373.4h0M174.4 395.9h0M154.4 372.4h0M127.3 398.9h0M141.8 377.7h0M151.2 363.2h0M131.0 366.3h0M150.8 405.7h0M150.4 412.0h0M169.6 376.8h0M149.2 360.7h0M157.0 381.0h0M132.2 368.2h0M128.0 389.9h0M143.9 362.7h0M137.7 415.6h0M128.4 383.7h0M139.7 420.0h0M149.5 384.5h0M135.4 406.8h0M141.5 381.3h0M167.1 404.4h0M141.5 401.0h0M129.9 370.1h0M157.9 369.4h0M141.1 371.8h0M162.6 371.1h0M160.6 371.6h0M169.8 392.0h0M169.4 398.1h0M170.6 388.6h0M164.5 388.7h0M159.2 402.5h0M155.0 406.6h0M147.8 396.6h0M181.7 392.4h0M162.0 371.0h0M164.1 379.9h0M174.2 386.3h0M136.7 415.5h0M128.7 365.6h0M151.2 421.6h0M177.3 391.6h0M157.9 381.9h0M138.8 409.5h0M160.3 390.8h0M163.5 408.5h0M150.6 397.8h0M152.5 375.2h0M130.0 387.2h0M132.9 404.1h0M128.1 373.3h0M144.9 390.2h0M143.4 406.6h0M163.3 384.2h0M149.2 395.2h0M128.0 378.7h0M149.8 384.1h0M157.9 375.0h0M140.6 380.3h0M135.5 403.0h0M179.8 382.9h0M155.4 404.6h0M182.6 393.0h0M146.1 403.2h0M142.9 391.5h0M130.9 361.8h0M134.6 390.2h0M156.9 417.3h0M153.3 376.4h0M152.7 401.8h0M130.4 411.7h0M176.9 384.4h0M147.9 409.8h0M179.7 385.1h0M162.5 397.2h0M156.9 372.1h0M149.0 406.6h0M159.5 400.6h0M175.1 379.3h0M132.8 366.7h0M181.0 388.8h0M157.4 406.2h0M158.2 365.7h0M127.2 390.4h0M145.1 404.7h0M162.3 408.3h0M145.1 386.2h0M149.8 421.5h0M183.7 391.6h0M134.2 368.8h0M157.9 374.8h0M162.1 369.1h0M167.3 410.6h0M136.3 408.9h0M150.6 402.6h0M130.6 362.8h0M144.8 411.9h0M140.0 404.1h0M150.3 424.5h0M160.6 375.5h0M153.7 402.5h0M153.4 368.2h0M159.5 379.8h0M142.4 384.0h0M147.8 422.9h0M169.1 404.0h0M177.1 399.7h0M141.9 412.2h0M161.9 414.0h0M147.6 428.4h0M159.8 388.1h0M143.3 411.0h0M153.9 388.1h0M145.3 360.5h0M148.3 403.4h0M128.0 396.7h0M172.7 401.5h0M176.1 389.8h0M130.4 390.1h0M153.6 385.2h0M157.3 413.9h0M125.9 385.8h0M141.2 358.2h0M152.1 421.9h0M140.9 363.2h0M140.8 410.5h0M172.7 395.2h0M143.5 417.4h0M143.2 395.6h0M153.3 376.9h0M154.3 384.2h0M171.8 384.7h0M148.3 405.7h0M126.0 382.1h0M174.1 378.4h0M168.0 385.1h0M155.9 389.3h0M145.9 424.1h0M180.4 383.7h0M171.6 385.8h0M149.3 426.7h0M147.4 394.4h0M155.5 375.6h0M133.4 407.5h0M133.3 385.7h0M142.6 377.8h0M139.3 399.8h0M161.9 402.6h0M147.5 377.0h0M129.1 375.5h0M142.5 397.0h0M145.9 369.5h0M183.8 388.2h0M128.6 399.4h0M133.7 371.0h0M145.5 394.3h0M145.3 398.6h0M142.7 362.2h0M140.1 415.1h0M156.4 367.7h0M129.4 390.1h0M163.5 384.8h0M166.1 409.7h0M171.7 381.9h0M159.8 388.9h0M147.0 426.2h0M163.5 394.6h0M181.9 395.8h0M146.5 408.4h0M143.0 404.4h0M137.8 396.1h0M135.1 393.2h0M163.7 392.0h0M163.7 376.8h0M139.9 405.5h0M183.7 393.7h0M140.7 407.2h0M146.1 414.9h0M133.7 371.0h0M141.5 385.4h0M172.9 384.1h0M155.7 381.6h0M132.4 382.8h0M143.9 387.5h0M139.9 402.1h0M130.0 384.5h0M147.8 366.1h0M151.9 409.7h0M150.9 378.3h0M141.3 404.9h0M130.8 362.6h0M156.4 409.2h0M157.2 385.3h0M152.7 390.4h0M138.3 395.4h0M163.0 398.0h0M146.1 414.4h0M142.8 402.3h0M152.2 402.4h0M165.3 406.4h0M144.2 414.5h0M152.7 378.9h0M183.8 395.5h0M166.8 388.9h0M132.4 400.5h0M158.0 406.1h0M150.6 368.1h0M139.5 396.6h0M161.9 376.0h0M136.2 382.8h0M149.5 422.7h0M170.6 384.2h0M173.5 403.3h0M145.4 403.1h0M151.5 371.9h0M163.7 402.0h0M147.9 373.3h0M173.5 389.1h0M164.7 402.4h0M135.4 397.7h0M150.4 393.7h0M148.5 379.5h0M163.7 405.6h0M149.5 383.4h0M151.2 361.0h0M175.6 388.0h0M166.2 401.0h0M129.4 373.3h0M126.9 382.4h0M180.2 385.5h0M144.7 391.1h0M129.1 394.1h0M152.8 371.1h0M179.0 393.5h0M170.7 393.5h0M178.4 392.9h0M156.6 402.1h0M155.7 395.4h0M151.7 387.5h0M167.6 394.5h0M129.0 384.9h0M151.1 392.6h0M172.8 402.8h0M151.5 407.0h0M162.5 399.2h0M176.4 396.2h0M141.7 420.5h0M151.0 405.9h0M136.9 389.1h0M132.1 410.6h0M140.3 357.6h0M133.7 379.7h0M143.1 412.9h0M155.7 406.9h0M171.4 389.2h0M126.6 378.4h0M145.8 410.0h0M173.1 387.0h0M148.1 411.6h0M164.9 387.1h0M176.2 390.1h0M160.4 372.3h0M155.1 392.3h0M148.2 381.9h0M171.2 385.5h0M153.6 376.7h0M133.7 414.0h0M152.6 375.1h0M165.2 404.9h0M131.5 364.2h0M144.8 371.5h0M140.3 398.3h0M150.0 407.1h0M165.8 392.3h0M154.5 404.0h0M164.3 396.7h0M143.9 390.9h0M137.7 407.3h0M163.6 392.3h0M132.2 381.8h0M160.3 382.1h0M162.9 405.1h0M135.7 406.7h0M134.6 393.0h0M144.7 390.8h0M133.1 361.8h0M127.9 398.1h0M141.0 371.5h0M150.0 390.4h0M151.1 377.6h0M128.1 367.5h0M143.5 368.7h0M155.8 390.2h0M160.1 397.8h0M154.7 379.2h0M156.9 364.2h0M176.6 393.6h0M151.1 394.6h0M159.7 376.9h0M153.5 411.0h0M148.5 423.3h0M135.1 369.3h0M130.8 414.2h0M127.9 377.0h0M146.2 375.4h0M174.7 400.2h0M130.0 369.9h0M174.6 392.6h0M127.6 384.5h0M149.9 360.8h0M139.5 371.0h0M153.6 386.7h0M173.7 384.8h0M143.8 405.6h0M182.5 394.9h0M142.2 414.6h0M161.1 383.1h0M138.6 387.0h0M136.1 381.5h0M143.5 395.0h0M134.5 368.5h0M137.6 401.1h0M166.5 401.2h0M127.2 392.9h0M149.2 381.6h0M131.1 391.0h0M162.1 389.3h0M147.5 373.2h0M171.1 395.7h0M135.7 367.4h0M139.2 408.8h0M169.9 399.6h0M154.3 373.0h0M148.1 375.8h0M139.4 409.1h0M133.7 358.8h0M159.5 366.1h0M129.7 403.3h0M139.5 364.6h0M174.0 396.9h0M152.5 381.2h0M168.9 386.0h0M153.4 407.6h0M147.1 425.9h0M135.2 413.3h0M153.8 377.4h0M144.1 387.0h0M157.8 418.5h0M140.9 407.8h0M161.1 393.9h0M135.4 363.4h0M144.9 426.9h0M160.1 372.1h0M140.6 366.4h0M166.7 409.5h0M141.2 407.0h0M155.2 409.0h0M169.4 399.5h0M132.0 359.3h0M141.3 380.5h0M165.2 387.4h0M171.1 391.5h0M133.0 365.2h0M145.4 403.4h0M151.3 402.8h0M168.0 394.7h0M159.1 411.5h0M143.8 396.3h0M147.9 404.5h0M144.8 377.6h0M144.8 373.2h0M149.0 397.6h0M167.8 391.5h0M180.3 399.7h0M132.2 413.6h0M161.8 402.1h0M171.7 406.6h0M160.2 411.5h0M173.3 394.8h0M131.2 361.5h0M175.8 393.7h0M157.9 363.9h0M139.7 413.3h0M143.4 403.0h0M175.0 399.2h0M163.7 413.1h0M171.2 382.7h0M169.3 403.4h0M159.2 414.8h0M143.1 385.5h0M167.9 394.0h0M164.9 373.6h0M148.2 397.0h0M158.8 408.4h0M152.5 410.9h0M147.0 424.3h0M131.6 388.2h0M141.1 367.4h0M161.8 415.6h0M144.9 409.8h0M131.0 412.9h0M140.4 362.1h0M131.1 404.6h0M137.3 366.0h0M156.7 377.5h0M146.6 368.6h0M156.0 362.0h0M143.7 410.8h0M147.2 421.4h0M138.9 359.4h0M173.5 401.0h0M131.0 372.6h0M176.1 380.0h0M163.5 387.1h0M170.3 395.5h0M133.3 376.6h0M135.2 393.5h0M137.1 387.6h0M141.7 412.4h0M142.2 373.8h0M159.1 402.2h0M162.4 376.1h0M176.7 387.7h0M129.4 382.7h0M165.7 372.9h0M144.9 414.8h0M168.8 394.7h0M179.6 391.2h0M164.3 383.4h0M145.7 421.1h0M137.2 418.9h0M127.9 384.2h0M135.6 380.9h0M172.7 397.6h0M180.6 393.7h0M144.6 420.5h0M178.8 385.9h0M150.6 382.5h0M133.5 383.4h0M129.1 403.2h0M145.7 380.4h0M175.7 387.2h0M132.9 394.5h0M137.1 395.3h0M128.2 395.9h0M162.2 370.5h0M172.0 380.4h0M160.0 405.1h0M127.3 383.8h0M149.0 408.3h0M171.6 385.9h0M129.1 365.0h0M163.8 386.8h0M173.7 380.7h0M129.9 380.3h0M130.3 388.2h0M179.5 395.3h0M128.7 367.2h0M172.7 391.2h0M146.9 421.9h0M168.7 406.4h0M175.5 403.7h0M128.8 377.2h0M140.7 391.1h0M129.2 402.7h0M169.7 402.5h0M157.3 363.8h0M164.4 382.3h0M165.2 376.6h0M141.5 361.9h0M131.7 416.6h0M146.0 395.4h0M134.6 398.9h0M153.5 413.4h0M163.1 401.3h0M129.4 377.5h0M146.8 367.1h0M161.0 410.4h0M144.9 364.0h0M148.7 409.4h0M161.9 411.9h0M159.2 410.5h0M156.5 411.6h0M148.9 413.1h0M155.7 373.9h0M162.2 392.1h0M172.1 380.0h0M160.4 388.7h0M129.7 388.8h0M142.2 378.9h0M149.1 418.9h0M156.6 406.5h0M139.5 395.5h0M128.5 369.6h0M128.6 378.5h0M136.4 409.4h0M181.6 385.5h0M161.6 404.0h0M160.8 389.0h0M165.0 402.8h0M149.9 411.0h0M156.1 408.5h0M129.9 369.4h0M128.9 383.1h0M153.7 391.0h0M167.5 389.0h0M138.3 365.2h0M146.9 397.9h0M131.3 407.8h0M171.6 386.3h0M155.3 414.4h0M149.4 408.6h0M145.7 399.0h0M150.9 374.4h0M158.6 367.3h0M144.5 397.7h0M148.3 376.3h0M162.9 382.1h0M156.1 383.3h0M137.0 366.8h0M148.6 395.5h0M158.1 395.2h0M147.8 429.4h0M165.7 407.2h0M153.6 367.7h0M150.2 423.5h0M145.6 364.7h0M154.1 379.5h0M150.5 367.1h0M137.3 401.0h0M137.6 397.5h0M150.6 376.4h0M169.2 408.8h0M139.9 364.7h0M158.0 363.8h0M129.8 364.4h0M170.8 389.4h0M149.1 400.5h0M130.1 391.5h0M165.7 375.2h0M134.6 364.5h0M135.1 396.7h0M142.8 423.9h0M154.6 368.5h0M142.6 378.0h0M139.5 373.1h0M135.3 417.7h0M172.3 385.6h0M148.7 387.9h0M143.8 420.6h0M159.2 385.3h0M129.0 385.2h0M136.6 373.2h0M159.4 373.8h0M133.9 359.4h0M172.7 383.6h0M130.9 381.4h0M174.7 393.6h0M162.6 397.8h0M162.9 403.6h0M163.0 378.4h0M138.1 372.2h0M144.3 365.1h0M163.9 385.0h0M165.1 398.3h0M164.0 399.3h0M155.6 417.9h0M134.2 365.3h0M153.0 380.0h0M145.7 373.0h0M165.0 386.6h0M141.6 410.8h0M152.1 378.4h0M125.8 384.2h0M143.0 369.1h0M148.3 362.6h0M170.8 384.0h0M134.1 366.5h0M143.8 415.6h0M166.8 389.7h0M158.0 376.8h0M158.0 417.0h0M162.4 397.5h0M148.1 367.1h0M172.6 396.5h0M142.4 407.0h0M151.3 364.9h0M139.6 407.5h0M180.8 395.7h0M150.3 422.0h0M133.5 369.2h0M152.1 367.7h0M177.3 393.4h0M141.8 381.1h0M138.4 374.1h0M157.3 399.0h0M182.8 393.6h0M145.7 416.9h0M139.5 405.5h0M142.6 418.5h0M152.8 380.8h0M138.5 372.1h0M146.5 426.0h0M157.9 398.7h0M141.1 400.7h0M131.9 396.8h0M145.7 408.2h0M150.1 391.6h0M152.5 386.7h0M152.1 393.1h0M137.1 377.9h0M138.2 376.1h0M172.1 393.6h0M135.1 409.4h0M164.4 413.2h0M129.4 409.6h0M175.9 380.1h0M148.9 394.1h0M148.5 416.3h0M139.8 409.4h0M135.9 398.2h0M141.1 402.3h0M159.2 401.4h0M161.9 409.1h0M135.3 370.4h0M144.8 398.4h0M151.7 376.8h0M134.6 404.4h0M151.6 372.4h0M143.5 394.5h0M135.4 365.3h0M161.8 380.5h0M135.8 373.6h0M140.8 411.4h0M138.0 416.3h0M153.0 366.2h0M152.2 364.3h0M131.1 392.3h0M162.3 391.1h0M163.8 390.5h0M155.9 384.1h0M166.4 394.2h0M130.6 408.2h0M154.0 367.1h0M178.9 388.2h0M133.6 369.0h0M131.6 368.5h0M164.9 400.5h0M154.9 361.5h0M156.3 398.4h0M165.4 413.3h0M128.3 372.4h0M170.3 398.0h0M177.3 383.3h0M181.2 386.7h0M146.2 379.7h0M135.9 367.3h0M129.1 382.8h0M148.7 375.2h0M141.9 368.8h0M162.4 378.3h0M166.3 397.9h0M167.5 382.8h0M164.7 384.2h0M136.3 362.3h0M131.3 364.4h0M140.3 379.0h0M140.8 420.1h0M158.2 408.5h0M163.7 407.9h0M130.2 371.1h0M154.0 382.9h0M128.8 409.7h0M135.0 411.5h0M141.2 385.0h0M140.1 400.8h0M134.3 378.2h0M147.0 427.5h0M168.8 392.7h0M140.8 401.6h0M147.8 372.0h0M138.0 395.4h0M181.3 382.6h0M161.4 392.2h0M146.0 413.0h0M153.8 360.8h0M153.7 393.3h0M149.8 399.1h0M164.1 410.1h0M137.7 406.5h0M158.3 383.1h0M137.3 419.2h0M141.1 413.2h0M139.0 364.5h0M129.6 401.2h0M154.1 404.6h0M162.8 376.2h0M148.7 383.8h0M141.2 376.7h0M157.2 365.0h0M168.8 405.1h0M152.0 379.2h0M141.1 397.3h0M134.3 381.4h0M165.2 413.0h0M160.9 405.4h0M167.1 405.1h0M150.6 397.7h0M165.9 399.2h0M134.3 392.3h0M144.4 410.5h0M148.8 416.7h0M132.0 373.6h0M145.2 369.4h0M142.7 408.2h0M142.6 388.4h0M146.6 379.6h0M144.3 422.6h0M132.5 407.4h0M136.3 385.3h0M171.6 399.5h0M161.6 391.7h0M161.3 366.1h0M160.0 409.8h0M160.1 370.8h0M134.5 401.3h0M151.7 392.2h0M161.8 400.6h0M166.9 391.5h0M157.4 383.4h0M140.0 420.7h0M146.6 411.0h0M136.6 387.7h0M148.8 382.5h0M171.0 403.8h0M147.1 398.7h0M158.0 394.2h0M163.5 406.0h0M139.8 393.2h0M159.3 408.8h0M175.7 397.1h0M151.4 408.0h0M137.5 405.6h0M150.4 384.9h0M146.3 392.2h0M156.4 384.8h0M141.9 393.5h0M133.2 416.9h0M165.5 395.4h0M143.5 372.0h0M134.7 405.8h0M134.6 372.7h0M157.6 392.0h0M138.7 394.2h0M154.8 405.7h0M141.4 419.7h0M145.2 369.9h0M128.5 373.3h0M176.9 401.4h0M162.1 403.0h0M133.0 400.9h0M153.1 381.8h0M171.0 400.6h0M137.1 419.4h0M152.0 398.2h0M130.8 397.1h0M167.9 386.6h0M127.2 375.0h0M140.9 411.5h0M155.1 413.1h0M137.0 373.9h0M138.1 365.1h0M160.2 374.7h0M136.5 358.3h0M145.7 401.3h0M142.4 361.6h0M150.5 418.4h0M147.7 426.6h0M144.3 415.1h0M143.3 360.5h0M183.9 387.2h0M145.5 387.2h0M136.7 392.8h0M169.8 398.4h0M173.8 401.6h0M159.2 410.9h0M137.1 391.3h0M139.8 392.2h0M145.2 401.0h0M167.1 400.9h0M170.3 387.9h0M136.9 405.1h0M150.8 411.8h0M153.3 405.2h0M183.0 396.1h0M163.6 399.6h0M127.9 380.1h0M180.0 388.9h0M126.9 396.2h0M126.7 388.5h0M155.2 405.6h0M139.4 363.2h0M150.8 370.5h0M148.9 420.8h0M137.7 359.4h0M152.9 397.5h0M149.2 419.4h0M175.3 393.9h0M132.4 392.6h0M148.0 409.0h0M167.7 397.7h0M153.5 418.7h0M178.2 391.2h0M148.0 419.8h0M160.6 374.9h0M157.9 388.0h0M139.4 371.8h0M171.7 378.0h0M149.0 362.9h0M156.7 392.1h0M167.8 410.8h0M136.8 392.5h0M138.0 389.6h0M165.2 389.3h0M140.0 384.6h0M152.7 408.7h0M162.2 382.5h0M137.7 359.5h0M148.9 425.5h0M160.3 370.0h0M143.3 362.0h0M128.7 389.9h0M177.6 384.1h0M152.9 421.1h0M154.9 376.1h0M144.9 374.7h0M131.7 396.2h0M151.5 375.0h0M167.4 403.9h0M146.0 369.3h0M136.8 358.0h0M147.5 375.8h0M165.3 386.6h0M152.3 411.2h0M156.9 405.0h0M158.4 377.4h0M139.5 407.1h0M137.1 396.5h0M158.2 376.8h0M154.3 381.9h0M145.8 424.4h0M143.4 388.1h0M163.8 376.7h0M145.7 408.1h0M135.2 401.6h0M165.9 410.6h0M141.8 415.4h0M149.7 395.9h0M129.1 369.9h0M160.0 371.3h0M133.4 414.0h0M140.1 409.0h0M134.9 391.7h0M153.1 408.2h0M163.8 394.3h0M148.1 394.7h0M136.7 385.5h0M126.4 379.0h0M153.5 366.8h0M163.2 399.7h0M137.6 386.1h0M155.3 388.9h0M159.6 406.6h0M162.8 382.5h0M135.5 376.9h0M147.8 385.3h0M163.5 379.2h0M162.0 367.0h0M172.0 406.5h0M171.4 384.5h0M168.4 399.3h0M157.8 367.0h0M145.6 374.5h0M141.3 395.2h0M157.7 400.7h0M139.3 388.1h0M164.6 392.7h0M145.6 391.1h0M138.3 369.8h0M139.6 420.6h0M162.6 404.8h0M134.4 365.5h0M164.1 394.2h0M169.4 392.1h0M163.0 373.9h0M135.9 410.0h0M167.6 383.3h0M164.6 411.2h0M135.0 359.0h0M141.0 403.2h0M153.4 370.6h0M140.9 419.5h0M140.4 393.3h0M148.8 404.1h0M155.0 371.3h0M146.0 421.3h0M164.4 381.3h0M156.6 371.6h0M155.5 384.2h0M173.8 398.2h0M160.3 390.7h0M132.0 373.6h0M150.6 404.9h0M142.2 383.0h0M148.3 370.2h0M142.8 421.4h0M138.4 395.9h0M174.8 387.3h0M142.8 399.5h0M132.4 414.0h0M177.3 395.7h0M168.8 396.6h0M175.7 401.2h0M166.4 399.9h0M151.7 372.8h0M150.8 396.2h0M134.6 406.1h0M171.0 400.6h0M145.9 419.7h0M148.5 424.9h0M177.0 386.2h0M133.0 390.8h0M144.3 383.5h0M138.5 397.5h0M130.7 377.8h0M135.7 359.3h0M131.1 372.3h0M172.1 394.1h0M165.7 379.7h0M134.5 364.8h0M173.0 393.2h0M145.1 378.4h0M167.0 411.6h0M154.5 395.0h0M176.1 396.4h0M144.4 413.9h0M156.9 417.4h0M144.5 390.0h0M138.9 392.1h0M143.4 384.7h0M132.4 401.0h0M178.9 396.8h0M157.7 372.5h0M132.2 370.8h0M139.3 407.7h0M154.5 405.3h0M145.4 400.2h0M147.1 372.1h0M131.9 371.0h0M137.5 392.4h0M159.8 367.8h0M138.7 408.4h0M137.9 390.2h0M144.4 406.4h0M152.8 396.8h0M138.5 369.1h0M137.7 396.5h0M165.7 411.3h0M153.2 385.1h0M159.3 386.6h0M163.0 414.3h0M172.8 382.7h0M173.9 379.0h0M142.4 406.8h0M144.6 412.1h0M177.5 387.8h0M160.5 380.9h0M134.7 366.0h0M141.9 378.0h0M134.7 376.8h0M167.7 383.7h0M139.6 411.2h0M155.2 376.7h0M183.7 393.1h0M142.4 386.5h0M134.0 414.2h0M136.1 381.2h0M128.0 369.6h0M167.2 379.0h0M144.3 360.0h0M137.8 381.0h0M138.6 390.9h0M180.1 383.5h0M149.8 418.4h0M167.8 385.9h0M163.6 408.1h0M164.1 410.5h0M145.3 400.5h0M134.2 379.0h0M130.4 374.3h0M160.9 397.1h0M149.2 404.4h0M149.1 380.1h0M143.1 423.6h0M140.7 388.6h0M145.1 373.6h0M141.6 360.0h0M132.6 410.8h0M170.9 393.2h0M137.4 396.6h0M148.9 391.0h0M136.8 405.8h0M163.4 373.6h0M149.8 410.9h0M148.3 401.9h0M162.2 411.7h0M146.3 419.8h0M162.7 394.5h0M171.3 386.8h0M142.9 388.7h0M135.7 381.5h0M183.4 393.0h0M151.5 360.5h0M154.2 377.4h0M176.9 401.8h0M137.3 400.2h0M162.4 365.9h0M138.6 402.6h0M177.9 391.7h0M160.0 369.1h0M167.4 379.7h0M165.6 395.9h0M140.7 398.1h0M157.2 414.2h0M145.4 395.9h0M147.2 391.0h0M140.0 417.0h0M167.0 405.2h0M146.6 424.6h0M183.1 391.8h0M140.3 388.8h0M172.6 382.4h0M129.1 403.2h0M162.0 402.2h0M149.0 389.9h0M143.4 362.9h0M182.9 387.2h0M165.6 407.0h0M167.5 402.8h0M139.8 403.4h0M177.8 386.9h0M160.1 394.3h0M155.0 382.6h0M137.3 384.8h0M144.8 360.1h0M159.7 400.4h0M151.5 409.5h0M165.0 406.0h0M136.0 407.6h0M137.1 371.6h0M173.5 398.4h0M132.4 374.8h0M177.9 388.2h0M156.6 380.3h0M143.9 390.9h0M182.8 385.9h0M165.5 395.8h0M143.9 418.0h0M157.3 402.9h0M140.9 397.0h0M151.3 396.9h0M138.7 361.9h0M162.3 366.6h0M172.4 406.5h0M132.0 406.2h0M181.6 387.4h0M146.6 389.8h0M184.1 389.5h0M146.9 410.0h0M152.9 370.8h0M127.3 392.3h0M131.2 414.1h0M129.1 368.8h0M139.4 367.8h0M133.1 416.8h0M143.8 396.3h0M139.1 362.9h0M153.8 386.1h0M144.2 396.6h0M156.4 362.7h0M162.0 410.4h0M167.1 391.0h0M167.9 394.1h0M137.9 403.0h0M150.3 387.6h0M155.9 381.9h0M165.8 409.3h0M130.4 395.4h0M154.6 388.7h0M132.2 384.0h0M144.6 419.1h0M141.9 364.9h0M149.1 369.1h0M139.7 394.9h0M132.8 369.3h0M149.8 401.3h0M150.6 389.5h0M141.9 410.7h0M160.9 381.0h0M138.1 389.7h0M158.9 373.6h0M135.1 381.8h0M154.4 362.3h0M159.1 404.3h0M153.3 373.3h0M128.1 379.4h0M148.3 420.2h0M152.2 376.1h0M164.4 372.8h0M154.0 376.4h0M131.8 394.0h0M167.5 396.4h0M172.6 381.9h0M138.3 386.3h0M152.1 365.7h0M150.3 408.4h0M178.5 386.4h0M152.1 402.3h0M149.3 425.9h0M146.5 393.2h0M148.9 382.1h0M132.6 379.6h0M128.4 377.8h0M150.0 400.2h0M182.2 392.9h0M140.8 405.2h0M128.3 382.0h0M143.5 423.9h0M128.2 382.6h0M132.5 361.3h0M135.3 375.5h0M129.4 388.0h0M134.3 376.3h0M150.6 418.2h0M168.5 407.7h0M158.6 391.8h0M150.7 369.7h0M176.5 399.3h0M151.2 383.1h0M149.3 379.5h0M144.0 371.5h0M141.0 385.0h0M146.8 427.2h0M164.7 414.0h0M134.1 413.6h0M166.0 374.0h0M158.4 405.5h0M173.0 382.8h0M158.8 400.1h0M169.5 385.4h0M144.6 362.2h0M165.5 372.1h0M167.8 392.2h0M144.6 375.0h0M148.6 381.5h0M129.2 379.4h0M181.5 397.2h0M173.7 386.9h0M178.6 398.1h0M154.7 411.3h0M163.6 371.8h0M140.0 387.1h0M162.3 392.3h0M126.3 376.8h0M131.2 365.9h0M145.5 393.2h0M169.2 397.9h0M143.9 415.2h0M178.3 385.0h0M147.1 391.1h0M153.8 413.6h0M131.2 405.3h0M140.4 375.2h0M148.6 379.9h0M183.0 393.8h0M136.6 382.7h0M159.7 368.8h0M158.3 386.4h0M145.8 391.1h0M132.2 406.9h0M171.3 404.2h0M135.1 386.3h0M134.7 402.1h0M151.2 401.2h0M131.1 375.1h0M138.2 361.8h0M149.7 378.5h0M157.3 390.8h0M156.8 409.2h0M164.4 392.7h0M165.3 405.4h0M140.1 388.9h0M178.4 382.5h0M148.1 392.3h0M143.6 390.2h0M154.5 362.4h0M168.9 385.0h0M168.1 408.7h0M166.0 394.7h0M138.9 368.3h0M159.9 373.5h0M136.7 391.7h0M161.1 381.1h0M128.3 395.3h0M150.9 404.4h0M136.5 412.0h0M137.2 373.1h0M142.9 374.3h0M165.4 409.3h0M149.7 406.8h0M157.0 397.9h0M161.2 388.5h0M162.4 368.3h0M149.3 400.8h0M134.5 379.4h0M146.6 394.4h0M159.6 407.6h0M146.3 422.4h0M152.6 404.0h0M163.3 408.4h0M160.7 413.9h0M148.9 376.8h0M177.7 384.7h0M130.1 410.3h0M172.2 381.3h0M130.4 391.9h0M132.9 362.4h0M153.0 399.6h0M166.2 385.3h0M153.2 392.9h0M165.8 390.6h0M137.0 407.1h0M165.3 387.2h0M132.6 360.8h0M159.1 413.0h0M169.8 379.0h0M150.8 411.9h0M145.8 426.7h0M169.9 400.1h0M129.3 387.2h0M136.4 390.0h0M143.6 411.6h0M158.1 375.7h0M133.4 407.7h0M154.1 383.0h0M135.6 407.7h0M150.2 392.4h0M130.4 410.5h0M152.5 383.8h0M128.2 392.4h0M136.9 363.6h0M129.6 399.7h0M141.7 394.9h0M181.8 395.0h0M140.2 364.4h0M151.7 365.4h0M134.2 399.7h0M134.8 416.8h0M157.8 407.5h0M162.7 375.1h0M135.1 392.6h0M144.2 373.7h0M179.2 393.0h0M136.4 358.0h0M135.8 386.8h0M131.3 381.1h0M148.0 399.1h0M141.6 401.6h0M132.2 362.3h0M147.1 372.8h0M158.4 413.3h0M163.7 411.1h0M139.1 400.5h0M164.5 407.5h0M137.6 382.6h0M149.3 415.0h0M141.6 364.4h0M152.2 373.5h0M143.1 394.8h0M155.0 397.7h0M137.5 357.6h0M160.7 414.4h0M154.1 362.4h0M149.2 389.7h0M129.4 366.7h0M149.3 422.7h0M181.3 386.3h0M175.9 396.2h0M159.2 411.4h0M164.6 382.4h0M140.7 370.4h0M165.4 371.2h0M158.2 409.6h0M162.7 385.5h0M151.6 371.9h0M176.4 387.7h0M141.1 416.5h0M137.9 377.7h0M150.9 409.4h0M158.8 365.7h0M138.9 402.4h0M140.2 374.1h0M142.4 384.8h0M137.2 370.9h0M137.1 406.0h0M140.5 387.9h0M159.2 406.0h0M172.4 389.4h0M137.9 388.3h0M137.0 406.2h0M179.5 385.2h0M169.6 400.1h0M133.5 385.9h0M155.6 393.9h0M134.8 418.1h0M133.1 366.8h0M157.1 370.9h0M140.7 415.6h0M159.2 405.3h0M172.5 383.3h0M152.4 366.3h0M161.0 370.2h0M143.4 415.6h0M140.3 381.1h0M173.6 406.1h0M167.2 410.0h0M126.5 380.3h0M139.7 389.7h0M166.9 410.7h0M127.5 381.2h0M132.9 374.5h0M168.2 406.6h0M155.3 411.7h0M165.7 375.2h0M158.2 373.0h0M160.3 367.2h0M148.4 383.9h0M141.7 388.8h0M173.2 397.0h0M149.3 426.0h0M140.2 398.0h0M132.9 383.6h0M144.2 385.3h0M154.0 413.7h0M170.1 383.5h0M147.1 361.2h0M151.4 416.4h0M142.1 384.2h0M142.6 368.3h0M132.0 389.3h0M178.7 385.7h0M161.2 408.7h0M132.9 373.1h0M161.3 394.5h0M157.3 382.6h0M138.8 386.5h0M180.1 387.5h0M150.1 411.7h0M176.4 391.7h0M162.4 405.0h0M136.7 401.7h0M158.6 368.3h0M132.2 387.3h0M146.1 382.2h0M134.6 359.1h0M129.4 363.6h0M147.0 400.0h0M157.7 401.6h0M140.6 386.0h0M138.6 419.3h0M137.0 401.9h0M143.4 372.0h0M136.4 390.7h0M151.0 415.0h0M161.9 402.1h0M134.3 369.0h0M158.0 379.8h0M158.0 409.6h0M134.1 368.9h0M178.5 383.7h0M135.0 375.6h0M182.4 389.1h0M156.8 418.6h0M157.9 391.4h0M132.4 397.7h0M163.8 383.1h0M158.3 385.3h0M179.1 394.7h0M146.0 373.9h0M146.1 370.6h0M136.0 364.3h0M181.1 385.5h0M153.8 405.8h0M159.4 381.5h0M135.2 403.7h0M152.7 419.2h0M135.7 406.3h0M138.4 390.3h0M144.1 401.9h0M150.0 417.8h0M154.8 408.2h0M158.7 394.7h0M144.8 411.5h0M177.3 383.3h0M147.7 428.4h0M139.4 418.4h0M139.3 415.5h0M153.9 362.4h0M164.8 390.5h0M133.5 378.8h0M154.2 365.4h0M148.9 396.2h0M144.3 423.6h0M147.0 368.4h0M152.0 412.0h0M136.2 364.3h0M161.9 365.8h0M130.3 380.5h0M141.2 412.1h0M152.1 400.9h0M178.7 390.0h0M137.4 365.4h0M155.6 402.2h0M170.6 386.1h0M139.4 407.1h0M151.7 384.9h0M145.0 380.1h0M163.8 382.0h0M184.4 390.0h0M162.5 380.5h0M159.2 378.3h0M131.4 372.4h0M176.8 382.1h0M146.3 410.0h0M158.5 417.5h0M151.3 363.2h0M149.3 426.1h0M148.2 427.6h0M166.1 406.1h0M156.3 404.9h0M161.0 405.8h0M164.7 377.1h0M130.2 363.0h0M160.7 407.7h0M172.6 381.7h0M133.7 386.2h0M157.9 389.9h0M174.0 384.9h0M135.2 413.9h0M151.9 399.8h0M169.8 396.3h0M128.3 380.1h0M163.6 380.8h0M157.2 396.6h0M147.4 375.9h0M161.0 378.3h0M155.9 384.4h0M139.4 397.9h0M143.8 380.1h0M143.1 368.9h0M179.1 392.3h0M150.4 373.4h0M165.1 391.3h0M148.9 426.8h0M173.5 397.1h0M170.5 379.5h0M143.8 381.3h0M125.7 383.1h0M136.7 416.1h0M153.1 411.2h0M127.1 377.2h0" stroke="#858585" stroke-width="2.0" stroke-linecap="round" fill="none"/>
<path d="M146.3 360.3L147.2 360.0L148.3 359.9L149.6 360.0L151.1 360.1L152.9 360.4L154.7 360.9L156.4 361.6L158.1 362.5L159.7 363.6L161.2 364.8L162.6 366.1L163.7 367.6L164.7 369.2L165.6 370.8L166.4 372.3L167.2 373.8L167.8 375.2L168.1 376.5L168.2 377.7L167.9 378.8L167.3 379.7L166.6 380.4L165.6 380.6L164.4 380.6L163.0 380.1L161.6 379.5L160.2 378.8L158.7 377.9L157.3 376.9L155.8 375.9L154.4 374.7L153.1 373.5L151.8 372.2L150.6 370.9L149.6 369.7L148.6 368.6L147.8 367.5L147.1 366.4L146.5 365.2L146.0 363.9L145.6 362.6L145.5 361.5L145.8 360.8Z" fill="#C3C3C3" fill-opacity="0.9"/>
<path d="M173.9 379.7L176.1 379.5L178.0 379.7L179.6 380.2L180.9 381.2L181.9 382.5L182.8 384.0L183.5 385.6L184.0 387.3L184.3 389.2L184.4 390.9L184.3 392.5L184.0 394.0L183.5 395.4L182.8 396.6L181.9 397.6L180.9 398.5L179.7 399.2L178.5 399.5L177.3 399.3L176.2 398.8L175.1 397.8L174.1 396.6L173.3 395.2L172.6 393.6L172.0 391.7L171.5 389.8L171.2 387.7L171.0 385.6L170.9 383.3L171.3 381.6L172.4 380.4Z" fill="#C3C3C3" fill-opacity="0.9"/>
<path d="M160.0 390.4L161.7 389.7L163.4 389.3L165.2 389.3L167.0 389.7L168.8 390.4L170.3 391.2L171.6 392.2L172.6 393.4L173.4 394.8L174.1 396.1L174.8 397.3L175.4 398.4L176.0 399.4L176.3 400.4L176.1 401.3L175.7 402.1L174.8 402.8L173.8 403.6L172.7 404.3L171.6 405.1L170.3 405.8L169.0 406.5L167.6 407.3L166.3 407.9L164.9 408.6L163.7 408.9L162.5 408.9L161.6 408.5L160.7 407.8L160.0 406.9L159.3 405.6L158.6 404.2L158.1 402.4L157.7 400.6L157.4 398.7L157.3 396.7L157.4 394.6L157.8 392.9L158.7 391.5Z" fill="#C3C3C3" fill-opacity="0.9"/>
<path d="M149.1 365.3h0M157.5 363.3h0M162.2 374.7h0M154.4 363.8h0M152.8 363.8h0M162.5 378.9h0M163.6 377.4h0M156.0 369.5h0M164.9 380.0h0M151.2 364.3h0M152.3 371.9h0M149.7 368.9h0M152.0 362.7h0M153.0 368.8h0M162.4 375.5h0M164.4 380.2h0M153.9 368.8h0M152.9 365.6h0M153.1 360.2h0M153.6 366.4h0M156.1 369.3h0M148.4 359.4h0M154.6 365.2h0M159.5 363.1h0M154.5 372.4h0M163.8 380.0h0M155.0 362.6h0M165.4 373.8h0M164.4 376.3h0M156.4 367.6h0M164.7 369.9h0M155.7 374.5h0M156.6 370.8h0M156.4 364.8h0M164.8 376.3h0M167.2 377.2h0M157.6 368.0h0M149.9 363.6h0M149.3 360.2h0M166.1 375.5h0M161.2 373.0h0M165.4 380.0h0M157.0 376.3h0M157.2 371.1h0M166.3 375.3h0M154.3 365.7h0M162.1 368.5h0M167.9 373.7h0M152.1 373.0h0M159.1 374.4h0M162.6 373.9h0M159.5 367.9h0M166.3 374.3h0M157.8 370.4h0M159.4 366.6h0M167.4 376.3h0M152.3 365.2h0M164.2 368.7h0M157.3 371.6h0M164.0 377.7h0M146.6 361.8h0M156.6 373.0h0M156.4 360.9h0M161.5 375.6h0M154.7 373.8h0M163.7 376.2h0M164.0 369.8h0M161.3 379.8h0M159.1 366.5h0M145.7 363.8h0M151.8 368.9h0M149.5 368.1h0M153.7 373.3h0M166.6 378.2h0M159.3 371.6h0M155.3 368.1h0M154.6 369.1h0M157.2 370.8h0M159.8 369.6h0M155.1 366.5h0M152.7 366.9h0M161.4 372.1h0M148.5 360.9h0M154.3 368.7h0M160.3 377.2h0M148.3 360.7h0M156.3 365.3h0M146.0 362.9h0M162.8 374.5h0M154.2 369.7h0M152.6 370.5h0M165.9 377.5h0M162.7 372.6h0M159.4 364.7h0M167.2 377.4h0M160.4 367.8h0M150.6 369.1h0M166.2 375.8h0M154.3 367.0h0M165.2 376.4h0M165.4 375.6h0M150.5 362.7h0M157.0 375.2h0M158.8 375.8h0M152.3 361.9h0M158.5 373.5h0M149.3 365.9h0M164.5 376.2h0M150.6 364.8h0M158.4 366.6h0M149.4 362.9h0M161.6 377.7h0M160.1 376.7h0M158.7 370.2h0M167.3 375.7h0M159.4 370.2h0M158.0 377.4h0M167.0 376.2h0M163.4 367.9h0M165.2 372.6h0M161.5 370.3h0M155.2 372.5h0M164.3 377.7h0M165.2 371.1h0M158.4 369.1h0M155.2 365.7h0M159.5 368.0h0M145.8 361.2h0M146.7 367.1h0M162.9 376.0h0M167.0 374.1h0M163.8 379.4h0M163.1 372.1h0M165.8 375.0h0M149.8 361.2h0M161.3 369.5h0M158.3 374.6h0M152.7 369.8h0M160.6 375.0h0M155.5 362.5h0M154.1 365.2h0M156.3 362.7h0M149.1 361.7h0M155.1 374.6h0M154.7 370.5h0M164.9 377.6h0M159.3 369.8h0M154.9 371.1h0M152.4 371.3h0M163.8 375.5h0M167.5 378.6h0M150.3 364.1h0M158.0 367.4h0M151.1 365.1h0M161.3 372.5h0M148.1 367.0h0M154.1 373.1h0M165.5 378.6h0M159.8 378.6h0M152.3 366.3h0M168.6 375.9h0M154.8 363.9h0M158.7 368.4h0M154.1 371.4h0M159.9 367.2h0M151.0 370.0h0M155.7 364.5h0M155.4 372.5h0M163.1 373.5h0M155.5 363.0h0M151.4 364.5h0M166.9 373.7h0M155.0 368.8h0M156.1 365.1h0M152.7 366.2h0M153.1 371.9h0M150.8 359.9h0M157.1 365.2h0M158.9 372.1h0M150.6 370.0h0M159.9 366.3h0M150.5 365.6h0M147.7 361.5h0M150.8 361.9h0M162.9 367.6h0M162.1 368.2h0M156.9 362.9h0M155.8 366.2h0M156.6 375.1h0M148.5 363.7h0M149.0 364.8h0M148.1 363.3h0M156.6 373.3h0M152.6 364.7h0M156.6 374.2h0M154.6 370.9h0M154.7 365.4h0M159.8 372.8h0M167.5 378.3h0M165.6 379.3h0M147.8 366.0h0M164.2 379.1h0M148.5 368.2h0M151.6 365.7h0M154.7 375.5h0M155.7 371.1h0M162.8 366.9h0M164.3 376.8h0M157.2 372.7h0M162.1 374.8h0M150.1 367.3h0M153.1 362.8h0M157.0 375.5h0M154.6 368.2h0M149.4 362.3h0M155.6 372.9h0M157.1 367.7h0M166.8 373.4h0M158.2 375.4h0M161.1 374.2h0M153.6 361.8h0M157.6 372.9h0M153.9 360.0h0M155.9 365.9h0M162.5 376.8h0M157.7 362.7h0M150.7 370.7h0M159.0 369.8h0M163.0 371.2h0M154.9 369.9h0M148.1 368.5h0M160.6 376.6h0" stroke="#C3C3C3" stroke-width="2.0" stroke-linecap="round" fill="none"/>
<path d="M173.9 390.2h0M177.0 384.6h0M180.9 381.8h0M176.1 382.4h0M182.2 395.7h0M183.0 388.8h0M176.7 380.9h0M178.0 393.4h0M171.9 389.9h0M172.5 384.7h0M184.0 394.0h0M177.3 393.4h0M173.9 389.7h0M182.6 397.5h0M179.8 393.6h0M172.9 393.1h0M179.9 392.5h0M173.1 389.7h0M180.3 384.3h0M176.5 395.9h0M178.5 380.0h0M179.8 389.6h0M174.7 390.0h0M178.8 391.4h0M174.3 389.2h0M172.8 382.2h0M181.3 391.4h0M176.8 381.2h0M180.5 395.7h0M173.4 387.7h0M176.5 394.1h0M178.8 382.3h0M181.6 391.1h0M177.7 391.0h0M177.4 390.5h0M177.4 396.5h0M177.8 384.4h0M181.3 382.1h0M176.8 396.1h0M175.9 387.9h0M182.2 397.9h0M178.1 383.4h0M177.9 389.8h0M175.8 386.1h0M177.9 388.4h0M176.1 383.5h0M183.8 392.2h0M175.1 384.1h0M179.8 381.6h0M181.3 393.3h0M176.1 388.1h0M180.8 384.4h0M173.1 392.7h0M181.2 382.4h0M178.0 386.4h0M183.1 384.2h0M181.1 395.7h0M172.8 382.8h0M175.0 389.3h0M177.2 386.9h0M176.2 394.1h0M181.9 393.1h0M176.2 384.0h0M175.4 387.5h0M177.9 393.6h0M170.6 385.9h0M174.4 387.1h0M177.8 382.8h0M182.2 396.1h0M174.3 389.4h0M176.3 394.7h0M175.5 381.0h0M177.4 389.8h0M172.5 386.8h0M173.9 382.1h0M180.2 382.1h0M173.1 384.0h0M177.3 392.3h0M178.3 393.2h0M175.2 383.6h0M183.9 393.5h0M176.6 388.8h0M180.7 397.5h0M181.0 390.4h0M176.3 385.3h0M171.5 385.9h0M173.3 389.4h0M173.9 384.5h0M177.9 397.7h0M177.6 381.2h0M180.0 387.9h0M174.5 382.6h0M178.4 380.2h0M178.4 382.1h0M177.7 399.2h0M174.7 388.2h0M172.9 387.3h0M179.3 397.2h0M182.0 395.5h0M175.0 396.2h0M181.4 395.9h0M174.1 388.2h0M173.2 384.2h0M180.1 394.8h0M176.1 388.8h0M171.0 385.6h0M175.0 390.1h0M177.2 398.0h0M173.8 393.2h0M181.5 398.3h0M173.0 384.5h0M171.4 382.9h0M178.7 387.0h0M179.2 389.4h0M174.7 380.2h0M175.6 384.2h0M175.1 389.2h0M177.8 388.2h0M175.9 389.8h0M178.4 398.0h0M175.7 392.8h0M177.2 396.8h0M179.1 384.4h0M176.5 383.0h0M180.8 388.7h0M179.4 386.7h0M177.9 394.7h0M181.1 384.9h0M183.0 384.9h0M176.4 391.8h0M175.5 386.3h0M177.4 391.2h0M182.4 391.4h0M175.2 384.8h0M177.4 391.5h0M176.3 383.6h0M177.9 396.8h0M172.4 392.0h0M176.0 396.7h0M174.1 389.9h0M184.2 389.6h0M179.0 395.2h0M171.8 384.5h0M176.3 387.5h0M177.0 391.8h0M181.3 392.7h0M177.9 394.5h0M173.4 383.9h0M181.3 388.7h0M173.6 391.2h0M176.8 399.2h0M174.7 383.0h0M172.7 387.0h0M172.6 394.8h0M178.4 383.7h0M180.6 386.4h0M172.0 389.5h0M182.8 395.8h0M176.8 382.9h0M178.1 390.0h0M183.0 384.8h0M180.0 389.0h0M173.1 393.7h0M175.5 382.8h0M182.6 383.9h0M183.1 394.6h0M175.3 395.9h0M181.0 385.6h0M177.0 382.9h0M176.0 386.6h0M174.3 390.9h0M177.5 385.2h0M173.4 386.0h0M180.2 383.6h0M173.4 387.7h0M180.6 395.6h0M172.8 389.7h0M182.6 395.2h0M179.7 389.9h0M177.0 396.8h0M178.5 396.5h0M177.1 391.9h0M182.7 391.4h0M177.3 397.9h0M174.0 385.5h0M178.3 387.2h0M178.1 395.7h0" stroke="#C3C3C3" stroke-width="2.0" stroke-linecap="round" fill="none"/>
<path d="M172.9 399.3h0M172.5 395.2h0M163.6 393.5h0M173.3 397.2h0M165.1 405.5h0M165.1 402.7h0M168.6 397.5h0M162.9 397.7h0M166.9 391.5h0M160.7 397.7h0M163.9 404.2h0M169.6 400.0h0M165.4 395.8h0M168.3 394.0h0M161.3 405.5h0M162.7 395.9h0M162.7 398.8h0M161.7 406.2h0M165.8 405.2h0M160.9 404.0h0M173.1 396.4h0M158.4 396.6h0M162.2 396.0h0M164.4 396.0h0M173.1 399.0h0M164.2 399.9h0M163.1 390.0h0M161.4 406.6h0M163.3 397.7h0M164.5 391.7h0M164.1 389.5h0M166.8 391.9h0M163.4 389.6h0M161.8 405.1h0M161.3 403.3h0M164.5 405.3h0M169.7 404.5h0M160.6 404.2h0M163.5 402.1h0M165.1 393.7h0M163.1 403.1h0M162.8 396.7h0M168.4 403.8h0M174.1 396.7h0M170.4 400.3h0M166.2 392.0h0M169.4 399.6h0M161.7 392.9h0M168.7 403.9h0M173.7 397.1h0M162.9 399.5h0M165.1 391.2h0M165.5 395.2h0M168.9 395.3h0M169.0 392.1h0M168.9 397.0h0M164.6 408.1h0M162.9 396.1h0M159.3 402.3h0M171.2 395.5h0M161.9 390.7h0M159.7 397.1h0M164.7 402.4h0M161.0 403.7h0M168.2 397.8h0M171.3 393.3h0M170.2 404.0h0M174.2 398.0h0M168.5 394.8h0M171.0 398.9h0M175.5 399.8h0M172.9 400.1h0M170.3 401.5h0M171.3 404.5h0M170.5 392.1h0M160.0 403.1h0M170.0 399.0h0M169.6 406.7h0M163.4 392.9h0M164.6 396.1h0M165.8 395.1h0M167.9 396.7h0M165.5 403.1h0M162.0 395.8h0M164.5 405.9h0M165.1 395.5h0M169.3 396.0h0M168.2 406.5h0M166.1 394.6h0M168.0 405.8h0M167.3 397.3h0M170.8 395.2h0M164.3 397.2h0M159.4 394.8h0M160.0 394.0h0M174.8 403.2h0M160.5 403.8h0M164.3 409.0h0M165.2 393.7h0M168.8 398.5h0M162.0 391.1h0M167.4 403.9h0M165.1 397.7h0M167.9 398.3h0M171.5 397.5h0M172.1 405.1h0M164.4 402.8h0M167.0 392.6h0M163.7 392.6h0M163.3 398.1h0M165.1 404.1h0M167.6 403.9h0M169.7 399.1h0M158.0 392.7h0M168.2 401.8h0M166.7 404.5h0M169.9 396.7h0M167.9 396.4h0M162.6 399.0h0M163.5 394.5h0M163.9 407.7h0M160.8 404.1h0M173.5 400.0h0M161.5 395.6h0M162.5 400.7h0M162.9 399.4h0M167.2 395.9h0M165.7 398.2h0M163.5 400.9h0M163.8 397.9h0M164.9 393.2h0M172.8 400.5h0M160.1 399.7h0M163.7 397.5h0M165.4 403.4h0M160.7 397.9h0M170.1 391.5h0M161.9 396.8h0M160.2 397.9h0M163.4 394.1h0M161.5 404.0h0M161.4 402.3h0M170.6 397.9h0M164.1 392.8h0M160.3 403.7h0M171.8 394.0h0M168.3 391.3h0M163.4 395.9h0M162.5 402.7h0M158.6 403.7h0M165.6 393.9h0M162.3 394.1h0M171.6 393.2h0M164.1 396.1h0M171.6 396.0h0M170.4 396.4h0M173.3 397.9h0M169.8 397.1h0M173.9 401.1h0M169.7 403.5h0M172.6 400.0h0M170.0 402.8h0M164.9 404.2h0M163.5 394.9h0M170.8 399.0h0M170.5 403.0h0M165.5 390.1h0M164.8 390.2h0M168.2 403.2h0M169.5 398.4h0M159.8 396.2h0M164.1 406.7h0M166.2 396.4h0M169.7 396.2h0M164.0 391.4h0M167.2 395.2h0M166.6 393.0h0M164.1 406.4h0M164.0 403.0h0M163.3 390.2h0M160.5 401.8h0M168.5 404.8h0M165.1 395.7h0M166.0 402.3h0M159.6 391.3h0M172.1 402.6h0M172.1 396.8h0M161.8 407.7h0M161.4 406.6h0M160.5 396.4h0M167.6 393.0h0M161.9 406.1h0M161.5 389.2h0M161.9 400.9h0M161.8 403.3h0M166.1 407.4h0M170.3 400.7h0M169.8 405.3h0M160.3 393.4h0M162.4 392.9h0M168.7 398.8h0M157.9 394.2h0M164.4 407.4h0M161.3 404.9h0M163.0 407.6h0M166.7 398.8h0M171.0 398.5h0M163.7 407.5h0M164.2 391.5h0M169.6 404.4h0M162.4 400.1h0M162.4 403.9h0M164.1 400.9h0M167.2 405.0h0M158.9 390.9h0M164.7 389.9h0M166.7 398.9h0M171.1 399.2h0M167.8 402.8h0M158.6 392.1h0M162.2 394.0h0M165.5 405.7h0M161.1 393.0h0M161.8 397.0h0M157.7 398.2h0M160.9 403.5h0M171.2 392.1h0M168.1 395.3h0M163.5 389.7h0M159.9 390.9h0M167.1 398.9h0M160.8 405.1h0M173.5 398.8h0M166.7 405.3h0M166.1 394.4h0M169.1 396.5h0M166.4 402.9h0M163.4 393.7h0M170.1 397.5h0M165.6 394.8h0M162.6 396.0h0M170.9 392.3h0" stroke="#C3C3C3" stroke-width="2.0" stroke-linecap="round" fill="none"/>
<path d="M153.8 382.2h0M163.2 380.8h0M160.1 378.0h0M168.9 385.0h0M160.3 381.6h0M165.7 383.6h0M164.4 387.2h0M156.5 377.1h0M163.8 383.8h0M160.4 378.5h0M164.4 381.0h0M159.5 381.6h0M152.2 374.9h0M160.8 383.1h0M167.5 388.7h0M158.9 379.3h0M166.1 385.6h0M160.3 385.8h0M150.8 375.6h0M167.4 388.5h0M165.1 387.4h0M160.7 386.9h0M164.0 381.0h0M152.1 374.6h0M150.5 375.5h0M152.6 379.6h0M160.1 379.0h0M165.0 382.9h0M166.3 387.4h0M164.9 381.2h0M166.2 386.8h0M164.3 386.3h0M166.3 383.5h0M166.2 383.2h0M154.3 379.9h0M163.0 379.6h0M159.7 376.1h0M153.8 380.1h0M156.8 378.3h0M166.2 385.4h0M168.0 386.6h0M166.0 383.9h0" stroke="#C3C3C3" stroke-width="2.0" stroke-linecap="round" fill="none"/>
<path d="M167.6 386.8h0M150.2 375.4h0M168.5 383.6h0M168.5 385.8h0M159.1 384.0h0M162.5 383.7h0M151.5 378.1h0M156.0 380.6h0M153.0 373.8h0M154.2 373.6h0M154.0 374.2h0M161.0 386.0h0M165.9 383.8h0M156.6 375.4h0M159.8 378.9h0M152.2 378.0h0M154.3 375.1h0M164.0 383.1h0M162.6 386.2h0M165.3 381.9h0M165.6 382.2h0M164.6 382.3h0M164.2 382.0h0M154.9 375.8h0" stroke="#858585" stroke-width="2.0" stroke-linecap="round" fill="none"/>
<path d="M151.6 385.7h0M154.7 386.6h0M153.2 384.7h0M165.8 385.7h0M169.5 388.0h0M167.4 390.4h0M164.4 383.6h0M160.4 387.0h0M171.8 385.3h0M162.8 390.4h0" stroke="#fff" stroke-width="1.9" stroke-linecap="round" fill="none"/>
<path d="M127.4 370.6L129.3 371.0L131.4 371.8L133.7 373.1L136.2 374.5L138.8 375.8L141.0 378.0L142.6 380.9L143.6 384.3L144.0 388.4L144.4 392.1L144.8 395.4L145.4 398.8L146.0 402.2L146.7 405.5L147.4 408.9L148.1 412.2L148.7 415.6L148.2 417.8L146.4 418.9L143.9 419.7L140.5 420.1L137.3 419.6L134.3 418.2L131.9 416.2L130.1 413.3L129.2 410.2L129.2 406.9L128.5 402.5L127.1 397.1L126.1 391.7L125.5 386.3L125.5 380.3L126.1 373.8Z" fill="#7BAE0B" fill-opacity="0.95"/>
<path d="M130.2 389.2h0M131.3 392.4h0M128.0 387.7h0M132.3 405.2h0M130.8 386.4h0M138.9 419.9h0M125.6 381.2h0M139.6 406.1h0M131.5 402.2h0M128.4 396.8h0M136.3 416.4h0M145.8 413.4h0M135.5 413.2h0M127.1 378.7h0M142.9 406.0h0M133.9 377.3h0M146.3 403.1h0M135.4 395.4h0M138.6 410.7h0M128.0 386.4h0M131.9 409.9h0M135.1 405.7h0M141.8 415.6h0M139.8 388.6h0M138.0 400.7h0M127.0 380.4h0M136.9 399.8h0M125.9 386.0h0M128.7 380.8h0M137.2 413.2h0M148.8 417.3h0M128.2 387.5h0M133.9 391.9h0M142.8 394.7h0M134.6 412.4h0M140.3 407.7h0M137.7 384.3h0M143.7 414.1h0M131.2 387.9h0M140.0 391.7h0M138.3 376.3h0M143.0 403.1h0M135.9 408.6h0M145.7 408.6h0M144.9 400.5h0M127.1 382.6h0M141.9 416.3h0M133.9 397.7h0M140.6 384.9h0M137.4 403.1h0M131.4 379.4h0M141.5 380.6h0M132.6 413.6h0M129.2 408.1h0M140.8 382.1h0M131.5 391.7h0M136.0 397.8h0M147.1 412.2h0M137.7 383.2h0M142.0 392.9h0M140.5 381.6h0M127.9 373.1h0M144.7 406.8h0M133.8 405.8h0M133.4 391.0h0M135.6 386.5h0M139.1 398.4h0M137.6 378.1h0M138.3 403.3h0M131.6 404.9h0M130.0 391.6h0M132.5 376.7h0M126.6 386.9h0M133.9 373.9h0M136.7 409.7h0M126.8 382.5h0M127.8 394.5h0M132.2 378.0h0M137.7 393.3h0M143.3 413.6h0M134.2 381.7h0M134.7 397.2h0M140.2 403.6h0M129.6 388.8h0M136.6 398.8h0M128.3 397.2h0M127.6 394.1h0M128.8 391.1h0M140.7 409.7h0M141.1 390.2h0M135.8 389.9h0M137.0 401.0h0M136.2 409.8h0M137.8 415.1h0M140.8 398.1h0M136.5 388.0h0M135.2 397.8h0M127.2 397.4h0M134.7 418.1h0M131.8 403.7h0M130.6 382.6h0M141.4 389.1h0M141.2 387.0h0M126.0 393.8h0M133.4 382.8h0M127.6 375.2h0M132.1 376.4h0M143.0 386.1h0M127.6 379.8h0M134.5 407.7h0M137.5 392.7h0M136.9 418.5h0M130.7 414.4h0M127.8 396.8h0M127.6 386.2h0M131.9 394.0h0M143.7 390.4h0M135.5 411.4h0M141.8 403.0h0M132.6 372.6h0M142.5 416.3h0M128.0 389.0h0M145.3 415.2h0M143.8 386.2h0M138.7 392.7h0M127.3 397.1h0M135.0 376.6h0M132.8 390.3h0M128.0 392.2h0M127.1 389.1h0M130.0 376.6h0M131.2 413.3h0M143.9 394.1h0M133.0 413.3h0M133.6 406.9h0M133.6 402.0h0M128.7 389.7h0M132.3 411.3h0M133.2 407.1h0M138.0 393.3h0M140.0 409.0h0M135.7 383.2h0M137.1 390.7h0M136.2 378.9h0M144.8 394.7h0M129.1 385.3h0M141.0 405.0h0M128.9 396.6h0M129.8 402.9h0M135.1 377.5h0M128.4 395.3h0M145.6 402.3h0M131.1 381.0h0M137.7 385.8h0M134.0 389.5h0M137.6 380.0h0M134.2 380.2h0M138.3 405.7h0M143.6 416.0h0M139.3 383.3h0M145.8 410.7h0M125.6 392.5h0M137.6 419.0h0M136.6 384.7h0M133.4 375.4h0M133.1 384.3h0M128.9 381.8h0M144.5 399.8h0M131.4 385.1h0M131.9 400.0h0M140.4 386.5h0M144.1 397.4h0M127.9 372.6h0M134.0 397.2h0M145.3 407.5h0M136.2 404.5h0M134.1 375.7h0M135.2 385.6h0M138.7 416.0h0M133.5 377.1h0M135.4 417.9h0M132.4 381.6h0M131.0 403.2h0M125.0 380.4h0M129.6 387.3h0M132.0 381.6h0M128.2 395.0h0M140.8 415.3h0M136.2 416.3h0M129.2 373.7h0M146.1 417.2h0M140.3 379.7h0M129.0 372.7h0M141.8 393.6h0M140.1 414.0h0M130.6 380.1h0M144.0 418.6h0M129.5 402.4h0M137.6 396.9h0M142.0 415.8h0M139.0 380.5h0M136.7 383.0h0M130.8 385.2h0M131.6 394.1h0M139.7 391.8h0M135.9 377.9h0M129.6 371.6h0M130.7 375.8h0M133.1 408.3h0M138.9 411.8h0M137.7 392.2h0M141.4 396.9h0M133.7 417.1h0M130.2 407.3h0M127.2 375.6h0M126.2 385.7h0M131.6 405.1h0M133.3 390.6h0M145.7 415.4h0M127.7 373.8h0M145.1 415.9h0M142.4 390.3h0M137.7 400.7h0M131.2 391.2h0M142.0 416.7h0M133.2 376.0h0M130.4 401.1h0M129.8 391.3h0M130.5 398.4h0M141.3 405.0h0M136.8 416.9h0M130.6 403.9h0M131.5 373.5h0M133.8 397.4h0M142.2 396.5h0M136.6 419.1h0M138.0 405.6h0M134.5 411.5h0M131.1 405.9h0M132.9 374.4h0M142.3 405.2h0M135.1 404.5h0M144.7 410.0h0M132.6 372.3h0M142.1 402.7h0M143.7 404.7h0M129.8 387.3h0M138.9 410.5h0M131.4 410.3h0M145.1 403.7h0M132.5 378.3h0M135.1 396.1h0M139.5 408.8h0M145.0 406.1h0M139.3 412.8h0M128.6 398.7h0M145.0 399.4h0M141.8 399.4h0M131.4 385.6h0M141.2 382.2h0M144.0 414.5h0M125.5 384.4h0M136.8 382.6h0M131.3 396.6h0M145.1 404.1h0M139.8 402.8h0M132.6 386.2h0M130.8 405.4h0M143.5 384.4h0M133.2 409.7h0M127.0 391.7h0M134.1 413.2h0M130.4 393.4h0M138.2 389.6h0M133.2 403.6h0M140.9 417.8h0M142.4 394.1h0M128.5 379.4h0M137.1 382.4h0M130.9 389.8h0M127.7 387.3h0M131.3 391.5h0M136.9 385.9h0M144.4 409.0h0M130.7 406.4h0M134.5 378.0h0M139.0 398.9h0M127.3 395.8h0M126.3 378.5h0M131.3 397.9h0M137.0 375.8h0M131.4 375.2h0M142.2 415.1h0M134.7 378.8h0M138.7 419.2h0M136.4 376.0h0M126.5 386.4h0M141.4 417.0h0M141.5 407.8h0M137.9 387.1h0M133.9 394.3h0M131.0 388.5h0M136.7 413.0h0M139.1 416.9h0M139.3 407.3h0M138.0 378.1h0M134.3 398.2h0M140.3 406.2h0M141.7 407.9h0M128.7 389.4h0M133.3 390.6h0M138.1 402.6h0M128.4 376.3h0M137.2 389.5h0M142.0 404.6h0M143.9 408.4h0M141.2 387.1h0M133.9 389.8h0M132.3 376.7h0M141.6 407.5h0M126.7 384.3h0M141.4 419.0h0M142.3 391.1h0M146.5 416.8h0M132.6 407.1h0M130.9 399.4h0M138.1 406.2h0M146.0 405.7h0M142.1 403.0h0M129.0 397.7h0M141.8 383.0h0M129.6 402.5h0M142.8 395.7h0M131.9 413.6h0M127.9 381.7h0M146.4 414.6h0M137.1 403.5h0M134.3 405.0h0M141.3 407.5h0M132.5 402.6h0M127.8 377.3h0M126.4 375.8h0M128.1 384.2h0M135.2 403.5h0M130.9 389.5h0M139.7 397.1h0M139.8 390.3h0M130.8 394.7h0M141.4 419.9h0M137.2 405.8h0M143.0 413.4h0M129.1 383.8h0M141.7 405.2h0M126.3 392.0h0M136.3 407.1h0M142.3 385.4h0M138.7 385.6h0M141.7 408.8h0M140.7 397.4h0M126.0 392.3h0M142.0 392.9h0M137.4 403.2h0M134.6 408.9h0M133.7 399.5h0M126.5 393.0h0M146.7 408.9h0M134.6 406.1h0M130.0 396.7h0M129.1 400.8h0M147.8 413.5h0M137.0 413.8h0M141.8 409.7h0M137.8 416.0h0M126.6 381.1h0M128.3 392.7h0M146.4 403.7h0M128.4 382.5h0M142.2 408.8h0M138.5 384.4h0M141.9 412.3h0M131.2 413.5h0M135.1 391.6h0M129.9 398.8h0M142.4 419.7h0M127.5 374.1h0M143.5 403.4h0M138.3 393.0h0M139.1 383.9h0M128.0 377.3h0M144.3 399.8h0M145.9 409.1h0M135.4 378.8h0M143.3 409.1h0M145.8 412.4h0M141.7 402.7h0M137.7 375.7h0M133.2 375.3h0M141.0 405.2h0M133.7 412.3h0M134.7 405.0h0M134.9 377.6h0M134.7 395.7h0M138.4 383.2h0M140.3 382.4h0M144.5 414.5h0M141.6 385.0h0M142.1 385.8h0M138.5 414.1h0M129.6 408.0h0M146.8 405.1h0M129.6 391.4h0M138.8 397.0h0M138.5 389.3h0M131.8 383.3h0M137.7 376.1h0M138.4 398.3h0M131.9 380.2h0M133.0 410.7h0M128.9 394.1h0M131.6 376.6h0M127.2 376.3h0M131.9 379.2h0M145.6 416.0h0M134.7 405.8h0M139.2 414.1h0M131.0 405.6h0M134.1 382.0h0M127.2 381.6h0M135.0 377.4h0M138.8 412.9h0M127.1 382.0h0M125.4 382.0h0M138.3 388.8h0M141.7 403.9h0M140.8 396.1h0M141.1 387.8h0M144.4 399.2h0M144.5 395.9h0M142.2 386.5h0M131.0 386.2h0M135.4 384.6h0M129.1 379.1h0M136.0 415.4h0M131.9 391.4h0M125.9 384.7h0M130.1 408.7h0M145.4 403.8h0M140.2 408.8h0M141.8 396.5h0M134.2 385.4h0M127.8 393.6h0M138.1 408.7h0M132.9 384.7h0M136.1 415.3h0M128.3 400.9h0M127.5 380.9h0M129.5 408.5h0M136.8 404.9h0M127.4 389.0h0M131.9 400.1h0M133.4 415.4h0M131.8 398.6h0M142.9 384.5h0M139.7 395.8h0M144.0 393.2h0M137.4 402.7h0M127.2 379.9h0M140.8 387.3h0M136.5 375.6h0M134.3 377.2h0M144.9 412.6h0M140.8 413.7h0M134.3 403.5h0M137.5 380.9h0M140.5 389.8h0M136.6 395.8h0M132.9 381.9h0M129.5 385.4h0M134.9 416.1h0M131.3 376.5h0M136.9 404.2h0M141.6 412.8h0M142.5 391.7h0M137.1 410.7h0M125.9 381.6h0M132.3 386.5h0M141.8 414.8h0M136.2 414.9h0M129.6 381.8h0M129.7 383.9h0M130.0 384.6h0M141.9 390.7h0M129.5 404.8h0M138.5 406.1h0M128.6 379.2h0M142.8 387.3h0M135.7 397.8h0M132.7 403.1h0M128.8 401.5h0M144.5 405.3h0M140.4 419.2h0M133.7 402.3h0M130.6 376.2h0M132.3 381.5h0M132.9 416.7h0M139.8 385.7h0M133.6 384.8h0M135.4 399.2h0M142.9 412.6h0M137.9 404.6h0M143.6 397.9h0M144.6 406.1h0M135.9 397.5h0M139.8 405.7h0M141.8 414.0h0M132.2 408.4h0M128.8 406.4h0M144.0 408.9h0M139.2 403.6h0M137.5 409.1h0M130.5 408.3h0M129.8 412.4h0M128.5 383.2h0M128.7 395.6h0M133.0 380.0h0M142.7 415.0h0M141.5 390.4h0M138.0 418.3h0M134.9 417.5h0M135.0 379.6h0M137.7 382.1h0M142.4 401.6h0M144.3 418.6h0M129.9 385.1h0M142.5 414.0h0M133.8 410.9h0M131.3 374.6h0M138.7 406.1h0M134.9 387.0h0M128.0 397.2h0M133.2 405.2h0M131.2 398.1h0M135.3 399.8h0M136.3 409.2h0M131.9 409.4h0M135.1 404.3h0M130.4 402.7h0M140.1 379.0h0M143.9 387.9h0M134.9 378.5h0M144.4 397.7h0M132.6 373.0h0M137.8 402.0h0M139.5 399.8h0M132.9 394.4h0M126.9 396.4h0M142.3 403.7h0M131.9 397.4h0M145.3 403.3h0M129.4 401.3h0M136.5 414.9h0M139.0 386.1h0M130.8 393.8h0M133.5 412.8h0M130.8 391.3h0M131.1 383.4h0M142.1 404.9h0M144.4 419.5h0M129.6 374.0h0M134.5 392.3h0M140.1 406.8h0M143.2 407.5h0M139.0 396.7h0M127.8 394.1h0M145.9 408.9h0M141.2 408.8h0M133.2 401.3h0M126.1 377.6h0M133.2 382.6h0M136.8 392.0h0M144.1 397.1h0M130.5 374.8h0M146.8 406.9h0M147.4 414.4h0M137.9 414.7h0M132.7 377.2h0M133.4 383.4h0M134.8 389.3h0M142.8 381.2h0M137.1 418.6h0M138.7 386.6h0M140.5 381.1h0M134.5 411.7h0M141.9 383.1h0M133.6 392.0h0M135.3 375.9h0M141.7 384.9h0M133.5 396.4h0M131.7 383.6h0M131.0 383.4h0M133.4 382.0h0M139.0 414.1h0M140.8 397.7h0M129.3 391.0h0M127.6 374.3h0M142.7 386.1h0M142.7 394.9h0M139.4 406.2h0M142.7 407.3h0M128.0 380.8h0M134.9 386.7h0M139.8 386.2h0M136.3 382.0h0M132.0 405.9h0M132.4 395.0h0M143.6 397.1h0M138.2 395.9h0M131.2 384.1h0M143.3 384.4h0M138.1 389.1h0M129.1 410.2h0M136.2 401.5h0M140.7 401.8h0M132.1 394.8h0M141.8 385.3h0M140.7 417.1h0M132.6 400.8h0M129.8 371.7h0M135.4 379.4h0M129.3 396.5h0M129.2 381.4h0M140.1 412.8h0M135.3 415.3h0M136.6 394.2h0M135.9 417.3h0M134.8 405.3h0M139.7 396.8h0M134.8 386.4h0M131.7 380.8h0M135.8 418.1h0M129.8 398.6h0M130.9 413.6h0M132.0 393.0h0M137.4 380.6h0M136.9 382.8h0M125.3 380.5h0M131.2 388.6h0M148.6 415.0h0M139.9 396.1h0M141.8 396.5h0M134.2 376.8h0M134.8 375.3h0M138.1 390.3h0M129.5 387.4h0M142.4 392.5h0M147.6 417.4h0M139.3 386.7h0M141.6 403.3h0M134.2 376.7h0M129.0 401.9h0M134.0 411.7h0M128.9 380.4h0M126.4 395.9h0M142.3 402.0h0M131.9 381.2h0M140.0 384.8h0M128.1 371.8h0M140.8 407.9h0M131.0 393.4h0M143.1 388.8h0M132.0 376.9h0M138.5 405.8h0M147.0 417.8h0M130.9 395.4h0M136.3 402.0h0M142.6 419.7h0M140.3 415.1h0M141.2 391.7h0M134.7 413.0h0M126.8 393.1h0M140.8 395.3h0M145.7 397.2h0M139.7 413.6h0M129.2 376.5h0M139.0 406.5h0M140.8 380.4h0M136.6 397.5h0M129.1 395.9h0M138.5 387.3h0M130.4 372.6h0M143.2 415.4h0M137.2 411.7h0M132.3 378.6h0M131.9 402.2h0M139.6 398.2h0M145.2 400.8h0M140.6 388.5h0M138.2 392.9h0M143.4 408.5h0M148.0 412.2h0M143.9 387.2h0M142.3 390.5h0M139.3 388.6h0M133.0 410.5h0M133.2 395.0h0M138.2 384.4h0M129.6 371.4h0M126.8 381.8h0M147.8 410.1h0M137.8 399.3h0M136.8 390.9h0M138.4 410.9h0M137.9 418.6h0M139.6 380.6h0M145.7 414.9h0M131.0 412.9h0M139.8 411.3h0" stroke="#7BAE0B" stroke-width="2.0" stroke-linecap="round" fill="none"/>
<path d="M142.7 370.0h0M141.5 369.7h0" stroke="#7BAE0B" stroke-width="1.6" stroke-linecap="round" fill="none"/>
<path d="M137.5 385.7h0M136.8 394.4h0M139.7 396.6h0M141.0 399.3h0M135.9 389.3h0M140.2 391.7h0M133.5 390.4h0" stroke="#fff" stroke-width="1.6" stroke-linecap="round" fill="none"/>
<circle cx="44.2" cy="491" r="3.5" fill="#C3C3C3"/>
<text x="53.8" y="493.5" font-size="7.3">CS1-Exhausted T cells</text>
<circle cx="44.2" cy="502.7" r="3.5" fill="#F0736A"/>
<text x="53.8" y="505.2" font-size="7.3">CS2-Monocytes</text>
<circle cx="138.8" cy="491" r="3.5" fill="#7BAE0B"/>
<text x="150" y="493.5" font-size="7.3">CS3-Memory T cells</text>
<circle cx="138.8" cy="502.7" r="3.5" fill="#15BCC6"/>
<text x="150" y="505.2" font-size="7.3">CS4-B cells</text>
<path d="M325.8 297.5V453H479" stroke="#000" stroke-width="1" fill="none"/>
<path d="M322.5 309h3M322.5 347.8h3M322.5 386.4h3M322.5 425.2h3M356.5 453v3.3M388.3 453v3.3M419.9 453v3.3M451.6 453v3.3" stroke="#000" stroke-width="1" fill="none"/>
<g stroke="#000" stroke-width="0.22">
<text x="319.3" y="312.78" font-size="10.5" text-anchor="end">10</text>
<text x="319.3" y="351.58" font-size="10.5" text-anchor="end">5</text>
<text x="319.3" y="390.18" font-size="10.5" text-anchor="end">0</text>
<text x="319.3" y="428.98" font-size="10.5" text-anchor="end">−5</text>
<text x="356.5" y="467.2" font-size="10.5" text-anchor="middle">−10</text>
<text x="388.3" y="467.2" font-size="10.5" text-anchor="middle">−5</text>
<text x="419.9" y="467.2" font-size="10.5" text-anchor="middle">0</text>
<text x="451.6" y="467.2" font-size="10.5" text-anchor="middle">5</text>
</g>
<text font-size="12.5" text-anchor="middle" transform="translate(300.5 375.5) rotate(-90)">Dim2</text>
<text x="402" y="482.2" font-size="12.3" text-anchor="middle">Dim1</text>
<path d="M358.3 307.8L359.8 305.5L361.5 305.5L363.1 307.8L364.3 310.2L364.9 312.8L364.2 315.2L362.3 317.8L361.0 320.8L360.3 324.2L359.5 328.6L358.5 333.7L357.2 336.0L355.8 335.3L354.3 333.8L353.0 331.2L352.9 328.1L353.9 324.4L354.9 320.6L355.6 316.9L356.4 313.5L357.1 310.5Z" fill="#1212E8" fill-opacity="0.9"/>
<path d="M356.7 316.3h0M357.0 318.4h0M358.4 330.0h0M358.6 327.3h0M354.7 322.8h0M354.7 325.3h0M359.0 320.8h0M358.5 332.2h0M359.0 314.5h0M355.7 323.4h0M353.4 328.5h0M357.0 311.2h0M363.7 308.7h0M356.6 328.4h0M354.4 330.1h0M358.6 309.6h0M360.6 320.6h0M364.1 315.2h0M356.8 334.7h0M363.7 315.8h0M359.0 318.4h0M358.6 330.8h0M356.5 314.2h0M355.9 332.7h0M359.3 308.7h0M358.6 320.5h0M356.8 332.2h0M358.3 333.9h0M356.9 318.3h0M356.1 314.8h0M358.0 311.0h0M355.1 321.4h0M354.5 331.3h0M361.1 309.4h0M357.0 334.1h0M359.9 314.9h0M358.1 321.1h0M362.7 311.3h0M354.7 324.3h0M359.3 320.9h0M359.5 308.5h0M353.9 326.9h0M359.1 325.5h0M360.2 326.3h0M357.5 311.6h0M359.8 312.8h0M357.4 327.4h0M358.7 329.5h0M353.6 327.9h0M358.0 329.7h0M361.4 317.9h0M356.0 325.9h0M362.3 311.4h0M356.8 330.0h0M363.2 314.0h0M360.3 306.1h0M356.6 322.4h0M361.2 312.3h0M356.0 329.1h0M360.1 308.6h0M354.9 320.9h0M358.6 333.1h0M362.2 313.2h0M354.5 328.6h0M357.3 334.6h0M357.2 315.2h0M357.4 328.2h0M353.3 328.5h0M356.3 321.1h0M359.7 306.9h0M355.6 330.8h0M355.9 334.7h0M363.1 315.3h0M355.0 325.1h0M361.0 311.4h0M357.7 330.0h0M354.5 326.1h0M360.0 310.5h0M359.4 317.5h0M356.8 318.2h0M358.8 327.8h0M361.2 306.2h0M357.9 318.1h0M356.6 324.9h0M360.8 316.5h0M353.3 325.2h0M362.4 314.4h0M358.5 317.4h0M358.9 330.0h0M360.9 322.3h0M355.8 322.3h0M355.0 330.9h0M357.9 322.3h0M358.7 325.0h0M354.2 327.5h0M360.6 316.8h0M356.2 319.6h0M363.1 314.1h0M357.4 320.5h0M363.1 316.1h0M359.9 307.2h0M356.5 334.5h0M362.7 309.2h0M357.5 328.7h0M355.0 332.4h0M360.1 320.7h0M361.1 320.1h0M358.8 322.3h0M360.8 311.5h0M359.4 315.4h0M354.4 327.6h0M362.0 313.8h0M359.2 319.0h0M364.2 313.7h0M357.9 329.0h0M355.2 333.6h0M358.6 306.0h0M356.2 315.7h0M362.5 314.3h0M357.3 330.2h0M357.5 332.7h0M361.0 318.9h0M361.0 308.8h0M357.6 322.5h0M355.1 321.2h0M359.0 313.3h0M360.2 323.2h0M355.7 330.5h0M358.0 332.3h0M357.1 315.1h0M354.8 333.5h0M362.3 308.1h0M360.2 308.5h0M353.1 330.8h0M363.2 313.0h0M357.2 319.8h0M355.8 323.5h0M354.4 333.9h0M359.0 311.7h0M359.2 324.3h0M353.0 329.8h0M362.9 308.3h0M356.2 324.4h0M357.9 328.9h0M355.2 321.2h0M357.7 328.6h0M360.9 308.6h0M358.7 331.3h0M358.7 317.6h0M355.2 330.3h0M359.9 319.5h0M363.9 310.5h0M358.2 320.8h0M354.2 328.9h0M359.0 316.3h0M363.1 307.5h0M361.1 308.8h0M360.1 318.0h0M357.5 334.7h0M360.4 311.3h0M362.0 316.5h0M356.1 312.6h0M358.8 320.1h0M357.3 331.9h0M357.6 320.2h0M353.4 331.5h0M356.2 314.3h0M362.1 313.4h0M362.0 317.7h0M364.0 315.1h0M354.8 324.6h0M355.8 323.4h0M359.1 320.7h0M358.7 317.5h0M360.5 310.7h0M358.3 329.3h0M357.5 319.6h0M356.5 313.0h0M358.3 308.4h0M356.8 315.3h0M359.7 318.0h0M361.9 317.0h0M361.6 313.7h0M362.6 307.9h0M353.9 328.9h0" stroke="#1212E8" stroke-width="1.9" stroke-linecap="round" fill="none"/>
<path d="M341.8 411.2h0M339.1 428.7h0M339.6 399.8h0M340.0 420.9h0M339.1 429.0h0M342.3 410.4h0M339.8 402.4h0M338.9 428.1h0M339.3 425.8h0M340.0 418.4h0M339.8 415.2h0M339.5 427.4h0M340.3 421.8h0M338.9 421.7h0M339.0 423.1h0M343.0 409.4h0M342.4 408.0h0M340.1 420.6h0M340.8 430.1h0M339.2 428.3h0M341.3 413.9h0M342.4 409.3h0M341.6 406.5h0M341.7 410.1h0M341.8 412.2h0M340.3 416.4h0M337.4 397.5h0M341.9 405.4h0M341.2 416.1h0M340.5 425.8h0M341.6 404.3h0M339.5 399.6h0M338.7 399.6h0M340.4 404.0h0M341.0 404.3h0M341.8 405.3h0M340.7 415.4h0M341.8 408.8h0M342.0 408.8h0M342.7 412.9h0M341.6 411.0h0M339.3 401.3h0M338.4 399.7h0M339.6 422.2h0M339.2 399.5h0M338.6 397.9h0M340.3 401.1h0M339.9 400.9h0M341.0 415.3h0M340.6 415.6h0M340.6 407.5h0M340.9 405.0h0M340.1 418.4h0M340.5 427.5h0M340.1 420.3h0M339.7 421.0h0M340.7 429.9h0M342.7 411.1h0M339.6 428.4h0M341.0 402.4h0M339.8 419.1h0M340.4 402.6h0M339.8 419.4h0M339.7 427.6h0M342.6 410.8h0M339.5 399.3h0M340.9 414.8h0M337.4 398.1h0M340.5 417.2h0M340.6 413.6h0M342.6 409.3h0M342.4 410.6h0M341.7 414.5h0M340.0 400.6h0M340.5 402.8h0M340.7 417.9h0M338.9 419.6h0M342.3 409.1h0M341.0 406.7h0M339.2 421.2h0M339.0 399.8h0M339.8 401.5h0M341.6 405.2h0M340.6 405.3h0M338.9 397.8h0M341.0 428.0h0M341.4 406.0h0M339.4 429.1h0M340.8 418.6h0M340.7 418.7h0" stroke="#EE1515" stroke-width="1.53" stroke-linecap="round" fill="none"/>
<path d="M338.6 421.1h0M335.1 418.2h0M336.3 419.6h0M335.0 418.1h0M335.5 418.3h0M338.2 419.5h0M336.8 419.2h0M336.4 418.9h0" stroke="#EE1515" stroke-width="1.36" stroke-linecap="round" fill="none"/>
<path d="M337.4 420.0h0M333.9 418.3h0M336.5 420.0h0M339.0 420.9h0M334.9 418.0h0M338.2 420.2h0M333.5 417.2h0M337.9 420.9h0M337.5 420.5h0M338.2 420.7h0" stroke="#BEBEBE" stroke-width="1.36" stroke-linecap="round" fill="none"/>
<path d="M338.2 424.2h0M338.4 424.6h0M339.7 427.1h0M339.2 425.2h0M340.0 427.2h0M339.2 426.1h0" stroke="#BEBEBE" stroke-width="1.19" stroke-linecap="round" fill="none"/>
<path d="M342.5 431.9L344.5 431.9L346.4 432.1L348.2 432.5L349.9 433.2L351.6 434.1L353.0 435.1L354.3 436.0L355.5 437.0L356.5 438.0L357.1 439.0L357.4 439.9L357.2 440.7L356.8 441.6L356.2 442.3L355.5 443.0L354.7 443.7L353.8 444.3L352.7 444.8L351.3 445.0L349.7 445.2L347.8 445.2L346.2 445.0L344.7 444.7L343.5 444.1L342.5 443.4L341.6 442.5L340.9 441.5L340.4 440.3L339.9 439.0L339.6 437.7L339.4 436.4L339.4 435.1L339.4 433.9L340.0 432.9L341.0 432.3Z" fill="#EE1515" fill-opacity="0.9"/>
<path d="M346.0 436.8h0M350.4 438.1h0M347.9 432.5h0M347.4 440.9h0M346.0 437.2h0M350.6 445.5h0M344.1 440.2h0M344.6 437.9h0M343.5 442.9h0M352.1 434.6h0M347.9 433.8h0M348.6 435.1h0M351.2 434.5h0M353.4 443.5h0M347.1 432.2h0M341.0 441.3h0M349.7 439.1h0M340.0 436.0h0M345.8 434.1h0M347.7 444.9h0M343.5 439.3h0M346.8 444.7h0M343.3 434.3h0M342.1 438.7h0M350.0 437.0h0M342.7 439.9h0M351.4 443.3h0M349.2 440.8h0M349.2 433.9h0M341.3 435.8h0M347.3 438.9h0M351.9 435.8h0M345.5 439.8h0M349.1 436.7h0M341.4 435.1h0M351.5 437.7h0M342.5 433.0h0M347.8 439.3h0M342.7 439.1h0M344.5 442.9h0M353.3 438.6h0M351.9 436.7h0M345.0 434.0h0M340.6 432.9h0M351.4 434.9h0M342.0 438.6h0M341.3 437.3h0M353.2 439.5h0M342.9 438.1h0M344.4 439.7h0M350.5 443.2h0M342.9 433.0h0M348.4 439.2h0M347.6 439.3h0M348.2 432.7h0M350.3 444.7h0M341.4 440.5h0M346.3 436.2h0M349.7 433.0h0M345.5 443.6h0M344.9 442.0h0M353.9 442.6h0M346.3 439.9h0M345.6 440.1h0M350.3 433.5h0M350.6 438.4h0M354.3 439.9h0M351.4 436.1h0M343.3 437.8h0M355.1 437.8h0M340.4 437.3h0M345.0 442.4h0M345.9 433.8h0M344.0 438.7h0M350.2 434.3h0M343.8 437.6h0M351.4 442.7h0M344.3 444.1h0M345.3 437.8h0M354.5 444.0h0M342.2 435.5h0M340.6 439.6h0M342.7 442.1h0M345.3 433.1h0M345.2 432.2h0M342.2 435.0h0M352.7 436.2h0M344.5 437.7h0M342.7 439.0h0M343.8 439.5h0M345.6 436.3h0M351.8 440.2h0M343.9 440.2h0M353.0 440.9h0M353.5 436.8h0M343.8 443.6h0M345.7 440.7h0M340.5 436.2h0M341.2 440.3h0M353.1 439.0h0M342.0 440.7h0M349.5 443.7h0M349.3 441.5h0M348.9 438.5h0M341.8 436.1h0M344.9 441.6h0M353.3 439.1h0M349.6 443.2h0M351.1 439.6h0M351.4 443.4h0M349.6 437.4h0M352.3 439.3h0M354.0 439.0h0M345.8 436.3h0M349.9 435.9h0M353.8 442.6h0M341.6 437.6h0M341.1 441.4h0M348.1 432.5h0M351.5 444.9h0M349.8 443.3h0M344.9 435.7h0M341.1 432.8h0M343.3 432.8h0M344.4 438.7h0M343.3 439.8h0M346.8 434.3h0M350.8 444.1h0M347.2 440.2h0M353.3 439.9h0M354.0 436.1h0M345.3 436.1h0M341.2 440.4h0M342.6 438.5h0M340.9 435.9h0M343.0 443.3h0M350.1 444.4h0M347.5 443.2h0M346.5 442.1h0M350.7 440.1h0M343.3 441.4h0M348.5 441.8h0M345.9 444.1h0M353.2 442.1h0M341.9 438.3h0M348.7 440.6h0M351.6 442.8h0M356.0 441.9h0M344.4 438.4h0M343.7 435.3h0M343.1 440.8h0M342.7 442.4h0M347.8 439.4h0M352.1 439.5h0M343.1 442.0h0M354.8 436.7h0M354.2 436.3h0M347.4 435.9h0M349.3 440.2h0M351.1 446.1h0M343.0 442.5h0M350.0 439.8h0M342.6 438.1h0M352.6 441.4h0M355.5 438.8h0M348.4 441.9h0M343.9 440.9h0M355.8 438.3h0M350.5 437.4h0M341.9 440.6h0M355.1 443.6h0M344.2 440.1h0M345.7 437.5h0M340.8 435.0h0M354.8 441.8h0M344.0 436.7h0M352.4 444.7h0M349.2 435.4h0M343.7 438.7h0M344.3 433.6h0M349.5 444.7h0M351.3 441.0h0M352.8 441.7h0M354.3 438.7h0M350.1 443.5h0M347.8 445.3h0M344.4 438.9h0M339.8 439.4h0M343.4 438.6h0M343.6 441.2h0M354.3 436.4h0M353.8 442.0h0M352.0 445.2h0M351.8 435.2h0M343.0 433.3h0M345.9 434.4h0M348.9 440.5h0M351.9 439.6h0" stroke="#EE1515" stroke-width="1.9" stroke-linecap="round" fill="none"/>
<path d="M364.2 439.9h0M358.4 440.5h0M361.9 439.0h0M360.6 439.6h0M357.2 441.2h0M363.8 439.7h0M358.4 439.5h0M362.6 439.0h0M358.5 440.1h0M363.6 440.1h0" stroke="#BEBEBE" stroke-width="1.53" stroke-linecap="round" fill="none"/>
<path d="M360.9 439.8h0M360.8 439.8h0M361.6 439.3h0M361.6 439.8h0" stroke="#5B7FC0" stroke-width="1.36" stroke-linecap="round" fill="none"/>
<path d="M351.6 445.3h0M354.5 444.1h0M351.5 445.6h0M354.7 443.6h0M352.2 444.6h0" stroke="#BEBEBE" stroke-width="1.36" stroke-linecap="round" fill="none"/>
<path d="M412.0 367.4L413.1 363.0L414.7 359.1L416.9 355.5L419.4 352.9L422.3 351.5L425.2 351.3L428.1 352.4L431.1 353.7L434.4 355.1L437.6 356.4L440.9 357.4L444.3 358.9L447.9 360.7L451.0 363.2L453.5 366.5L455.5 369.7L456.9 372.9L458.9 374.7L461.4 375.1L464.1 376.0L467.0 377.5L469.3 379.6L470.8 382.5L471.8 385.7L472.1 389.4L471.7 392.6L470.6 395.5L469.0 397.7L466.8 399.2L464.8 400.9L463.0 402.7L461.2 404.5L459.4 406.3L457.3 408.1L454.7 409.9L452.2 411.7L449.7 413.5L447.0 415.5L444.1 417.6L441.4 419.8L438.9 422.0L436.7 423.6L434.8 424.7L433.3 424.3L432.2 422.4L430.1 420.6L426.8 418.8L423.6 417.1L420.3 415.3L417.9 412.9L416.4 409.9L415.7 406.7L415.7 403.1L414.8 398.7L413.0 393.7L411.7 388.3L411.0 382.5L410.8 377.1L411.3 372.0Z" fill="#BEBEBE" fill-opacity="0.95"/>
<path d="M423.4 361.9h0M434.9 366.5h0M456.1 385.6h0M439.8 420.5h0M439.7 383.0h0M456.5 379.2h0M433.0 377.5h0M419.5 360.1h0M416.5 396.5h0M425.0 370.8h0M442.4 402.7h0M467.7 396.9h0M452.2 376.7h0M457.5 399.5h0M464.9 394.9h0M426.1 412.6h0M425.0 364.4h0M432.2 405.8h0M434.5 381.9h0M417.9 375.0h0M449.9 403.4h0M426.4 384.3h0M423.4 354.7h0M451.0 381.1h0M433.7 405.0h0M446.2 401.9h0M413.7 395.1h0M464.2 396.9h0M413.4 371.0h0M450.4 369.5h0M453.7 390.4h0M453.0 365.6h0M446.1 382.3h0M456.0 398.1h0M442.5 359.2h0M437.9 398.5h0M427.1 401.8h0M416.6 407.1h0M454.0 405.2h0M419.7 359.0h0M453.4 379.2h0M459.2 380.4h0M462.5 403.2h0M424.8 411.7h0M441.4 404.2h0M431.4 393.3h0M440.2 402.8h0M446.1 362.1h0M419.9 375.7h0M465.6 385.0h0M447.1 390.3h0M460.4 388.0h0M425.4 413.1h0M422.0 375.5h0M422.7 410.1h0M419.7 388.0h0M450.8 379.9h0M438.1 364.9h0M439.9 393.2h0M447.5 395.0h0M459.2 387.5h0M438.4 418.8h0M434.9 391.9h0M416.7 380.6h0M435.6 394.3h0M470.4 386.1h0M445.3 398.4h0M431.9 413.7h0M428.5 419.2h0M415.5 380.1h0M435.4 416.7h0M416.1 359.4h0M426.2 364.4h0M417.0 362.0h0M421.0 391.0h0M430.5 399.2h0M453.2 377.7h0M437.8 402.9h0M413.0 370.2h0M412.6 379.3h0M416.4 408.1h0M416.3 373.4h0M460.0 404.3h0M420.7 392.5h0M424.8 380.2h0M445.1 363.5h0M430.1 411.4h0M411.0 380.9h0M437.8 359.2h0M425.1 363.5h0M424.1 387.1h0M452.2 397.0h0M456.3 376.8h0M435.2 403.5h0M419.9 404.7h0M420.8 404.3h0M438.7 360.7h0M440.9 393.3h0M425.0 368.4h0M431.9 360.5h0M419.3 393.1h0M447.3 371.4h0M423.6 376.9h0M428.3 399.0h0M415.4 364.8h0M460.7 380.2h0M419.8 358.0h0M417.5 409.4h0M426.2 417.7h0M438.0 409.5h0M446.1 405.9h0M433.8 413.1h0M466.9 390.0h0M425.7 376.3h0M447.3 393.5h0M442.3 373.9h0M446.1 372.4h0M456.1 375.5h0M424.8 369.4h0M451.6 401.3h0M468.0 379.7h0M435.4 403.3h0M430.7 378.4h0M458.2 398.2h0M434.0 385.6h0M424.5 368.6h0M444.3 418.0h0M449.3 391.7h0M434.2 421.7h0M438.3 378.8h0M459.3 388.6h0M434.2 418.5h0M433.2 415.2h0M449.3 399.2h0M431.4 413.4h0M453.0 381.9h0M425.4 414.8h0M444.3 390.0h0M446.2 364.3h0M427.4 392.3h0M424.5 390.1h0M449.4 378.9h0M426.4 371.1h0M417.4 355.8h0M458.4 395.8h0M451.3 387.3h0M434.7 418.9h0M468.0 397.6h0M442.4 384.5h0M435.0 365.0h0M423.1 380.7h0M421.8 352.4h0M450.3 382.5h0M445.5 384.1h0M445.8 384.1h0M443.4 411.4h0M444.3 380.3h0M432.4 365.4h0M415.8 365.2h0M431.8 418.4h0M432.3 395.1h0M455.1 390.6h0M427.4 408.5h0M445.0 404.3h0M469.2 394.8h0M426.9 370.3h0M418.5 391.3h0M420.6 395.9h0M418.3 394.6h0M413.9 371.2h0M450.4 379.5h0M432.0 404.8h0M425.3 352.6h0M440.1 396.4h0M456.5 401.3h0M463.4 384.7h0M440.9 391.3h0M450.2 380.8h0M424.8 403.5h0M419.8 385.6h0M416.8 388.5h0M462.1 376.1h0M423.2 364.5h0M454.1 403.3h0M453.1 366.4h0M435.3 405.3h0M449.6 403.4h0M469.4 391.8h0M436.9 358.0h0M423.5 382.8h0M469.2 393.9h0M425.5 408.3h0M413.4 391.7h0M413.4 383.9h0M439.0 395.9h0M440.0 400.4h0M457.4 394.0h0M449.7 380.4h0M437.8 419.7h0M421.3 404.7h0M442.0 374.3h0M437.0 403.2h0M460.5 397.6h0M422.4 359.3h0M462.7 395.3h0M432.6 376.4h0M431.7 404.4h0M422.0 410.3h0M426.1 379.4h0M445.6 373.3h0M447.5 393.3h0M436.8 422.9h0M422.0 377.5h0M469.0 386.7h0M437.7 377.0h0M433.6 392.0h0M419.7 373.7h0M459.2 394.5h0M423.5 372.9h0M427.6 418.4h0M468.9 385.8h0M421.4 402.8h0M437.2 420.1h0M427.7 408.9h0M423.3 380.5h0M433.9 402.5h0M425.6 387.3h0M453.2 383.6h0M421.2 355.6h0M438.9 384.5h0M429.1 402.1h0M430.6 355.8h0M465.8 380.5h0M424.8 382.5h0M460.2 404.3h0M454.0 385.1h0M446.4 401.2h0M431.7 402.0h0M438.3 391.6h0M470.7 381.7h0M459.2 381.1h0M429.2 406.1h0M428.9 362.5h0M455.3 394.0h0M423.1 368.3h0M439.4 381.6h0M446.4 361.6h0M448.0 378.5h0M458.5 403.6h0M417.6 362.1h0M435.8 357.0h0M466.3 385.1h0M445.7 389.5h0M423.2 389.4h0M429.1 360.7h0M412.1 387.6h0M434.1 419.1h0M435.1 391.1h0M448.1 396.8h0M452.4 379.6h0M424.6 376.7h0M456.1 406.1h0M467.6 380.7h0M446.9 413.5h0M432.8 364.4h0M430.4 358.5h0M420.2 390.4h0M428.5 378.7h0M427.4 362.4h0M418.5 399.2h0M433.7 381.3h0M440.6 373.4h0M412.9 386.2h0M462.2 378.0h0M428.2 397.5h0M423.6 405.9h0M440.7 378.2h0M441.4 367.3h0M431.8 371.2h0M446.8 381.5h0M428.2 360.3h0M416.1 399.5h0M437.2 422.2h0M446.4 384.5h0M425.8 385.5h0M460.2 403.5h0M425.5 387.3h0M437.5 410.7h0M460.8 379.2h0M439.6 372.1h0M428.2 390.3h0M463.5 378.5h0M435.2 417.6h0M456.2 394.6h0M447.3 368.5h0M435.8 404.6h0M456.5 373.3h0M431.9 367.6h0M438.5 384.7h0M471.5 390.6h0M443.5 365.7h0M433.5 382.7h0M440.8 390.3h0M443.2 417.6h0M450.9 372.8h0M450.5 408.8h0M459.5 398.3h0M453.7 387.2h0M440.8 390.4h0M462.6 385.0h0M434.2 418.7h0M413.0 367.8h0M437.7 363.9h0M431.2 385.0h0M459.7 375.9h0M420.2 406.5h0M415.8 373.6h0M416.9 406.5h0M422.2 354.2h0M446.4 413.2h0M445.7 361.2h0M441.5 404.3h0M426.5 407.3h0M442.8 409.0h0M468.3 379.6h0M422.7 404.1h0M418.0 374.1h0M414.7 376.1h0M433.3 406.4h0M414.3 393.6h0M431.0 357.1h0M432.6 356.3h0M441.1 419.2h0M434.0 402.7h0M457.8 386.9h0M446.9 371.1h0M429.7 408.3h0M420.8 375.7h0M432.0 364.2h0M442.8 405.2h0M447.7 367.9h0M439.9 411.7h0M427.7 360.3h0M430.7 390.4h0M441.9 364.8h0M433.8 396.7h0M430.3 380.5h0M431.2 402.4h0M419.9 412.7h0M452.5 369.2h0M420.4 401.9h0M470.3 385.1h0M430.0 364.2h0M424.2 417.4h0M448.4 381.7h0M442.6 397.9h0M429.3 396.5h0M434.7 402.7h0M433.9 359.4h0M420.8 353.9h0M454.6 403.6h0M451.5 407.5h0M431.6 377.5h0M435.0 361.1h0M421.4 408.1h0M430.5 359.8h0M441.7 412.9h0M443.0 378.3h0M448.9 390.6h0M444.0 391.2h0M451.8 371.9h0M455.3 394.0h0M420.3 414.0h0M442.7 379.1h0M466.9 385.2h0M470.2 393.9h0M414.1 372.2h0M457.3 374.3h0M446.8 395.4h0M430.9 357.5h0M431.6 417.2h0M430.6 389.0h0M458.6 395.5h0M454.0 368.6h0M435.1 388.7h0M422.6 376.0h0M432.0 420.4h0M427.8 381.2h0M462.8 382.1h0M445.9 375.4h0M452.3 399.6h0M435.0 404.3h0M440.6 418.5h0M424.6 382.9h0M447.4 393.4h0M424.1 353.6h0M418.9 397.8h0M432.7 367.2h0M434.2 385.7h0M425.6 418.6h0M443.1 385.2h0M452.8 366.8h0M426.9 385.3h0M467.1 379.0h0M438.1 411.1h0M422.8 376.8h0M432.8 356.7h0M414.9 378.3h0M434.3 376.4h0M432.9 392.4h0M440.4 407.7h0M436.0 380.2h0M457.2 376.5h0M416.6 387.1h0M437.5 411.8h0M420.9 406.3h0M426.1 353.0h0M418.2 376.3h0M431.3 409.8h0M418.9 402.4h0M441.3 389.0h0M459.9 404.2h0M433.5 398.5h0M452.4 368.6h0M419.3 402.4h0M413.4 372.9h0M441.4 406.3h0M413.9 379.5h0M437.7 423.0h0M454.2 404.4h0M462.6 384.0h0M412.1 387.7h0M451.0 366.3h0M420.6 380.9h0M430.4 414.3h0M417.4 365.4h0M460.3 379.4h0M438.1 385.9h0M420.7 404.3h0M423.5 353.2h0M464.8 395.5h0M432.8 362.9h0M448.3 413.5h0M455.2 394.9h0M440.7 419.7h0M418.9 388.7h0M454.0 384.5h0M423.9 408.6h0M458.5 400.1h0M426.7 366.2h0M463.3 381.8h0M453.8 402.3h0M441.4 396.9h0M433.8 355.8h0M431.9 417.9h0M454.0 402.3h0M421.1 401.8h0M426.0 386.0h0M425.6 397.6h0M414.4 361.4h0M442.9 379.5h0M431.1 389.9h0M417.6 392.0h0M433.7 406.2h0M429.0 372.1h0M428.3 360.5h0M419.7 384.5h0M466.6 399.3h0M424.8 358.0h0M421.0 375.6h0M414.5 391.5h0M417.3 358.0h0M423.9 389.4h0M431.1 365.9h0M418.6 358.0h0M422.1 408.5h0M446.0 378.8h0M417.3 366.6h0M422.7 410.7h0M421.6 397.3h0M441.0 416.5h0M425.3 401.1h0M419.5 400.1h0M423.3 407.4h0M444.5 413.7h0M450.1 384.5h0M418.1 402.3h0M449.1 410.5h0M427.6 362.0h0M464.8 387.4h0M414.7 381.2h0M426.7 384.2h0M434.0 372.5h0M439.1 365.7h0M452.9 375.6h0M441.5 418.4h0M440.9 410.7h0M471.2 387.4h0M438.5 416.2h0M463.8 376.5h0M434.2 408.2h0M455.5 376.9h0M427.3 396.6h0M461.5 392.5h0M421.4 400.7h0M440.2 391.1h0M428.9 404.5h0M433.8 420.3h0M442.6 370.7h0M413.9 393.1h0M421.6 378.5h0M435.8 360.7h0M441.9 371.9h0M447.1 402.7h0M421.7 402.6h0M413.2 386.5h0M423.1 362.8h0M416.7 391.3h0M425.7 369.4h0M441.5 381.1h0M439.4 405.6h0M434.3 416.7h0M418.4 372.1h0M447.8 366.7h0M458.0 376.8h0M423.9 358.8h0M453.5 399.0h0M446.6 365.3h0M418.5 370.2h0M426.9 358.0h0M426.6 379.3h0M413.1 374.3h0M425.8 400.5h0M419.0 353.3h0M437.3 398.7h0M429.0 365.9h0M461.2 387.9h0M442.0 387.1h0M418.7 381.7h0M450.1 374.1h0M413.6 382.7h0M413.5 375.4h0M450.5 387.2h0M436.5 392.8h0M448.7 386.4h0M413.3 372.6h0M452.5 396.1h0M423.0 413.4h0M449.8 407.1h0M431.7 400.5h0M445.2 412.8h0M457.1 375.2h0M470.8 390.6h0M440.5 367.9h0M467.9 379.1h0M442.6 399.6h0M446.7 404.0h0M447.8 406.5h0M434.4 377.8h0M425.3 404.0h0M437.5 378.6h0M416.0 393.2h0M431.5 390.0h0M460.0 397.2h0M415.6 363.3h0M415.8 397.5h0M426.2 379.8h0M435.8 418.5h0M420.2 367.8h0M433.2 410.9h0M448.7 382.7h0M439.3 412.6h0M421.2 407.8h0M459.3 391.5h0M413.0 385.2h0M440.1 397.5h0M421.3 398.1h0M436.3 366.7h0M425.8 412.1h0M452.6 390.9h0M447.4 376.9h0M431.7 387.3h0M420.3 405.4h0M447.4 366.3h0M420.9 402.4h0M450.3 364.3h0M424.2 375.7h0M442.3 387.7h0M424.0 353.3h0M441.2 410.3h0M446.8 372.8h0M460.6 398.4h0M462.2 393.1h0M469.9 388.4h0M412.9 379.2h0M432.1 405.3h0M447.4 401.6h0M437.9 403.5h0M458.8 385.6h0M431.1 373.8h0M457.3 391.4h0M446.4 385.1h0M449.8 396.2h0M471.1 392.7h0M456.8 378.3h0M417.6 403.5h0M460.1 382.7h0M424.3 406.0h0M431.2 421.7h0M451.9 393.5h0M423.4 353.8h0M463.7 386.9h0M443.7 375.1h0M418.0 358.7h0M461.5 381.3h0M437.1 384.4h0M415.7 405.6h0M421.1 375.9h0M435.4 404.3h0M429.8 356.0h0M442.9 398.8h0M432.3 390.2h0M464.9 381.3h0M463.1 401.1h0M422.8 372.7h0M464.2 383.7h0M442.2 406.0h0M433.4 391.4h0M423.5 405.0h0M448.9 376.2h0M433.2 370.4h0M419.5 380.4h0M420.3 358.0h0M461.1 376.4h0M424.6 379.5h0M439.1 414.3h0M429.8 393.0h0M459.8 403.7h0M423.5 370.8h0M413.9 381.7h0M453.6 374.5h0M468.1 383.8h0M449.5 384.9h0M466.2 379.6h0M435.7 375.8h0M436.8 392.2h0M436.9 413.8h0M461.7 403.2h0M435.9 386.7h0M445.3 409.8h0M444.3 367.9h0M459.3 383.2h0M455.7 398.3h0M468.4 394.4h0M462.6 376.7h0M418.1 406.3h0M439.9 399.1h0M417.2 365.1h0M436.7 420.1h0M420.9 388.1h0M436.4 373.1h0M468.6 389.4h0M418.9 378.7h0M438.8 422.7h0M419.6 373.3h0M432.5 380.8h0M424.1 383.7h0M445.6 394.4h0M427.7 359.6h0M459.5 378.3h0M425.3 380.4h0M452.3 405.1h0M436.8 422.0h0M452.5 372.7h0M441.2 413.9h0M439.0 373.1h0M424.8 383.0h0M429.4 398.2h0M448.6 385.3h0M433.1 393.4h0M414.0 374.8h0M470.1 393.2h0M464.6 387.9h0M453.8 368.9h0M431.2 397.6h0M459.1 404.1h0M427.6 411.2h0M419.4 400.8h0M449.1 379.3h0M441.3 370.0h0M434.7 408.1h0M436.7 402.5h0M417.8 366.9h0M441.7 377.3h0M468.2 393.5h0M441.6 377.0h0M442.4 389.0h0M451.8 374.8h0M451.8 391.2h0M424.3 396.3h0M441.4 409.1h0M435.7 375.9h0M437.4 381.4h0M432.4 403.6h0M433.7 373.2h0M423.9 375.1h0M448.7 372.5h0M437.2 410.1h0M454.7 401.7h0M429.4 400.5h0M449.3 378.4h0M436.0 401.8h0M437.0 420.0h0M427.0 383.8h0M419.9 397.7h0M433.4 419.5h0M446.0 403.6h0M456.7 394.5h0M415.9 359.7h0M434.2 374.6h0M423.4 381.1h0M454.4 380.2h0M417.0 381.8h0M440.0 399.6h0M440.2 357.5h0M417.5 359.5h0M458.0 390.8h0M424.6 400.2h0M452.8 394.1h0M442.7 408.7h0M439.8 356.6h0M454.3 370.7h0M418.3 389.2h0M447.1 393.3h0M447.9 381.5h0M430.6 378.0h0M439.3 418.9h0M454.1 387.3h0M416.4 407.6h0M453.1 381.0h0M418.8 412.1h0M438.8 365.2h0M447.2 376.1h0M430.4 421.7h0M434.4 370.4h0M437.5 396.3h0M445.0 402.2h0M422.1 411.9h0M414.4 396.5h0M429.2 398.8h0M417.5 363.8h0M433.4 367.6h0M429.6 367.4h0M411.8 373.7h0M430.9 354.9h0M434.4 405.6h0M418.1 386.6h0M444.1 366.2h0M443.3 394.7h0M428.4 381.0h0M433.6 385.9h0M430.6 370.4h0M423.5 352.5h0M438.2 393.2h0M414.5 369.2h0M461.2 389.3h0M444.0 376.5h0M416.6 405.1h0M418.3 360.7h0M438.1 409.1h0M428.9 389.2h0M430.2 409.4h0M445.1 415.4h0M449.5 369.3h0M435.7 360.8h0M460.9 401.5h0M412.9 376.5h0M463.8 384.0h0M421.2 407.6h0M451.5 411.0h0M434.4 372.3h0M417.0 365.8h0M438.7 370.4h0M463.6 390.3h0M462.4 398.1h0M433.7 365.5h0M452.1 386.2h0M461.9 377.4h0M452.0 386.4h0M435.2 385.6h0M422.0 380.2h0M441.5 364.1h0M448.0 405.8h0M446.4 369.4h0M444.5 405.8h0M442.0 398.6h0M449.7 373.7h0M451.6 377.6h0M451.3 403.2h0M438.7 378.7h0M444.9 399.6h0M449.4 382.1h0M466.3 394.5h0M461.4 395.7h0M447.4 391.0h0M414.8 378.4h0M426.1 366.5h0M440.5 384.1h0M455.6 397.8h0M437.6 413.2h0M427.6 414.3h0M439.6 396.2h0M423.3 356.9h0M448.4 381.3h0M455.7 385.2h0M429.0 385.0h0M461.2 395.2h0M418.0 386.1h0M428.9 407.9h0M443.5 403.3h0M447.0 391.8h0M438.0 406.2h0M439.7 383.1h0M452.0 371.0h0M429.6 404.2h0M425.9 409.5h0M454.3 395.0h0M426.4 366.7h0M445.4 402.4h0M452.1 376.4h0M441.7 409.3h0M425.6 374.4h0M415.2 377.3h0M419.4 390.8h0M431.4 386.2h0M444.7 407.9h0M436.6 373.0h0M441.4 374.4h0M454.4 393.3h0M428.3 359.2h0M449.9 411.3h0M436.9 396.4h0M449.0 365.9h0M452.8 377.3h0M463.2 378.6h0M438.7 406.5h0M461.6 390.6h0M461.1 389.8h0M427.5 402.1h0M437.6 420.1h0M433.9 420.4h0M443.0 417.8h0M436.0 408.0h0M439.4 401.2h0M413.2 390.7h0M437.0 365.7h0M410.9 381.5h0M452.1 397.8h0M429.6 356.0h0M423.3 396.2h0M448.4 379.3h0M416.6 406.5h0M450.7 385.6h0M453.2 401.4h0M450.8 396.5h0M437.5 387.3h0M429.5 398.9h0M438.3 406.5h0M427.1 365.2h0M442.7 358.7h0M421.6 395.0h0M471.5 382.5h0M442.1 379.7h0M453.4 396.1h0M420.6 407.6h0M412.7 371.6h0M412.2 367.7h0M451.8 384.1h0M453.7 393.6h0M468.8 388.2h0M432.6 418.1h0M431.7 414.3h0M436.1 374.3h0M460.1 386.4h0M450.6 391.7h0M420.9 369.4h0M437.3 369.8h0M422.6 402.8h0M414.0 389.3h0M438.6 415.8h0M432.0 379.0h0M466.6 388.3h0M461.4 395.5h0M429.6 397.7h0M427.3 373.4h0M455.4 397.1h0M435.5 422.8h0M437.1 379.6h0M445.6 371.2h0M424.8 354.8h0M448.2 376.5h0M430.3 379.8h0M419.5 401.9h0M450.9 379.7h0M462.0 401.1h0M442.1 400.9h0M446.1 365.1h0M448.8 368.4h0M432.9 390.6h0M430.5 374.0h0M430.6 385.4h0M449.3 373.4h0M438.0 365.2h0M466.6 390.5h0M453.2 392.2h0M462.5 376.6h0M429.5 380.7h0M441.8 368.8h0M433.7 356.2h0M446.3 392.7h0M440.8 402.9h0M421.8 352.9h0M454.3 370.0h0M452.0 385.9h0M468.1 395.5h0M451.1 408.3h0M436.3 405.1h0M451.1 394.3h0M447.6 390.0h0M414.6 361.2h0M429.4 394.3h0M452.2 409.6h0M439.7 395.3h0M449.2 361.9h0M455.6 382.8h0M422.7 401.5h0M437.6 409.5h0M438.8 418.6h0M451.9 386.0h0M442.3 395.6h0M467.4 389.0h0M425.5 383.0h0M411.4 371.1h0M463.9 387.0h0M450.2 407.9h0M454.1 371.4h0M430.4 409.6h0M417.5 377.8h0M452.8 386.9h0M461.9 381.5h0M457.8 405.7h0M465.7 388.6h0M427.1 369.2h0M415.7 379.6h0M446.9 393.6h0M421.7 401.2h0M446.7 401.4h0M426.7 366.1h0M456.1 404.1h0M424.3 398.4h0M435.0 413.7h0M441.4 379.3h0M415.1 361.2h0M435.7 418.5h0M437.6 420.7h0M442.3 398.2h0M425.9 368.5h0M444.3 394.0h0M470.5 386.4h0M429.3 412.5h0M413.4 367.7h0M439.7 370.5h0M416.2 402.6h0M433.9 402.3h0M426.7 367.6h0M455.2 396.0h0M449.8 370.5h0M461.1 386.3h0M419.9 399.4h0M420.8 352.9h0M439.5 414.1h0M417.3 411.9h0M436.4 361.4h0M444.1 364.1h0M439.2 374.5h0M423.5 353.7h0M454.9 396.9h0M421.2 414.4h0M453.7 391.7h0M455.6 385.2h0M424.4 407.2h0M412.1 372.7h0M418.5 402.7h0M416.9 368.4h0M429.8 404.9h0M451.2 407.8h0M448.4 373.1h0M437.7 363.2h0M457.0 384.1h0M455.3 374.9h0M421.7 408.5h0M439.1 372.8h0M459.7 388.9h0M434.9 376.9h0M427.5 392.1h0M432.0 385.7h0M442.3 386.5h0M421.8 375.4h0M451.5 380.8h0M437.4 376.5h0M452.2 393.3h0M414.5 392.6h0M426.4 385.0h0M435.9 396.2h0M415.6 404.6h0M416.1 371.1h0M421.2 384.2h0M440.4 376.9h0M431.3 387.2h0M416.6 386.8h0M444.7 396.6h0M422.8 353.2h0M453.4 394.7h0M432.5 395.4h0M445.9 382.5h0M434.5 403.7h0M437.4 382.7h0M435.3 387.3h0M441.6 361.4h0M413.1 378.4h0M434.9 389.2h0M466.7 381.7h0M429.0 404.5h0M448.0 382.6h0M460.1 392.8h0M418.9 397.4h0M446.0 367.4h0M446.6 393.1h0M417.1 406.7h0M420.7 373.6h0M458.2 380.7h0M442.4 391.7h0M438.2 374.1h0M443.7 386.5h0M422.2 357.7h0M430.4 366.9h0M456.8 388.2h0M449.3 375.9h0M459.5 396.2h0M443.1 416.4h0M437.9 377.6h0M416.2 391.8h0M454.7 401.6h0M435.8 384.9h0M451.5 394.7h0M426.3 366.8h0M434.0 413.5h0M447.9 397.7h0M430.5 407.2h0M429.1 419.9h0M445.3 389.2h0M419.8 405.4h0M434.0 417.5h0M426.9 367.6h0M438.0 406.3h0M413.8 370.6h0M439.7 419.5h0M443.7 404.5h0M450.5 394.8h0M459.7 375.3h0M455.9 374.5h0M469.9 395.8h0M425.0 417.4h0M424.7 392.6h0M421.4 400.9h0M448.0 366.2h0M420.7 366.9h0M440.0 360.5h0M467.3 392.5h0M466.0 394.6h0M436.5 398.5h0M464.3 394.2h0M432.7 417.7h0M435.3 400.2h0M426.2 398.0h0M443.0 380.2h0M411.9 372.7h0M430.8 398.5h0M429.0 355.0h0M442.1 415.7h0M443.5 379.9h0M444.6 383.8h0M462.2 390.2h0M429.6 366.2h0M433.8 359.5h0M433.4 385.4h0M417.3 392.6h0M453.1 381.4h0M434.2 374.5h0M414.6 387.6h0M463.0 379.0h0M436.9 375.9h0M450.3 412.0h0M427.6 418.6h0M434.9 362.1h0M423.6 356.0h0M426.3 372.1h0M439.1 375.2h0M457.8 375.1h0M445.1 375.4h0M452.5 393.8h0M451.5 408.1h0M446.8 373.3h0M461.8 391.1h0M442.5 409.0h0M427.1 369.5h0M440.0 386.2h0M448.5 374.8h0M440.4 382.1h0M447.4 369.5h0M435.6 403.5h0M435.8 374.2h0M448.2 409.0h0M412.5 388.5h0M434.8 384.2h0M449.2 383.4h0M435.6 359.0h0M464.8 399.5h0M431.5 397.0h0M418.1 363.5h0M460.7 389.0h0M466.0 398.7h0M425.3 352.0h0M461.8 396.6h0M439.2 409.8h0M428.2 364.2h0M466.5 396.8h0M451.0 398.7h0M424.0 379.4h0M442.6 375.9h0M439.6 396.5h0M420.3 369.0h0M440.3 390.8h0M448.0 367.4h0M465.5 394.0h0M447.6 389.1h0M423.2 412.9h0M426.3 388.1h0M439.1 369.3h0M452.0 407.9h0M449.5 377.6h0M442.6 387.7h0M449.1 382.8h0M461.8 398.6h0M462.2 382.3h0M414.0 376.4h0M448.2 377.4h0M458.8 387.3h0M420.0 356.0h0M462.0 381.0h0M426.8 371.1h0M416.1 390.9h0M464.8 397.7h0M458.1 379.9h0M436.4 418.2h0M442.1 372.7h0M434.1 384.2h0M430.0 362.1h0M450.2 362.7h0M450.0 366.6h0M455.9 391.5h0M440.8 407.7h0M440.1 398.1h0M415.4 379.8h0M428.2 407.9h0M437.2 396.9h0M425.3 399.0h0M426.7 405.3h0M434.4 408.1h0M414.7 389.1h0M437.7 382.7h0M466.1 376.8h0M426.8 389.7h0M435.1 389.9h0M427.8 411.3h0M417.8 412.7h0M425.0 397.8h0M436.9 405.5h0M433.0 363.5h0M432.4 407.7h0M411.4 377.3h0M453.1 379.7h0M415.7 391.3h0M440.4 363.5h0M429.8 376.9h0M455.5 387.7h0M443.3 367.7h0M454.0 381.9h0M427.7 386.1h0M418.9 396.9h0M447.1 402.1h0M448.5 383.9h0M457.6 407.1h0M432.0 413.7h0M423.5 380.1h0M445.5 407.3h0M449.3 390.4h0M459.3 393.7h0M428.8 388.6h0M417.5 405.5h0M431.1 366.5h0M439.6 368.9h0M452.4 381.1h0M441.1 407.1h0M447.5 390.3h0M464.2 392.7h0M419.5 413.2h0M423.1 401.0h0M434.8 416.1h0M441.7 397.3h0M468.1 385.7h0M444.6 375.9h0M412.2 367.5h0M457.9 392.6h0M422.0 387.9h0M424.0 356.3h0M451.4 375.6h0M439.8 395.4h0M424.4 355.2h0M413.6 366.4h0M426.8 403.8h0M415.3 382.6h0M434.3 415.6h0M431.2 415.3h0M425.2 389.6h0M431.7 358.0h0M425.9 356.8h0M446.3 411.5h0M437.5 359.5h0M430.7 409.2h0M431.4 354.0h0M443.7 406.3h0M415.6 377.1h0M456.8 387.7h0M414.4 376.8h0M426.0 386.0h0M432.1 378.9h0M469.9 384.1h0M438.6 416.7h0M440.5 372.3h0M435.2 374.7h0M415.6 388.8h0M446.7 387.2h0M455.1 405.6h0M423.0 386.8h0M418.4 378.5h0M469.4 392.9h0M458.8 385.3h0M421.3 359.3h0M430.6 370.0h0M452.5 405.5h0M453.7 372.3h0M422.3 365.9h0M418.3 386.4h0M424.4 400.0h0M441.4 395.7h0M416.0 377.4h0M435.6 413.3h0M423.4 380.5h0M453.0 392.1h0M415.8 360.8h0M435.9 361.0h0M438.5 370.7h0M441.4 373.1h0M457.0 400.0h0M421.4 362.7h0M425.6 379.3h0M448.2 406.8h0M437.9 386.1h0M452.7 392.2h0M446.7 369.4h0M431.8 360.6h0M448.4 366.2h0M428.9 380.5h0M427.6 391.5h0M442.8 414.3h0M467.9 384.3h0M424.4 397.2h0M442.3 370.0h0M422.8 392.3h0M437.0 411.1h0M414.3 375.8h0M459.3 391.2h0M426.8 352.9h0M456.8 390.1h0M413.4 389.3h0M415.2 388.1h0M435.9 356.4h0M412.6 378.8h0M432.1 370.7h0M441.3 393.3h0M465.1 397.0h0M441.4 413.4h0M422.8 382.5h0M446.9 365.2h0M431.4 409.8h0M435.7 384.3h0M425.8 366.9h0M466.5 383.4h0M428.1 355.4h0M458.1 382.8h0M448.4 373.8h0M415.7 385.0h0M445.9 382.8h0M466.3 397.3h0M471.4 392.6h0M439.2 380.7h0M436.9 373.9h0M455.7 391.9h0M449.2 395.0h0M429.3 357.2h0M429.4 410.0h0M428.8 392.0h0M415.5 388.8h0M431.9 409.5h0M427.2 362.9h0M450.8 399.3h0M428.3 412.5h0M469.8 391.4h0M436.3 372.2h0M419.0 409.8h0M424.7 355.2h0M455.0 396.7h0M452.5 385.1h0M436.2 379.0h0M425.2 381.2h0M435.0 423.0h0M442.8 363.1h0M453.4 408.8h0M436.7 364.3h0M428.1 419.6h0M428.8 374.2h0M451.6 365.4h0M427.1 403.8h0M418.4 357.1h0M445.8 413.3h0M469.0 389.6h0M418.9 371.6h0M447.7 377.0h0M427.6 407.7h0M442.4 413.5h0M437.6 412.5h0M420.9 413.6h0M434.2 398.2h0M438.5 416.3h0M452.4 384.0h0M420.3 385.5h0M444.9 412.9h0M420.0 371.9h0M430.1 414.6h0M419.1 397.5h0M430.3 392.9h0M424.9 383.2h0M420.2 385.8h0M461.2 381.5h0M434.1 391.2h0M418.3 367.7h0M439.9 404.4h0M465.2 389.1h0M419.1 386.3h0M456.4 399.3h0M461.4 399.6h0M426.1 392.1h0M454.5 409.9h0M428.0 397.6h0M452.8 377.6h0M460.1 391.6h0M438.3 409.1h0M449.6 402.7h0M440.3 418.1h0M423.0 352.6h0M444.3 372.4h0M436.5 399.1h0M444.2 412.8h0M454.5 395.0h0M442.3 404.9h0M420.7 354.9h0M467.0 392.7h0M415.0 382.0h0M422.8 370.3h0M464.7 399.4h0M439.8 394.0h0M412.4 380.9h0M428.0 378.2h0M419.2 394.0h0M444.3 386.9h0M451.1 379.0h0M454.9 395.7h0M437.2 364.7h0M411.0 385.6h0M419.4 388.1h0M452.0 387.7h0M416.4 378.4h0M427.7 398.5h0M452.8 399.0h0M470.8 386.6h0M436.6 378.2h0M458.1 388.9h0M428.7 419.8h0M415.1 384.8h0M424.6 398.8h0M470.5 390.2h0M439.6 419.3h0M434.0 411.4h0M434.9 422.6h0M427.5 372.0h0M420.3 363.1h0M449.7 366.6h0M413.0 379.6h0M433.6 358.9h0M440.3 372.3h0M462.2 394.3h0M426.1 357.3h0M459.8 389.0h0M436.9 380.7h0M411.3 382.2h0M450.4 386.5h0M419.8 358.3h0M432.4 378.3h0M426.9 370.2h0M415.9 388.6h0M421.6 389.3h0M443.7 379.8h0M426.9 358.7h0M436.1 359.6h0M428.8 370.2h0M449.9 378.1h0M427.4 394.4h0M438.4 403.2h0M446.4 402.3h0M423.1 410.6h0M425.1 414.7h0M425.8 397.1h0M441.1 412.0h0M421.4 404.9h0M424.8 412.9h0M436.8 389.3h0M427.9 374.0h0M457.4 384.0h0M427.0 385.5h0M456.1 393.8h0M419.3 399.5h0M432.3 355.4h0M412.1 377.9h0M460.3 401.1h0M440.8 359.2h0M437.9 359.2h0M444.9 408.6h0M418.1 380.8h0M412.5 371.9h0M448.7 378.4h0M443.3 385.2h0M421.1 376.7h0M458.7 377.5h0M426.6 400.6h0M454.7 402.8h0M448.6 400.9h0M429.6 386.1h0M432.4 392.7h0M457.1 403.2h0M418.7 369.9h0M427.6 410.1h0M453.6 369.0h0M464.5 395.0h0M439.9 366.6h0M427.1 358.9h0M430.8 419.3h0M436.0 403.9h0M436.9 355.9h0M432.8 404.6h0M416.4 358.8h0M422.7 362.1h0M433.3 381.3h0M413.6 369.1h0M433.6 379.6h0M424.4 386.6h0M429.6 378.4h0M449.5 405.1h0M453.6 367.2h0M469.4 388.7h0M432.2 413.3h0M428.0 401.9h0M419.1 389.1h0M432.1 390.0h0M439.2 366.0h0M422.6 368.0h0M459.9 393.3h0M449.0 397.3h0M445.9 412.8h0M442.6 413.8h0M422.1 360.0h0M437.0 408.3h0M456.2 387.8h0M417.0 404.2h0M440.3 359.9h0M448.8 385.7h0M420.0 355.6h0M424.6 407.2h0M442.0 406.4h0M445.7 396.6h0M433.7 396.2h0M428.5 406.5h0M440.2 384.5h0M440.0 398.7h0M450.9 402.4h0M427.2 403.0h0M454.5 384.7h0M424.6 401.9h0M441.0 403.0h0M434.1 356.0h0M458.1 404.4h0M435.0 357.9h0M418.0 388.2h0M446.6 377.7h0M441.7 391.3h0M440.6 398.1h0M438.0 373.4h0M456.1 372.8h0M451.3 403.6h0M416.2 359.2h0M439.0 399.7h0M425.6 390.0h0M427.9 355.5h0M418.6 396.9h0M430.3 398.6h0M428.7 391.7h0M443.5 372.5h0M439.2 415.0h0M447.6 378.2h0M470.5 388.6h0M430.8 376.6h0M444.2 411.4h0M455.1 374.1h0M455.1 399.8h0M450.5 410.0h0M425.4 356.2h0M425.1 367.8h0M415.5 405.2h0M434.1 382.2h0M448.2 362.5h0M459.2 383.3h0M414.3 380.5h0M460.6 402.0h0M442.1 395.2h0M438.5 414.1h0M460.7 401.4h0M434.0 411.8h0M457.5 382.8h0M437.6 378.1h0M460.6 377.2h0M413.6 394.4h0M439.0 365.0h0M422.8 361.0h0M449.7 393.9h0M466.6 386.6h0M429.6 393.2h0M423.8 378.8h0M453.9 372.2h0M430.4 374.2h0M419.6 358.7h0M455.0 407.3h0M424.0 383.9h0M440.1 401.6h0M433.1 387.4h0M443.1 412.1h0M416.2 387.5h0M465.2 395.6h0M444.0 379.0h0M454.0 369.1h0M434.2 364.0h0M435.2 360.2h0M435.6 377.9h0M440.9 358.3h0M422.8 376.3h0M453.1 379.0h0M421.8 393.3h0M455.9 381.2h0M445.0 373.7h0M431.6 357.3h0M446.4 402.0h0M455.9 372.8h0M433.2 386.7h0M454.9 380.4h0M427.6 414.5h0M429.3 411.8h0M465.2 390.4h0M455.8 379.0h0M430.6 406.0h0M429.3 395.3h0M440.0 396.9h0M434.8 394.2h0M415.8 387.5h0M441.9 393.2h0M455.0 375.9h0M465.2 390.0h0M419.7 395.2h0M425.3 357.5h0M440.8 408.8h0M449.6 386.1h0M430.2 411.5h0M445.8 366.1h0M426.0 351.9h0M415.1 370.1h0M429.8 376.1h0M459.2 395.2h0M417.1 374.9h0M433.3 377.9h0M441.6 384.1h0M439.5 366.9h0M438.7 397.1h0M418.1 375.8h0M439.5 398.7h0M414.6 379.6h0M464.7 378.8h0M447.3 414.2h0M437.4 379.0h0M450.7 407.6h0M423.8 376.8h0M422.3 370.3h0M428.3 412.7h0M445.6 366.7h0M450.0 405.6h0M427.8 393.5h0M427.0 370.7h0M443.4 409.0h0M446.4 369.3h0M431.6 382.1h0M447.3 362.7h0M435.6 418.5h0M416.1 396.6h0M416.0 367.6h0M443.3 386.2h0M460.3 397.8h0M438.7 386.8h0M430.8 395.5h0M438.3 397.6h0M425.8 404.0h0M457.1 406.7h0M424.6 391.4h0M416.3 405.1h0M419.9 362.6h0M443.1 405.4h0M454.5 382.8h0M423.0 387.3h0M442.0 363.1h0M430.0 375.0h0M428.3 357.3h0M434.6 387.1h0M421.3 368.3h0M428.5 405.0h0M460.2 401.3h0M451.3 396.6h0M443.9 381.5h0M431.4 396.9h0M434.4 361.8h0M461.4 377.9h0M433.0 376.0h0M464.7 385.3h0M441.5 394.7h0M427.7 381.4h0M423.4 382.1h0M430.4 367.9h0M437.8 366.4h0M460.6 379.2h0M431.1 382.8h0M456.1 393.9h0M413.6 388.7h0M427.1 401.0h0M455.5 376.9h0M467.0 395.6h0M418.2 372.6h0M433.7 401.4h0M443.8 365.2h0M446.8 414.6h0M461.6 380.1h0M428.0 387.3h0M466.1 381.3h0M425.9 355.9h0M433.9 410.5h0M442.6 396.0h0M420.7 362.4h0M446.2 377.6h0M416.4 389.7h0M438.7 390.6h0M433.3 411.2h0M415.7 362.9h0M436.7 419.5h0M449.3 405.4h0M423.1 417.4h0M439.2 359.2h0M426.1 387.5h0M450.5 390.8h0M445.5 359.2h0M441.7 404.5h0M441.3 418.9h0M463.4 401.2h0M429.7 409.6h0M466.0 384.8h0M416.2 390.1h0M439.7 366.5h0M427.0 409.3h0M440.5 396.3h0M432.7 368.2h0M430.7 390.0h0M458.0 404.0h0M443.5 408.2h0M418.6 396.4h0M427.9 367.2h0M446.5 390.9h0M456.0 385.0h0M431.6 373.1h0M460.5 388.9h0M420.6 407.1h0M455.0 392.1h0M434.6 374.2h0M435.9 376.0h0M429.4 403.5h0M460.7 397.4h0M434.5 379.7h0M442.0 400.1h0M412.1 389.5h0M435.8 369.9h0M432.9 396.6h0M463.5 379.4h0M434.9 404.8h0M445.4 400.6h0M430.4 418.2h0M450.3 383.9h0M412.4 375.1h0M457.6 391.4h0M466.8 383.7h0M450.0 405.5h0M469.9 386.9h0M421.5 413.0h0M422.3 398.9h0M422.7 363.1h0M423.1 356.4h0M424.4 386.8h0M454.9 400.6h0M430.4 380.9h0M452.3 386.8h0M414.5 375.0h0M453.8 409.8h0M445.7 385.4h0M419.0 359.5h0M463.4 390.8h0M426.4 364.8h0M413.0 386.7h0M433.6 356.9h0M468.7 385.3h0M457.6 387.4h0M461.0 376.3h0M425.9 375.1h0M429.2 386.4h0M432.5 372.3h0M417.3 393.1h0M433.7 412.7h0M427.8 417.7h0M430.5 354.7h0M454.2 399.9h0M453.1 406.4h0M427.5 418.8h0M440.9 420.6h0M438.7 411.9h0M451.7 371.6h0M447.8 388.9h0M434.6 355.9h0M442.7 379.8h0M447.2 399.0h0M450.9 397.1h0M437.4 389.5h0M440.2 384.9h0M440.2 363.5h0M450.7 381.3h0M467.9 394.4h0M439.6 360.4h0M432.1 419.9h0M436.4 414.6h0M430.3 402.5h0M458.4 378.1h0M415.6 370.6h0M421.6 362.8h0M451.8 389.3h0M441.8 395.8h0M452.5 381.5h0M441.5 364.8h0M420.2 362.9h0M456.9 374.0h0M417.2 363.5h0M428.7 399.2h0M446.2 392.2h0M441.0 376.3h0M420.9 355.5h0M431.6 366.5h0M422.8 378.0h0M443.3 387.2h0M419.5 360.9h0M432.9 409.9h0M421.3 411.1h0M436.1 396.2h0M468.8 396.3h0M420.8 414.5h0M466.7 384.4h0M425.3 400.9h0M457.6 398.3h0M439.4 357.5h0M443.1 405.1h0M445.1 397.9h0M432.2 373.0h0M437.5 420.5h0M450.1 386.7h0M452.3 381.7h0M437.6 393.3h0M427.1 408.5h0M419.7 414.7h0M454.3 390.9h0M439.4 371.4h0M439.2 419.4h0M460.5 382.6h0M426.3 417.2h0M444.9 417.1h0M431.4 402.7h0M416.2 382.9h0M451.6 371.2h0M443.7 400.9h0M445.4 401.8h0M440.0 371.3h0M415.5 399.9h0M457.3 405.9h0M421.5 360.0h0M432.6 376.0h0M450.0 404.1h0M458.7 395.4h0M444.5 368.0h0M427.0 368.5h0M465.6 384.4h0M428.5 362.0h0M438.1 393.2h0M466.2 379.6h0M430.0 377.0h0M449.4 407.0h0M415.7 375.8h0M462.2 402.8h0M451.5 384.2h0M444.2 398.9h0M443.7 390.2h0M441.3 400.6h0M441.8 416.0h0M448.7 402.9h0M420.2 409.4h0M434.0 388.4h0M424.6 406.9h0M427.9 407.1h0M421.9 397.3h0M432.2 395.8h0M429.1 419.0h0M443.5 407.8h0M445.3 368.9h0M426.8 393.3h0M419.9 383.8h0M416.5 409.9h0M434.2 369.8h0M451.6 377.5h0M420.4 413.8h0M448.5 405.6h0M415.2 359.3h0M451.4 400.2h0M419.3 390.4h0M452.4 385.1h0M420.2 366.5h0M439.0 397.5h0M427.4 417.2h0M451.0 402.0h0M415.5 362.6h0M434.9 362.1h0M430.3 415.2h0M462.6 385.8h0M411.9 376.7h0M467.4 399.2h0M428.7 401.5h0M445.0 403.7h0M443.1 384.2h0M423.7 388.1h0M435.5 418.3h0M431.2 356.6h0M414.9 395.9h0M424.3 363.0h0M440.7 390.4h0M443.5 413.2h0M429.6 403.4h0M469.7 386.6h0M411.3 376.3h0M442.5 368.6h0M466.1 380.0h0M441.2 412.8h0M461.7 383.1h0M445.4 360.1h0M428.9 378.4h0M414.1 372.1h0M415.1 361.2h0M442.9 377.6h0M423.2 377.7h0M427.3 378.3h0M443.5 367.7h0M422.7 387.5h0M462.2 399.0h0M453.1 402.5h0M456.4 384.8h0M430.7 400.6h0M423.3 389.3h0M453.9 400.4h0M441.4 414.1h0M423.5 362.8h0M442.1 399.9h0M468.4 392.1h0M447.8 384.4h0M432.5 403.2h0M430.2 419.6h0M422.5 384.5h0M425.9 384.7h0M464.8 399.9h0M423.7 400.8h0M438.5 419.0h0M431.4 419.5h0M452.2 406.2h0M428.1 359.9h0M465.9 397.8h0M420.6 402.3h0M432.7 364.0h0M425.3 417.5h0M447.7 398.7h0M415.6 361.6h0M468.2 390.0h0M443.9 413.5h0M460.2 377.5h0M423.3 359.6h0M451.9 372.3h0M438.3 362.6h0M436.3 379.6h0M417.9 356.1h0M461.9 388.2h0M422.4 355.5h0M434.2 384.6h0M416.1 364.9h0M437.7 360.2h0M437.7 370.5h0M413.7 387.1h0M447.9 366.2h0M437.9 414.9h0M431.4 374.2h0M435.7 417.0h0M443.1 393.9h0M428.0 405.8h0M438.4 359.8h0M440.9 368.7h0M425.5 387.7h0M420.9 361.8h0M432.3 365.1h0M417.3 388.2h0M425.7 413.3h0M427.0 396.8h0M443.7 386.9h0M470.0 390.1h0M437.8 369.2h0M443.1 375.8h0M468.0 398.2h0M421.4 404.5h0M447.5 402.1h0M447.5 414.9h0M414.2 382.0h0M425.8 352.4h0M440.1 383.2h0M435.8 356.2h0M440.2 400.7h0M420.9 353.2h0M424.1 373.0h0M439.7 360.5h0M418.8 379.2h0M424.8 374.6h0M440.3 408.0h0M449.9 408.3h0M440.6 403.8h0M464.3 390.5h0M432.5 422.8h0M460.4 403.5h0M435.5 387.6h0M429.1 401.8h0M448.1 382.2h0M436.5 380.1h0M447.9 405.3h0M428.7 409.3h0M420.0 393.2h0M444.1 386.9h0M447.8 403.2h0M447.1 395.7h0M439.2 407.5h0M415.2 359.6h0M447.2 370.7h0M427.2 395.6h0M449.2 376.2h0M418.8 407.8h0M433.8 371.4h0M415.6 373.0h0M426.2 390.8h0M436.1 404.2h0M446.2 395.7h0M450.4 367.8h0M448.6 384.6h0M450.7 409.8h0M426.1 394.0h0M419.5 375.9h0M413.1 370.4h0M444.3 410.1h0M461.9 389.6h0M412.1 379.6h0M442.8 398.5h0M455.4 385.5h0M420.2 370.8h0M432.2 378.6h0M469.2 389.9h0M421.5 394.3h0M437.4 379.2h0M424.1 364.5h0M420.4 398.9h0M428.1 352.9h0M445.3 383.3h0M442.5 400.1h0M416.0 365.1h0M436.8 373.1h0M432.0 401.0h0M452.3 402.2h0M436.9 414.0h0M431.7 387.2h0M432.9 416.0h0M459.5 376.1h0M447.4 392.0h0M446.4 365.4h0M436.4 373.8h0M448.1 370.6h0M422.8 408.2h0M442.7 368.4h0M442.3 394.3h0M438.5 389.6h0M439.2 395.1h0M456.9 409.0h0M415.3 368.7h0M438.6 371.8h0M433.5 391.1h0M430.9 416.9h0M414.2 395.9h0M450.1 411.8h0M429.4 401.3h0M436.1 386.2h0M470.4 387.8h0M438.9 359.0h0M453.0 390.1h0M419.2 409.5h0M468.0 395.5h0M446.9 397.0h0M433.9 405.2h0M436.0 363.5h0M432.2 366.2h0M440.0 413.6h0M446.8 383.7h0M427.6 359.3h0M469.6 392.9h0M426.4 352.7h0M447.0 375.2h0M427.1 363.8h0" stroke="#BEBEBE" stroke-width="1.9" stroke-linecap="round" fill="none"/>
<path d="M441.1 381.8h0M442.8 382.8h0M456.2 383.2h0M454.8 382.2h0M439.6 380.0h0" stroke="#fff" stroke-width="1.8" stroke-linecap="round" fill="none"/>
<path d="M413.7 370.9L415.4 370.6L417.0 370.7L418.4 371.0L419.6 371.6L420.7 372.5L421.7 373.5L422.6 374.7L423.4 376.0L424.1 377.5L424.7 379.0L425.3 380.6L425.7 382.3L426.1 384.1L426.2 385.8L426.1 387.2L425.7 388.6L425.0 389.7L424.4 390.8L423.7 392.0L423.1 393.1L422.5 394.1L421.8 394.9L421.0 395.2L420.1 395.2L419.2 394.9L418.2 394.4L417.1 393.9L416.1 393.2L415.0 392.5L414.0 391.4L413.2 389.9L412.6 388.1L412.0 385.9L411.6 383.5L411.3 381.0L411.2 378.3L411.2 375.5L411.6 373.3L412.5 371.8Z" fill="#1212E8" fill-opacity="0.45"/>
<path d="M417.5 401.6L418.9 400.9L420.2 400.3L421.6 399.7L423.0 399.3L424.5 398.9L425.8 398.8L427.1 399.0L428.3 399.4L429.3 400.2L430.3 401.0L431.2 401.9L432.0 402.9L432.8 404.0L433.4 405.1L434.1 406.4L434.7 407.7L435.2 409.2L435.5 410.6L435.6 411.9L435.5 413.1L435.2 414.2L434.7 415.4L434.1 416.5L433.3 417.5L432.4 418.6L431.3 419.2L430.1 419.5L428.8 419.3L427.4 418.8L425.9 418.2L424.3 417.4L422.7 416.6L421.0 415.7L419.6 414.7L418.4 413.5L417.4 412.2L416.7 410.7L416.1 409.2L415.7 407.8L415.5 406.3L415.5 404.9L415.9 403.6L416.5 402.5Z" fill="#1212E8" fill-opacity="0.6"/>
<path d="M416.6 392.5L418.6 393.4L420.4 394.3L422.0 395.3L423.5 396.2L424.7 397.2L425.3 398.0L425.2 398.8L424.5 399.4L423.0 399.8L421.6 400.3L420.3 400.8L419.0 401.3L417.7 401.9L416.6 401.8L415.6 401.2L414.7 400.0L414.0 398.2L413.5 396.6L413.2 395.1L413.2 393.9L413.4 392.8L414.0 392.2L415.1 392.1Z" fill="#1212E8" fill-opacity="0.3"/>
<path d="M415.0 394.1h0M414.6 384.8h0M421.9 379.0h0M419.7 392.0h0M416.4 371.7h0M413.7 371.8h0M417.5 388.0h0M422.4 378.9h0M422.2 384.1h0M414.6 380.1h0M417.5 386.8h0M423.5 389.0h0M423.7 389.0h0M414.2 379.6h0M422.6 389.5h0M422.4 378.4h0M422.1 379.6h0M419.1 383.5h0M416.8 382.3h0M422.6 392.7h0M415.3 378.5h0M424.6 387.4h0M419.2 386.0h0M419.2 385.4h0M421.2 374.3h0M417.1 373.4h0M413.2 382.6h0M425.1 379.1h0M415.9 377.6h0M415.6 379.5h0M419.9 382.1h0M420.1 384.5h0M413.8 379.9h0M413.7 389.7h0M423.8 383.3h0M416.9 385.7h0M414.8 386.6h0M417.7 383.7h0M413.5 386.0h0M415.3 377.1h0M414.1 371.7h0M426.6 382.6h0M419.7 391.5h0M422.1 386.7h0M421.7 393.4h0M420.7 391.2h0M412.3 381.8h0M421.4 373.2h0M414.6 378.2h0M416.7 379.1h0M419.4 378.1h0M423.3 378.8h0M413.9 371.1h0M416.5 387.2h0M416.0 373.0h0M422.3 378.3h0M416.8 390.8h0M425.3 387.2h0M424.9 389.8h0M421.6 379.5h0M416.8 386.2h0M417.6 390.9h0M422.2 383.8h0M425.6 380.3h0M414.4 375.9h0M411.2 381.3h0M421.2 385.4h0M420.6 379.0h0M421.5 374.1h0M420.5 382.7h0M420.4 393.8h0M414.0 377.9h0M418.7 373.6h0M419.0 374.4h0M421.8 390.8h0M425.9 384.5h0M418.5 376.5h0M417.3 384.0h0M421.5 391.0h0M414.6 392.4h0M420.0 389.7h0M423.4 379.8h0M421.4 382.5h0M417.8 374.7h0M412.5 376.6h0M419.7 393.3h0M424.9 385.8h0M412.1 380.1h0M415.5 375.7h0M423.9 381.6h0M421.8 384.6h0M421.6 386.7h0M418.1 389.0h0M413.9 369.9h0M417.1 384.6h0M414.6 371.1h0M414.2 383.1h0M424.5 381.8h0M420.3 395.4h0M422.9 390.5h0M419.9 373.0h0M417.8 377.3h0M418.9 377.1h0M418.0 388.2h0M412.0 378.2h0M419.9 381.0h0M421.7 376.0h0M416.6 384.5h0M420.3 389.5h0M419.6 389.7h0M413.0 379.1h0M420.8 376.3h0M416.1 376.1h0M422.6 385.4h0M422.8 387.9h0M411.9 373.9h0M416.7 372.6h0M414.3 383.2h0M417.4 372.2h0M416.7 391.7h0M422.0 374.5h0M419.3 391.8h0M419.0 379.6h0M416.6 390.8h0M414.0 383.5h0M417.1 382.6h0M415.4 374.9h0M418.1 376.2h0M418.7 387.9h0M419.2 392.9h0M419.7 389.4h0M418.3 385.7h0M416.5 393.5h0M414.5 381.4h0M418.4 389.4h0M421.5 375.3h0M420.4 375.9h0M422.1 381.6h0M413.3 381.1h0M415.4 374.9h0M418.2 391.6h0M412.8 373.3h0M415.6 392.8h0M424.5 384.6h0M422.4 392.6h0M419.0 376.6h0M417.5 379.7h0M412.6 372.8h0M421.8 379.3h0M413.4 378.2h0M418.8 392.5h0M424.3 388.5h0M417.8 385.9h0M422.4 383.9h0M423.5 377.9h0M415.2 391.9h0M417.4 374.1h0M422.9 391.3h0M420.6 386.5h0M417.3 383.9h0M414.7 390.7h0M417.2 389.6h0M413.4 381.6h0M419.4 387.9h0M414.5 388.2h0M412.0 381.3h0M421.1 390.2h0M425.3 387.5h0M412.7 380.3h0M420.6 374.6h0M424.8 388.8h0M418.8 370.1h0M423.8 389.6h0M425.2 385.6h0M411.9 374.4h0M412.7 378.9h0M415.9 374.8h0M417.5 372.3h0M418.3 381.4h0M418.7 374.8h0M418.7 375.5h0M417.3 378.8h0M417.9 385.2h0M421.1 393.9h0M417.0 374.4h0M419.8 390.7h0M423.1 377.0h0M423.7 393.7h0M417.4 375.1h0M419.7 386.2h0M414.1 371.0h0M421.6 389.9h0M412.5 385.5h0M414.7 375.4h0M420.3 377.0h0M422.6 383.5h0M419.5 390.7h0M424.5 382.4h0M415.9 390.4h0M419.7 382.2h0M418.9 372.8h0M413.7 379.9h0M416.2 382.6h0M414.3 379.9h0M413.0 389.7h0M422.3 380.0h0M420.2 389.3h0M422.8 387.3h0M421.9 373.6h0" stroke="#1212E8" stroke-width="1.7" stroke-linecap="round" fill="none"/>
<path d="M420.4 414.9h0M418.1 412.8h0M429.4 414.7h0M430.2 407.0h0M433.5 408.4h0M421.8 413.9h0M419.1 406.7h0M430.9 416.9h0M425.2 409.2h0M427.1 408.0h0M422.3 400.7h0M428.9 416.6h0M422.8 417.4h0M434.5 414.6h0M423.7 417.4h0M419.0 408.6h0M414.4 407.5h0M431.2 419.7h0M424.1 409.3h0M425.4 416.6h0M417.1 406.0h0M428.5 406.6h0M416.5 409.4h0M419.4 404.0h0M420.9 413.4h0M432.5 405.1h0M427.2 411.6h0M425.2 412.0h0M421.9 410.9h0M429.5 408.8h0M418.9 411.7h0M432.6 405.5h0M431.4 414.0h0M427.8 408.8h0M425.5 404.9h0M424.9 415.1h0M425.7 399.6h0M420.7 409.1h0M417.8 411.9h0M431.9 408.0h0M421.6 404.4h0M433.3 414.6h0M417.6 405.2h0M418.8 403.1h0M420.8 409.4h0M421.5 402.0h0M426.3 408.6h0M432.7 417.2h0M433.1 412.9h0M426.0 406.2h0M432.6 417.9h0M435.2 415.0h0M428.2 404.6h0M420.8 411.5h0M431.4 405.9h0M425.2 408.3h0M426.2 416.3h0M428.9 404.5h0M430.2 411.1h0M419.4 401.2h0M418.7 411.8h0M428.6 415.1h0M424.5 402.0h0M419.0 404.0h0M430.0 405.8h0M435.5 411.2h0M424.6 401.7h0M419.2 403.0h0M431.2 413.9h0M425.3 405.9h0M417.3 403.5h0M419.4 402.7h0M422.9 402.9h0M426.9 403.1h0M421.2 401.4h0M420.9 410.3h0M420.4 414.2h0M426.3 413.7h0M434.6 406.6h0M427.2 410.6h0M416.0 406.6h0M434.0 408.6h0M418.7 411.4h0M419.5 402.4h0M426.8 401.8h0M428.8 418.6h0M424.3 413.9h0M420.5 412.1h0M422.4 404.8h0M424.3 408.6h0M426.5 414.6h0M424.4 413.3h0M425.8 405.2h0M430.1 416.3h0M430.8 413.6h0M423.4 405.7h0M435.5 412.0h0M420.1 407.8h0M420.4 406.9h0M420.7 409.4h0M423.7 407.8h0M418.5 410.5h0M433.4 405.7h0M432.0 409.6h0M432.7 417.8h0M434.0 407.7h0M430.4 413.7h0M429.9 412.8h0M430.8 418.0h0M434.8 412.7h0M418.9 409.5h0M429.6 409.4h0M422.9 415.3h0M422.3 407.7h0M427.3 419.1h0M425.2 403.1h0M425.2 415.3h0M419.4 403.7h0M423.1 406.8h0M424.0 415.7h0M429.9 415.0h0M418.8 412.0h0M420.2 399.5h0M419.2 408.3h0M424.6 410.2h0M425.2 402.9h0M421.9 416.1h0M417.2 405.8h0M424.9 417.9h0M433.1 405.0h0M418.3 408.9h0M431.9 411.3h0M430.9 411.8h0M431.4 414.1h0M417.5 403.9h0M426.5 398.1h0M422.2 414.1h0M419.2 406.2h0M421.0 413.2h0M423.7 404.4h0M419.5 404.8h0M434.0 417.1h0M425.9 400.0h0M425.3 416.5h0M426.8 412.9h0M429.7 418.8h0M424.1 410.5h0M421.7 412.4h0M425.2 403.7h0M425.4 413.0h0M426.5 401.4h0M428.9 412.8h0M425.9 399.1h0M417.8 406.8h0M429.7 417.2h0M434.7 410.5h0M432.1 408.7h0M422.6 404.9h0M418.5 405.9h0M420.5 412.3h0M435.1 413.4h0M421.2 414.0h0M427.7 401.3h0M422.4 409.5h0M421.9 412.3h0M428.3 408.0h0M428.4 414.1h0M427.1 404.1h0M428.4 412.0h0M432.2 406.7h0M432.7 416.9h0M424.7 404.4h0M424.1 417.5h0M432.6 414.8h0M426.9 413.8h0M420.5 414.8h0M425.9 405.8h0M416.9 406.1h0M425.3 406.5h0M417.5 408.3h0M426.8 411.5h0M419.3 415.5h0M423.1 401.2h0M425.4 409.0h0M416.9 405.9h0M421.1 412.0h0M421.6 401.6h0M414.5 407.4h0M427.1 410.5h0M419.9 410.1h0M421.3 413.6h0M426.2 404.3h0M434.6 416.2h0M420.1 402.5h0M424.1 399.8h0M416.3 404.6h0M424.1 407.5h0M429.6 417.3h0M417.5 412.8h0M423.6 403.5h0M433.7 409.0h0M430.4 409.9h0M419.6 403.8h0M422.7 412.4h0M427.1 407.8h0M424.1 401.0h0M426.9 409.1h0M420.0 413.2h0M433.8 410.9h0M421.9 415.6h0M429.8 410.5h0M420.6 411.1h0M433.3 411.2h0M425.7 410.2h0M416.6 409.0h0M421.7 409.5h0M421.9 406.6h0M424.9 416.2h0M425.7 417.5h0M429.3 401.5h0M426.3 412.2h0M423.9 406.1h0M418.1 405.4h0M432.2 414.1h0M420.4 404.0h0M429.0 402.4h0M425.9 417.1h0M422.9 409.8h0M423.9 416.6h0M431.6 415.0h0M433.1 405.3h0M424.7 405.1h0M421.7 401.5h0M427.1 415.5h0M434.9 407.3h0M434.3 409.8h0M428.0 416.5h0M421.9 408.2h0M423.0 401.6h0M422.0 411.5h0M433.8 413.8h0M421.0 409.0h0M422.3 401.8h0M421.1 407.3h0M432.8 411.5h0M431.5 407.7h0M425.0 401.3h0M424.2 400.5h0M427.3 412.0h0M421.3 403.3h0M433.6 408.3h0M429.3 401.3h0M418.7 406.0h0M428.7 411.2h0M415.8 406.7h0M421.2 415.1h0M427.1 413.1h0M422.7 414.6h0M421.0 413.9h0M418.6 406.2h0M432.2 413.5h0M426.7 400.1h0M427.4 403.7h0M420.3 411.8h0M419.3 401.6h0M430.4 405.6h0M432.6 412.5h0M422.0 399.8h0M433.8 416.2h0M421.4 412.2h0" stroke="#1212E8" stroke-width="1.7" stroke-linecap="round" fill="none"/>
<path d="M415.5 401.3h0M420.1 393.2h0M418.9 393.3h0M423.1 398.3h0M414.1 394.2h0M415.1 398.0h0M414.9 399.4h0M414.2 395.0h0M421.5 399.5h0M414.3 392.8h0M414.6 391.9h0M423.5 398.9h0M422.4 397.4h0M417.3 400.1h0M414.4 394.8h0M414.8 392.2h0M416.8 393.3h0M417.5 393.0h0M422.1 399.3h0M424.4 399.0h0M414.0 398.8h0M423.5 399.5h0M419.6 396.6h0M416.4 397.1h0M423.3 398.6h0M419.9 399.2h0M416.7 394.2h0M419.7 393.5h0M424.0 396.7h0M414.8 393.3h0M419.7 398.9h0M419.2 398.5h0M415.9 396.2h0M420.2 394.2h0M418.3 401.1h0M420.1 393.6h0M416.7 395.1h0M421.8 400.5h0M423.3 398.1h0M414.0 394.7h0M413.4 396.6h0M418.0 397.8h0M425.8 397.7h0M421.7 399.9h0M413.1 396.2h0" stroke="#1212E8" stroke-width="1.7" stroke-linecap="round" fill="none"/>
<path d="M419.4 363.0h0M427.4 362.3h0M428.8 366.6h0M433.1 368.1h0M429.5 375.3h0M430.2 382.5h0M429.5 386.8h0M428.1 378.9h0M431.7 388.3h0M439.6 410.6h0M437.5 414.2h0M432.4 423.6h0M430.2 393.3h0M426.6 366.6h0M438.2 417.1h0M436.0 420.0h0" stroke="#1212E8" stroke-width="1.7" stroke-linecap="round" fill="none"/>
<path d="M433.3 358.8L434.4 357.9L435.6 357.3L437.0 357.0L438.4 357.1L440.1 357.4L441.7 357.9L443.4 358.6L445.2 359.3L447.0 360.2L448.7 361.3L450.2 362.6L451.6 364.0L452.9 365.6L454.0 367.3L454.9 368.9L455.6 370.5L456.1 372.1L456.4 373.7L456.4 375.1L456.1 376.5L455.6 377.7L454.9 378.7L454.0 379.3L452.9 379.6L451.6 379.6L450.3 379.4L448.9 378.9L447.6 378.3L446.1 377.4L444.7 376.4L443.4 375.3L442.1 374.1L440.8 372.9L439.6 371.6L438.4 370.5L437.3 369.3L436.2 368.3L435.2 367.2L434.3 366.2L433.5 365.3L432.8 364.4L432.2 363.5L431.9 362.7L431.7 361.9L431.7 361.2L432.0 360.5L432.5 359.6Z" fill="#EE1515" fill-opacity="0.45"/>
<path d="M463.5 376.9L465.5 377.5L467.2 378.2L468.5 379.2L469.6 380.4L470.4 381.8L471.0 383.3L471.4 384.9L471.7 386.6L471.9 388.5L471.8 390.1L471.6 391.7L471.3 393.0L470.7 394.3L470.0 395.4L469.2 396.2L468.3 396.8L467.2 397.2L466.2 397.3L465.2 397.0L464.2 396.4L463.3 395.4L462.6 394.3L461.9 392.9L461.4 391.3L461.1 389.5L460.7 387.8L460.4 386.2L460.0 384.7L459.6 383.2L459.4 381.8L459.4 380.5L459.6 379.2L460.0 377.9L460.8 377.1L461.9 376.8Z" fill="#EE1515" fill-opacity="0.6"/>
<path d="M446.1 391.0L447.6 389.9L449.0 389.1L450.4 388.5L451.9 388.3L453.3 388.3L454.7 388.5L456.1 389.1L457.4 389.9L458.6 391.0L459.7 392.1L460.5 393.1L461.1 394.2L461.4 395.3L461.5 396.4L461.2 397.6L460.6 398.8L459.7 400.1L458.7 401.3L457.6 402.3L456.5 403.3L455.2 404.2L454.0 405.0L452.7 405.8L451.4 406.4L450.2 407.0L449.0 407.1L447.9 406.8L446.9 405.9L446.0 404.6L445.3 403.3L444.6 401.9L444.1 400.5L443.8 399.1L443.5 397.7L443.4 396.5L443.5 395.3L443.7 394.2L444.2 393.1L445.0 392.1Z" fill="#EE1515" fill-opacity="0.45"/>
<path d="M441.1 369.5h0M450.2 374.1h0M443.0 366.8h0M437.8 362.2h0M447.1 361.0h0M448.3 362.8h0M451.9 368.6h0M446.4 373.4h0M436.9 361.9h0M441.8 373.1h0M446.3 371.3h0M451.5 374.4h0M438.4 367.8h0M442.2 362.4h0M440.1 367.5h0M449.6 374.5h0M441.6 370.8h0M433.5 361.4h0M452.1 377.3h0M439.6 367.4h0M447.9 360.5h0M444.2 372.2h0M435.6 360.2h0M443.7 362.1h0M445.3 366.2h0M436.8 361.7h0M443.7 371.7h0M433.3 358.1h0M450.0 372.8h0M441.2 362.8h0M453.1 372.8h0M449.1 368.1h0M442.2 365.1h0M449.4 373.3h0M449.6 371.3h0M435.4 365.1h0M445.0 374.9h0M443.6 361.3h0M439.9 360.1h0M448.9 363.9h0M449.9 369.7h0M443.0 358.4h0M434.2 362.2h0M453.7 366.9h0M449.2 367.1h0M449.8 372.5h0M440.9 369.7h0M436.2 367.4h0M449.3 371.9h0M446.0 373.2h0M448.7 371.6h0M447.5 362.9h0M435.3 361.1h0M453.1 375.1h0M438.1 360.1h0M451.2 375.1h0M435.7 366.5h0M445.3 368.5h0M443.4 374.3h0M434.8 365.0h0M441.5 370.6h0M436.5 366.8h0M442.6 372.9h0M434.0 363.4h0M433.0 358.3h0M443.6 358.8h0M441.2 364.9h0M441.4 369.9h0M444.7 367.0h0M439.3 368.6h0M453.7 376.1h0M450.3 377.4h0M448.0 368.0h0M442.0 368.5h0M444.6 372.6h0M441.9 358.3h0M444.6 371.0h0M447.0 366.5h0M440.6 363.9h0M444.7 371.8h0M437.5 358.0h0M448.2 367.5h0M436.1 364.4h0M444.9 361.9h0M450.8 379.5h0M447.2 368.6h0M437.6 361.4h0M442.2 361.0h0M451.6 367.0h0M443.1 368.8h0M449.5 368.6h0M438.0 361.9h0M436.2 365.6h0M435.6 362.9h0M441.7 371.7h0M446.9 370.0h0M444.8 372.1h0M434.6 364.5h0M453.5 373.0h0M438.7 363.0h0M438.3 369.4h0M448.7 369.2h0M438.8 370.2h0M443.5 362.9h0M448.3 372.1h0M451.7 368.2h0M451.0 373.3h0M447.0 360.7h0M448.6 369.0h0M434.6 363.8h0M450.6 373.0h0M434.5 358.5h0M452.6 377.4h0M449.1 377.6h0M453.7 377.3h0M436.1 362.8h0M451.0 378.5h0M440.8 361.6h0M450.0 372.5h0M434.8 361.4h0M453.8 366.4h0M451.0 366.6h0M436.2 366.4h0M440.3 371.8h0M445.9 367.2h0M442.4 370.8h0M443.5 363.0h0M441.0 361.5h0M440.4 358.6h0M436.8 366.4h0M435.3 362.5h0M451.3 365.6h0M452.9 372.2h0M445.8 362.6h0M437.9 359.8h0M450.9 378.8h0M440.6 367.0h0M443.8 365.3h0M452.4 376.3h0M452.9 378.4h0M439.3 366.7h0M436.6 361.6h0M439.0 367.2h0M453.2 373.8h0M454.6 371.4h0M448.7 370.2h0M453.2 367.1h0M447.4 371.5h0M435.8 366.4h0M445.1 371.7h0M441.0 365.3h0M433.0 359.7h0M444.5 369.6h0M455.2 371.7h0M451.1 371.0h0M436.1 358.9h0M441.6 371.2h0M439.8 369.8h0M443.4 358.5h0M451.3 371.4h0M440.2 371.5h0M447.4 366.9h0M439.3 364.4h0M447.1 364.8h0M453.5 368.8h0M446.0 370.0h0M443.2 362.5h0M446.8 368.8h0M437.1 358.8h0M433.7 359.0h0M451.3 379.5h0M451.5 366.3h0M434.9 359.3h0M443.4 374.2h0M436.4 359.3h0M449.5 373.9h0M442.9 361.8h0M444.0 363.7h0M440.9 371.8h0M453.0 373.7h0M435.8 367.6h0M446.9 376.5h0M436.4 362.0h0M444.0 365.0h0M438.3 359.9h0M435.4 361.9h0M439.2 357.0h0M448.2 375.6h0M432.7 363.2h0M442.9 371.6h0M436.8 361.3h0M444.0 374.1h0M449.0 375.9h0M451.0 371.6h0M453.9 375.3h0M445.8 368.2h0M450.9 378.6h0M448.1 367.6h0M452.2 371.5h0M438.0 369.7h0M450.7 364.7h0M432.1 362.5h0M445.0 369.1h0M448.1 365.1h0M436.7 369.0h0M440.0 366.8h0M442.1 366.7h0M440.1 367.0h0M436.3 368.8h0M445.4 364.6h0M436.5 369.1h0M453.0 378.4h0M442.7 367.0h0M445.6 364.2h0M444.1 364.8h0M436.0 364.1h0M440.2 360.5h0M449.0 374.2h0M432.6 364.2h0M448.5 371.4h0M450.5 371.3h0M441.1 362.0h0M453.5 380.1h0M457.4 376.5h0M448.0 370.5h0M451.5 371.4h0M439.8 364.3h0M452.0 377.2h0M452.6 366.0h0M435.9 362.6h0" stroke="#EE1515" stroke-width="1.7" stroke-linecap="round" fill="none"/>
<path d="M469.0 388.0h0M468.6 390.4h0M461.4 381.3h0M467.5 395.4h0M466.0 395.4h0M462.8 389.6h0M460.3 385.6h0M464.9 381.7h0M471.0 392.5h0M465.5 388.9h0M460.9 387.9h0M468.1 383.9h0M464.7 387.0h0M467.9 392.2h0M463.1 379.9h0M466.4 391.3h0M464.5 379.6h0M462.6 376.7h0M472.0 392.3h0M469.7 385.2h0M469.1 385.1h0M466.0 388.9h0M465.9 396.1h0M465.8 379.5h0M469.4 382.9h0M461.2 376.9h0M467.2 384.5h0M466.2 393.1h0M460.2 383.3h0M461.6 385.3h0M465.9 386.0h0M460.9 377.8h0M467.9 388.4h0M463.4 380.0h0M465.7 395.7h0M462.9 380.4h0M460.5 378.2h0M470.2 384.1h0M469.5 389.5h0M465.5 393.6h0M463.1 392.3h0M466.1 390.6h0M462.8 382.6h0M460.6 380.6h0M467.8 382.5h0M465.4 378.8h0M462.3 395.5h0M463.8 392.1h0M463.1 378.9h0M463.4 385.5h0M464.2 381.9h0M463.2 394.1h0M466.7 387.2h0M461.3 384.9h0M469.4 391.6h0M468.0 393.9h0M471.1 389.8h0M460.3 378.9h0M471.7 387.0h0M465.0 379.7h0M459.2 381.9h0M464.9 388.4h0M465.2 385.3h0M464.1 383.5h0M462.0 388.8h0M466.6 390.6h0M462.7 384.6h0M462.0 377.2h0M462.8 393.4h0M463.4 395.1h0M464.4 379.4h0M471.6 382.2h0M465.7 380.7h0M462.4 377.0h0M460.7 390.2h0M471.0 391.1h0M466.8 379.0h0M461.3 379.6h0M469.1 382.6h0M460.5 387.7h0M468.6 380.8h0M462.4 381.3h0M462.1 383.2h0M461.8 384.1h0M470.6 390.7h0M461.7 382.3h0M465.3 380.5h0M465.2 389.3h0M459.4 380.3h0M461.5 388.6h0M466.1 381.9h0M464.8 381.8h0M463.6 382.9h0M461.2 385.3h0M463.5 384.6h0M461.6 386.3h0M468.7 390.8h0M468.5 395.8h0M466.9 394.5h0M464.8 382.2h0M470.1 391.5h0M462.5 389.2h0M472.4 389.2h0M471.1 387.8h0M464.5 383.8h0M462.1 383.3h0M469.2 382.2h0M465.1 379.4h0M460.7 383.9h0M469.9 389.0h0M462.6 382.0h0M463.5 387.5h0M468.2 392.1h0M471.2 386.6h0M463.5 389.9h0M464.7 391.0h0M464.7 391.0h0M470.2 383.1h0M467.6 392.3h0M466.7 387.4h0M465.8 394.0h0M468.3 388.6h0M464.5 388.9h0M462.1 380.4h0M461.6 392.6h0M462.9 378.8h0M465.6 380.3h0M461.5 392.1h0M465.2 396.9h0M462.5 388.9h0M462.2 393.5h0M465.2 388.9h0M465.6 383.6h0M463.5 385.3h0M463.4 379.0h0M466.7 392.7h0M466.0 387.7h0M466.6 385.8h0M466.9 377.9h0M471.8 389.6h0M467.6 388.5h0M466.5 398.1h0M471.9 390.0h0M470.1 394.0h0M462.7 378.0h0M470.0 387.5h0M460.5 385.2h0M469.2 383.6h0M464.9 378.4h0M462.2 390.0h0M460.6 383.3h0M467.1 393.9h0M464.1 392.6h0M461.5 391.9h0M468.4 381.7h0M468.2 380.2h0M467.2 388.7h0M464.9 388.1h0M471.1 382.9h0M460.5 378.7h0M467.5 389.1h0" stroke="#EE1515" stroke-width="1.7" stroke-linecap="round" fill="none"/>
<path d="M449.6 402.1h0M448.2 394.5h0M449.3 390.1h0M457.9 396.3h0M447.7 405.0h0M450.9 394.5h0M456.5 394.9h0M448.4 407.3h0M450.7 395.0h0M447.4 401.9h0M446.5 397.0h0M447.8 393.0h0M456.9 401.1h0M457.4 391.5h0M451.8 390.3h0M455.0 395.7h0M458.2 396.3h0M446.4 400.7h0M445.8 390.6h0M450.2 401.9h0M458.5 400.2h0M455.7 401.2h0M452.8 402.9h0M450.7 404.0h0M456.0 400.5h0M461.4 397.5h0M450.2 399.9h0M449.8 390.2h0M445.7 402.8h0M456.1 394.3h0M455.4 396.1h0M443.6 400.7h0M448.9 397.4h0M446.2 400.0h0M451.9 404.3h0M454.0 390.3h0M448.0 390.5h0M458.0 400.7h0M455.6 393.9h0M456.9 399.8h0M454.8 397.9h0M451.8 401.4h0M448.9 400.5h0M457.4 391.7h0M447.8 393.8h0M448.4 394.4h0M449.4 406.0h0M460.7 395.6h0M452.6 388.0h0M452.9 404.1h0M452.0 399.9h0M453.3 390.3h0M446.7 399.7h0M455.2 394.4h0M460.0 390.8h0M448.9 399.2h0M444.2 398.8h0M454.1 399.1h0M453.2 395.5h0M456.8 405.0h0M448.8 397.2h0M454.7 402.9h0M445.4 395.3h0M457.1 389.1h0M444.7 399.3h0M445.3 392.8h0M449.0 400.8h0M454.4 402.0h0M446.8 405.7h0M449.3 395.2h0M445.9 396.9h0M455.3 392.3h0M450.7 394.4h0M457.5 402.3h0M460.0 395.6h0M455.9 390.9h0M448.3 390.9h0M444.9 400.6h0M449.8 395.1h0M447.1 391.1h0M458.1 395.1h0M452.2 390.8h0M458.2 398.9h0M458.7 396.0h0M451.9 396.6h0M456.0 394.5h0M448.7 397.0h0M449.1 392.5h0M447.5 396.5h0M445.6 402.9h0M457.6 389.5h0M458.4 399.9h0M460.4 399.7h0M451.5 395.5h0M450.4 406.8h0M455.6 398.6h0M448.8 399.0h0M460.9 393.6h0M458.1 397.8h0M448.4 393.8h0M454.4 390.3h0M450.8 396.5h0M446.5 401.1h0M448.7 393.2h0M454.1 400.6h0M452.7 398.5h0M461.4 395.2h0M452.1 390.4h0M457.2 400.4h0M446.7 389.8h0M450.0 402.1h0M456.8 391.7h0M460.1 397.1h0M451.3 399.2h0M453.6 402.3h0M453.7 401.2h0M453.2 389.8h0M451.7 389.7h0M455.6 399.5h0M453.8 406.1h0M457.7 399.6h0M454.7 400.2h0M448.6 403.3h0M450.8 398.4h0M446.3 400.0h0M448.4 400.8h0M448.1 389.8h0M456.0 403.1h0M445.6 398.0h0M449.4 405.0h0M453.2 394.9h0M451.4 397.5h0M450.9 397.8h0M454.3 395.9h0M450.4 400.7h0M449.6 391.7h0M453.5 400.9h0M454.7 402.5h0M443.0 396.8h0M448.8 405.9h0M457.0 394.9h0M455.5 392.2h0M451.4 394.0h0M450.7 400.8h0M444.7 400.3h0M447.9 397.8h0M449.3 391.1h0M451.6 391.9h0M453.1 391.2h0M455.1 399.1h0M448.1 405.2h0M446.1 394.0h0M457.1 399.0h0M448.3 402.2h0M460.3 394.4h0M458.4 400.5h0M450.1 399.4h0M456.7 392.0h0M444.5 396.4h0M454.5 386.8h0M458.9 396.6h0M458.0 395.9h0M445.2 396.2h0M457.3 394.3h0M453.3 403.3h0M454.7 398.7h0M459.5 392.4h0M452.3 398.7h0M453.4 386.9h0M460.1 399.5h0M455.6 393.7h0M443.8 402.3h0M447.5 393.9h0M445.0 402.2h0M450.0 393.9h0M450.3 396.0h0M452.0 392.9h0M456.9 389.5h0M451.0 404.1h0M445.0 399.8h0M448.9 391.3h0M450.6 393.9h0M446.3 403.8h0" stroke="#EE1515" stroke-width="1.7" stroke-linecap="round" fill="none"/>
<path d="M437.2 378.1h0M434.7 379.0h0M440.5 374.8h0M439.0 379.4h0M437.6 378.4h0M433.4 373.5h0M432.1 374.7h0M439.4 377.3h0M432.8 374.8h0M438.4 377.0h0M435.7 379.0h0M437.0 375.9h0M439.9 379.1h0M436.0 377.1h0M429.8 373.6h0" stroke="#EE1515" stroke-width="1.7" stroke-linecap="round" fill="none"/>
<path d="M449.6 384.6h0M460.0 386.2h0M456.9 383.2h0M456.1 381.2h0M450.6 383.2h0M456.5 382.5h0M453.1 388.7h0M461.0 390.0h0M454.4 385.7h0M461.1 386.6h0M458.3 389.6h0M458.5 384.0h0M458.9 388.5h0M458.2 386.9h0M456.2 385.9h0M460.2 387.0h0M456.3 385.9h0M455.6 382.3h0M457.3 385.1h0M456.4 384.3h0" stroke="#EE1515" stroke-width="1.7" stroke-linecap="round" fill="none"/>
<path d="M452.8 374.7h0M452.5 376.4h0M452.8 370.9h0M446.8 364.4h0M444.2 365.8h0M447.9 369.6h0M449.0 374.1h0M446.7 371.3h0M447.3 372.8h0M447.2 365.8h0M448.4 369.5h0M442.6 368.1h0M446.1 366.0h0" stroke="#BEBEBE" stroke-width="1.7" stroke-linecap="round" fill="none"/>
<path d="M453.3 400.0h0M454.6 390.5h0M448.9 403.7h0M448.1 400.5h0M450.2 398.9h0M449.0 402.9h0M452.1 395.3h0M455.4 391.8h0M448.1 400.3h0M449.9 398.2h0M448.7 398.5h0M452.6 400.9h0M447.2 403.5h0" stroke="#BEBEBE" stroke-width="1.7" stroke-linecap="round" fill="none"/>
<ellipse cx="335.7" cy="492.5" rx="3.6" ry="3" fill="#EE1515"/>
<text x="342.7" y="495" font-size="7.3">Nonresponder</text>
<ellipse cx="407.2" cy="492.5" rx="3.6" ry="3" fill="#1212E8"/>
<text x="414.3" y="495" font-size="7.3">Responder</text>
<!-- Panel C -->
<text x="1.5" y="531.6" font-size="13" font-weight="bold" stroke="#000" stroke-width="0.3">C</text>
<rect x="23.50" y="533.80" width="56.90" height="130.90" fill="#fff" stroke="#8a8a8a" stroke-width="0.6"/>
<rect x="26.00" y="539.90" width="12.00" height="25.58" fill="#64B200"/>
<rect x="26.00" y="565.48" width="12.00" height="49.12" fill="#00BD5C"/>
<rect x="26.00" y="614.60" width="12.00" height="5.16" fill="#00C1A7"/>
<rect x="26.00" y="619.77" width="12.00" height="36.39" fill="#00BADE"/>
<rect x="26.00" y="656.16" width="12.00" height="3.84" fill="#FF63B6"/>
<rect x="39.70" y="539.90" width="12.00" height="3.12" fill="#AEA200"/>
<rect x="39.70" y="543.02" width="12.00" height="91.16" fill="#B385FF"/>
<rect x="39.70" y="634.18" width="12.00" height="25.82" fill="#FA6A0A"/>
<rect x="53.40" y="539.90" width="12.00" height="0.96" fill="#DB8E00"/>
<rect x="53.40" y="540.86" width="12.00" height="4.44" fill="#00C1A7"/>
<rect x="53.40" y="545.30" width="12.00" height="108.21" fill="#00A6FF"/>
<rect x="53.40" y="653.51" width="12.00" height="6.49" fill="#FF63B6"/>
<rect x="67.10" y="539.90" width="12.00" height="120.10" fill="#F8766D"/>
<text x="20.8" y="542.0" font-size="5.9" text-anchor="end" fill="#4d4d4d">1.00</text>
<text x="20.8" y="572.0" font-size="5.9" text-anchor="end" fill="#4d4d4d">0.75</text>
<text x="20.8" y="602.1" font-size="5.9" text-anchor="end" fill="#4d4d4d">0.50</text>
<text x="20.8" y="632.1" font-size="5.9" text-anchor="end" fill="#4d4d4d">0.25</text>
<text x="20.8" y="662.1" font-size="5.9" text-anchor="end" fill="#4d4d4d">0.00</text>
<text x="32.0" y="672.3" font-size="6.3" text-anchor="middle" fill="#4d4d4d">CS1</text>
<text x="45.7" y="672.3" font-size="6.3" text-anchor="middle" fill="#4d4d4d">CS2</text>
<text x="59.4" y="672.3" font-size="6.3" text-anchor="middle" fill="#4d4d4d">CS3</text>
<text x="73.1" y="672.3" font-size="6.3" text-anchor="middle" fill="#4d4d4d">CS4</text>
<path d="M21.8 539.9h1.7M21.8 569.9h1.7M21.8 600.0h1.7M21.8 630.0h1.7M21.8 660.0h1.7M32.0 664.7v1.7M45.7 664.7v1.7M59.4 664.7v1.7M73.1 664.7v1.7" stroke="#555" stroke-width="0.6" fill="none"/>
<text font-size="8.7" text-anchor="middle" transform="translate(8.3 602) rotate(-90)">Proportion</text>
<text x="53" y="686.4" font-size="8.7" text-anchor="middle">Cell state</text>
<text x="84.3" y="537.2" font-size="7.9">Annotation</text>
<rect x="84.20" y="540.45" width="10.70" height="10.60" fill="#F8766D"/>
<text x="98.3" y="547.65" font-size="5.4">B_cells</text>
<rect x="84.20" y="552.00" width="10.70" height="10.60" fill="#DB8E00"/>
<text x="98.3" y="559.2" font-size="5.4">Cytotoxicity_Lymphocytes</text>
<rect x="84.20" y="563.55" width="10.70" height="10.60" fill="#AEA200"/>
<text x="98.3" y="570.75" font-size="5.4">Dendritic_cells</text>
<rect x="84.20" y="575.10" width="10.70" height="10.60" fill="#64B200"/>
<text x="98.3" y="582.3" font-size="5.4">Exhausted_CD8+_T cells</text>
<rect x="84.20" y="586.65" width="10.70" height="10.60" fill="#00BD5C"/>
<text x="98.3" y="593.85" font-size="5.4">Exhausted_HS_CD8+_T cells</text>
<rect x="84.20" y="598.20" width="10.70" height="10.60" fill="#00C1A7"/>
<text x="98.3" y="605.4" font-size="5.4">Lymphocytes</text>
<rect x="84.20" y="609.75" width="10.70" height="10.60" fill="#00BADE"/>
<text x="98.3" y="616.95" font-size="5.4">Lymphocytes_exhausted/cell_cycle</text>
<rect x="84.20" y="621.30" width="10.70" height="10.60" fill="#00A6FF"/>
<text x="98.3" y="628.5" font-size="5.4">Memory_T cells</text>
<rect x="84.20" y="632.85" width="10.70" height="10.60" fill="#B385FF"/>
<text x="98.3" y="640.05" font-size="5.4">Monocytes/macrophages</text>
<rect x="84.20" y="644.40" width="10.70" height="10.60" fill="#FA6A0A"/>
<text x="98.3" y="651.6" font-size="5.4">Plasma_cells</text>
<rect x="84.20" y="655.95" width="10.70" height="10.60" fill="#FF63B6"/>
<text x="98.3" y="663.15" font-size="5.4">Regulatory_T cells</text>
<!-- Panel D -->
<text x="192.2" y="531.6" font-size="13" font-weight="bold" stroke="#000" stroke-width="0.3">D</text>
<rect x="213.00" y="542.00" width="178.20" height="125.60" fill="#fff" stroke="#9a9a9a" stroke-width="0.6"/>
<rect x="214.20" y="547.20" width="8.20" height="78.40" fill="#C3B8B4"/>
<rect x="214.20" y="625.60" width="8.20" height="5.76" fill="#F98686"/>
<rect x="214.20" y="631.37" width="8.20" height="29.75" fill="#6AC537"/>
<rect x="214.20" y="661.12" width="8.20" height="1.38" fill="#1E9FDA"/>
<text x="218.3" y="674.6" font-size="3.8" text-anchor="middle" fill="#4d4d4d">P1</text>
<rect x="223.51" y="547.20" width="8.20" height="56.50" fill="#C3B8B4"/>
<rect x="223.51" y="603.70" width="8.20" height="40.36" fill="#F98686"/>
<rect x="223.51" y="644.05" width="8.20" height="17.53" fill="#6AC537"/>
<rect x="223.51" y="661.58" width="8.20" height="0.92" fill="#1E9FDA"/>
<text x="227.61" y="674.6" font-size="3.8" text-anchor="middle" fill="#4d4d4d">P12</text>
<rect x="232.82" y="547.20" width="8.20" height="85.32" fill="#C3B8B4"/>
<rect x="232.82" y="632.52" width="8.20" height="19.60" fill="#F98686"/>
<rect x="232.82" y="652.12" width="8.20" height="8.07" fill="#6AC537"/>
<rect x="232.82" y="660.19" width="8.20" height="2.31" fill="#1E9FDA"/>
<text x="236.92" y="674.6" font-size="3.8" text-anchor="middle" fill="#4d4d4d">P13</text>
<rect x="242.13" y="547.20" width="8.20" height="86.47" fill="#C3B8B4"/>
<rect x="242.13" y="633.67" width="8.20" height="19.60" fill="#F98686"/>
<rect x="242.13" y="653.28" width="8.20" height="7.84" fill="#6AC537"/>
<rect x="242.13" y="661.12" width="8.20" height="1.38" fill="#1E9FDA"/>
<text x="246.23" y="674.6" font-size="3.8" text-anchor="middle" fill="#4d4d4d">P3</text>
<rect x="251.44" y="547.20" width="8.20" height="70.33" fill="#C3B8B4"/>
<rect x="251.44" y="617.53" width="8.20" height="23.06" fill="#F98686"/>
<rect x="251.44" y="640.59" width="8.20" height="20.52" fill="#6AC537"/>
<rect x="251.44" y="661.12" width="8.20" height="1.38" fill="#1E9FDA"/>
<text x="255.54" y="674.6" font-size="3.8" text-anchor="middle" fill="#4d4d4d">P20</text>
<rect x="260.75" y="547.20" width="8.20" height="3.46" fill="#C3B8B4"/>
<rect x="260.75" y="550.66" width="8.20" height="2.31" fill="#F98686"/>
<rect x="260.75" y="552.97" width="8.20" height="103.77" fill="#6AC537"/>
<rect x="260.75" y="656.74" width="8.20" height="5.76" fill="#1E9FDA"/>
<text x="264.85" y="674.6" font-size="3.8" text-anchor="middle" fill="#4d4d4d">P24</text>
<rect x="270.06" y="547.20" width="8.20" height="104.92" fill="#C3B8B4"/>
<rect x="270.06" y="652.12" width="8.20" height="10.38" fill="#6AC537"/>
<text x="274.16" y="674.6" font-size="3.8" text-anchor="middle" fill="#4d4d4d">P25</text>
<rect x="279.37" y="547.20" width="8.20" height="3.46" fill="#C3B8B4"/>
<rect x="279.37" y="550.66" width="8.20" height="5.76" fill="#F98686"/>
<rect x="279.37" y="556.42" width="8.20" height="27.67" fill="#6AC537"/>
<rect x="279.37" y="584.10" width="8.20" height="78.40" fill="#1E9FDA"/>
<text x="283.47" y="674.6" font-size="3.8" text-anchor="middle" fill="#4d4d4d">P28</text>
<rect x="288.68" y="547.20" width="8.20" height="94.55" fill="#C3B8B4"/>
<rect x="288.68" y="641.75" width="8.20" height="9.22" fill="#F98686"/>
<rect x="288.68" y="650.97" width="8.20" height="11.53" fill="#6AC537"/>
<text x="292.78" y="674.6" font-size="3.8" text-anchor="middle" fill="#4d4d4d">P27</text>
<rect x="297.99" y="547.20" width="8.20" height="5.76" fill="#C3B8B4"/>
<rect x="297.99" y="552.97" width="8.20" height="2.31" fill="#F98686"/>
<rect x="297.99" y="555.27" width="8.20" height="105.85" fill="#6AC537"/>
<rect x="297.99" y="661.12" width="8.20" height="1.38" fill="#1E9FDA"/>
<text x="302.09" y="674.6" font-size="3.8" text-anchor="middle" fill="#4d4d4d">P26</text>
<rect x="307.30" y="547.20" width="8.20" height="41.51" fill="#C3B8B4"/>
<rect x="307.30" y="588.71" width="8.20" height="18.45" fill="#F98686"/>
<rect x="307.30" y="607.16" width="8.20" height="42.66" fill="#6AC537"/>
<rect x="307.30" y="649.82" width="8.20" height="12.68" fill="#1E9FDA"/>
<text x="311.4" y="674.6" font-size="3.8" text-anchor="middle" fill="#4d4d4d">P29</text>
<rect x="316.61" y="547.20" width="8.20" height="54.19" fill="#C3B8B4"/>
<rect x="316.61" y="601.39" width="8.20" height="6.92" fill="#F98686"/>
<rect x="316.61" y="608.31" width="8.20" height="44.97" fill="#6AC537"/>
<rect x="316.61" y="653.28" width="8.20" height="9.22" fill="#1E9FDA"/>
<text x="320.71" y="674.6" font-size="3.8" text-anchor="middle" fill="#4d4d4d">P2</text>
<rect x="325.92" y="547.20" width="8.20" height="108.38" fill="#C3B8B4"/>
<rect x="325.92" y="655.58" width="8.20" height="3.46" fill="#F98686"/>
<rect x="325.92" y="659.04" width="8.20" height="2.54" fill="#6AC537"/>
<rect x="325.92" y="661.58" width="8.20" height="0.92" fill="#1E9FDA"/>
<text x="330.02" y="674.6" font-size="3.8" text-anchor="middle" fill="#4d4d4d">P11</text>
<rect x="335.23" y="547.20" width="8.20" height="9.22" fill="#C3B8B4"/>
<rect x="335.23" y="556.42" width="8.20" height="1.15" fill="#F98686"/>
<rect x="335.23" y="557.58" width="8.20" height="86.48" fill="#6AC537"/>
<rect x="335.23" y="644.05" width="8.20" height="18.45" fill="#1E9FDA"/>
<text x="339.33" y="674.6" font-size="3.8" text-anchor="middle" fill="#4d4d4d">P33</text>
<rect x="344.54" y="547.20" width="8.20" height="10.38" fill="#C3B8B4"/>
<rect x="344.54" y="557.58" width="8.20" height="34.59" fill="#6AC537"/>
<rect x="344.54" y="592.17" width="8.20" height="70.33" fill="#1E9FDA"/>
<text x="348.64" y="674.6" font-size="3.8" text-anchor="middle" fill="#4d4d4d">P38</text>
<rect x="353.85" y="547.20" width="8.20" height="43.81" fill="#C3B8B4"/>
<rect x="353.85" y="591.01" width="8.20" height="48.43" fill="#F98686"/>
<rect x="353.85" y="639.44" width="8.20" height="17.29" fill="#6AC537"/>
<rect x="353.85" y="656.74" width="8.20" height="5.76" fill="#1E9FDA"/>
<text x="357.95" y="674.6" font-size="3.8" text-anchor="middle" fill="#4d4d4d">P4</text>
<rect x="363.16" y="547.20" width="8.20" height="32.28" fill="#C3B8B4"/>
<rect x="363.16" y="579.48" width="8.20" height="76.10" fill="#F98686"/>
<rect x="363.16" y="655.58" width="8.20" height="2.31" fill="#6AC537"/>
<rect x="363.16" y="657.89" width="8.20" height="4.61" fill="#1E9FDA"/>
<text x="367.26" y="674.6" font-size="3.8" text-anchor="middle" fill="#4d4d4d">P6</text>
<rect x="372.47" y="547.20" width="8.20" height="10.38" fill="#C3B8B4"/>
<rect x="372.47" y="557.58" width="8.20" height="84.17" fill="#6AC537"/>
<rect x="372.47" y="641.75" width="8.20" height="20.75" fill="#1E9FDA"/>
<text x="376.57" y="674.6" font-size="3.8" text-anchor="middle" fill="#4d4d4d">P7</text>
<rect x="381.78" y="547.20" width="8.20" height="8.07" fill="#C3B8B4"/>
<rect x="381.78" y="555.27" width="8.20" height="6.92" fill="#F98686"/>
<rect x="381.78" y="562.19" width="8.20" height="85.32" fill="#6AC537"/>
<rect x="381.78" y="647.51" width="8.20" height="14.99" fill="#1E9FDA"/>
<text x="385.88" y="674.6" font-size="3.8" text-anchor="middle" fill="#4d4d4d">P8</text>
<text x="210.3" y="549.0" font-size="5" text-anchor="end" fill="#4d4d4d">1.00</text>
<text x="210.3" y="577.8" font-size="5" text-anchor="end" fill="#4d4d4d">0.75</text>
<text x="210.3" y="606.7" font-size="5" text-anchor="end" fill="#4d4d4d">0.50</text>
<text x="210.3" y="635.5" font-size="5" text-anchor="end" fill="#4d4d4d">0.25</text>
<text x="210.3" y="664.3" font-size="5" text-anchor="end" fill="#4d4d4d">0.00</text>
<path d="M218.3 667.6v1.6M227.61 667.6v1.6M236.92 667.6v1.6M246.23 667.6v1.6M255.54 667.6v1.6M264.85 667.6v1.6M274.16 667.6v1.6M283.47 667.6v1.6M292.78 667.6v1.6M302.09 667.6v1.6M311.4 667.6v1.6M320.71 667.6v1.6M330.02 667.6v1.6M339.33 667.6v1.6M348.64 667.6v1.6M357.95 667.6v1.6M367.26 667.6v1.6M376.57 667.6v1.6M385.88 667.6v1.6M211.4 547.2h1.6M211.4 576.0h1.6M211.4 604.9h1.6M211.4 633.7h1.6M211.4 662.5h1.6" stroke="#555" stroke-width="0.5" fill="none"/>
<text font-size="8.2" text-anchor="middle" transform="translate(197.6 606.7) rotate(-90)">Proportion</text>
<text x="298" y="683.3" font-size="6.6" text-anchor="middle">Patient</text>
<text x="236" y="697" font-size="6.4">Cell state</text>
<rect x="265.40" y="688.00" width="12.60" height="12.20" fill="#C5BAB5"/>
<text x="279.2" y="696.3" font-size="4.8" fill="#222">CS1</text>
<rect x="289.20" y="688.00" width="12.60" height="12.20" fill="#FF5858"/>
<text x="303.2" y="696.3" font-size="4.8" fill="#222">CS2</text>
<rect x="313.30" y="688.00" width="12.60" height="12.20" fill="#66CB33"/>
<text x="326.8" y="696.3" font-size="4.8" fill="#222">CS3</text>
<rect x="337.00" y="688.00" width="12.60" height="12.20" fill="#2D8BF2"/>
<text x="353.8" y="696.3" font-size="4.8" fill="#222">CS4</text>
<!-- Panel E -->
<text x="404.3" y="531.6" font-size="13" font-weight="bold" stroke="#000" stroke-width="0.3">E</text>
<rect x="419.60" y="533.20" width="8.10" height="6.50" fill="#41B3D8"/>
<rect x="419.60" y="541.20" width="8.10" height="6.50" fill="#E5462C"/>
<text x="429.6" y="538.4" font-size="5.3" fill="#222" word-spacing="1.6">TNFA SIGNALING VIA NFKB</text>
<text x="429.6" y="546.3" font-size="5.3" fill="#222" word-spacing="1.6">INTERFERON GAMMA RESPONSE</text>
<rect x="424.90" y="550.00" width="46.10" height="81.00" fill="#fff"/>
<path d="M424.9 552.2h46.1M424.9 576.1h46.1M424.9 600.0h46.1M424.9 623.9h46.1M432.3 550v81M442.9 550v81M453.55 550v81M464.15 550v81" stroke="#e4e4e4" stroke-width="0.5" fill="none"/>
<rect x="427.70" y="600.00" width="9.20" height="27.72" fill="#E5462C"/>
<rect x="438.30" y="600.00" width="9.20" height="7.65" fill="#E5462C"/>
<rect x="448.95" y="573.71" width="9.20" height="26.29" fill="#E5462C"/>
<rect x="459.55" y="554.11" width="9.20" height="45.89" fill="#E5462C"/>
<rect x="424.90" y="550.00" width="46.10" height="81.00" fill="none" stroke="#555" stroke-width="0.6"/>
<path d="M432.3 631v1.8M442.9 631v1.8M453.55 631v1.8M464.15 631v1.8" stroke="#555" stroke-width="0.5" fill="none"/>
<text font-size="5.2" text-anchor="end" fill="#3b4856" transform="translate(433.1 636.8) rotate(-57.5)">Monocytes/macrophages</text>
<text font-size="5.2" text-anchor="end" fill="#3b4856" transform="translate(443.7 636.8) rotate(-57.5)">Exhausted CD8 T cells</text>
<text font-size="5.2" text-anchor="end" fill="#3b4856" transform="translate(454.4 636.8) rotate(-57.5)">B  cells</text>
<text font-size="5.2" text-anchor="end" fill="#3b4856" transform="translate(464.9 636.8) rotate(-57.5)">Memory   T   cells</text>
<rect x="474.30" y="550.00" width="46.50" height="81.00" fill="#fff"/>
<path d="M474.3 552.2h46.5M474.3 576.1h46.5M474.3 600.0h46.5M474.3 623.9h46.5M481.25 550v81M491.85 550v81M502.0 550v81M512.6 550v81" stroke="#e4e4e4" stroke-width="0.5" fill="none"/>
<rect x="476.65" y="600.00" width="9.20" height="27.72" fill="#41B3D8"/>
<rect x="487.25" y="600.00" width="9.20" height="0.24" fill="#41B3D8"/>
<rect x="497.40" y="577.77" width="9.20" height="22.23" fill="#41B3D8"/>
<rect x="508.00" y="572.04" width="9.20" height="27.96" fill="#41B3D8"/>
<rect x="474.30" y="550.00" width="46.50" height="81.00" fill="none" stroke="#555" stroke-width="0.6"/>
<path d="M481.25 631v1.8M491.85 631v1.8M502.0 631v1.8M512.6 631v1.8" stroke="#555" stroke-width="0.5" fill="none"/>
<text font-size="5.2" text-anchor="end" fill="#3b4856" transform="translate(482.1 636.8) rotate(-57.5)">Monocytes/macrophages</text>
<text font-size="5.2" text-anchor="end" fill="#3b4856" transform="translate(492.7 636.8) rotate(-57.5)">Exhausted CD8 T cells</text>
<text font-size="5.2" text-anchor="end" fill="#3b4856" transform="translate(502.8 636.8) rotate(-57.5)">B  cells</text>
<text font-size="5.2" text-anchor="end" fill="#3b4856" transform="translate(513.4 636.8) rotate(-57.5)">Memory   T   cells</text>
<text x="422.3" y="554.3" font-size="6" text-anchor="end" fill="#3b4856">2</text>
<text x="422.3" y="578.2" font-size="6" text-anchor="end" fill="#3b4856">1</text>
<text x="422.3" y="602.1" font-size="6" text-anchor="end" fill="#3b4856">0</text>
<text x="422.3" y="626.0" font-size="6" text-anchor="end" fill="#3b4856">−1</text>
<path d="M423.1 552.2h1.8M423.1 576.1h1.8M423.1 600.0h1.8M423.1 623.9h1.8" stroke="#555" stroke-width="0.5" fill="none"/>
<text font-size="7.5" text-anchor="middle" transform="translate(417 590.4) rotate(-90)">NES</text>
<text x="472" y="695" font-size="6.5" text-anchor="middle" font-weight="bold" fill="#2d3640">Cell phenotype</text>
</svg>
</body></html>
